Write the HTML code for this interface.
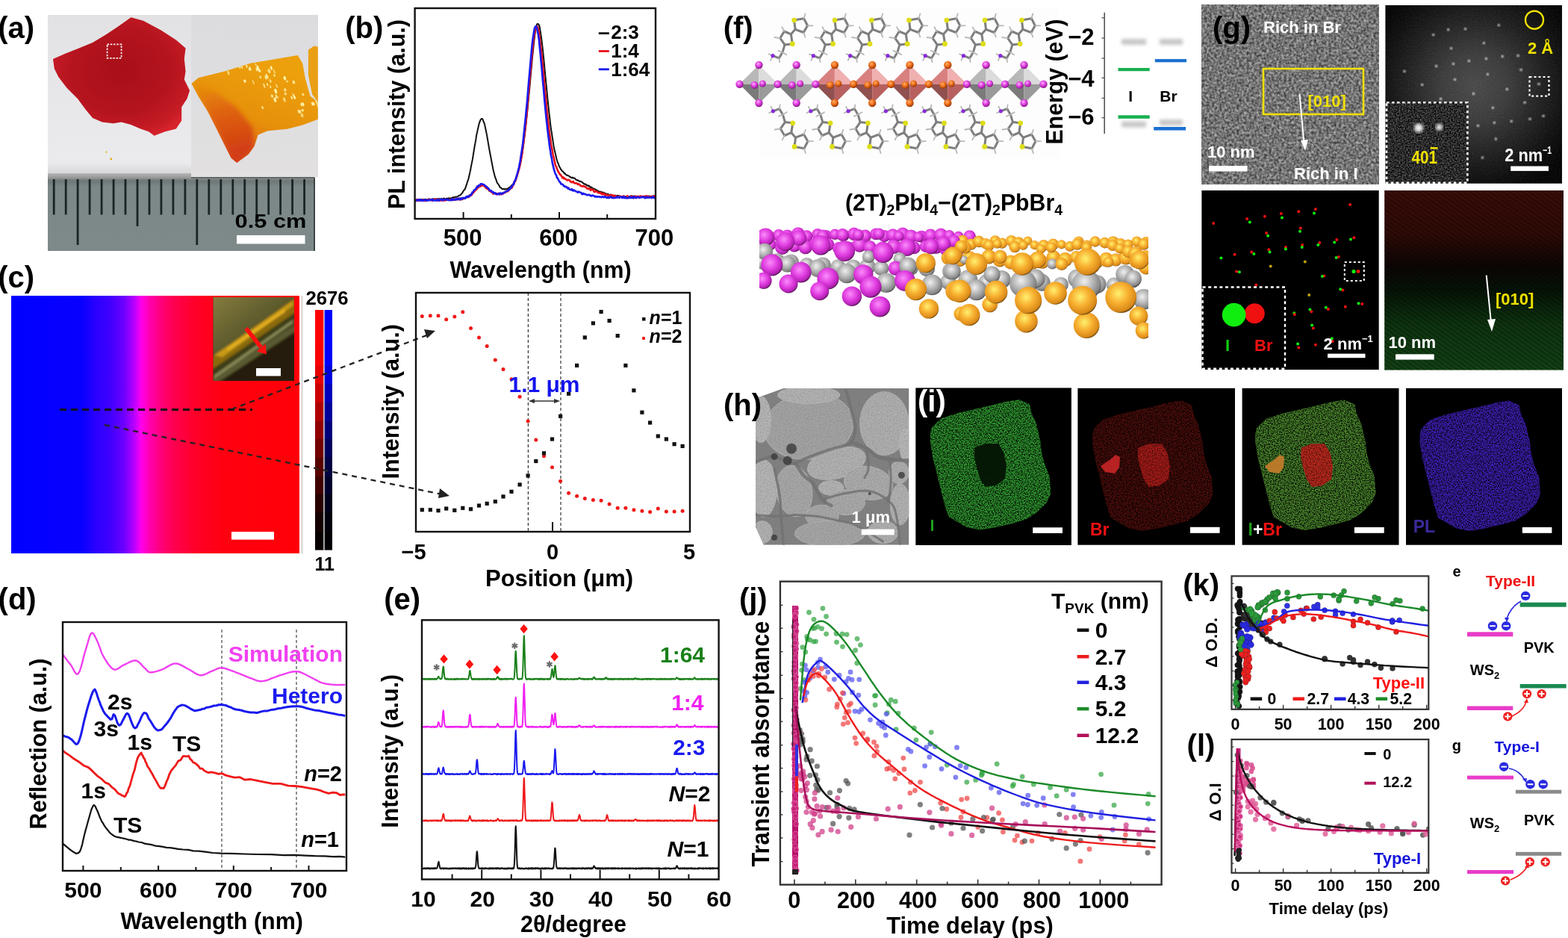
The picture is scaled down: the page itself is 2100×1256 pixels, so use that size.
<!DOCTYPE html>
<html><head><meta charset="utf-8"><title>Figure</title>
<style>html,body{margin:0;padding:0;background:#fff;}body{width:2100px;height:1256px;overflow:hidden;}
svg{display:block;} text{font-family:"Liberation Sans", Arial, sans-serif;font-weight:bold;}</style></head>
<body><svg width="2100" height="1256" viewBox="0 0 2100 1256">
<rect width="2100" height="1256" fill="#fff"/>
<text x="-2.8" y="51.4" font-size="40">(a)</text>
<defs><linearGradient id="paperL" x1="0" y1="0" x2="0" y2="1"><stop offset="0" stop-color="#e2e2e4"/><stop offset="0.6" stop-color="#e8e8ea"/><stop offset="0.93" stop-color="#ebebed"/><stop offset="1" stop-color="#d8d8da"/></linearGradient><linearGradient id="paperR" x1="0" y1="0" x2="0" y2="1"><stop offset="0" stop-color="#dcdcde"/><stop offset="0.5" stop-color="#dedee0"/><stop offset="1" stop-color="#e2e0e0"/></linearGradient><linearGradient id="orng" x1="0.6" y1="0.1" x2="0.25" y2="0.95"><stop offset="0" stop-color="#eca00c"/><stop offset="0.55" stop-color="#e6900a"/><stop offset="0.8" stop-color="#e07014"/><stop offset="1" stop-color="#d8401a"/></linearGradient><linearGradient id="orred" x1="0" y1="0" x2="0.3" y2="1"><stop offset="0" stop-color="#e06010" stop-opacity="0"/><stop offset="0.45" stop-color="#dc5212" stop-opacity="0.7"/><stop offset="1" stop-color="#d03c14" stop-opacity="0.95"/></linearGradient><radialGradient id="redg" cx="0.5" cy="0.45" r="0.6"><stop offset="0" stop-color="#a80f18"/><stop offset="0.6" stop-color="#b4141e"/><stop offset="0.9" stop-color="#c81c26"/><stop offset="1" stop-color="#d8242c"/></radialGradient><linearGradient id="rul" x1="0" y1="0" x2="0" y2="1"><stop offset="0" stop-color="#c8c6c6"/><stop offset="0.08" stop-color="#9a9a9a"/><stop offset="0.12" stop-color="#6e7676"/><stop offset="0.2" stop-color="#7c8888"/><stop offset="1" stop-color="#7e8a8a"/></linearGradient></defs>
<rect x="64.0" y="229.0" width="358.0" height="107.0" fill="url(#rul)"/>
<rect x="64.0" y="20.0" width="192.0" height="212.0" fill="url(#paperL)"/>
<rect x="256.0" y="20.0" width="170.0" height="217.5" fill="url(#paperR)"/>
<line x1="256.0" y1="237.8" x2="421.0" y2="237.8" stroke="#3a4444" stroke-width="1.2"/>
<polygon points="71.0,79.1 87.5,71.8 105.8,64.5 124.1,57.1 142.4,46.1 158.9,35.1 175.4,23.2 191.9,27.8 215.7,40.6 235.8,53.5 248.6,64.5 246.8,79.1 248.6,95.6 246.8,106.6 254.1,121.2 250.5,132.2 243.2,143.2 243.2,161.5 235.8,172.5 221.2,176.2 206.5,181.7 199.2,176.2 188.2,172.5 175.4,167.0 162.6,163.4 151.6,165.2 136.9,163.4 124.1,157.9 114.9,146.9 104.0,132.2 89.3,117.6 78.3,102.9 72.8,91.9" fill="url(#redg)"/>
<circle cx="142.4" cy="203.6" r="1.2" fill="#e0c020"/>
<circle cx="148.8" cy="212.8" r="1.5" fill="#e0b010"/>
<polygon points="256.5,112.0 265.5,104.2 301.7,95.2 335.3,84.8 366.4,79.6 398.7,74.0 405.2,84.8 409.0,105.5 415.5,128.8 425.8,136.5 425.8,159.8 405.2,167.6 384.5,172.7 358.6,175.3 345.7,180.5 340.5,196.0 332.8,206.4 317.2,218.0 309.5,211.5 301.7,196.0 291.4,175.3 278.4,149.5 265.5,128.8" fill="url(#orng)"/>
<polygon points="412.9,66.7 420.7,61.5 425.8,62.8 425.8,136.5 418.1,126.2 412.9,100.3" fill="#eaa014"/>
<clipPath id="corf"><polygon points="256.5,112.0 265.5,104.2 301.7,95.2 335.3,84.8 366.4,79.6 398.7,74.0 405.2,84.8 409.0,105.5 415.5,128.8 425.8,136.5 425.8,159.8 405.2,167.6 384.5,172.7 358.6,175.3 345.7,180.5 340.5,196.0 332.8,206.4 317.2,218.0 309.5,211.5 301.7,196.0 291.4,175.3 278.4,149.5 265.5,128.8"/></clipPath>
<filter id="bl3"><feGaussianBlur stdDeviation="3"/></filter>
<g clip-path="url(#corf)">
<polygon points="256.5,112.0 265.5,128.8 278.4,149.5 291.4,175.3 301.7,196.0 309.5,211.5 317.2,218.0 332.8,206.4 340.5,196.0 337.9,170.2 317.2,144.3 288.8,123.6 265.5,110.7" fill="url(#orred)" filter="url(#bl3)"/>
<ellipse cx="381.4" cy="104.7" rx="1.7" ry="2.9" fill="#fff6b0" opacity="0.92" transform="rotate(-20 381.4 104.7)"/>
<ellipse cx="305.9" cy="97.6" rx="1.4" ry="3.2" fill="#fff6b0" opacity="0.64" transform="rotate(-20 305.9 97.6)"/>
<ellipse cx="369.1" cy="131.3" rx="1.4" ry="1.6" fill="#fff6b0" opacity="0.68" transform="rotate(-20 369.1 131.3)"/>
<ellipse cx="367.4" cy="95.9" rx="1.0" ry="3.0" fill="#fff6b0" opacity="0.65" transform="rotate(-20 367.4 95.9)"/>
<ellipse cx="382.3" cy="125.6" rx="1.7" ry="2.0" fill="#fff6b0" opacity="0.68" transform="rotate(-20 382.3 125.6)"/>
<ellipse cx="419.9" cy="139.0" rx="1.8" ry="2.6" fill="#fff6b0" opacity="0.84" transform="rotate(-20 419.9 139.0)"/>
<ellipse cx="360.4" cy="95.2" rx="1.8" ry="3.2" fill="#fff6b0" opacity="0.70" transform="rotate(-20 360.4 95.2)"/>
<ellipse cx="362.3" cy="116.2" rx="0.9" ry="2.1" fill="#fff6b0" opacity="0.81" transform="rotate(-20 362.3 116.2)"/>
<ellipse cx="323.8" cy="80.7" rx="1.1" ry="3.1" fill="#fff6b0" opacity="0.77" transform="rotate(-20 323.8 80.7)"/>
<ellipse cx="339.3" cy="110.1" rx="0.9" ry="3.4" fill="#fff6b0" opacity="0.61" transform="rotate(-20 339.3 110.1)"/>
<ellipse cx="394.6" cy="130.8" rx="1.6" ry="2.3" fill="#fff6b0" opacity="0.80" transform="rotate(-20 394.6 130.8)"/>
<ellipse cx="334.6" cy="92.6" rx="1.8" ry="2.0" fill="#fff6b0" opacity="0.86" transform="rotate(-20 334.6 92.6)"/>
<ellipse cx="418.2" cy="139.1" rx="1.2" ry="2.5" fill="#fff6b0" opacity="0.87" transform="rotate(-20 418.2 139.1)"/>
<ellipse cx="336.9" cy="75.4" rx="1.7" ry="1.7" fill="#fff6b0" opacity="0.93" transform="rotate(-20 336.9 75.4)"/>
<ellipse cx="327.9" cy="108.6" rx="1.7" ry="2.2" fill="#fff6b0" opacity="0.92" transform="rotate(-20 327.9 108.6)"/>
<ellipse cx="372.1" cy="130.4" rx="1.0" ry="1.7" fill="#fff6b0" opacity="0.65" transform="rotate(-20 372.1 130.4)"/>
<ellipse cx="394.3" cy="129.1" rx="0.8" ry="3.4" fill="#fff6b0" opacity="0.79" transform="rotate(-20 394.3 129.1)"/>
<ellipse cx="364.4" cy="128.7" rx="1.6" ry="2.4" fill="#fff6b0" opacity="0.75" transform="rotate(-20 364.4 128.7)"/>
<ellipse cx="334.8" cy="91.7" rx="1.3" ry="3.1" fill="#fff6b0" opacity="0.65" transform="rotate(-20 334.8 91.7)"/>
<ellipse cx="405.8" cy="126.5" rx="1.6" ry="1.8" fill="#fff6b0" opacity="0.75" transform="rotate(-20 405.8 126.5)"/>
<ellipse cx="345.5" cy="90.4" rx="1.3" ry="3.4" fill="#fff6b0" opacity="0.90" transform="rotate(-20 345.5 90.4)"/>
<ellipse cx="401.9" cy="149.4" rx="1.5" ry="2.5" fill="#fff6b0" opacity="0.70" transform="rotate(-20 401.9 149.4)"/>
<ellipse cx="369.2" cy="122.0" rx="1.8" ry="3.3" fill="#fff6b0" opacity="0.82" transform="rotate(-20 369.2 122.0)"/>
<ellipse cx="369.1" cy="122.7" rx="1.1" ry="3.0" fill="#fff6b0" opacity="0.90" transform="rotate(-20 369.1 122.7)"/>
<ellipse cx="363.4" cy="91.0" rx="1.5" ry="2.8" fill="#fff6b0" opacity="0.87" transform="rotate(-20 363.4 91.0)"/>
<ellipse cx="357.2" cy="101.6" rx="1.3" ry="3.0" fill="#fff6b0" opacity="0.84" transform="rotate(-20 357.2 101.6)"/>
<ellipse cx="367.5" cy="101.1" rx="1.4" ry="1.6" fill="#fff6b0" opacity="0.79" transform="rotate(-20 367.5 101.1)"/>
<ellipse cx="344.2" cy="92.8" rx="1.6" ry="2.8" fill="#fff6b0" opacity="0.88" transform="rotate(-20 344.2 92.8)"/>
<ellipse cx="347.7" cy="94.8" rx="1.6" ry="2.2" fill="#fff6b0" opacity="0.90" transform="rotate(-20 347.7 94.8)"/>
<ellipse cx="393.4" cy="110.0" rx="1.8" ry="2.5" fill="#fff6b0" opacity="0.79" transform="rotate(-20 393.4 110.0)"/>
<ellipse cx="354.8" cy="76.0" rx="1.3" ry="2.8" fill="#fff6b0" opacity="0.85" transform="rotate(-20 354.8 76.0)"/>
<ellipse cx="400.3" cy="149.4" rx="1.4" ry="2.8" fill="#fff6b0" opacity="0.75" transform="rotate(-20 400.3 149.4)"/>
<ellipse cx="384.7" cy="109.1" rx="1.5" ry="1.6" fill="#fff6b0" opacity="0.66" transform="rotate(-20 384.7 109.1)"/>
<ellipse cx="362.1" cy="108.5" rx="1.5" ry="2.7" fill="#fff6b0" opacity="0.61" transform="rotate(-20 362.1 108.5)"/>
<ellipse cx="369.6" cy="120.7" rx="0.9" ry="2.2" fill="#fff6b0" opacity="0.66" transform="rotate(-20 369.6 120.7)"/>
<ellipse cx="355.9" cy="103.9" rx="1.2" ry="2.7" fill="#fff6b0" opacity="0.81" transform="rotate(-20 355.9 103.9)"/>
<ellipse cx="348.8" cy="103.3" rx="1.2" ry="2.1" fill="#fff6b0" opacity="0.74" transform="rotate(-20 348.8 103.3)"/>
<ellipse cx="342.6" cy="86.7" rx="0.8" ry="2.7" fill="#fff6b0" opacity="0.63" transform="rotate(-20 342.6 86.7)"/>
<ellipse cx="368.3" cy="134.0" rx="1.8" ry="3.1" fill="#fff6b0" opacity="0.75" transform="rotate(-20 368.3 134.0)"/>
<ellipse cx="392.8" cy="127.5" rx="0.9" ry="2.7" fill="#fff6b0" opacity="0.80" transform="rotate(-20 392.8 127.5)"/>
<ellipse cx="425.6" cy="141.3" rx="1.2" ry="3.2" fill="#fff6b0" opacity="0.60" transform="rotate(-20 425.6 141.3)"/>
<ellipse cx="324.0" cy="89.7" rx="0.9" ry="2.7" fill="#fff6b0" opacity="0.91" transform="rotate(-20 324.0 89.7)"/>
<ellipse cx="353.9" cy="114.8" rx="1.1" ry="3.4" fill="#fff6b0" opacity="0.73" transform="rotate(-20 353.9 114.8)"/>
<ellipse cx="424.0" cy="136.6" rx="1.1" ry="3.4" fill="#fff6b0" opacity="0.77" transform="rotate(-20 424.0 136.6)"/>
<ellipse cx="351.6" cy="144.1" rx="1.3" ry="2.1" fill="#fff6b0" opacity="0.77" transform="rotate(-20 351.6 144.1)"/>
<ellipse cx="330.2" cy="88.2" rx="1.1" ry="3.0" fill="#fff6b0" opacity="0.89" transform="rotate(-20 330.2 88.2)"/>
<ellipse cx="320.6" cy="88.9" rx="1.7" ry="3.0" fill="#fff6b0" opacity="0.69" transform="rotate(-20 320.6 88.9)"/>
<ellipse cx="368.6" cy="134.0" rx="1.1" ry="2.7" fill="#fff6b0" opacity="0.77" transform="rotate(-20 368.6 134.0)"/>
<ellipse cx="370.7" cy="115.0" rx="0.9" ry="3.0" fill="#fff6b0" opacity="0.71" transform="rotate(-20 370.7 115.0)"/>
<ellipse cx="370.0" cy="128.7" rx="1.3" ry="2.4" fill="#fff6b0" opacity="0.73" transform="rotate(-20 370.0 128.7)"/>
<ellipse cx="390.7" cy="130.7" rx="1.1" ry="2.4" fill="#fff6b0" opacity="0.92" transform="rotate(-20 390.7 130.7)"/>
<ellipse cx="404.0" cy="139.9" rx="1.6" ry="2.4" fill="#fff6b0" opacity="0.80" transform="rotate(-20 404.0 139.9)"/>
<ellipse cx="381.8" cy="120.4" rx="1.7" ry="2.3" fill="#fff6b0" opacity="0.74" transform="rotate(-20 381.8 120.4)"/>
<ellipse cx="405.3" cy="147.7" rx="1.6" ry="1.7" fill="#fff6b0" opacity="0.89" transform="rotate(-20 405.3 147.7)"/>
<ellipse cx="380.9" cy="133.4" rx="1.6" ry="3.2" fill="#fff6b0" opacity="0.65" transform="rotate(-20 380.9 133.4)"/>
<ellipse cx="358.1" cy="113.1" rx="1.1" ry="1.9" fill="#fff6b0" opacity="0.81" transform="rotate(-20 358.1 113.1)"/>
<ellipse cx="405.8" cy="139.7" rx="1.6" ry="3.0" fill="#fff6b0" opacity="0.83" transform="rotate(-20 405.8 139.7)"/>
<ellipse cx="324.9" cy="59.6" rx="1.8" ry="2.9" fill="#fff6b0" opacity="0.62" transform="rotate(-20 324.9 59.6)"/>
<ellipse cx="404.5" cy="154.4" rx="1.8" ry="2.9" fill="#fff6b0" opacity="0.65" transform="rotate(-20 404.5 154.4)"/>
<ellipse cx="358.4" cy="103.4" rx="1.4" ry="2.3" fill="#fff6b0" opacity="0.66" transform="rotate(-20 358.4 103.4)"/>
</g>
<rect x="143.6" y="59.3" width="19" height="18.5" fill="none" stroke="#f4e8e8" stroke-width="1.8" stroke-dasharray="2.6,1.6"/>
<line x1="421.0" y1="238.0" x2="421.0" y2="336.0" stroke="#2a3030" stroke-width="1.5"/>
<line x1="72.2" y1="240.0" x2="72.2" y2="287.5" stroke="#1a2424" stroke-width="2.8"/>
<line x1="88.2" y1="240.0" x2="88.2" y2="287.5" stroke="#1a2424" stroke-width="2.8"/>
<line x1="104.1" y1="240.0" x2="104.1" y2="328.0" stroke="#1a2424" stroke-width="2.8"/>
<line x1="120.1" y1="240.0" x2="120.1" y2="287.5" stroke="#1a2424" stroke-width="2.8"/>
<line x1="136.1" y1="240.0" x2="136.1" y2="287.5" stroke="#1a2424" stroke-width="2.8"/>
<line x1="152.1" y1="240.0" x2="152.1" y2="287.5" stroke="#1a2424" stroke-width="2.8"/>
<line x1="168.0" y1="240.0" x2="168.0" y2="287.5" stroke="#1a2424" stroke-width="2.8"/>
<line x1="184.0" y1="240.0" x2="184.0" y2="303.0" stroke="#1a2424" stroke-width="2.8"/>
<line x1="200.0" y1="240.0" x2="200.0" y2="287.5" stroke="#1a2424" stroke-width="2.8"/>
<line x1="215.9" y1="240.0" x2="215.9" y2="287.5" stroke="#1a2424" stroke-width="2.8"/>
<line x1="231.9" y1="240.0" x2="231.9" y2="287.5" stroke="#1a2424" stroke-width="2.8"/>
<line x1="247.9" y1="240.0" x2="247.9" y2="287.5" stroke="#1a2424" stroke-width="2.8"/>
<line x1="263.8" y1="240.0" x2="263.8" y2="328.0" stroke="#1a2424" stroke-width="2.8"/>
<line x1="279.8" y1="240.0" x2="279.8" y2="287.5" stroke="#1a2424" stroke-width="2.8"/>
<line x1="295.8" y1="240.0" x2="295.8" y2="287.5" stroke="#1a2424" stroke-width="2.8"/>
<line x1="311.8" y1="240.0" x2="311.8" y2="287.5" stroke="#1a2424" stroke-width="2.8"/>
<line x1="327.7" y1="240.0" x2="327.7" y2="287.5" stroke="#1a2424" stroke-width="2.8"/>
<line x1="343.7" y1="240.0" x2="343.7" y2="303.0" stroke="#1a2424" stroke-width="2.8"/>
<line x1="359.7" y1="240.0" x2="359.7" y2="287.5" stroke="#1a2424" stroke-width="2.8"/>
<line x1="375.6" y1="240.0" x2="375.6" y2="287.5" stroke="#1a2424" stroke-width="2.8"/>
<line x1="391.6" y1="240.0" x2="391.6" y2="287.5" stroke="#1a2424" stroke-width="2.8"/>
<line x1="407.6" y1="240.0" x2="407.6" y2="287.5" stroke="#1a2424" stroke-width="2.8"/>
<text x="314.5" y="305.3" font-size="26" textLength="96" lengthAdjust="spacingAndGlyphs">0.5 cm</text>
<rect x="317.0" y="315.0" width="91.5" height="11.5" fill="#fff"/>
<text x="462.2" y="51.4" font-size="40">(b)</text>
<clipPath id="cb"><rect x="555.6" y="11" width="322.4" height="282"/></clipPath>
<g clip-path="url(#cb)">
<polyline points="556.4,267.1 557.3,268.1 558.2,268.0 559.1,267.2 560.0,267.6 560.9,267.5 561.8,267.7 562.7,267.9 563.6,266.9 564.5,266.8 565.4,267.9 566.3,267.3 567.2,267.8 568.1,266.7 569.0,267.3 569.9,267.6 570.8,266.9 571.7,267.9 572.6,267.8 573.5,266.5 574.4,266.5 575.3,267.2 576.2,267.7 577.1,266.9 578.0,266.6 578.9,266.9 579.8,266.3 580.7,266.5 581.6,266.8 582.5,266.8 583.4,266.4 584.3,266.4 585.2,266.3 586.1,266.6 587.0,266.3 587.9,265.9 588.8,267.0 589.7,266.5 590.6,266.6 591.5,265.9 592.4,266.9 593.3,266.7 594.1,265.6 595.0,265.8 595.9,266.3 596.8,266.2 597.7,266.4 598.6,265.6 599.5,266.1 600.4,265.8 601.3,265.2 602.2,265.5 603.1,265.8 604.0,265.6 604.9,265.0 605.8,265.0 606.7,264.0 607.6,264.2 608.5,264.8 609.4,264.0 610.3,263.4 611.2,263.7 612.1,263.6 613.0,263.2 613.9,262.4 614.8,262.0 615.7,261.5 616.6,261.3 617.5,260.2 618.4,259.1 619.3,258.2 620.2,256.4 621.1,255.0 622.0,254.3 622.9,252.9 623.8,250.3 624.7,247.6 625.6,244.7 626.5,242.2 627.4,239.6 628.3,235.8 629.2,231.6 630.1,227.8 631.0,222.4 631.9,218.1 632.8,213.7 633.7,208.0 634.6,202.5 635.5,196.8 636.4,191.9 637.3,187.1 638.2,180.7 639.1,176.9 640.0,172.6 640.9,168.7 641.8,165.1 642.7,162.6 643.6,160.3 644.5,159.3 645.4,159.0 646.3,159.2 647.2,161.9 648.1,163.8 649.0,166.4 649.9,170.5 650.8,174.7 651.7,179.1 652.6,184.0 653.5,189.3 654.4,194.6 655.3,199.8 656.2,204.7 657.1,209.1 658.0,214.2 658.9,218.7 659.8,223.6 660.7,228.0 661.6,231.6 662.5,235.0 663.4,238.1 664.3,240.0 665.2,243.2 666.1,245.1 667.0,246.1 667.9,247.6 668.8,248.9 669.6,251.0 670.5,251.2 671.4,251.7 672.3,253.0 673.2,253.0 674.1,252.9 675.0,253.1 675.9,253.7 676.8,253.1 677.7,253.1 678.6,253.5 679.5,252.8 680.4,252.2 681.3,251.9 682.2,250.7 683.1,250.5 684.0,249.8 684.9,248.6 685.8,247.5 686.7,247.4 687.6,245.6 688.5,243.7 689.4,242.6 690.3,241.0 691.2,237.8 692.1,235.5 693.0,233.1 693.9,230.9 694.8,226.9 695.7,224.1 696.6,220.0 697.5,215.5 698.4,210.2 699.3,206.0 700.2,200.0 701.1,193.4 702.0,186.3 702.9,179.7 703.8,171.8 704.7,163.9 705.6,155.1 706.5,146.6 707.4,136.6 708.3,127.4 709.2,118.6 710.1,108.6 711.0,97.9 711.9,88.9 712.8,78.5 713.7,70.2 714.6,61.4 715.5,53.1 716.4,45.9 717.3,39.8 718.2,36.6 719.1,32.4 720.0,32.0 720.9,32.2 721.8,33.3 722.7,35.9 723.6,41.3 724.5,47.2 725.4,53.6 726.3,61.0 727.2,69.2 728.1,77.9 729.0,86.9 729.9,96.9 730.8,105.9 731.7,114.9 732.6,123.9 733.5,133.6 734.4,141.6 735.3,150.1 736.2,157.7 737.1,165.8 738.0,172.8 738.9,178.0 739.8,184.2 740.7,189.9 741.6,195.9 742.5,200.3 743.4,203.9 744.2,207.5 745.1,211.5 746.0,214.8 746.9,217.7 747.8,219.3 748.7,222.2 749.6,223.9 750.5,225.3 751.4,227.4 752.3,227.7 753.2,229.6 754.1,229.7 755.0,230.7 755.9,232.6 756.8,232.3 757.7,233.7 758.6,234.1 759.5,235.0 760.4,234.8 761.3,235.3 762.2,235.7 763.1,236.9 764.0,236.9 764.9,237.8 765.8,238.2 766.7,237.5 767.6,238.5 768.5,238.3 769.4,238.6 770.3,239.1 771.2,240.6 772.1,240.9 773.0,241.4 773.9,241.2 774.8,242.0 775.7,242.7 776.6,242.6 777.5,243.3 778.4,243.3 779.3,243.6 780.2,244.3 781.1,245.7 782.0,245.7 782.9,246.7 783.8,246.6 784.7,246.8 785.6,248.1 786.5,248.6 787.4,248.0 788.3,249.4 789.2,249.1 790.1,249.6 791.0,251.2 791.9,250.5 792.8,251.3 793.7,252.8 794.6,252.4 795.5,252.5 796.4,253.0 797.3,253.6 798.2,254.7 799.1,254.2 800.0,255.8 800.9,255.4 801.8,256.6 802.7,256.9 803.6,256.4 804.5,256.7 805.4,257.4 806.3,257.2 807.2,258.3 808.1,257.7 809.0,258.0 809.9,259.6 810.8,258.9 811.7,259.6 812.6,259.7 813.5,259.7 814.4,259.6 815.3,261.0 816.2,261.3 817.1,261.5 818.0,260.4 818.8,260.8 819.7,261.5 820.6,262.1 821.5,261.7 822.4,262.0 823.3,262.1 824.2,261.7 825.1,262.2 826.0,261.9 826.9,262.0 827.8,261.8 828.7,262.2 829.6,263.2 830.5,262.6 831.4,262.9 832.3,263.0 833.2,263.4 834.1,262.7 835.0,262.6 835.9,262.7 836.8,262.7 837.7,263.5 838.6,263.6 839.5,262.8 840.4,262.9 841.3,263.2 842.2,263.3 843.1,263.3 844.0,262.8 844.9,262.5 845.8,262.8 846.7,262.6 847.6,263.3 848.5,262.6 849.4,262.6 850.3,263.4 851.2,262.9 852.1,263.6 853.0,263.2 853.9,263.7 854.8,262.8 855.7,263.2 856.6,263.6 857.5,262.6 858.4,263.8 859.3,262.8 860.2,263.6 861.1,263.9 862.0,263.6 862.9,262.9 863.8,262.6 864.7,263.2 865.6,263.7 866.5,262.9 867.4,263.7 868.3,262.6 869.2,263.7 870.1,262.4 871.0,262.8 871.9,263.6 872.8,263.5 873.7,263.6 874.6,263.5 875.5,263.4 876.4,263.3 877.3,262.5" fill="none" stroke="#111" stroke-width="2.0" stroke-linejoin="round"/>
<polyline points="556.4,269.1 557.3,269.1 558.2,267.1 559.1,267.2 560.0,268.8 560.9,268.6 561.8,268.4 562.7,267.6 563.6,268.3 564.5,268.3 565.4,268.2 566.3,267.3 567.2,267.8 568.1,267.8 569.0,268.5 569.9,269.0 570.8,268.9 571.7,268.0 572.6,267.8 573.5,267.4 574.4,266.9 575.3,266.8 576.2,267.8 577.1,267.4 578.0,267.6 578.9,268.7 579.8,267.8 580.7,267.9 581.6,267.2 582.5,266.7 583.4,267.3 584.3,266.9 585.2,267.7 586.1,268.8 587.0,268.0 587.9,266.9 588.8,268.5 589.7,268.2 590.6,268.1 591.5,268.4 592.4,268.1 593.3,268.1 594.1,267.1 595.0,268.5 595.9,268.4 596.8,266.6 597.7,267.9 598.6,267.8 599.5,267.2 600.4,267.3 601.3,267.2 602.2,268.1 603.1,267.1 604.0,267.8 604.9,266.7 605.8,267.9 606.7,267.9 607.6,266.8 608.5,267.0 609.4,267.8 610.3,267.3 611.2,266.7 612.1,266.1 613.0,266.2 613.9,267.0 614.8,265.7 615.7,267.3 616.6,265.8 617.5,267.1 618.4,265.6 619.3,266.9 620.2,266.2 621.1,265.5 622.0,265.4 622.9,265.4 623.8,265.0 624.7,264.0 625.6,263.4 626.5,263.7 627.4,264.1 628.3,262.9 629.2,261.1 630.1,262.1 631.0,261.1 631.9,260.7 632.8,258.3 633.7,258.6 634.6,256.1 635.5,256.5 636.4,254.6 637.3,253.5 638.2,253.9 639.1,251.3 640.0,251.3 640.9,251.2 641.8,249.1 642.7,248.5 643.6,249.5 644.5,248.2 645.4,248.7 646.3,247.3 647.2,248.3 648.1,248.3 649.0,249.9 649.9,249.2 650.8,251.9 651.7,250.6 652.6,253.0 653.5,252.2 654.4,253.6 655.3,255.6 656.2,254.9 657.1,255.7 658.0,257.5 658.9,257.4 659.8,257.1 660.7,259.7 661.6,258.2 662.5,258.3 663.4,259.2 664.3,260.0 665.2,260.4 666.1,259.1 667.0,259.6 667.9,258.9 668.8,259.8 669.6,260.3 670.5,260.1 671.4,260.3 672.3,259.7 673.2,259.7 674.1,259.1 675.0,258.2 675.9,257.3 676.8,257.9 677.7,256.7 678.6,255.7 679.5,255.9 680.4,256.3 681.3,254.0 682.2,254.2 683.1,253.0 684.0,252.4 684.9,250.6 685.8,251.3 686.7,248.5 687.6,247.8 688.5,245.9 689.4,243.2 690.3,242.4 691.2,239.2 692.1,236.5 693.0,233.7 693.9,230.8 694.8,227.2 695.7,224.5 696.6,219.9 697.5,216.1 698.4,210.8 699.3,205.2 700.2,197.3 701.1,191.0 702.0,183.3 702.9,176.3 703.8,168.1 704.7,159.7 705.6,150.4 706.5,139.8 707.4,130.3 708.3,120.4 709.2,109.1 710.1,98.9 711.0,89.6 711.9,79.1 712.8,71.1 713.7,61.3 714.6,53.2 715.5,46.7 716.4,41.4 717.3,37.5 718.2,35.8 719.1,35.1 720.0,35.9 720.9,39.4 721.8,42.8 722.7,50.1 723.6,57.1 724.5,64.5 725.4,72.6 726.3,82.0 727.2,91.7 728.1,100.3 729.0,111.0 729.9,120.9 730.8,129.7 731.7,138.8 732.6,149.3 733.5,156.8 734.4,165.2 735.3,173.6 736.2,180.0 737.1,185.8 738.0,193.4 738.9,197.6 739.8,201.9 740.7,207.9 741.6,210.8 742.5,214.9 743.4,219.4 744.2,222.0 745.1,223.1 746.0,226.4 746.9,228.3 747.8,230.3 748.7,231.2 749.6,233.4 750.5,233.5 751.4,235.0 752.3,236.1 753.2,238.2 754.1,237.0 755.0,239.1 755.9,238.4 756.8,239.8 757.7,239.9 758.6,240.4 759.5,241.5 760.4,241.1 761.3,240.8 762.2,241.2 763.1,241.4 764.0,243.4 764.9,243.3 765.8,244.3 766.7,244.1 767.6,242.9 768.5,244.6 769.4,245.2 770.3,245.4 771.2,245.3 772.1,245.3 773.0,245.9 773.9,247.0 774.8,246.2 775.7,247.1 776.6,247.4 777.5,248.8 778.4,248.9 779.3,249.5 780.2,249.7 781.1,248.9 782.0,249.2 782.9,250.1 783.8,250.0 784.7,250.8 785.6,251.7 786.5,252.7 787.4,252.3 788.3,253.2 789.2,252.0 790.1,253.0 791.0,254.8 791.9,253.3 792.8,254.3 793.7,253.9 794.6,254.3 795.5,256.5 796.4,257.0 797.3,256.6 798.2,255.8 799.1,256.5 800.0,256.7 800.9,258.0 801.8,258.3 802.7,258.1 803.6,258.6 804.5,257.9 805.4,259.1 806.3,260.3 807.2,260.1 808.1,258.9 809.0,260.1 809.9,260.7 810.8,259.9 811.7,261.5 812.6,260.8 813.5,261.5 814.4,261.0 815.3,262.5 816.2,262.2 817.1,261.9 818.0,261.1 818.8,261.8 819.7,261.1 820.6,262.4 821.5,263.2 822.4,261.7 823.3,262.5 824.2,262.6 825.1,262.5 826.0,263.2 826.9,263.8 827.8,263.4 828.7,262.9 829.6,264.1 830.5,262.7 831.4,263.7 832.3,263.5 833.2,263.8 834.1,264.0 835.0,262.7 835.9,263.6 836.8,263.1 837.7,263.7 838.6,264.4 839.5,263.7 840.4,262.4 841.3,263.4 842.2,263.9 843.1,264.3 844.0,263.8 844.9,264.2 845.8,262.4 846.7,264.5 847.6,264.0 848.5,263.7 849.4,264.4 850.3,264.3 851.2,262.6 852.1,264.2 853.0,264.1 853.9,262.8 854.8,264.0 855.7,263.6 856.6,262.8 857.5,264.1 858.4,262.6 859.3,263.7 860.2,263.3 861.1,262.9 862.0,263.5 862.9,263.3 863.8,262.7 864.7,264.4 865.6,262.4 866.5,262.2 867.4,263.3 868.3,264.1 869.2,263.6 870.1,263.8 871.0,263.2 871.9,263.6 872.8,262.9 873.7,262.7 874.6,263.2 875.5,262.2 876.4,262.3 877.3,263.7" fill="none" stroke="#e8101a" stroke-width="2.6" stroke-linejoin="round"/>
<polyline points="556.4,267.6 557.3,268.2 558.2,267.9 559.1,268.3 560.0,268.4 560.9,267.2 561.8,267.1 562.7,268.7 563.6,267.6 564.5,267.5 565.4,269.0 566.3,268.0 567.2,268.7 568.1,267.9 569.0,268.3 569.9,267.3 570.8,268.2 571.7,268.7 572.6,268.0 573.5,268.4 574.4,268.2 575.3,267.0 576.2,268.4 577.1,268.0 578.0,267.4 578.9,266.9 579.8,268.5 580.7,267.7 581.6,268.2 582.5,268.5 583.4,268.1 584.3,268.5 585.2,267.5 586.1,268.3 587.0,267.5 587.9,268.5 588.8,268.4 589.7,266.8 590.6,266.8 591.5,267.0 592.4,268.4 593.3,267.3 594.1,267.7 595.0,267.0 595.9,267.4 596.8,267.1 597.7,267.0 598.6,267.5 599.5,267.4 600.4,268.0 601.3,267.6 602.2,268.0 603.1,267.8 604.0,268.1 604.9,267.4 605.8,266.3 606.7,267.7 607.6,267.8 608.5,267.7 609.4,266.9 610.3,267.2 611.2,266.1 612.1,267.3 613.0,266.7 613.9,266.1 614.8,265.5 615.7,267.0 616.6,267.2 617.5,265.3 618.4,266.6 619.3,265.6 620.2,264.9 621.1,265.0 622.0,265.7 622.9,265.6 623.8,263.7 624.7,264.5 625.6,262.9 626.5,263.8 627.4,262.5 628.3,263.0 629.2,262.5 630.1,260.8 631.0,261.0 631.9,258.7 632.8,257.3 633.7,257.3 634.6,255.1 635.5,254.4 636.4,253.7 637.3,253.0 638.2,250.9 639.1,249.6 640.0,250.3 640.9,248.3 641.8,248.7 642.7,248.0 643.6,246.4 644.5,246.3 645.4,246.3 646.3,246.7 647.2,246.9 648.1,247.2 649.0,248.0 649.9,249.3 650.8,249.3 651.7,250.0 652.6,251.5 653.5,251.5 654.4,252.5 655.3,254.8 656.2,254.7 657.1,255.6 658.0,255.3 658.9,256.8 659.8,257.7 660.7,257.1 661.6,258.7 662.5,259.1 663.4,258.3 664.3,259.7 665.2,259.5 666.1,260.0 667.0,259.4 667.9,260.1 668.8,260.1 669.6,258.6 670.5,258.5 671.4,259.5 672.3,259.9 673.2,258.2 674.1,258.3 675.0,258.2 675.9,257.3 676.8,257.0 677.7,256.4 678.6,256.0 679.5,255.9 680.4,254.7 681.3,254.1 682.2,254.1 683.1,251.8 684.0,251.9 684.9,251.2 685.8,249.1 686.7,247.6 687.6,247.2 688.5,244.3 689.4,242.3 690.3,240.6 691.2,238.6 692.1,234.6 693.0,231.9 693.9,228.4 694.8,225.5 695.7,220.4 696.6,216.4 697.5,209.7 698.4,204.2 699.3,198.5 700.2,192.1 701.1,183.8 702.0,175.3 702.9,166.6 703.8,158.5 704.7,148.4 705.6,139.8 706.5,129.7 707.4,118.0 708.3,107.6 709.2,98.2 710.1,87.5 711.0,77.9 711.9,67.5 712.8,58.5 713.7,51.2 714.6,45.8 715.5,39.8 716.4,36.7 717.3,35.3 718.2,35.6 719.1,37.6 720.0,42.5 720.9,46.3 721.8,52.7 722.7,62.5 723.6,71.2 724.5,80.8 725.4,89.7 726.3,100.9 727.2,111.2 728.1,120.0 729.0,131.2 729.9,141.1 730.8,150.3 731.7,159.0 732.6,167.1 733.5,175.3 734.4,182.6 735.3,189.2 736.2,196.7 737.1,202.1 738.0,208.5 738.9,211.9 739.8,218.1 740.7,221.6 741.6,225.7 742.5,228.8 743.4,231.7 744.2,233.5 745.1,234.6 746.0,238.1 746.9,238.7 747.8,240.5 748.7,242.6 749.6,243.5 750.5,244.4 751.4,246.4 752.3,246.6 753.2,246.8 754.1,247.4 755.0,249.2 755.9,249.1 756.8,250.3 757.7,249.9 758.6,250.1 759.5,251.3 760.4,252.3 761.3,251.5 762.2,253.1 763.1,253.8 764.0,254.0 764.9,254.4 765.8,253.1 766.7,254.8 767.6,255.6 768.5,254.3 769.4,255.1 770.3,255.5 771.2,256.3 772.1,256.5 773.0,256.9 773.9,257.8 774.8,256.6 775.7,257.0 776.6,257.4 777.5,257.7 778.4,257.9 779.3,260.0 780.2,260.0 781.1,258.8 782.0,259.9 782.9,259.7 783.8,260.0 784.7,260.3 785.6,261.1 786.5,261.2 787.4,260.9 788.3,260.8 789.2,261.2 790.1,261.0 791.0,262.1 791.9,262.5 792.8,262.0 793.7,261.6 794.6,261.9 795.5,262.4 796.4,263.0 797.3,263.5 798.2,262.8 799.1,263.7 800.0,263.5 800.9,263.2 801.8,263.2 802.7,263.5 803.6,264.0 804.5,263.5 805.4,264.1 806.3,263.7 807.2,263.3 808.1,264.0 809.0,264.3 809.9,263.1 810.8,263.9 811.7,263.9 812.6,264.9 813.5,265.0 814.4,263.9 815.3,265.0 816.2,264.8 817.1,263.8 818.0,264.2 818.8,263.6 819.7,265.0 820.6,264.7 821.5,265.1 822.4,265.0 823.3,264.7 824.2,264.9 825.1,264.5 826.0,263.6 826.9,264.6 827.8,263.5 828.7,263.7 829.6,265.0 830.5,263.6 831.4,263.7 832.3,263.7 833.2,265.2 834.1,263.8 835.0,263.5 835.9,265.2 836.8,263.7 837.7,265.2 838.6,264.8 839.5,265.2 840.4,265.4 841.3,264.6 842.2,265.1 843.1,263.6 844.0,265.0 844.9,264.5 845.8,264.9 846.7,263.7 847.6,265.0 848.5,265.3 849.4,263.6 850.3,264.1 851.2,264.6 852.1,265.1 853.0,263.9 853.9,263.8 854.8,263.9 855.7,264.7 856.6,264.9 857.5,264.2 858.4,264.1 859.3,264.2 860.2,264.1 861.1,264.2 862.0,263.5 862.9,264.4 863.8,265.3 864.7,264.2 865.6,264.8 866.5,263.7 867.4,264.7 868.3,264.8 869.2,264.6 870.1,264.3 871.0,264.2 871.9,264.6 872.8,265.1 873.7,263.6 874.6,263.4 875.5,264.7 876.4,265.1 877.3,264.2" fill="none" stroke="#1a1aee" stroke-width="2.6" stroke-linejoin="round"/>
</g>
<rect x="555.6" y="11" width="322.4" height="282" fill="none" stroke="#111" stroke-width="2.4"/>
<line x1="620.6" y1="293.0" x2="620.6" y2="284.0" stroke="#111" stroke-width="2"/>
<line x1="684.8" y1="293.0" x2="684.8" y2="287.0" stroke="#111" stroke-width="2"/>
<line x1="749.0" y1="293.0" x2="749.0" y2="284.0" stroke="#111" stroke-width="2"/>
<line x1="813.2" y1="293.0" x2="813.2" y2="287.0" stroke="#111" stroke-width="2"/>
<text x="619.6" y="329.0" font-size="31" text-anchor="middle">500</text>
<text x="748.0" y="329.0" font-size="31" text-anchor="middle">600</text>
<text x="876.4" y="329.0" font-size="31" text-anchor="middle">700</text>
<text x="724.0" y="371.7" font-size="31" text-anchor="middle" textLength="243" lengthAdjust="spacingAndGlyphs">Wavelength (nm)</text>
<text x="541.5" y="153.0" font-size="31.5" text-anchor="middle" textLength="254" lengthAdjust="spacingAndGlyphs" transform="rotate(-90 541.5 153.0)">PL intensity (a.u.)</text>
<line x1="801.8" y1="44.6" x2="815.8" y2="44.6" stroke="#111" stroke-width="2.8"/>
<text x="818.2" y="52.0" font-size="26">2:3</text>
<line x1="801.8" y1="68.5" x2="815.8" y2="68.5" stroke="#e8101a" stroke-width="2.8"/>
<text x="818.2" y="76.6" font-size="26">1:4</text>
<line x1="801.8" y1="92.8" x2="815.8" y2="92.8" stroke="#1a1aee" stroke-width="2.8"/>
<text x="818.2" y="102.4" font-size="26">1:64</text>
<text x="-2.8" y="384.6" font-size="40">(c)</text>
<defs><linearGradient id="cmap" x1="0" y1="0" x2="1" y2="0"><stop offset="0.0000" stop-color="#0000ff"/><stop offset="0.2461" stop-color="#0800ff"/><stop offset="0.2927" stop-color="#2a00ff"/><stop offset="0.3446" stop-color="#4000ff"/><stop offset="0.3938" stop-color="#7000ff"/><stop offset="0.4301" stop-color="#c000ff"/><stop offset="0.4508" stop-color="#ff00ee"/><stop offset="0.4793" stop-color="#ff00b0"/><stop offset="0.5285" stop-color="#ff0070"/><stop offset="0.5648" stop-color="#ff0050"/><stop offset="0.6399" stop-color="#ff0028"/><stop offset="0.7383" stop-color="#ff0010"/><stop offset="1.0000" stop-color="#ff0008"/></linearGradient><linearGradient id="cbR" x1="0" y1="0" x2="0" y2="1"><stop offset="0" stop-color="#ff0000"/><stop offset="0.2" stop-color="#f00000"/><stop offset="0.45" stop-color="#a00000"/><stop offset="0.7" stop-color="#500000"/><stop offset="0.88" stop-color="#200000"/><stop offset="1" stop-color="#000"/></linearGradient><linearGradient id="cbB" x1="0" y1="0" x2="0" y2="1"><stop offset="0" stop-color="#0000ff"/><stop offset="0.25" stop-color="#0000e0"/><stop offset="0.5" stop-color="#0000a0"/><stop offset="0.72" stop-color="#000050"/><stop offset="0.9" stop-color="#000018"/><stop offset="1" stop-color="#000"/></linearGradient><linearGradient id="insetg" x1="0" y1="0" x2="1" y2="1"><stop offset="0" stop-color="#7a6a30"/><stop offset="0.45" stop-color="#8a7020"/><stop offset="0.6" stop-color="#3a3010"/><stop offset="1" stop-color="#2a2008"/></linearGradient></defs>
<rect x="15.0" y="396.0" width="386.0" height="345.0" fill="url(#cmap)"/>
<line x1="404.5" y1="396.0" x2="404.5" y2="741.0" stroke="#c8c8c8" stroke-width="1.5"/>
<defs><linearGradient id="insTL" x1="0" y1="0" x2="1" y2="1"><stop offset="0" stop-color="#8a8040"/><stop offset="0.5" stop-color="#5c5a2c"/><stop offset="1" stop-color="#4a4420"/></linearGradient><filter id="bl15"><feGaussianBlur stdDeviation="1.5"/></filter></defs>
<rect x="285.6" y="398.0" width="108.4" height="112.0" fill="#2a2008"/>
<clipPath id="cins"><rect x="285.6" y="398" width="108.4" height="112"/></clipPath><g clip-path="url(#cins)"><g filter="url(#bl15)">
<polygon points="281.1,391.1 398.2,391.1 398.2,396.7 281.1,480.3" fill="url(#insTL)"/>
<polygon points="281.1,480.3 398.2,396.7 398.2,416.8 281.1,497.1" fill="#8a6a10"/>
<polygon points="286.7,475.9 392.6,402.3 392.6,409.0 297.9,478.1" fill="#c89a18"/>
<polygon points="303.4,467.0 381.5,413.4 381.5,417.9 305.7,469.2" fill="#e8b020"/>
<polygon points="281.1,497.1 398.2,416.8 398.2,432.4 281.1,508.2" fill="#3c3c18"/>
<polygon points="281.1,508.2 398.2,432.4 398.2,442.4 281.1,519.4" fill="#5a5a30"/>
<polygon points="286.7,502.6 392.6,427.9 392.6,432.4 286.7,507.1" fill="#8a8a58"/>
<polygon points="281.1,519.4 398.2,442.4 398.2,524.9 281.1,524.9" fill="#261e08"/>
</g></g>
<line x1="329.5" y1="439.5" x2="349.5" y2="465.0" stroke="#ff1010" stroke-width="5.5"/>
<polygon points="357.0,474.5 344.0,470.5 355.5,460.5" fill="#ff1010"/>
<rect x="343.0" y="493.0" width="33.0" height="10.5" fill="#fff"/>
<rect x="310.0" y="712.0" width="57.0" height="10.6" fill="#fff"/>
<rect x="422.0" y="415.0" width="11.5" height="25.3" fill="rgb(255,0,0)"/>
<rect x="434.5" y="415.0" width="10.5" height="25.3" fill="rgb(0,0,255)"/>
<rect x="422.0" y="439.7" width="11.5" height="25.3" fill="rgb(255,0,0)"/>
<rect x="434.5" y="439.7" width="10.5" height="25.3" fill="rgb(0,0,255)"/>
<rect x="422.0" y="464.4" width="11.5" height="25.3" fill="rgb(250,0,0)"/>
<rect x="434.5" y="464.4" width="10.5" height="25.3" fill="rgb(0,0,248)"/>
<rect x="422.0" y="489.1" width="11.5" height="25.3" fill="rgb(232,0,0)"/>
<rect x="434.5" y="489.1" width="10.5" height="25.3" fill="rgb(0,0,222)"/>
<rect x="422.0" y="513.8" width="11.5" height="25.3" fill="rgb(205,0,0)"/>
<rect x="434.5" y="513.8" width="10.5" height="25.3" fill="rgb(0,0,190)"/>
<rect x="422.0" y="538.5" width="11.5" height="25.3" fill="rgb(175,0,0)"/>
<rect x="434.5" y="538.5" width="10.5" height="25.3" fill="rgb(0,0,155)"/>
<rect x="422.0" y="563.2" width="11.5" height="25.3" fill="rgb(145,0,0)"/>
<rect x="434.5" y="563.2" width="10.5" height="25.3" fill="rgb(0,0,122)"/>
<rect x="422.0" y="587.8" width="11.5" height="25.3" fill="rgb(115,0,0)"/>
<rect x="434.5" y="587.8" width="10.5" height="25.3" fill="rgb(0,0,92)"/>
<rect x="422.0" y="612.5" width="11.5" height="25.3" fill="rgb(88,0,0)"/>
<rect x="434.5" y="612.5" width="10.5" height="25.3" fill="rgb(0,0,66)"/>
<rect x="422.0" y="637.2" width="11.5" height="25.3" fill="rgb(62,0,0)"/>
<rect x="434.5" y="637.2" width="10.5" height="25.3" fill="rgb(0,0,44)"/>
<rect x="422.0" y="661.9" width="11.5" height="25.3" fill="rgb(40,0,0)"/>
<rect x="434.5" y="661.9" width="10.5" height="25.3" fill="rgb(0,0,26)"/>
<rect x="422.0" y="686.6" width="11.5" height="25.3" fill="rgb(20,0,0)"/>
<rect x="434.5" y="686.6" width="10.5" height="25.3" fill="rgb(0,0,12)"/>
<rect x="422.0" y="711.3" width="11.5" height="25.3" fill="rgb(8,0,0)"/>
<rect x="434.5" y="711.3" width="10.5" height="25.3" fill="rgb(0,0,4)"/>
<line x1="433.9" y1="415.0" x2="433.9" y2="736.0" stroke="#c8c8c8" stroke-width="1"/>
<text x="409.5" y="407.5" font-size="25.7">2676</text>
<text x="421.5" y="764.0" font-size="25">11</text>
<line x1="80.0" y1="548.5" x2="338.0" y2="548.5" stroke="#111" stroke-width="3.2" stroke-dasharray="9,6"/>
<line x1="310.0" y1="548.0" x2="574.0" y2="448.0" stroke="#222" stroke-width="2.3" stroke-dasharray="7,6"/>
<line x1="140.0" y1="569.0" x2="592.0" y2="662.0" stroke="#222" stroke-width="2.3" stroke-dasharray="7,6"/>
<polygon points="583.0,443.0 568.0,441.0 572.0,453.0" fill="#222"/>
<polygon points="602.0,664.0 589.0,654.0 587.0,667.0" fill="#222"/>
<line x1="707.4" y1="392.0" x2="707.4" y2="712.0" stroke="#333" stroke-width="1.2" stroke-dasharray="4,3"/>
<line x1="751.0" y1="392.0" x2="751.0" y2="712.0" stroke="#333" stroke-width="1.2" stroke-dasharray="4,3"/>
<line x1="740.0" y1="712.0" x2="740.0" y2="699.0" stroke="#111" stroke-width="2"/>
<circle cx="565.3" cy="423.5" r="2.5" fill="#f01818"/>
<circle cx="576.3" cy="422.8" r="2.5" fill="#f01818"/>
<circle cx="587.0" cy="422.8" r="2.5" fill="#f01818"/>
<circle cx="597.7" cy="427.8" r="2.5" fill="#f01818"/>
<circle cx="608.8" cy="424.1" r="2.5" fill="#f01818"/>
<circle cx="619.8" cy="417.8" r="2.5" fill="#f01818"/>
<circle cx="630.5" cy="439.5" r="2.5" fill="#f01818"/>
<circle cx="641.5" cy="451.9" r="2.5" fill="#f01818"/>
<circle cx="652.2" cy="463.6" r="2.5" fill="#f01818"/>
<circle cx="663.3" cy="482.0" r="2.5" fill="#f01818"/>
<circle cx="674.0" cy="494.4" r="2.5" fill="#f01818"/>
<circle cx="685.0" cy="507.8" r="2.5" fill="#f01818"/>
<circle cx="696.1" cy="531.2" r="2.5" fill="#f01818"/>
<circle cx="707.1" cy="563.9" r="2.5" fill="#f01818"/>
<circle cx="717.8" cy="589.0" r="2.5" fill="#f01818"/>
<circle cx="728.5" cy="610.8" r="2.5" fill="#f01818"/>
<circle cx="739.5" cy="625.8" r="2.5" fill="#f01818"/>
<circle cx="750.6" cy="644.2" r="2.5" fill="#f01818"/>
<circle cx="761.6" cy="660.3" r="2.5" fill="#f01818"/>
<circle cx="772.6" cy="664.3" r="2.5" fill="#f01818"/>
<circle cx="783.3" cy="667.6" r="2.5" fill="#f01818"/>
<circle cx="794.4" cy="669.6" r="2.5" fill="#f01818"/>
<circle cx="805.1" cy="670.3" r="2.5" fill="#f01818"/>
<circle cx="816.1" cy="675.0" r="2.5" fill="#f01818"/>
<circle cx="827.2" cy="680.3" r="2.5" fill="#f01818"/>
<circle cx="837.9" cy="680.3" r="2.5" fill="#f01818"/>
<circle cx="848.9" cy="682.7" r="2.5" fill="#f01818"/>
<circle cx="859.9" cy="684.3" r="2.5" fill="#f01818"/>
<circle cx="870.6" cy="685.4" r="2.5" fill="#f01818"/>
<circle cx="881.3" cy="681.0" r="2.5" fill="#f01818"/>
<circle cx="892.4" cy="685.0" r="2.5" fill="#f01818"/>
<circle cx="903.1" cy="685.0" r="2.5" fill="#f01818"/>
<circle cx="914.1" cy="684.3" r="2.5" fill="#f01818"/>
<rect x="562.7" y="680.1" width="5.2" height="5.2" fill="#111"/>
<rect x="573.7" y="680.1" width="5.2" height="5.2" fill="#111"/>
<rect x="584.4" y="681.1" width="5.2" height="5.2" fill="#111"/>
<rect x="595.1" y="678.4" width="5.2" height="5.2" fill="#111"/>
<rect x="606.2" y="680.7" width="5.2" height="5.2" fill="#111"/>
<rect x="617.2" y="677.7" width="5.2" height="5.2" fill="#111"/>
<rect x="627.9" y="679.1" width="5.2" height="5.2" fill="#111"/>
<rect x="638.9" y="674.4" width="5.2" height="5.2" fill="#111"/>
<rect x="649.6" y="671.7" width="5.2" height="5.2" fill="#111"/>
<rect x="660.7" y="669.0" width="5.2" height="5.2" fill="#111"/>
<rect x="671.4" y="662.3" width="5.2" height="5.2" fill="#111"/>
<rect x="682.4" y="655.7" width="5.2" height="5.2" fill="#111"/>
<rect x="693.5" y="646.3" width="5.2" height="5.2" fill="#111"/>
<rect x="704.5" y="634.3" width="5.2" height="5.2" fill="#111"/>
<rect x="715.2" y="614.9" width="5.2" height="5.2" fill="#111"/>
<rect x="725.9" y="604.2" width="5.2" height="5.2" fill="#111"/>
<rect x="736.9" y="585.4" width="5.2" height="5.2" fill="#111"/>
<rect x="748.0" y="554.7" width="5.2" height="5.2" fill="#111"/>
<rect x="759.0" y="524.6" width="5.2" height="5.2" fill="#111"/>
<rect x="770.0" y="486.8" width="5.2" height="5.2" fill="#111"/>
<rect x="780.7" y="449.3" width="5.2" height="5.2" fill="#111"/>
<rect x="791.8" y="430.2" width="5.2" height="5.2" fill="#111"/>
<rect x="802.5" y="414.9" width="5.2" height="5.2" fill="#111"/>
<rect x="813.5" y="426.9" width="5.2" height="5.2" fill="#111"/>
<rect x="824.6" y="447.0" width="5.2" height="5.2" fill="#111"/>
<rect x="835.3" y="486.8" width="5.2" height="5.2" fill="#111"/>
<rect x="846.3" y="520.2" width="5.2" height="5.2" fill="#111"/>
<rect x="857.3" y="549.6" width="5.2" height="5.2" fill="#111"/>
<rect x="868.0" y="563.4" width="5.2" height="5.2" fill="#111"/>
<rect x="878.7" y="581.4" width="5.2" height="5.2" fill="#111"/>
<rect x="889.8" y="585.4" width="5.2" height="5.2" fill="#111"/>
<rect x="900.5" y="592.1" width="5.2" height="5.2" fill="#111"/>
<rect x="911.5" y="594.8" width="5.2" height="5.2" fill="#111"/>
<line x1="710.0" y1="537.0" x2="748.0" y2="537.0" stroke="#333" stroke-width="1.3"/>
<polygon points="708.0,537.0 716.0,534.0 716.0,540.0" fill="#333"/>
<polygon points="750.0,537.0 742.0,534.0 742.0,540.0" fill="#333"/>
<text x="729.0" y="524.5" font-size="30" text-anchor="middle" fill="#1414ee">1.1 μm</text>
<rect x="557" y="392" width="367" height="320" fill="none" stroke="#111" stroke-width="2.4"/>
<text x="554.0" y="749.3" font-size="29" text-anchor="middle">−5</text>
<text x="740.0" y="749.3" font-size="29" text-anchor="middle">0</text>
<text x="923.0" y="749.3" font-size="29" text-anchor="middle">5</text>
<text x="749.0" y="785.4" font-size="31" text-anchor="middle">Position (μm)</text>
<text x="534.4" y="537.8" font-size="31" text-anchor="middle" textLength="207.5" lengthAdjust="spacingAndGlyphs" transform="rotate(-90 534.4 537.8)">Intensity (a.u.)</text>
<rect x="860.0" y="425.0" width="4.5" height="4.5" fill="#111"/>
<text x="869.6" y="433.5" font-size="25"><tspan font-style="italic">n</tspan>=1</text>
<circle cx="862.0" cy="453.0" r="2.2" fill="#f01818"/>
<text x="869.6" y="458.6" font-size="25"><tspan font-style="italic">n</tspan>=2</text>
<text x="-2.4" y="815.8" font-size="40">(d)</text>
<line x1="297.0" y1="843.0" x2="297.0" y2="1166.0" stroke="#444" stroke-width="1.2" stroke-dasharray="4,3"/>
<line x1="397.0" y1="843.0" x2="397.0" y2="1166.0" stroke="#444" stroke-width="1.2" stroke-dasharray="4,3"/>
<clipPath id="cd"><rect x="84" y="833" width="380" height="333"/></clipPath><g clip-path="url(#cd)">
<polyline points="84.2,876.6 85.3,878.1 87.0,880.2 88.9,882.7 90.9,885.4 93.0,888.0 94.8,890.4 96.5,893.0 98.2,896.1 99.8,899.1 101.4,901.6 103.1,902.8 104.7,902.2 106.4,899.4 108.1,894.6 109.8,888.6 111.4,882.1 113.0,875.9 114.6,870.6 116.0,865.9 117.4,861.1 118.7,856.5 119.9,852.5 121.2,849.5 122.5,847.7 123.8,847.5 125.1,848.6 126.4,850.6 127.7,853.2 129.1,856.0 130.4,858.8 131.6,861.6 132.8,864.8 134.0,868.2 135.2,871.8 136.6,875.3 138.3,878.5 140.2,881.9 142.5,885.5 144.8,889.0 147.3,892.2 149.7,894.7 152.1,896.3 154.4,896.7 156.7,896.1 158.9,894.8 161.2,893.2 163.5,891.6 165.9,890.4 168.5,889.2 171.2,887.8 174.0,886.4 176.7,885.3 179.3,884.5 181.7,884.5 184.0,885.2 186.1,886.7 188.2,888.7 190.1,890.7 191.9,892.7 193.6,894.3 195.1,895.7 196.2,897.0 197.3,898.2 198.4,899.2 199.8,899.9 201.5,900.3 203.7,900.2 206.1,899.8 208.8,899.1 211.6,898.3 214.5,897.3 217.3,896.3 220.2,895.0 223.1,893.4 226.1,891.6 229.1,890.0 232.1,888.9 235.1,888.4 238.1,888.8 241.1,889.9 244.1,891.4 247.1,893.1 250.0,894.8 252.9,896.3 255.6,897.8 258.3,899.5 260.9,901.1 263.5,902.6 266.1,903.7 268.7,904.2 271.3,904.0 274.1,903.2 276.8,902.0 279.4,900.6 282.0,899.3 284.5,898.3 286.7,897.4 288.7,896.5 290.6,895.6 292.6,894.8 294.7,894.4 297.1,894.3 299.9,894.7 302.9,895.5 306.2,896.6 309.5,897.8 312.8,899.0 316.1,900.3 319.4,901.5 322.8,902.9 326.2,904.3 329.5,905.7 332.8,907.1 335.8,908.2 338.6,909.2 341.1,910.2 343.5,911.1 345.9,911.8 348.6,912.2 351.6,912.1 355.2,911.5 359.0,910.3 363.1,908.7 367.3,907.1 371.4,905.5 375.3,904.2 379.1,903.1 382.9,901.8 386.6,900.7 390.2,899.8 393.7,899.2 397.1,899.1 400.3,899.5 403.4,900.5 406.3,901.8 409.2,903.3 412.1,904.8 414.9,906.2 417.6,907.5 420.3,909.0 422.9,910.4 425.5,911.8 428.0,913.1 430.7,914.1 433.3,914.9 435.9,915.5 438.6,916.0 441.2,916.3 443.8,916.6 446.5,916.9 449.3,917.0 452.3,917.1 455.4,917.0 458.2,917.0 460.5,916.9 462.3,916.9" fill="none" stroke="#f040f0" stroke-width="2.4" stroke-linejoin="round"/>
<polyline points="84.2,985.0 85.3,985.2 87.0,986.1 88.9,986.5 90.9,987.1 93.0,988.2 94.8,989.6 96.5,990.8 98.2,992.8 99.8,994.5 101.4,996.3 103.1,996.4 104.7,994.8 106.3,990.9 108.0,985.4 109.6,979.2 111.2,971.7 112.9,964.4 114.6,957.8 116.4,950.9 118.3,944.1 120.3,937.7 122.2,931.7 124.0,927.1 125.6,924.3 127.0,923.1 128.2,925.2 129.3,928.1 130.3,931.4 131.3,934.6 132.4,937.8 133.4,939.8 134.4,943.0 135.4,945.4 136.3,947.5 137.3,949.5 138.3,952.0 139.3,953.4 140.3,955.2 141.3,956.5 142.3,957.4 143.3,958.4 144.2,959.6 145.1,960.5 146.0,961.2 146.9,962.2 147.8,963.4 148.6,963.0 149.3,963.0 150.0,962.8 150.5,961.0 151.0,959.5 151.5,957.8 152.1,956.6 152.9,957.2 153.8,958.0 154.9,961.1 156.0,964.4 157.3,968.1 158.6,970.2 160.0,971.2 161.6,970.3 163.3,966.9 165.2,963.2 167.0,959.7 168.9,956.1 170.7,955.2 172.4,957.0 174.1,961.3 175.7,965.9 177.4,970.2 179.2,973.8 181.0,975.0 182.9,973.8 184.9,969.7 187.0,965.6 189.0,960.9 191.0,956.9 192.8,954.6 194.4,954.8 195.9,955.2 197.3,957.6 198.6,960.9 200.0,963.4 201.5,965.4 203.1,968.1 204.6,970.5 206.2,973.3 207.9,975.2 209.6,976.9 211.4,978.0 213.2,977.7 215.0,977.3 216.8,976.5 218.8,974.1 220.9,971.6 223.2,969.0 225.8,965.5 228.6,961.4 231.6,955.8 234.7,950.8 237.9,946.6 241.0,945.0 244.2,943.9 247.6,944.6 251.0,946.3 254.4,948.5 257.7,950.4 260.8,951.8 263.6,951.3 266.2,950.7 268.7,950.3 271.2,949.2 273.8,948.9 276.6,947.3 279.6,946.9 282.9,946.2 286.2,945.0 289.6,944.8 293.0,943.8 296.3,943.5 299.6,944.1 302.8,944.6 306.0,946.1 309.2,947.2 312.6,949.0 316.1,950.0 319.8,950.6 323.5,951.2 327.4,952.5 331.4,953.3 335.6,953.9 339.8,954.1 344.2,954.5 348.7,953.1 353.4,952.1 358.1,951.9 362.8,950.6 367.4,950.1 372.0,948.7 376.5,948.3 381.0,947.2 385.6,946.5 390.3,946.0 395.1,945.7 400.1,945.7 405.2,946.6 410.4,948.3 415.7,949.6 421.2,950.9 426.7,951.5 432.8,952.9 439.6,954.3 446.5,955.5 452.9,956.9 458.4,957.6 462.3,958.5" fill="none" stroke="#1a1aee" stroke-width="3.0" stroke-linejoin="round"/>
<polyline points="84.2,1005.3 87.9,1008.1 93.2,1011.7 99.4,1016.3 106.0,1020.3 112.6,1025.3 118.5,1027.6 124.2,1032.9 129.9,1038.6 135.5,1042.6 140.9,1047.7 145.9,1049.9 150.1,1054.3 153.7,1056.8 156.6,1060.4 159.1,1062.9 161.2,1063.5 163.2,1065.2 165.2,1065.7 166.9,1066.7 168.4,1065.2 169.6,1061.9 170.9,1060.7 172.2,1055.8 173.8,1052.7 175.8,1045.5 178.0,1037.4 180.3,1030.8 182.5,1020.9 184.7,1014.0 186.5,1011.2 188.0,1009.2 189.2,1007.9 190.3,1010.9 191.4,1012.2 192.4,1015.0 193.6,1016.1 194.8,1019.9 195.9,1021.6 197.0,1024.8 198.3,1027.4 199.7,1028.9 201.5,1032.3 203.7,1035.9 206.3,1040.9 209.2,1045.9 212.0,1051.2 214.8,1055.3 217.3,1055.1 219.4,1055.5 221.3,1051.4 223.0,1046.8 224.8,1042.8 226.8,1036.9 229.2,1032.2 232.0,1028.6 235.2,1024.9 238.6,1019.1 242.0,1017.6 245.2,1012.5 248.1,1012.7 250.6,1012.9 252.7,1012.2 254.6,1016.2 256.6,1017.8 258.5,1020.8 260.8,1021.6 263.2,1023.4 265.6,1025.6 268.2,1029.2 270.8,1029.1 273.6,1031.9 276.6,1033.6 279.5,1034.6 282.4,1033.9 285.4,1034.4 288.7,1035.2 292.6,1036.4 297.1,1035.6 302.3,1038.2 307.9,1039.6 314.1,1041.1 320.7,1040.6 328.0,1044.2 335.8,1043.5 344.8,1045.4 354.8,1047.4 365.4,1049.4 376.0,1049.4 386.1,1052.1 395.1,1052.5 403.0,1053.3 410.2,1054.7 416.8,1055.8 423.1,1056.9 428.9,1058.4 434.6,1060.7 440.2,1062.4 445.7,1061.2 450.9,1061.7 455.5,1064.5 459.4,1063.9 462.3,1064.0" fill="none" stroke="#ee1a1a" stroke-width="2.8" stroke-linejoin="round"/>
<polyline points="84.2,1129.7 86.5,1131.6 89.9,1134.4 93.8,1137.7 97.9,1140.5 101.7,1142.8 104.7,1142.4 107.0,1140.1 108.8,1135.4 110.3,1130.1 111.7,1123.5 113.1,1117.6 114.6,1111.8 116.3,1105.8 118.0,1099.5 119.8,1093.2 121.5,1087.0 123.0,1082.4 124.5,1079.5 125.7,1077.8 126.7,1078.6 127.7,1079.9 128.6,1082.0 129.4,1083.8 130.4,1085.6 131.3,1088.0 132.1,1090.1 132.9,1092.1 133.7,1094.3 134.9,1096.9 136.3,1099.9 138.1,1102.5 140.1,1106.2 142.4,1109.2 144.8,1112.1 147.4,1115.4 150.1,1117.5 153.1,1119.6 156.4,1120.8 159.9,1121.4 163.4,1122.2 166.8,1122.9 169.9,1123.7 172.6,1124.6 175.0,1124.5 177.3,1125.4 179.7,1126.1 182.4,1126.5 185.7,1127.5 189.6,1128.0 193.9,1129.6 198.5,1130.4 203.4,1131.2 208.4,1132.6 213.4,1133.2 218.2,1133.9 222.9,1134.8 227.7,1135.1 232.8,1135.8 238.5,1136.9 245.0,1137.5 251.8,1137.8 258.9,1139.3 266.4,1139.6 275.0,1140.7 284.8,1142.0 296.3,1142.6 310.4,1142.9 326.9,1143.5 344.7,1144.0 362.8,1144.2 379.9,1145.2 395.1,1144.9 408.9,1145.6 422.3,1146.2 434.9,1146.3 446.0,1147.1 455.3,1146.8 462.3,1147.6" fill="none" stroke="#111" stroke-width="2.2" stroke-linejoin="round"/>
</g>
<rect x="84" y="833" width="380" height="333" fill="none" stroke="#111" stroke-width="2.4"/>
<line x1="111.4" y1="1166.0" x2="111.4" y2="1159.0" stroke="#111" stroke-width="2"/>
<line x1="212.1" y1="1166.0" x2="212.1" y2="1159.0" stroke="#111" stroke-width="2"/>
<line x1="312.8" y1="1166.0" x2="312.8" y2="1159.0" stroke="#111" stroke-width="2"/>
<line x1="413.5" y1="1166.0" x2="413.5" y2="1159.0" stroke="#111" stroke-width="2"/>
<line x1="161.8" y1="1166.0" x2="161.8" y2="1161.0" stroke="#111" stroke-width="2"/>
<line x1="262.4" y1="1166.0" x2="262.4" y2="1161.0" stroke="#111" stroke-width="2"/>
<line x1="363.1" y1="1166.0" x2="363.1" y2="1161.0" stroke="#111" stroke-width="2"/>
<text x="111.4" y="1201.5" font-size="30" text-anchor="middle">500</text>
<text x="212.1" y="1201.5" font-size="30" text-anchor="middle">600</text>
<text x="312.8" y="1201.5" font-size="30" text-anchor="middle">700</text>
<text x="413.5" y="1201.5" font-size="30" text-anchor="middle">700</text>
<text x="283.7" y="1244.0" font-size="30.5" text-anchor="middle">Wavelength (nm)</text>
<text x="62.0" y="996.0" font-size="30.5" text-anchor="middle" transform="rotate(-90 62.0 996.0)">Reflection (a.u.)</text>
<text x="459.0" y="886.4" font-size="30" text-anchor="end" fill="#f040f0">Simulation</text>
<text x="459.0" y="941.7" font-size="30" text-anchor="end" fill="#1a1aee">Hetero</text>
<text x="144.0" y="950.0" font-size="30">2s</text>
<text x="125.5" y="986.0" font-size="30">3s</text>
<text x="170.5" y="1003.8" font-size="30">1s</text>
<text x="231.0" y="1005.7" font-size="30">TS</text>
<text x="458.0" y="1046.0" font-size="29" text-anchor="end"><tspan font-style="italic">n</tspan>=2</text>
<text x="108.5" y="1069.0" font-size="30">1s</text>
<text x="152.0" y="1114.8" font-size="30">TS</text>
<text x="454.0" y="1134.0" font-size="29" text-anchor="end"><tspan font-style="italic">n</tspan>=1</text>
<text x="514.2" y="815.8" font-size="40">(e)</text>
<clipPath id="ce"><rect x="565" y="830.3" width="397.6" height="347.20000000000005"/></clipPath><g clip-path="url(#ce)">
<polyline points="566.0,909.4 566.3,909.2 566.6,909.4 567.0,908.9 567.3,909.7 567.6,909.7 567.9,909.5 568.2,908.9 568.5,909.3 568.9,909.1 569.2,909.0 569.5,909.8 569.8,909.9 570.1,908.7 570.4,909.7 570.8,909.4 571.1,909.1 571.4,909.0 571.7,909.5 572.0,909.2 572.3,909.5 572.7,909.5 573.0,908.8 573.3,909.6 573.6,909.9 573.9,909.9 574.2,909.4 574.6,908.7 574.9,908.7 575.2,908.8 575.5,909.8 575.8,909.1 576.1,909.1 576.5,909.8 576.8,909.1 577.1,909.3 577.4,909.2 577.7,908.8 578.0,909.4 578.4,909.7 578.7,908.9 579.0,909.0 579.3,909.2 579.6,908.7 579.9,909.3 580.3,909.7 580.6,909.5 580.9,909.3 581.2,909.7 581.5,908.9 581.8,909.4 582.2,909.1 582.5,909.4 582.8,908.8 583.1,909.6 583.4,908.8 583.7,908.9 584.1,909.7 584.4,909.8 584.7,909.2 585.0,909.1 585.3,908.8 585.6,908.6 586.0,908.6 586.3,907.5 586.6,906.7 586.9,906.5 587.2,905.8 587.5,906.4 587.9,907.0 588.2,907.5 588.5,907.9 588.8,908.3 589.1,908.8 589.4,908.5 589.8,909.5 590.1,909.1 590.4,909.1 590.7,908.7 591.0,909.1 591.3,909.0 591.7,908.1 592.0,907.4 592.3,905.0 592.6,901.4 592.9,898.1 593.2,895.1 593.6,892.6 593.9,892.7 594.2,894.1 594.5,898.0 594.8,901.7 595.1,904.7 595.5,906.9 595.8,908.4 596.1,908.9 596.4,909.1 596.7,908.8 597.0,909.2 597.4,909.8 597.7,909.2 598.0,908.7 598.3,908.7 598.6,909.3 598.9,908.7 599.3,908.8 599.6,908.8 599.9,909.2 600.2,909.9 600.5,909.3 600.8,909.2 601.2,909.2 601.5,909.3 601.8,909.2 602.1,909.6 602.4,909.8 602.7,909.5 603.1,909.2 603.4,909.5 603.7,909.8 604.0,908.9 604.3,909.0 604.6,909.4 605.0,909.5 605.3,909.5 605.6,909.4 605.9,909.7 606.2,909.3 606.6,909.7 606.9,909.8 607.2,909.2 607.5,909.7 607.8,909.6 608.1,909.8 608.5,908.7 608.8,909.8 609.1,909.6 609.4,909.8 609.7,909.9 610.0,909.0 610.4,909.5 610.7,908.9 611.0,909.4 611.3,909.8 611.6,908.9 611.9,909.1 612.3,908.8 612.6,908.9 612.9,908.9 613.2,908.8 613.5,909.9 613.8,909.8 614.2,909.2 614.5,909.6 614.8,909.5 615.1,909.3 615.4,909.2 615.7,909.5 616.1,909.4 616.4,909.0 616.7,909.1 617.0,909.4 617.3,909.4 617.6,908.9 618.0,909.4 618.3,909.7 618.6,909.7 618.9,909.5 619.2,908.8 619.5,909.2 619.9,908.8 620.2,908.8 620.5,909.0 620.8,909.2 621.1,909.6 621.4,909.4 621.8,909.0 622.1,909.5 622.4,909.3 622.7,909.3 623.0,909.0 623.3,909.2 623.7,909.1 624.0,909.6 624.3,909.3 624.6,909.2 624.9,909.3 625.2,909.3 625.6,909.5 625.9,909.5 626.2,909.6 626.5,909.1 626.8,909.5 627.1,909.4 627.5,908.9 627.8,907.4 628.1,904.9 628.4,903.6 628.7,901.2 629.0,898.4 629.4,898.0 629.7,898.7 630.0,901.1 630.3,903.3 630.6,905.2 630.9,906.8 631.3,907.9 631.6,908.4 631.9,909.5 632.2,909.8 632.5,908.9 632.8,909.6 633.2,909.8 633.5,908.9 633.8,909.4 634.1,909.2 634.4,909.9 634.7,909.7 635.1,908.7 635.4,908.9 635.7,909.7 636.0,909.4 636.3,909.3 636.6,909.7 637.0,909.6 637.3,909.8 637.6,909.1 637.9,908.7 638.2,909.5 638.5,908.7 638.9,909.4 639.2,909.7 639.5,909.2 639.8,909.4 640.1,908.9 640.4,908.9 640.8,909.4 641.1,909.7 641.4,909.9 641.7,908.7 642.0,909.8 642.3,909.3 642.7,909.1 643.0,909.2 643.3,909.4 643.6,909.1 643.9,908.9 644.2,909.7 644.6,909.5 644.9,909.4 645.2,909.6 645.5,909.9 645.8,908.9 646.2,909.7 646.5,909.7 646.8,909.1 647.1,909.4 647.4,909.2 647.7,908.9 648.1,909.2 648.4,908.9 648.7,909.8 649.0,908.9 649.3,909.4 649.6,909.4 650.0,909.9 650.3,909.6 650.6,909.1 650.9,909.1 651.2,908.7 651.5,908.8 651.9,909.1 652.2,909.8 652.5,908.7 652.8,908.9 653.1,909.5 653.4,909.1 653.8,908.9 654.1,909.8 654.4,908.7 654.7,909.4 655.0,909.2 655.3,909.1 655.7,908.9 656.0,908.9 656.3,909.2 656.6,909.6 656.9,909.3 657.2,909.6 657.6,909.7 657.9,908.9 658.2,909.7 658.5,909.4 658.8,909.2 659.1,909.3 659.5,909.8 659.8,909.2 660.1,908.8 660.4,909.8 660.7,908.8 661.0,908.8 661.4,909.6 661.7,909.1 662.0,909.0 662.3,909.5 662.6,909.8 662.9,909.1 663.3,909.8 663.6,909.4 663.9,909.4 664.2,909.3 664.5,908.5 664.8,908.5 665.2,908.7 665.5,908.1 665.8,906.7 666.1,906.7 666.4,906.2 666.7,906.3 667.1,906.4 667.4,906.9 667.7,907.7 668.0,909.0 668.3,908.5 668.6,909.5 669.0,909.2 669.3,908.8 669.6,909.7 669.9,908.7 670.2,909.7 670.5,909.1 670.9,909.8 671.2,909.6 671.5,909.1 671.8,909.4 672.1,909.9 672.4,908.9 672.8,908.9 673.1,909.0 673.4,909.7 673.7,909.0 674.0,909.0 674.3,909.4 674.7,909.4 675.0,909.2 675.3,909.4 675.6,908.7 675.9,908.7 676.2,908.7 676.6,908.8 676.9,909.6 677.2,909.9 677.5,908.8 677.8,909.2 678.1,908.7 678.5,909.2 678.8,909.5 679.1,909.4 679.4,909.8 679.7,909.4 680.0,908.8 680.4,909.1 680.7,909.2 681.0,909.1 681.3,908.7 681.6,909.4 681.9,909.3 682.3,909.5 682.6,909.1 682.9,908.8 683.2,909.0 683.5,908.9 683.8,909.2 684.2,908.9 684.5,908.8 684.8,909.3 685.1,908.9 685.4,908.8 685.8,908.8 686.1,909.5 686.4,909.7 686.7,909.7 687.0,909.4 687.3,909.4 687.7,909.5 688.0,909.0 688.3,908.6 688.6,907.7 688.9,905.2 689.2,900.9 689.6,894.5 689.9,886.3 690.2,878.0 690.5,872.5 690.8,871.8 691.1,875.0 691.5,882.6 691.8,890.3 692.1,898.0 692.4,902.7 692.7,906.2 693.0,908.5 693.4,908.5 693.7,909.3 694.0,908.7 694.3,909.4 694.6,909.2 694.9,909.8 695.3,909.7 695.6,909.6 695.9,909.1 696.2,909.5 696.5,908.9 696.8,909.3 697.2,909.2 697.5,909.3 697.8,909.0 698.1,908.9 698.4,909.3 698.7,909.4 699.1,909.0 699.4,908.7 699.7,906.5 700.0,902.3 700.3,896.3 700.6,886.0 701.0,874.4 701.3,861.1 701.6,852.9 701.9,851.3 702.2,857.1 702.5,867.5 702.9,880.1 703.2,891.9 703.5,900.2 703.8,905.4 704.1,907.7 704.4,908.2 704.8,909.7 705.1,909.7 705.4,909.2 705.7,909.5 706.0,909.7 706.3,909.8 706.7,909.6 707.0,908.8 707.3,908.8 707.6,909.1 707.9,909.2 708.2,909.1 708.6,909.6 708.9,909.6 709.2,909.2 709.5,909.5 709.8,908.9 710.1,909.8 710.5,909.0 710.8,908.9 711.1,909.1 711.4,909.7 711.7,909.4 712.0,909.5 712.4,909.7 712.7,909.2 713.0,909.8 713.3,909.9 713.6,909.3 713.9,909.6 714.3,909.7 714.6,909.4 714.9,908.8 715.2,909.5 715.5,909.2 715.8,909.7 716.2,908.9 716.5,908.7 716.8,908.9 717.1,908.9 717.4,909.2 717.7,908.9 718.1,909.1 718.4,909.4 718.7,908.9 719.0,909.3 719.3,909.1 719.6,908.7 720.0,909.5 720.3,909.3 720.6,909.6 720.9,909.7 721.2,908.7 721.5,909.5 721.9,909.2 722.2,909.7 722.5,908.8 722.8,909.7 723.1,909.2 723.4,908.8 723.8,909.2 724.1,909.7 724.4,908.8 724.7,909.1 725.0,908.8 725.4,908.7 725.7,909.7 726.0,909.3 726.3,909.4 726.6,909.8 726.9,908.8 727.3,909.8 727.6,909.6 727.9,909.7 728.2,909.7 728.5,909.2 728.8,908.7 729.2,909.9 729.5,909.4 729.8,909.5 730.1,909.5 730.4,909.0 730.7,909.5 731.1,909.2 731.4,909.0 731.7,909.3 732.0,909.3 732.3,909.1 732.6,909.6 733.0,909.8 733.3,909.4 733.6,908.7 733.9,909.3 734.2,909.4 734.5,909.7 734.9,909.1 735.2,909.0 735.5,909.1 735.8,908.9 736.1,909.6 736.4,908.7 736.8,909.3 737.1,909.4 737.4,907.9 737.7,907.1 738.0,906.5 738.3,903.3 738.7,901.0 739.0,897.5 739.3,896.4 739.6,895.9 739.9,897.7 740.2,900.1 740.6,903.6 740.9,905.6 741.2,906.6 741.5,906.7 741.8,905.7 742.1,902.6 742.5,898.8 742.8,894.8 743.1,892.5 743.4,891.3 743.7,892.0 744.0,895.4 744.4,899.8 744.7,902.9 745.0,906.1 745.3,907.4 745.6,908.6 745.9,909.4 746.3,909.4 746.6,909.4 746.9,909.0 747.2,908.8 747.5,909.3 747.8,909.6 748.2,909.1 748.5,909.6 748.8,909.3 749.1,908.8 749.4,909.4 749.7,909.3 750.1,909.1 750.4,908.9 750.7,909.9 751.0,909.4 751.3,909.6 751.6,908.7 752.0,909.6 752.3,908.9 752.6,909.3 752.9,909.2 753.2,909.2 753.5,909.6 753.9,908.9 754.2,909.8 754.5,909.7 754.8,909.3 755.1,909.7 755.4,909.3 755.8,909.8 756.1,909.3 756.4,909.9 756.7,909.6 757.0,909.5 757.3,909.9 757.7,909.5 758.0,909.0 758.3,909.5 758.6,908.9 758.9,909.2 759.2,909.5 759.6,908.9 759.9,909.2 760.2,909.0 760.5,909.2 760.8,909.0 761.1,909.5 761.5,909.7 761.8,909.3 762.1,909.5 762.4,909.6 762.7,909.7 763.0,909.7 763.4,909.5 763.7,909.6 764.0,909.6 764.3,909.3 764.6,909.6 765.0,908.9 765.3,909.6 765.6,909.5 765.9,909.3 766.2,909.4 766.5,909.8 766.9,909.6 767.2,909.5 767.5,909.8 767.8,909.7 768.1,909.1 768.4,909.7 768.8,909.8 769.1,909.4 769.4,909.8 769.7,908.9 770.0,909.7 770.3,909.0 770.7,909.2 771.0,909.3 771.3,909.2 771.6,909.3 771.9,908.8 772.2,908.8 772.6,909.6 772.9,909.0 773.2,909.0 773.5,909.5 773.8,909.5 774.1,909.1 774.5,909.2 774.8,908.2 775.1,908.5 775.4,907.8 775.7,907.8 776.0,907.7 776.4,907.8 776.7,908.5 777.0,908.7 777.3,908.7 777.6,908.6 777.9,909.1 778.3,909.4 778.6,908.7 778.9,909.4 779.2,909.2 779.5,909.3 779.8,908.8 780.2,908.8 780.5,909.5 780.8,909.0 781.1,908.9 781.4,909.7 781.7,908.8 782.1,909.5 782.4,909.7 782.7,909.8 783.0,909.5 783.3,908.8 783.6,909.2 784.0,909.7 784.3,909.2 784.6,909.3 784.9,909.6 785.2,909.4 785.5,909.1 785.9,909.4 786.2,909.2 786.5,909.1 786.8,908.8 787.1,909.0 787.4,909.9 787.8,909.0 788.1,909.1 788.4,909.9 788.7,908.8 789.0,909.0 789.3,909.1 789.7,909.2 790.0,909.2 790.3,909.0 790.6,908.9 790.9,909.4 791.2,908.9 791.6,908.7 791.9,909.6 792.2,909.6 792.5,909.1 792.8,909.7 793.1,908.8 793.5,909.7 793.8,909.3 794.1,909.0 794.4,907.9 794.7,908.3 795.0,907.1 795.4,907.1 795.7,907.0 796.0,906.5 796.3,907.2 796.6,908.5 796.9,908.8 797.3,908.6 797.6,909.6 797.9,908.7 798.2,909.4 798.5,909.6 798.8,909.7 799.2,909.5 799.5,909.6 799.8,909.0 800.1,909.6 800.4,909.5 800.7,909.4 801.1,909.0 801.4,909.5 801.7,908.7 802.0,909.3 802.3,909.5 802.6,909.1 803.0,909.4 803.3,908.8 803.6,909.1 803.9,909.3 804.2,909.7 804.6,909.3 804.9,909.8 805.2,909.1 805.5,909.8 805.8,909.4 806.1,909.3 806.5,908.9 806.8,909.7 807.1,909.6 807.4,909.2 807.7,909.1 808.0,909.0 808.4,909.1 808.7,908.8 809.0,909.7 809.3,909.1 809.6,908.7 809.9,909.1 810.3,908.2 810.6,908.7 810.9,907.2 811.2,907.5 811.5,907.5 811.8,907.3 812.2,907.4 812.5,908.7 812.8,908.7 813.1,909.1 813.4,908.7 813.7,908.6 814.1,909.7 814.4,908.9 814.7,908.8 815.0,909.6 815.3,909.4 815.6,908.7 816.0,909.4 816.3,909.3 816.6,909.8 816.9,909.4 817.2,908.9 817.5,909.4 817.9,909.6 818.2,909.9 818.5,909.1 818.8,909.4 819.1,908.7 819.4,909.8 819.8,908.9 820.1,909.5 820.4,909.7 820.7,909.3 821.0,909.9 821.3,909.2 821.7,909.4 822.0,909.7 822.3,908.7 822.6,909.7 822.9,909.7 823.2,908.9 823.6,909.5 823.9,909.0 824.2,908.9 824.5,909.3 824.8,909.5 825.1,909.1 825.5,909.1 825.8,909.0 826.1,909.4 826.4,909.4 826.7,909.7 827.0,909.7 827.4,908.7 827.7,908.9 828.0,908.8 828.3,909.0 828.6,909.6 828.9,909.3 829.3,909.6 829.6,909.7 829.9,909.1 830.2,908.7 830.5,908.9 830.8,909.4 831.2,909.4 831.5,908.9 831.8,909.6 832.1,908.7 832.4,908.9 832.7,909.3 833.1,909.4 833.4,909.8 833.7,909.1 834.0,909.7 834.3,909.3 834.6,909.1 835.0,909.8 835.3,909.3 835.6,909.5 835.9,909.0 836.2,909.8 836.5,909.3 836.9,908.7 837.2,908.8 837.5,909.1 837.8,909.2 838.1,908.8 838.4,909.7 838.8,909.4 839.1,909.8 839.4,909.5 839.7,909.6 840.0,908.9 840.3,908.7 840.7,909.0 841.0,909.2 841.3,908.7 841.6,909.8 841.9,909.0 842.2,909.6 842.6,908.7 842.9,909.7 843.2,909.1 843.5,909.3 843.8,909.4 844.2,909.4 844.5,909.0 844.8,909.0 845.1,909.2 845.4,909.4 845.7,908.7 846.1,909.0 846.4,908.8 846.7,909.7 847.0,909.5 847.3,909.7 847.6,909.5 848.0,908.7 848.3,909.1 848.6,909.7 848.9,909.2 849.2,909.0 849.5,908.7 849.9,909.4 850.2,908.1 850.5,908.2 850.8,908.0 851.1,908.3 851.4,908.7 851.8,908.7 852.1,909.2 852.4,908.6 852.7,909.4 853.0,909.4 853.3,908.7 853.7,909.4 854.0,909.7 854.3,908.7 854.6,909.0 854.9,909.3 855.2,909.4 855.6,909.3 855.9,909.7 856.2,909.1 856.5,909.5 856.8,909.3 857.1,909.7 857.5,909.2 857.8,909.8 858.1,909.7 858.4,909.6 858.7,909.8 859.0,909.5 859.4,909.0 859.7,909.8 860.0,909.1 860.3,909.1 860.6,909.4 860.9,909.3 861.3,909.9 861.6,909.2 861.9,909.8 862.2,909.2 862.5,909.0 862.8,909.3 863.2,909.5 863.5,909.0 863.8,909.4 864.1,909.2 864.4,908.7 864.7,908.8 865.1,909.1 865.4,909.5 865.7,908.9 866.0,909.8 866.3,909.1 866.6,908.8 867.0,908.9 867.3,909.8 867.6,909.7 867.9,909.5 868.2,908.8 868.5,909.5 868.9,908.7 869.2,909.0 869.5,908.8 869.8,909.5 870.1,909.7 870.4,909.0 870.8,909.9 871.1,909.3 871.4,909.7 871.7,908.9 872.0,909.6 872.3,909.4 872.7,908.8 873.0,909.6 873.3,909.6 873.6,909.1 873.9,909.0 874.2,908.8 874.6,909.4 874.9,909.0 875.2,909.0 875.5,909.2 875.8,908.8 876.1,909.5 876.5,909.1 876.8,909.0 877.1,909.2 877.4,909.2 877.7,909.2 878.0,909.0 878.4,909.6 878.7,909.8 879.0,909.4 879.3,909.6 879.6,909.7 879.9,909.0 880.3,909.7 880.6,909.4 880.9,909.5 881.2,909.4 881.5,909.8 881.8,909.3 882.2,909.5 882.5,909.0 882.8,908.9 883.1,909.3 883.4,909.7 883.8,908.9 884.1,909.6 884.4,909.0 884.7,908.8 885.0,909.7 885.3,908.8 885.7,909.2 886.0,909.5 886.3,909.5 886.6,909.6 886.9,908.8 887.2,908.8 887.6,909.1 887.9,909.7 888.2,909.8 888.5,909.2 888.8,909.0 889.1,909.4 889.5,909.2 889.8,908.7 890.1,909.4 890.4,909.8 890.7,909.5 891.0,909.6 891.4,908.8 891.7,909.4 892.0,909.8 892.3,909.0 892.6,909.1 892.9,909.0 893.3,909.4 893.6,909.1 893.9,909.7 894.2,909.5 894.5,909.3 894.8,909.6 895.2,908.9 895.5,909.0 895.8,909.2 896.1,909.2 896.4,909.2 896.7,909.9 897.1,909.1 897.4,909.7 897.7,909.7 898.0,909.1 898.3,909.2 898.6,908.7 899.0,909.5 899.3,909.3 899.6,908.9 899.9,909.8 900.2,909.2 900.5,909.0 900.9,909.3 901.2,908.9 901.5,909.0 901.8,909.5 902.1,909.5 902.4,908.8 902.8,909.6 903.1,909.6 903.4,909.3 903.7,909.4 904.0,909.4 904.3,909.5 904.7,909.4 905.0,909.3 905.3,908.6 905.6,908.2 905.9,907.3 906.2,907.6 906.6,907.5 906.9,907.8 907.2,907.9 907.5,908.2 907.8,908.1 908.1,909.1 908.5,909.3 908.8,908.8 909.1,908.9 909.4,909.2 909.7,908.8 910.0,909.9 910.4,908.8 910.7,909.5 911.0,909.7 911.3,908.8 911.6,909.3 911.9,909.2 912.3,909.9 912.6,909.8 912.9,909.4 913.2,909.6 913.5,909.7 913.8,908.8 914.2,908.8 914.5,909.5 914.8,909.8 915.1,909.5 915.4,909.8 915.7,908.9 916.1,909.0 916.4,908.9 916.7,909.3 917.0,909.8 917.3,908.9 917.6,909.2 918.0,909.2 918.3,909.3 918.6,909.0 918.9,909.2 919.2,908.7 919.5,908.7 919.9,909.3 920.2,908.8 920.5,909.4 920.8,909.2 921.1,909.2 921.4,909.0 921.8,909.7 922.1,909.1 922.4,909.7 922.7,908.8 923.0,909.4 923.4,908.9 923.7,909.8 924.0,908.7 924.3,909.7 924.6,909.6 924.9,909.2 925.3,908.8 925.6,909.5 925.9,909.6 926.2,909.6 926.5,909.5 926.8,909.7 927.2,909.2 927.5,909.5 927.8,909.8 928.1,909.0 928.4,908.8 928.7,908.8 929.1,908.2 929.4,908.8 929.7,907.7 930.0,907.2 930.3,907.4 930.6,907.8 931.0,908.6 931.3,908.2 931.6,909.2 931.9,909.5 932.2,909.7 932.5,909.3 932.9,909.5 933.2,909.3 933.5,909.6 933.8,909.5 934.1,908.8 934.4,909.2 934.8,909.7 935.1,909.2 935.4,909.6 935.7,909.7 936.0,909.6 936.3,909.6 936.7,909.1 937.0,909.3 937.3,909.7 937.6,909.2 937.9,909.4 938.2,908.7 938.6,909.2 938.9,909.3 939.2,908.9 939.5,909.2 939.8,908.8 940.1,909.9 940.5,908.9 940.8,909.6 941.1,909.0 941.4,909.9 941.7,909.7 942.0,909.3 942.4,909.0 942.7,908.8 943.0,909.2 943.3,909.1 943.6,908.9 943.9,909.8 944.3,909.4 944.6,908.8 944.9,909.2 945.2,909.1 945.5,909.6 945.8,909.4 946.2,908.7 946.5,909.3 946.8,909.3 947.1,909.0 947.4,909.2 947.7,909.0 948.1,908.8 948.4,909.0 948.7,909.9 949.0,908.8 949.3,909.4 949.6,909.7 950.0,909.7 950.3,909.2 950.6,909.5 950.9,909.3 951.2,909.4 951.5,908.9 951.9,909.7 952.2,909.7 952.5,909.0 952.8,909.4 953.1,908.9 953.4,909.6 953.8,908.8 954.1,908.9 954.4,909.3 954.7,909.1 955.0,909.2 955.3,908.8 955.7,909.5 956.0,908.9 956.3,908.8 956.6,909.3 956.9,909.7 957.2,909.5 957.6,909.6 957.9,909.0 958.2,909.1 958.5,909.4 958.8,909.1 959.1,909.1 959.5,909.6 959.8,908.8 960.1,909.5 960.4,909.0 960.7,909.0 961.0,909.7 961.4,909.7 961.7,908.8 962.0,908.8" fill="none" stroke="#1a801a" stroke-width="2.0" stroke-linejoin="round"/>
<polyline points="566.0,973.2 566.3,973.3 566.6,973.8 567.0,973.2 567.3,973.3 567.6,973.4 567.9,972.9 568.2,973.3 568.5,973.4 568.9,973.6 569.2,972.8 569.5,973.0 569.8,972.8 570.1,973.6 570.4,973.5 570.8,972.7 571.1,973.8 571.4,973.8 571.7,973.5 572.0,973.4 572.3,972.9 572.7,972.7 573.0,973.3 573.3,972.7 573.6,972.9 573.9,973.0 574.2,972.7 574.6,973.2 574.9,973.2 575.2,973.7 575.5,973.3 575.8,973.4 576.1,973.3 576.5,973.5 576.8,973.2 577.1,973.0 577.4,973.9 577.7,973.9 578.0,973.7 578.4,973.5 578.7,973.0 579.0,972.9 579.3,973.0 579.6,972.8 579.9,973.6 580.3,973.2 580.6,973.7 580.9,973.1 581.2,973.8 581.5,973.7 581.8,972.7 582.2,972.9 582.5,973.8 582.8,973.2 583.1,973.8 583.4,973.1 583.7,972.8 584.1,973.4 584.4,973.6 584.7,972.9 585.0,972.6 585.3,972.7 585.6,973.0 586.0,972.0 586.3,970.2 586.6,969.0 586.9,967.7 587.2,966.9 587.5,967.8 587.9,967.8 588.2,969.4 588.5,970.6 588.8,971.3 589.1,972.7 589.4,972.5 589.8,973.3 590.1,972.8 590.4,973.1 590.7,972.9 591.0,972.8 591.3,973.3 591.7,972.3 592.0,970.1 592.3,968.0 592.6,963.3 592.9,958.8 593.2,955.0 593.6,952.1 593.9,951.4 594.2,955.1 594.5,958.6 594.8,963.3 595.1,967.9 595.5,970.1 595.8,971.7 596.1,972.2 596.4,972.6 596.7,973.3 597.0,972.9 597.4,973.4 597.7,973.1 598.0,973.2 598.3,973.8 598.6,973.3 598.9,973.4 599.3,973.7 599.6,972.9 599.9,972.9 600.2,973.8 600.5,973.7 600.8,973.0 601.2,972.9 601.5,973.6 601.8,973.8 602.1,972.9 602.4,973.8 602.7,973.7 603.1,973.4 603.4,973.2 603.7,972.8 604.0,972.7 604.3,973.8 604.6,973.0 605.0,973.5 605.3,973.0 605.6,973.7 605.9,973.4 606.2,973.0 606.6,972.9 606.9,973.5 607.2,972.8 607.5,972.9 607.8,973.3 608.1,973.7 608.5,973.4 608.8,973.0 609.1,973.8 609.4,972.9 609.7,972.7 610.0,973.0 610.4,973.2 610.7,972.7 611.0,972.9 611.3,973.1 611.6,973.4 611.9,972.8 612.3,973.1 612.6,973.7 612.9,973.8 613.2,973.5 613.5,973.5 613.8,973.4 614.2,972.8 614.5,972.7 614.8,972.7 615.1,973.8 615.4,973.5 615.7,973.8 616.1,972.7 616.4,973.4 616.7,973.2 617.0,973.5 617.3,973.1 617.6,973.9 618.0,972.8 618.3,973.3 618.6,973.6 618.9,973.8 619.2,973.6 619.5,973.5 619.9,973.6 620.2,973.8 620.5,973.1 620.8,973.5 621.1,973.8 621.4,973.7 621.8,973.2 622.1,973.6 622.4,973.7 622.7,973.4 623.0,973.4 623.3,973.1 623.7,973.4 624.0,973.4 624.3,972.8 624.6,973.4 624.9,973.9 625.2,973.7 625.6,973.5 625.9,973.1 626.2,973.5 626.5,973.3 626.8,973.0 627.1,973.0 627.5,971.2 627.8,970.4 628.1,966.9 628.4,964.2 628.7,960.5 629.0,957.4 629.4,956.9 629.7,957.7 630.0,960.7 630.3,964.6 630.6,967.2 630.9,969.5 631.3,971.5 631.6,972.8 631.9,972.7 632.2,972.8 632.5,973.7 632.8,973.5 633.2,973.2 633.5,973.7 633.8,973.1 634.1,973.5 634.4,972.9 634.7,973.2 635.1,973.6 635.4,973.8 635.7,973.7 636.0,973.1 636.3,973.4 636.6,973.0 637.0,972.8 637.3,973.3 637.6,973.7 637.9,973.7 638.2,973.5 638.5,973.8 638.9,973.0 639.2,972.9 639.5,973.2 639.8,973.0 640.1,972.9 640.4,973.2 640.8,973.4 641.1,973.3 641.4,973.0 641.7,973.7 642.0,973.8 642.3,973.2 642.7,972.8 643.0,972.7 643.3,973.7 643.6,972.7 643.9,973.5 644.2,973.4 644.6,973.0 644.9,973.6 645.2,972.7 645.5,972.8 645.8,973.2 646.2,972.7 646.5,973.7 646.8,973.0 647.1,972.8 647.4,972.7 647.7,973.4 648.1,973.2 648.4,973.4 648.7,973.5 649.0,973.6 649.3,973.8 649.6,973.5 650.0,972.9 650.3,973.2 650.6,972.9 650.9,972.7 651.2,973.2 651.5,973.5 651.9,972.9 652.2,973.0 652.5,973.1 652.8,973.5 653.1,973.3 653.4,973.4 653.8,973.6 654.1,973.1 654.4,973.6 654.7,973.8 655.0,972.8 655.3,973.8 655.7,973.5 656.0,972.8 656.3,973.2 656.6,973.4 656.9,973.8 657.2,973.1 657.6,973.4 657.9,973.7 658.2,973.6 658.5,973.8 658.8,973.2 659.1,973.5 659.5,972.9 659.8,973.5 660.1,973.7 660.4,973.4 660.7,973.5 661.0,972.9 661.4,973.8 661.7,973.8 662.0,973.8 662.3,973.3 662.6,973.6 662.9,973.1 663.3,973.8 663.6,973.7 663.9,973.1 664.2,972.7 664.5,973.0 664.8,972.8 665.2,972.6 665.5,971.5 665.8,970.1 666.1,970.2 666.4,968.9 666.7,969.7 667.1,969.5 667.4,970.5 667.7,971.9 668.0,971.8 668.3,972.3 668.6,973.0 669.0,973.4 669.3,973.6 669.6,973.5 669.9,973.8 670.2,973.3 670.5,973.8 670.9,972.8 671.2,972.9 671.5,973.3 671.8,973.0 672.1,973.5 672.4,973.4 672.8,973.3 673.1,973.7 673.4,973.3 673.7,973.0 674.0,973.1 674.3,973.7 674.7,973.8 675.0,972.9 675.3,973.7 675.6,973.8 675.9,973.3 676.2,973.4 676.6,972.9 676.9,973.3 677.2,973.3 677.5,973.4 677.8,972.7 678.1,973.8 678.5,973.3 678.8,973.2 679.1,973.6 679.4,973.3 679.7,973.3 680.0,973.5 680.4,972.7 680.7,973.3 681.0,973.2 681.3,973.8 681.6,973.8 681.9,973.0 682.3,973.2 682.6,972.8 682.9,973.2 683.2,973.6 683.5,973.8 683.8,973.2 684.2,973.1 684.5,972.9 684.8,973.4 685.1,973.8 685.4,972.8 685.8,973.6 686.1,972.7 686.4,972.9 686.7,972.9 687.0,973.5 687.3,973.0 687.7,973.0 688.0,973.2 688.3,972.1 688.6,971.6 688.9,968.4 689.2,964.4 689.6,957.4 689.9,949.0 690.2,941.1 690.5,935.1 690.8,933.8 691.1,937.5 691.5,945.0 691.8,953.2 692.1,961.0 692.4,967.0 692.7,970.5 693.0,972.1 693.4,973.3 693.7,973.3 694.0,973.7 694.3,972.9 694.6,973.6 694.9,973.6 695.3,973.8 695.6,973.0 695.9,973.0 696.2,973.8 696.5,972.9 696.8,973.9 697.2,973.7 697.5,972.8 697.8,973.0 698.1,973.5 698.4,973.0 698.7,972.7 699.1,973.3 699.4,972.1 699.7,970.7 700.0,966.3 700.3,960.0 700.6,950.4 701.0,937.2 701.3,925.2 701.6,917.2 701.9,915.6 702.2,921.1 702.5,931.0 702.9,944.2 703.2,955.9 703.5,963.8 703.8,969.1 704.1,971.1 704.4,972.1 704.8,972.6 705.1,972.7 705.4,973.3 705.7,973.3 706.0,973.4 706.3,972.8 706.7,972.9 707.0,972.9 707.3,973.7 707.6,973.9 707.9,973.8 708.2,972.8 708.6,972.7 708.9,973.8 709.2,973.2 709.5,973.6 709.8,973.1 710.1,973.2 710.5,973.3 710.8,973.2 711.1,973.4 711.4,972.7 711.7,973.5 712.0,973.7 712.4,972.9 712.7,973.2 713.0,973.6 713.3,973.2 713.6,972.9 713.9,972.9 714.3,973.3 714.6,972.7 714.9,973.7 715.2,973.6 715.5,973.5 715.8,973.7 716.2,973.4 716.5,973.2 716.8,973.4 717.1,973.3 717.4,973.8 717.7,973.6 718.1,973.0 718.4,973.8 718.7,973.6 719.0,973.6 719.3,973.6 719.6,973.2 720.0,973.7 720.3,973.7 720.6,973.5 720.9,973.6 721.2,973.6 721.5,973.2 721.9,973.5 722.2,972.8 722.5,973.1 722.8,973.2 723.1,972.7 723.4,973.1 723.8,973.4 724.1,973.4 724.4,972.9 724.7,973.8 725.0,973.5 725.4,973.1 725.7,973.5 726.0,973.4 726.3,973.3 726.6,973.1 726.9,973.9 727.3,973.4 727.6,973.5 727.9,973.6 728.2,973.8 728.5,972.7 728.8,973.4 729.2,973.6 729.5,973.0 729.8,973.2 730.1,972.7 730.4,972.9 730.7,973.1 731.1,972.8 731.4,973.0 731.7,973.8 732.0,973.3 732.3,973.3 732.6,973.8 733.0,973.4 733.3,973.9 733.6,973.4 733.9,973.6 734.2,972.8 734.5,973.4 734.9,973.6 735.2,972.7 735.5,973.8 735.8,972.9 736.1,973.2 736.4,972.8 736.8,973.1 737.1,973.0 737.4,971.7 737.7,971.6 738.0,968.8 738.3,965.9 738.7,962.4 739.0,958.8 739.3,956.7 739.6,957.1 739.9,959.0 740.2,962.0 740.6,966.1 740.9,968.4 741.2,969.7 741.5,970.2 741.8,968.8 742.1,966.3 742.5,963.3 742.8,958.9 743.1,956.4 743.4,955.0 743.7,955.4 744.0,959.6 744.4,963.6 744.7,966.3 745.0,970.2 745.3,971.5 745.6,972.5 745.9,973.6 746.3,972.9 746.6,973.3 746.9,973.8 747.2,973.5 747.5,973.2 747.8,973.8 748.2,973.7 748.5,973.4 748.8,972.8 749.1,973.4 749.4,973.2 749.7,972.9 750.1,972.7 750.4,973.3 750.7,972.8 751.0,973.2 751.3,973.5 751.6,973.2 752.0,973.0 752.3,973.4 752.6,973.2 752.9,973.6 753.2,973.3 753.5,973.9 753.9,973.8 754.2,973.6 754.5,973.0 754.8,972.8 755.1,973.7 755.4,973.6 755.8,973.4 756.1,973.1 756.4,973.0 756.7,973.5 757.0,973.3 757.3,973.4 757.7,973.4 758.0,973.6 758.3,972.9 758.6,973.0 758.9,973.8 759.2,973.8 759.6,973.7 759.9,972.7 760.2,972.7 760.5,973.0 760.8,973.2 761.1,973.4 761.5,972.8 761.8,973.3 762.1,972.8 762.4,972.8 762.7,973.5 763.0,973.3 763.4,973.4 763.7,973.1 764.0,973.2 764.3,972.9 764.6,973.1 765.0,973.6 765.3,973.7 765.6,972.8 765.9,972.8 766.2,973.6 766.5,973.4 766.9,973.6 767.2,972.9 767.5,973.2 767.8,973.0 768.1,973.6 768.4,973.1 768.8,973.5 769.1,973.9 769.4,973.1 769.7,973.3 770.0,973.6 770.3,973.8 770.7,973.2 771.0,973.1 771.3,972.8 771.6,973.7 771.9,972.8 772.2,972.8 772.6,973.3 772.9,973.2 773.2,973.5 773.5,973.0 773.8,973.5 774.1,972.5 774.5,972.4 774.8,972.6 775.1,971.5 775.4,971.3 775.7,971.6 776.0,971.6 776.4,971.3 776.7,971.5 777.0,972.2 777.3,973.0 777.6,972.8 777.9,972.7 778.3,973.5 778.6,973.3 778.9,973.8 779.2,973.8 779.5,973.8 779.8,973.2 780.2,973.6 780.5,973.0 780.8,973.1 781.1,973.1 781.4,973.8 781.7,973.7 782.1,973.0 782.4,973.1 782.7,973.1 783.0,973.1 783.3,973.1 783.6,973.1 784.0,972.9 784.3,973.3 784.6,973.6 784.9,973.3 785.2,973.7 785.5,973.3 785.9,972.9 786.2,973.6 786.5,973.7 786.8,973.0 787.1,972.7 787.4,973.3 787.8,973.3 788.1,973.4 788.4,973.8 788.7,973.5 789.0,973.6 789.3,972.7 789.7,973.3 790.0,973.6 790.3,972.8 790.6,972.8 790.9,973.6 791.2,973.7 791.6,972.8 791.9,973.4 792.2,972.8 792.5,973.6 792.8,973.4 793.1,972.9 793.5,972.9 793.8,973.4 794.1,972.9 794.4,972.9 794.7,972.1 795.0,971.6 795.4,972.0 795.7,971.5 796.0,971.4 796.3,971.8 796.6,972.4 796.9,972.8 797.3,973.4 797.6,973.0 797.9,973.6 798.2,973.4 798.5,973.7 798.8,973.6 799.2,973.7 799.5,973.7 799.8,973.8 800.1,973.4 800.4,973.3 800.7,973.5 801.1,973.6 801.4,973.2 801.7,973.2 802.0,972.8 802.3,973.6 802.6,973.9 803.0,973.1 803.3,972.9 803.6,972.9 803.9,973.2 804.2,973.0 804.6,973.8 804.9,972.7 805.2,973.0 805.5,972.8 805.8,973.4 806.1,973.6 806.5,972.9 806.8,972.7 807.1,973.2 807.4,973.4 807.7,973.8 808.0,972.7 808.4,972.8 808.7,972.9 809.0,972.9 809.3,973.0 809.6,973.5 809.9,973.4 810.3,972.9 810.6,972.9 810.9,973.0 811.2,972.9 811.5,973.6 811.8,973.0 812.2,973.3 812.5,973.7 812.8,973.2 813.1,973.0 813.4,973.7 813.7,973.8 814.1,973.1 814.4,973.3 814.7,973.8 815.0,973.2 815.3,972.9 815.6,972.7 816.0,973.8 816.3,973.6 816.6,973.1 816.9,973.3 817.2,973.3 817.5,973.0 817.9,973.9 818.2,973.5 818.5,973.0 818.8,972.7 819.1,973.2 819.4,973.1 819.8,973.6 820.1,973.5 820.4,973.4 820.7,972.9 821.0,972.9 821.3,973.1 821.7,973.0 822.0,973.7 822.3,973.3 822.6,973.4 822.9,973.9 823.2,973.0 823.6,973.3 823.9,972.9 824.2,973.6 824.5,972.7 824.8,973.7 825.1,973.7 825.5,973.7 825.8,972.8 826.1,973.0 826.4,973.5 826.7,972.8 827.0,973.2 827.4,973.2 827.7,973.8 828.0,973.4 828.3,973.7 828.6,973.0 828.9,973.6 829.3,973.2 829.6,973.8 829.9,972.8 830.2,973.7 830.5,972.9 830.8,973.3 831.2,973.3 831.5,972.9 831.8,973.7 832.1,973.0 832.4,973.0 832.7,972.8 833.1,973.0 833.4,973.2 833.7,973.5 834.0,973.1 834.3,973.5 834.6,972.8 835.0,973.1 835.3,973.2 835.6,973.8 835.9,973.7 836.2,973.5 836.5,972.7 836.9,973.1 837.2,973.5 837.5,973.0 837.8,973.3 838.1,973.2 838.4,972.7 838.8,973.9 839.1,973.6 839.4,972.9 839.7,973.4 840.0,973.0 840.3,973.1 840.7,973.3 841.0,973.0 841.3,973.1 841.6,973.1 841.9,973.5 842.2,973.0 842.6,972.9 842.9,973.5 843.2,973.1 843.5,973.8 843.8,973.3 844.2,973.5 844.5,973.1 844.8,973.7 845.1,972.8 845.4,972.8 845.7,972.8 846.1,973.5 846.4,973.5 846.7,972.9 847.0,973.2 847.3,973.7 847.6,973.4 848.0,972.8 848.3,972.9 848.6,972.9 848.9,972.8 849.2,973.2 849.5,972.8 849.9,973.8 850.2,973.2 850.5,973.3 850.8,973.4 851.1,973.6 851.4,973.7 851.8,973.1 852.1,973.1 852.4,973.2 852.7,972.7 853.0,973.2 853.3,973.5 853.7,973.8 854.0,973.6 854.3,973.5 854.6,973.4 854.9,972.7 855.2,973.1 855.6,973.1 855.9,973.5 856.2,972.8 856.5,973.1 856.8,973.3 857.1,973.6 857.5,973.7 857.8,973.4 858.1,972.9 858.4,973.6 858.7,973.8 859.0,973.3 859.4,973.1 859.7,973.3 860.0,972.8 860.3,973.5 860.6,973.9 860.9,973.3 861.3,973.5 861.6,973.7 861.9,972.9 862.2,973.8 862.5,973.4 862.8,972.9 863.2,972.8 863.5,973.0 863.8,973.4 864.1,973.5 864.4,973.1 864.7,973.8 865.1,973.1 865.4,973.2 865.7,972.8 866.0,973.8 866.3,972.8 866.6,973.8 867.0,973.3 867.3,973.3 867.6,973.3 867.9,973.0 868.2,973.8 868.5,973.9 868.9,973.7 869.2,973.4 869.5,972.8 869.8,973.7 870.1,973.0 870.4,973.7 870.8,973.0 871.1,973.4 871.4,973.7 871.7,972.9 872.0,973.3 872.3,972.8 872.7,972.7 873.0,972.9 873.3,973.9 873.6,973.8 873.9,973.5 874.2,973.0 874.6,973.5 874.9,973.6 875.2,973.1 875.5,973.4 875.8,973.6 876.1,972.7 876.5,972.9 876.8,973.2 877.1,972.8 877.4,973.1 877.7,973.4 878.0,972.9 878.4,973.3 878.7,973.0 879.0,973.4 879.3,973.1 879.6,973.4 879.9,972.7 880.3,973.5 880.6,972.8 880.9,973.8 881.2,973.4 881.5,973.2 881.8,973.2 882.2,973.4 882.5,973.5 882.8,973.6 883.1,973.6 883.4,973.3 883.8,973.9 884.1,973.7 884.4,973.7 884.7,973.2 885.0,973.2 885.3,973.3 885.7,973.8 886.0,973.3 886.3,973.3 886.6,973.2 886.9,973.8 887.2,973.1 887.6,972.7 887.9,973.5 888.2,973.8 888.5,973.5 888.8,973.4 889.1,973.6 889.5,973.0 889.8,973.4 890.1,972.8 890.4,972.8 890.7,973.2 891.0,973.3 891.4,973.1 891.7,972.7 892.0,973.5 892.3,973.3 892.6,973.0 892.9,973.0 893.3,973.1 893.6,973.0 893.9,972.8 894.2,973.8 894.5,973.8 894.8,973.5 895.2,973.7 895.5,973.2 895.8,973.6 896.1,972.9 896.4,973.6 896.7,973.4 897.1,973.8 897.4,972.8 897.7,973.6 898.0,972.8 898.3,973.3 898.6,973.8 899.0,972.7 899.3,973.0 899.6,973.0 899.9,973.1 900.2,972.7 900.5,973.7 900.9,973.6 901.2,973.1 901.5,973.1 901.8,973.4 902.1,972.7 902.4,972.7 902.8,973.7 903.1,973.0 903.4,973.3 903.7,973.8 904.0,973.8 904.3,973.1 904.7,972.7 905.0,972.5 905.3,972.8 905.6,972.2 905.9,970.8 906.2,971.1 906.6,970.3 906.9,970.6 907.2,970.8 907.5,972.2 907.8,972.9 908.1,972.4 908.5,973.2 908.8,972.8 909.1,973.7 909.4,972.7 909.7,972.8 910.0,973.5 910.4,973.0 910.7,973.8 911.0,973.7 911.3,973.5 911.6,972.8 911.9,973.5 912.3,973.8 912.6,973.2 912.9,972.8 913.2,972.9 913.5,973.0 913.8,973.5 914.2,972.9 914.5,972.9 914.8,973.0 915.1,973.5 915.4,973.6 915.7,973.1 916.1,973.5 916.4,973.7 916.7,973.4 917.0,972.9 917.3,973.0 917.6,973.8 918.0,973.5 918.3,973.0 918.6,973.4 918.9,972.8 919.2,973.8 919.5,973.2 919.9,973.3 920.2,973.3 920.5,972.7 920.8,973.4 921.1,973.0 921.4,973.0 921.8,973.6 922.1,972.8 922.4,973.0 922.7,973.6 923.0,973.0 923.4,973.0 923.7,973.3 924.0,972.9 924.3,973.7 924.6,973.9 924.9,972.7 925.3,973.2 925.6,973.6 925.9,973.1 926.2,973.8 926.5,973.3 926.8,972.9 927.2,973.3 927.5,973.4 927.8,973.1 928.1,973.4 928.4,973.4 928.7,972.9 929.1,972.6 929.4,972.6 929.7,972.0 930.0,971.4 930.3,971.8 930.6,971.0 931.0,972.1 931.3,971.8 931.6,972.7 931.9,972.6 932.2,973.0 932.5,973.5 932.9,973.6 933.2,973.6 933.5,973.0 933.8,973.3 934.1,972.9 934.4,973.4 934.8,973.3 935.1,972.7 935.4,973.4 935.7,973.5 936.0,973.4 936.3,973.7 936.7,972.9 937.0,972.9 937.3,972.7 937.6,973.3 937.9,973.2 938.2,973.2 938.6,973.0 938.9,973.6 939.2,972.8 939.5,973.8 939.8,973.4 940.1,973.3 940.5,973.6 940.8,973.0 941.1,972.8 941.4,973.0 941.7,972.7 942.0,973.0 942.4,973.4 942.7,973.3 943.0,973.0 943.3,973.4 943.6,972.8 943.9,973.7 944.3,972.9 944.6,973.0 944.9,972.9 945.2,973.5 945.5,973.7 945.8,973.6 946.2,972.7 946.5,973.2 946.8,973.1 947.1,972.9 947.4,973.8 947.7,972.7 948.1,973.3 948.4,973.6 948.7,973.9 949.0,972.8 949.3,973.2 949.6,973.6 950.0,972.7 950.3,973.0 950.6,973.7 950.9,972.8 951.2,973.1 951.5,973.0 951.9,973.2 952.2,972.8 952.5,972.7 952.8,973.9 953.1,973.6 953.4,973.6 953.8,972.9 954.1,973.0 954.4,973.3 954.7,973.0 955.0,973.2 955.3,973.8 955.7,973.1 956.0,973.1 956.3,973.8 956.6,973.4 956.9,972.7 957.2,973.2 957.6,973.4 957.9,972.7 958.2,973.1 958.5,973.5 958.8,973.7 959.1,973.4 959.5,973.7 959.8,973.2 960.1,973.1 960.4,973.7 960.7,973.1 961.0,973.6 961.4,972.9 961.7,973.1 962.0,972.9" fill="none" stroke="#f020f0" stroke-width="2.0" stroke-linejoin="round"/>
<polyline points="566.0,1036.4 566.3,1036.7 566.6,1036.7 567.0,1036.0 567.3,1035.9 567.6,1036.3 567.9,1036.2 568.2,1036.8 568.5,1036.7 568.9,1036.6 569.2,1036.5 569.5,1036.7 569.8,1036.0 570.1,1036.4 570.4,1036.1 570.8,1036.9 571.1,1035.9 571.4,1036.8 571.7,1036.0 572.0,1036.7 572.3,1036.3 572.7,1036.3 573.0,1036.9 573.3,1035.9 573.6,1035.9 573.9,1037.0 574.2,1036.5 574.6,1036.0 574.9,1037.0 575.2,1037.0 575.5,1036.0 575.8,1036.4 576.1,1036.0 576.5,1036.2 576.8,1036.6 577.1,1036.1 577.4,1036.7 577.7,1035.9 578.0,1036.1 578.4,1036.8 578.7,1036.3 579.0,1036.4 579.3,1036.6 579.6,1036.4 579.9,1036.3 580.3,1035.9 580.6,1036.7 580.9,1037.0 581.2,1037.0 581.5,1036.7 581.8,1036.3 582.2,1036.3 582.5,1036.7 582.8,1036.7 583.1,1036.0 583.4,1036.1 583.7,1036.3 584.1,1036.5 584.4,1036.8 584.7,1036.4 585.0,1035.7 585.3,1036.4 585.6,1035.3 586.0,1034.4 586.3,1032.6 586.6,1031.1 586.9,1029.5 587.2,1029.0 587.5,1028.2 587.9,1029.7 588.2,1030.8 588.5,1033.2 588.8,1033.8 589.1,1035.1 589.4,1035.8 589.8,1036.4 590.1,1035.9 590.4,1036.4 590.7,1036.1 591.0,1036.1 591.3,1036.2 591.7,1036.5 592.0,1035.3 592.3,1034.7 592.6,1032.2 592.9,1031.2 593.2,1028.8 593.6,1027.5 593.9,1028.2 594.2,1029.5 594.5,1030.1 594.8,1032.3 595.1,1034.5 595.5,1035.1 595.8,1035.6 596.1,1035.7 596.4,1035.8 596.7,1036.6 597.0,1037.0 597.4,1037.1 597.7,1036.5 598.0,1035.9 598.3,1036.2 598.6,1036.8 598.9,1036.9 599.3,1036.6 599.6,1036.1 599.9,1036.5 600.2,1036.4 600.5,1036.6 600.8,1036.2 601.2,1037.0 601.5,1036.9 601.8,1036.1 602.1,1036.2 602.4,1036.9 602.7,1036.2 603.1,1037.0 603.4,1036.5 603.7,1036.7 604.0,1036.7 604.3,1036.1 604.6,1036.2 605.0,1036.2 605.3,1036.7 605.6,1036.7 605.9,1036.0 606.2,1036.9 606.6,1036.4 606.9,1036.2 607.2,1036.4 607.5,1037.0 607.8,1036.5 608.1,1036.6 608.5,1037.0 608.8,1037.0 609.1,1036.8 609.4,1036.4 609.7,1036.6 610.0,1036.9 610.4,1036.8 610.7,1036.6 611.0,1036.3 611.3,1036.3 611.6,1036.7 611.9,1036.5 612.3,1035.9 612.6,1036.7 612.9,1036.9 613.2,1036.8 613.5,1036.9 613.8,1037.0 614.2,1036.5 614.5,1036.8 614.8,1036.3 615.1,1036.0 615.4,1036.3 615.7,1036.2 616.1,1037.0 616.4,1036.7 616.7,1036.5 617.0,1036.6 617.3,1036.0 617.6,1036.5 618.0,1036.7 618.3,1036.3 618.6,1036.2 618.9,1036.3 619.2,1036.2 619.5,1036.7 619.9,1036.0 620.2,1036.0 620.5,1036.2 620.8,1036.7 621.1,1036.8 621.4,1036.7 621.8,1037.0 622.1,1036.3 622.4,1035.9 622.7,1036.4 623.0,1036.4 623.3,1036.1 623.7,1036.7 624.0,1036.3 624.3,1036.1 624.6,1036.3 624.9,1037.0 625.2,1035.9 625.6,1036.3 625.9,1036.2 626.2,1036.1 626.5,1036.4 626.8,1036.1 627.1,1036.8 627.5,1036.1 627.8,1035.9 628.1,1034.7 628.4,1034.2 628.7,1033.6 629.0,1033.2 629.4,1032.2 629.7,1032.7 630.0,1033.9 630.3,1034.7 630.6,1034.8 630.9,1035.8 631.3,1036.4 631.6,1036.2 631.9,1036.6 632.2,1036.6 632.5,1037.0 632.8,1036.5 633.2,1036.7 633.5,1036.3 633.8,1036.7 634.1,1036.2 634.4,1036.5 634.7,1036.3 635.1,1036.2 635.4,1036.0 635.7,1036.1 636.0,1036.4 636.3,1035.9 636.6,1035.1 637.0,1035.0 637.3,1032.4 637.6,1030.1 637.9,1025.7 638.2,1021.2 638.5,1018.4 638.9,1017.2 639.2,1017.8 639.5,1020.9 639.8,1025.7 640.1,1030.0 640.4,1032.8 640.8,1035.0 641.1,1035.6 641.4,1036.3 641.7,1036.1 642.0,1036.3 642.3,1036.3 642.7,1036.3 643.0,1036.3 643.3,1036.8 643.6,1036.1 643.9,1036.1 644.2,1036.2 644.6,1037.0 644.9,1036.5 645.2,1035.9 645.5,1036.9 645.8,1036.9 646.2,1036.8 646.5,1036.3 646.8,1036.7 647.1,1036.2 647.4,1036.0 647.7,1036.9 648.1,1036.9 648.4,1036.1 648.7,1036.9 649.0,1035.9 649.3,1036.2 649.6,1035.9 650.0,1036.1 650.3,1036.1 650.6,1036.7 650.9,1036.2 651.2,1036.1 651.5,1036.1 651.9,1036.2 652.2,1036.9 652.5,1036.6 652.8,1036.0 653.1,1036.7 653.4,1036.5 653.8,1036.4 654.1,1036.5 654.4,1036.6 654.7,1036.8 655.0,1036.5 655.3,1036.6 655.7,1036.4 656.0,1036.6 656.3,1036.3 656.6,1036.4 656.9,1036.5 657.2,1036.7 657.6,1036.2 657.9,1037.0 658.2,1036.5 658.5,1036.9 658.8,1036.7 659.1,1037.0 659.5,1036.7 659.8,1036.4 660.1,1036.3 660.4,1036.6 660.7,1036.8 661.0,1036.9 661.4,1036.0 661.7,1035.9 662.0,1036.0 662.3,1036.0 662.6,1035.9 662.9,1035.9 663.3,1036.2 663.6,1036.0 663.9,1036.7 664.2,1036.6 664.5,1037.0 664.8,1037.0 665.2,1036.8 665.5,1037.0 665.8,1035.9 666.1,1036.1 666.4,1037.0 666.7,1036.4 667.1,1036.1 667.4,1036.8 667.7,1036.4 668.0,1036.5 668.3,1036.2 668.6,1036.2 669.0,1036.0 669.3,1036.6 669.6,1037.0 669.9,1037.0 670.2,1036.8 670.5,1037.0 670.9,1036.3 671.2,1036.2 671.5,1037.0 671.8,1036.6 672.1,1036.7 672.4,1035.9 672.8,1036.1 673.1,1036.4 673.4,1036.7 673.7,1036.9 674.0,1036.8 674.3,1036.3 674.7,1036.3 675.0,1036.9 675.3,1037.0 675.6,1036.4 675.9,1036.1 676.2,1036.6 676.6,1036.5 676.9,1036.3 677.2,1036.1 677.5,1036.3 677.8,1036.6 678.1,1036.0 678.5,1036.5 678.8,1037.0 679.1,1036.8 679.4,1036.2 679.7,1036.4 680.0,1036.0 680.4,1036.7 680.7,1036.6 681.0,1036.1 681.3,1036.5 681.6,1036.6 681.9,1036.6 682.3,1036.3 682.6,1036.2 682.9,1036.3 683.2,1037.1 683.5,1036.3 683.8,1036.5 684.2,1036.4 684.5,1036.1 684.8,1036.3 685.1,1036.1 685.4,1036.2 685.8,1036.3 686.1,1036.3 686.4,1037.0 686.7,1036.2 687.0,1036.3 687.3,1036.6 687.7,1036.2 688.0,1036.1 688.3,1035.5 688.6,1033.1 688.9,1030.1 689.2,1022.8 689.6,1013.1 689.9,1001.4 690.2,989.3 690.5,980.4 690.8,977.9 691.1,983.7 691.5,994.4 691.8,1007.8 692.1,1018.4 692.4,1026.6 692.7,1032.2 693.0,1034.8 693.4,1035.9 693.7,1036.2 694.0,1037.0 694.3,1036.4 694.6,1037.0 694.9,1036.3 695.3,1036.4 695.6,1036.3 695.9,1036.7 696.2,1036.8 696.5,1036.1 696.8,1036.5 697.2,1036.7 697.5,1036.5 697.8,1036.7 698.1,1036.6 698.4,1036.7 698.7,1036.3 699.1,1036.1 699.4,1035.6 699.7,1036.1 700.0,1034.8 700.3,1032.3 700.6,1030.0 701.0,1026.2 701.3,1021.5 701.6,1019.7 701.9,1018.7 702.2,1020.2 702.5,1023.5 702.9,1027.5 703.2,1030.5 703.5,1033.0 703.8,1034.7 704.1,1035.7 704.4,1035.9 704.8,1035.9 705.1,1036.8 705.4,1036.3 705.7,1036.4 706.0,1036.6 706.3,1037.0 706.7,1036.0 707.0,1036.1 707.3,1036.9 707.6,1037.0 707.9,1037.0 708.2,1036.5 708.6,1036.3 708.9,1036.1 709.2,1037.0 709.5,1036.8 709.8,1036.5 710.1,1036.8 710.5,1036.2 710.8,1036.5 711.1,1036.9 711.4,1036.0 711.7,1036.6 712.0,1036.1 712.4,1036.9 712.7,1036.9 713.0,1036.6 713.3,1036.4 713.6,1035.9 713.9,1036.5 714.3,1036.3 714.6,1036.3 714.9,1036.0 715.2,1037.0 715.5,1036.5 715.8,1036.5 716.2,1036.9 716.5,1036.9 716.8,1036.5 717.1,1036.5 717.4,1036.9 717.7,1036.3 718.1,1036.9 718.4,1035.9 718.7,1036.8 719.0,1036.5 719.3,1036.6 719.6,1037.0 720.0,1036.1 720.3,1036.4 720.6,1036.8 720.9,1036.8 721.2,1036.5 721.5,1036.8 721.9,1036.7 722.2,1036.9 722.5,1036.6 722.8,1036.3 723.1,1036.2 723.4,1036.0 723.8,1036.0 724.1,1035.9 724.4,1037.0 724.7,1036.0 725.0,1036.6 725.4,1036.0 725.7,1037.0 726.0,1036.5 726.3,1036.1 726.6,1036.9 726.9,1036.9 727.3,1037.0 727.6,1036.1 727.9,1036.3 728.2,1036.7 728.5,1036.2 728.8,1036.5 729.2,1036.7 729.5,1036.8 729.8,1036.9 730.1,1036.8 730.4,1036.2 730.7,1036.8 731.1,1036.4 731.4,1036.1 731.7,1035.9 732.0,1036.6 732.3,1036.3 732.6,1036.0 733.0,1036.4 733.3,1036.4 733.6,1036.3 733.9,1036.5 734.2,1036.5 734.5,1036.5 734.9,1037.0 735.2,1036.9 735.5,1036.2 735.8,1036.9 736.1,1036.2 736.4,1037.0 736.8,1035.9 737.1,1036.1 737.4,1036.7 737.7,1036.1 738.0,1035.7 738.3,1034.3 738.7,1033.4 739.0,1033.6 739.3,1032.1 739.6,1032.2 739.9,1033.0 740.2,1034.2 740.6,1034.8 740.9,1035.5 741.2,1034.9 741.5,1033.0 741.8,1030.4 742.1,1024.6 742.5,1017.4 742.8,1011.2 743.1,1005.5 743.4,1003.1 743.7,1005.0 744.0,1010.3 744.4,1017.6 744.7,1024.3 745.0,1029.5 745.3,1033.3 745.6,1035.6 745.9,1036.5 746.3,1036.3 746.6,1036.6 746.9,1036.4 747.2,1036.8 747.5,1036.7 747.8,1037.0 748.2,1036.9 748.5,1036.7 748.8,1036.6 749.1,1036.1 749.4,1036.4 749.7,1036.4 750.1,1036.0 750.4,1036.1 750.7,1036.4 751.0,1036.1 751.3,1036.6 751.6,1036.3 752.0,1037.0 752.3,1036.7 752.6,1036.5 752.9,1036.4 753.2,1036.3 753.5,1036.1 753.9,1037.0 754.2,1037.0 754.5,1036.6 754.8,1036.6 755.1,1036.0 755.4,1036.5 755.8,1036.1 756.1,1036.3 756.4,1036.6 756.7,1036.1 757.0,1036.1 757.3,1036.7 757.7,1036.4 758.0,1036.9 758.3,1036.1 758.6,1036.0 758.9,1037.0 759.2,1036.6 759.6,1036.7 759.9,1036.5 760.2,1036.0 760.5,1037.0 760.8,1036.5 761.1,1037.0 761.5,1036.0 761.8,1036.2 762.1,1036.5 762.4,1036.2 762.7,1036.9 763.0,1036.2 763.4,1036.0 763.7,1036.1 764.0,1036.2 764.3,1037.0 764.6,1036.9 765.0,1036.7 765.3,1036.4 765.6,1035.9 765.9,1036.9 766.2,1036.0 766.5,1036.1 766.9,1036.4 767.2,1036.9 767.5,1036.1 767.8,1035.9 768.1,1037.0 768.4,1035.9 768.8,1036.7 769.1,1036.0 769.4,1036.2 769.7,1036.1 770.0,1036.4 770.3,1037.0 770.7,1036.9 771.0,1036.5 771.3,1036.0 771.6,1036.1 771.9,1036.2 772.2,1036.8 772.6,1037.0 772.9,1035.9 773.2,1036.3 773.5,1037.0 773.8,1036.0 774.1,1036.0 774.5,1036.2 774.8,1036.9 775.1,1036.2 775.4,1036.7 775.7,1036.0 776.0,1036.7 776.4,1036.1 776.7,1036.6 777.0,1036.8 777.3,1036.9 777.6,1036.4 777.9,1037.0 778.3,1036.3 778.6,1037.0 778.9,1037.0 779.2,1037.1 779.5,1036.0 779.8,1036.2 780.2,1036.7 780.5,1036.9 780.8,1036.2 781.1,1036.8 781.4,1036.4 781.7,1035.9 782.1,1036.0 782.4,1035.9 782.7,1036.1 783.0,1037.0 783.3,1036.7 783.6,1036.9 784.0,1037.0 784.3,1036.3 784.6,1036.7 784.9,1036.6 785.2,1036.7 785.5,1036.0 785.9,1036.9 786.2,1036.0 786.5,1036.4 786.8,1036.7 787.1,1036.8 787.4,1036.9 787.8,1036.2 788.1,1036.2 788.4,1036.7 788.7,1035.9 789.0,1036.9 789.3,1036.2 789.7,1036.3 790.0,1036.2 790.3,1036.7 790.6,1036.1 790.9,1036.0 791.2,1035.9 791.6,1036.0 791.9,1036.6 792.2,1037.0 792.5,1035.9 792.8,1036.4 793.1,1036.2 793.5,1036.1 793.8,1035.9 794.1,1035.2 794.4,1035.0 794.7,1034.0 795.0,1032.9 795.4,1032.3 795.7,1033.0 796.0,1033.0 796.3,1034.0 796.6,1034.7 796.9,1035.4 797.3,1035.4 797.6,1035.6 797.9,1036.9 798.2,1036.6 798.5,1036.7 798.8,1036.0 799.2,1036.8 799.5,1036.5 799.8,1036.0 800.1,1036.1 800.4,1037.0 800.7,1036.6 801.1,1036.0 801.4,1036.0 801.7,1036.8 802.0,1036.3 802.3,1036.4 802.6,1036.0 803.0,1036.1 803.3,1036.5 803.6,1036.4 803.9,1036.1 804.2,1036.0 804.6,1036.4 804.9,1036.0 805.2,1035.9 805.5,1036.4 805.8,1035.9 806.1,1036.7 806.5,1036.8 806.8,1036.7 807.1,1037.0 807.4,1036.1 807.7,1036.4 808.0,1036.4 808.4,1035.9 808.7,1036.9 809.0,1035.9 809.3,1037.0 809.6,1036.7 809.9,1037.0 810.3,1035.9 810.6,1036.9 810.9,1037.0 811.2,1036.8 811.5,1036.6 811.8,1036.6 812.2,1036.4 812.5,1036.9 812.8,1036.6 813.1,1036.5 813.4,1036.3 813.7,1036.6 814.1,1036.6 814.4,1037.0 814.7,1036.8 815.0,1036.3 815.3,1036.7 815.6,1036.1 816.0,1036.4 816.3,1036.5 816.6,1036.7 816.9,1035.9 817.2,1036.0 817.5,1036.1 817.9,1036.6 818.2,1036.1 818.5,1036.5 818.8,1036.9 819.1,1036.4 819.4,1036.1 819.8,1036.6 820.1,1036.4 820.4,1036.4 820.7,1036.1 821.0,1036.7 821.3,1036.3 821.7,1037.0 822.0,1036.5 822.3,1036.7 822.6,1037.0 822.9,1037.0 823.2,1035.9 823.6,1037.0 823.9,1036.0 824.2,1037.0 824.5,1036.8 824.8,1036.2 825.1,1036.7 825.5,1036.5 825.8,1036.4 826.1,1036.6 826.4,1036.4 826.7,1036.7 827.0,1036.7 827.4,1035.9 827.7,1036.6 828.0,1036.7 828.3,1036.9 828.6,1036.5 828.9,1036.5 829.3,1036.0 829.6,1036.1 829.9,1036.9 830.2,1035.9 830.5,1036.9 830.8,1036.0 831.2,1036.3 831.5,1036.6 831.8,1035.9 832.1,1036.4 832.4,1036.8 832.7,1036.3 833.1,1036.1 833.4,1035.9 833.7,1037.0 834.0,1036.0 834.3,1036.7 834.6,1036.6 835.0,1036.2 835.3,1036.5 835.6,1036.7 835.9,1036.1 836.2,1036.2 836.5,1037.0 836.9,1036.1 837.2,1036.4 837.5,1036.4 837.8,1036.8 838.1,1036.9 838.4,1036.8 838.8,1036.6 839.1,1036.5 839.4,1036.0 839.7,1036.6 840.0,1036.4 840.3,1036.8 840.7,1036.3 841.0,1036.0 841.3,1036.3 841.6,1036.9 841.9,1036.5 842.2,1036.7 842.6,1035.9 842.9,1036.1 843.2,1036.2 843.5,1036.4 843.8,1036.0 844.2,1037.0 844.5,1036.3 844.8,1035.9 845.1,1036.1 845.4,1036.5 845.7,1036.6 846.1,1036.8 846.4,1036.0 846.7,1037.0 847.0,1036.9 847.3,1036.5 847.6,1036.6 848.0,1036.2 848.3,1036.0 848.6,1035.9 848.9,1037.0 849.2,1036.9 849.5,1036.4 849.9,1036.6 850.2,1036.4 850.5,1036.7 850.8,1036.0 851.1,1036.8 851.4,1036.1 851.8,1036.6 852.1,1036.6 852.4,1036.9 852.7,1036.6 853.0,1036.1 853.3,1036.8 853.7,1036.3 854.0,1036.5 854.3,1036.8 854.6,1037.0 854.9,1036.0 855.2,1036.4 855.6,1036.2 855.9,1036.9 856.2,1036.3 856.5,1037.0 856.8,1036.8 857.1,1036.4 857.5,1036.8 857.8,1036.7 858.1,1036.0 858.4,1036.2 858.7,1036.0 859.0,1036.9 859.4,1036.3 859.7,1036.2 860.0,1036.7 860.3,1037.0 860.6,1036.0 860.9,1036.7 861.3,1036.1 861.6,1036.8 861.9,1036.8 862.2,1036.8 862.5,1036.6 862.8,1036.0 863.2,1036.9 863.5,1036.0 863.8,1036.6 864.1,1037.0 864.4,1036.2 864.7,1036.4 865.1,1036.7 865.4,1036.6 865.7,1036.2 866.0,1036.4 866.3,1036.9 866.6,1036.7 867.0,1036.1 867.3,1036.7 867.6,1036.9 867.9,1036.6 868.2,1036.9 868.5,1036.2 868.9,1036.2 869.2,1036.9 869.5,1036.2 869.8,1036.0 870.1,1036.0 870.4,1036.9 870.8,1036.8 871.1,1036.1 871.4,1036.8 871.7,1036.1 872.0,1036.6 872.3,1035.9 872.7,1036.6 873.0,1036.8 873.3,1036.5 873.6,1036.6 873.9,1036.0 874.2,1036.4 874.6,1036.8 874.9,1036.3 875.2,1036.8 875.5,1036.6 875.8,1036.8 876.1,1036.7 876.5,1036.2 876.8,1036.8 877.1,1036.8 877.4,1036.4 877.7,1036.7 878.0,1036.4 878.4,1036.6 878.7,1036.3 879.0,1036.4 879.3,1036.2 879.6,1036.9 879.9,1036.6 880.3,1036.6 880.6,1036.5 880.9,1036.4 881.2,1036.1 881.5,1036.6 881.8,1036.4 882.2,1036.3 882.5,1036.5 882.8,1036.0 883.1,1036.6 883.4,1036.8 883.8,1036.3 884.1,1036.1 884.4,1037.0 884.7,1036.6 885.0,1036.2 885.3,1036.0 885.7,1036.5 886.0,1036.1 886.3,1036.9 886.6,1036.7 886.9,1036.2 887.2,1036.3 887.6,1036.0 887.9,1036.1 888.2,1036.5 888.5,1036.9 888.8,1036.4 889.1,1037.0 889.5,1036.2 889.8,1036.0 890.1,1036.9 890.4,1036.3 890.7,1036.2 891.0,1036.4 891.4,1036.6 891.7,1036.1 892.0,1036.0 892.3,1036.6 892.6,1036.7 892.9,1036.5 893.3,1036.1 893.6,1036.9 893.9,1036.4 894.2,1036.5 894.5,1036.9 894.8,1036.0 895.2,1036.5 895.5,1036.4 895.8,1036.6 896.1,1036.1 896.4,1036.2 896.7,1036.1 897.1,1036.5 897.4,1036.2 897.7,1037.0 898.0,1036.9 898.3,1036.7 898.6,1036.3 899.0,1036.9 899.3,1036.6 899.6,1036.8 899.9,1037.0 900.2,1036.0 900.5,1036.8 900.9,1036.9 901.2,1036.3 901.5,1036.3 901.8,1035.9 902.1,1036.9 902.4,1036.1 902.8,1035.9 903.1,1036.0 903.4,1036.5 903.7,1036.6 904.0,1036.8 904.3,1036.3 904.7,1035.3 905.0,1035.5 905.3,1034.2 905.6,1032.5 905.9,1030.9 906.2,1029.5 906.6,1028.8 906.9,1029.4 907.2,1029.8 907.5,1032.7 907.8,1033.1 908.1,1034.9 908.5,1035.8 908.8,1036.2 909.1,1036.2 909.4,1036.4 909.7,1036.2 910.0,1036.7 910.4,1035.9 910.7,1036.3 911.0,1036.6 911.3,1036.4 911.6,1035.9 911.9,1036.4 912.3,1037.0 912.6,1036.5 912.9,1036.7 913.2,1036.3 913.5,1037.0 913.8,1036.5 914.2,1036.8 914.5,1036.6 914.8,1036.8 915.1,1036.3 915.4,1037.0 915.7,1037.0 916.1,1036.9 916.4,1037.0 916.7,1036.3 917.0,1036.3 917.3,1036.9 917.6,1036.9 918.0,1036.6 918.3,1036.5 918.6,1035.9 918.9,1036.5 919.2,1035.9 919.5,1036.5 919.9,1036.1 920.2,1036.6 920.5,1036.1 920.8,1036.3 921.1,1036.8 921.4,1036.6 921.8,1036.0 922.1,1037.0 922.4,1035.9 922.7,1036.4 923.0,1036.7 923.4,1036.6 923.7,1036.6 924.0,1036.9 924.3,1036.0 924.6,1036.5 924.9,1036.2 925.3,1036.6 925.6,1036.4 925.9,1036.6 926.2,1036.8 926.5,1036.5 926.8,1036.4 927.2,1036.5 927.5,1036.1 927.8,1036.9 928.1,1036.3 928.4,1036.3 928.7,1036.5 929.1,1036.2 929.4,1036.0 929.7,1035.2 930.0,1034.7 930.3,1034.4 930.6,1034.9 931.0,1035.1 931.3,1034.8 931.6,1035.9 931.9,1036.3 932.2,1036.1 932.5,1036.8 932.9,1036.7 933.2,1036.9 933.5,1036.2 933.8,1036.7 934.1,1036.5 934.4,1036.3 934.8,1036.2 935.1,1036.0 935.4,1036.9 935.7,1036.2 936.0,1036.3 936.3,1036.2 936.7,1036.5 937.0,1036.5 937.3,1036.9 937.6,1036.0 937.9,1036.3 938.2,1036.9 938.6,1036.8 938.9,1035.9 939.2,1036.4 939.5,1037.1 939.8,1037.0 940.1,1036.2 940.5,1036.8 940.8,1036.3 941.1,1035.9 941.4,1036.9 941.7,1036.0 942.0,1037.1 942.4,1036.4 942.7,1036.9 943.0,1036.4 943.3,1036.9 943.6,1036.8 943.9,1036.1 944.3,1035.9 944.6,1036.1 944.9,1036.6 945.2,1036.0 945.5,1035.9 945.8,1036.3 946.2,1035.9 946.5,1036.2 946.8,1036.6 947.1,1036.1 947.4,1036.8 947.7,1036.2 948.1,1036.3 948.4,1036.3 948.7,1036.9 949.0,1035.9 949.3,1036.8 949.6,1036.0 950.0,1037.0 950.3,1036.5 950.6,1036.8 950.9,1036.5 951.2,1036.7 951.5,1036.7 951.9,1036.0 952.2,1036.1 952.5,1037.0 952.8,1036.1 953.1,1036.2 953.4,1035.9 953.8,1036.7 954.1,1036.8 954.4,1035.9 954.7,1036.9 955.0,1036.0 955.3,1036.5 955.7,1036.5 956.0,1036.2 956.3,1036.2 956.6,1036.5 956.9,1036.8 957.2,1036.2 957.6,1036.1 957.9,1037.0 958.2,1036.2 958.5,1036.0 958.8,1037.0 959.1,1037.0 959.5,1036.1 959.8,1036.5 960.1,1036.9 960.4,1036.2 960.7,1036.3 961.0,1035.9 961.4,1036.0 961.7,1036.6 962.0,1036.5" fill="none" stroke="#1a1aee" stroke-width="2.0" stroke-linejoin="round"/>
<polyline points="566.0,1098.6 566.3,1099.1 566.6,1099.1 567.0,1099.3 567.3,1098.5 567.6,1098.5 567.9,1098.4 568.2,1098.5 568.5,1099.1 568.9,1098.4 569.2,1098.9 569.5,1098.5 569.8,1098.6 570.1,1098.8 570.4,1099.3 570.8,1099.0 571.1,1098.3 571.4,1098.6 571.7,1098.4 572.0,1099.3 572.3,1099.2 572.7,1099.2 573.0,1099.3 573.3,1099.2 573.6,1099.4 573.9,1099.2 574.2,1098.6 574.6,1099.3 574.9,1098.8 575.2,1099.2 575.5,1098.9 575.8,1098.8 576.1,1098.7 576.5,1098.8 576.8,1098.6 577.1,1098.4 577.4,1099.2 577.7,1099.2 578.0,1099.4 578.4,1099.1 578.7,1098.9 579.0,1099.2 579.3,1098.4 579.6,1099.1 579.9,1098.8 580.3,1098.5 580.6,1098.5 580.9,1098.9 581.2,1098.6 581.5,1098.8 581.8,1099.0 582.2,1098.7 582.5,1098.4 582.8,1098.9 583.1,1098.5 583.4,1098.5 583.7,1098.5 584.1,1098.7 584.4,1098.4 584.7,1099.0 585.0,1099.4 585.3,1098.7 585.6,1099.1 586.0,1099.4 586.3,1098.3 586.6,1098.4 586.9,1099.2 587.2,1099.3 587.5,1099.0 587.9,1098.5 588.2,1098.8 588.5,1099.3 588.8,1099.3 589.1,1099.2 589.4,1098.5 589.8,1099.3 590.1,1098.7 590.4,1099.1 590.7,1098.4 591.0,1099.4 591.3,1098.8 591.7,1098.6 592.0,1097.3 592.3,1096.6 592.6,1094.9 592.9,1093.0 593.2,1090.9 593.6,1090.2 593.9,1089.7 594.2,1090.8 594.5,1092.5 594.8,1095.0 595.1,1096.0 595.5,1097.3 595.8,1097.8 596.1,1098.8 596.4,1098.9 596.7,1098.9 597.0,1098.3 597.4,1098.8 597.7,1098.7 598.0,1098.4 598.3,1098.3 598.6,1099.5 598.9,1098.4 599.3,1098.6 599.6,1098.6 599.9,1099.0 600.2,1098.4 600.5,1098.8 600.8,1098.7 601.2,1099.3 601.5,1098.3 601.8,1098.7 602.1,1098.9 602.4,1099.4 602.7,1098.9 603.1,1098.8 603.4,1099.1 603.7,1098.6 604.0,1098.3 604.3,1098.9 604.6,1099.4 605.0,1099.1 605.3,1098.6 605.6,1099.1 605.9,1099.3 606.2,1098.6 606.6,1099.0 606.9,1098.7 607.2,1098.6 607.5,1098.6 607.8,1098.5 608.1,1098.7 608.5,1098.3 608.8,1098.7 609.1,1098.4 609.4,1099.2 609.7,1099.0 610.0,1098.3 610.4,1099.2 610.7,1098.5 611.0,1098.8 611.3,1098.9 611.6,1098.7 611.9,1098.6 612.3,1098.8 612.6,1098.4 612.9,1099.3 613.2,1098.4 613.5,1099.3 613.8,1098.5 614.2,1098.6 614.5,1098.7 614.8,1098.3 615.1,1098.4 615.4,1098.7 615.7,1098.8 616.1,1099.3 616.4,1099.5 616.7,1098.3 617.0,1098.9 617.3,1098.4 617.6,1099.2 618.0,1098.6 618.3,1099.3 618.6,1098.9 618.9,1098.4 619.2,1098.3 619.5,1098.6 619.9,1099.3 620.2,1098.4 620.5,1098.8 620.8,1098.7 621.1,1098.7 621.4,1099.2 621.8,1098.5 622.1,1099.1 622.4,1099.1 622.7,1099.4 623.0,1098.9 623.3,1099.4 623.7,1098.8 624.0,1099.0 624.3,1099.0 624.6,1099.3 624.9,1099.3 625.2,1098.4 625.6,1098.4 625.9,1098.9 626.2,1099.2 626.5,1098.9 626.8,1098.5 627.1,1099.2 627.5,1098.0 627.8,1097.2 628.1,1096.1 628.4,1094.8 628.7,1094.3 629.0,1092.5 629.4,1092.8 629.7,1093.4 630.0,1094.6 630.3,1095.7 630.6,1096.6 630.9,1097.8 631.3,1098.7 631.6,1098.9 631.9,1098.5 632.2,1099.1 632.5,1098.4 632.8,1098.6 633.2,1099.5 633.5,1098.8 633.8,1098.6 634.1,1099.2 634.4,1098.8 634.7,1098.3 635.1,1098.3 635.4,1098.6 635.7,1098.7 636.0,1099.4 636.3,1098.6 636.6,1099.3 637.0,1099.3 637.3,1098.8 637.6,1099.5 637.9,1099.2 638.2,1098.8 638.5,1098.6 638.9,1098.8 639.2,1099.3 639.5,1098.9 639.8,1098.5 640.1,1098.7 640.4,1098.8 640.8,1098.5 641.1,1099.0 641.4,1098.3 641.7,1099.2 642.0,1098.5 642.3,1098.4 642.7,1099.0 643.0,1098.6 643.3,1099.3 643.6,1098.9 643.9,1098.9 644.2,1099.3 644.6,1098.5 644.9,1099.2 645.2,1099.0 645.5,1098.8 645.8,1099.4 646.2,1098.3 646.5,1099.3 646.8,1098.4 647.1,1099.3 647.4,1098.4 647.7,1098.3 648.1,1098.9 648.4,1099.4 648.7,1098.6 649.0,1098.8 649.3,1099.0 649.6,1098.6 650.0,1098.9 650.3,1098.3 650.6,1098.8 650.9,1099.2 651.2,1098.7 651.5,1098.5 651.9,1098.3 652.2,1099.1 652.5,1098.8 652.8,1099.4 653.1,1099.2 653.4,1098.4 653.8,1099.4 654.1,1099.4 654.4,1099.2 654.7,1099.3 655.0,1099.1 655.3,1099.1 655.7,1099.1 656.0,1099.0 656.3,1098.6 656.6,1098.4 656.9,1099.1 657.2,1099.0 657.6,1098.3 657.9,1099.0 658.2,1099.0 658.5,1098.9 658.8,1099.2 659.1,1099.3 659.5,1098.7 659.8,1099.2 660.1,1098.9 660.4,1098.9 660.7,1098.8 661.0,1099.4 661.4,1098.8 661.7,1099.4 662.0,1098.7 662.3,1099.1 662.6,1099.4 662.9,1099.1 663.3,1098.7 663.6,1098.3 663.9,1098.8 664.2,1098.7 664.5,1099.1 664.8,1098.9 665.2,1098.8 665.5,1097.7 665.8,1097.2 666.1,1096.9 666.4,1096.8 666.7,1096.0 667.1,1096.5 667.4,1096.9 667.7,1097.6 668.0,1098.0 668.3,1099.1 668.6,1098.4 669.0,1099.3 669.3,1098.6 669.6,1098.5 669.9,1099.4 670.2,1098.4 670.5,1098.4 670.9,1098.4 671.2,1098.3 671.5,1098.7 671.8,1098.5 672.1,1098.5 672.4,1098.3 672.8,1099.1 673.1,1098.3 673.4,1098.5 673.7,1098.9 674.0,1099.3 674.3,1099.1 674.7,1099.1 675.0,1099.1 675.3,1099.2 675.6,1099.3 675.9,1098.4 676.2,1098.3 676.6,1099.0 676.9,1098.9 677.2,1098.9 677.5,1099.2 677.8,1098.5 678.1,1099.1 678.5,1098.8 678.8,1098.8 679.1,1098.6 679.4,1098.6 679.7,1099.0 680.0,1098.9 680.4,1099.4 680.7,1098.6 681.0,1099.1 681.3,1098.4 681.6,1099.0 681.9,1098.5 682.3,1099.3 682.6,1099.4 682.9,1098.6 683.2,1099.2 683.5,1098.5 683.8,1098.6 684.2,1098.4 684.5,1098.8 684.8,1098.4 685.1,1099.1 685.4,1099.0 685.8,1098.8 686.1,1099.1 686.4,1098.5 686.7,1098.7 687.0,1098.7 687.3,1098.3 687.7,1099.3 688.0,1098.4 688.3,1098.4 688.6,1099.2 688.9,1099.2 689.2,1098.8 689.6,1098.8 689.9,1098.4 690.2,1098.3 690.5,1098.9 690.8,1098.6 691.1,1098.4 691.5,1099.3 691.8,1098.3 692.1,1098.7 692.4,1099.2 692.7,1099.2 693.0,1098.4 693.4,1099.2 693.7,1098.9 694.0,1099.0 694.3,1099.4 694.6,1099.2 694.9,1099.0 695.3,1099.2 695.6,1098.9 695.9,1098.9 696.2,1099.2 696.5,1099.0 696.8,1098.7 697.2,1098.3 697.5,1099.2 697.8,1098.7 698.1,1098.8 698.4,1098.6 698.7,1098.8 699.1,1098.4 699.4,1098.2 699.7,1096.1 700.0,1092.5 700.3,1086.2 700.6,1076.0 701.0,1063.9 701.3,1052.1 701.6,1043.6 701.9,1041.7 702.2,1047.3 702.5,1057.7 702.9,1070.2 703.2,1081.0 703.5,1089.2 703.8,1094.4 704.1,1097.1 704.4,1098.7 704.8,1098.1 705.1,1098.6 705.4,1099.1 705.7,1098.8 706.0,1099.3 706.3,1098.5 706.7,1099.2 707.0,1098.8 707.3,1098.9 707.6,1098.3 707.9,1098.7 708.2,1099.2 708.6,1099.1 708.9,1098.9 709.2,1098.8 709.5,1098.3 709.8,1099.1 710.1,1098.8 710.5,1099.1 710.8,1099.0 711.1,1098.7 711.4,1099.3 711.7,1098.4 712.0,1099.4 712.4,1098.4 712.7,1099.4 713.0,1099.0 713.3,1098.8 713.6,1099.4 713.9,1098.9 714.3,1098.9 714.6,1098.3 714.9,1099.2 715.2,1099.0 715.5,1098.6 715.8,1098.4 716.2,1098.8 716.5,1099.4 716.8,1099.3 717.1,1098.8 717.4,1098.3 717.7,1099.3 718.1,1098.5 718.4,1099.1 718.7,1098.9 719.0,1099.4 719.3,1098.4 719.6,1099.2 720.0,1099.1 720.3,1098.3 720.6,1098.9 720.9,1098.6 721.2,1099.1 721.5,1099.4 721.9,1099.1 722.2,1098.9 722.5,1099.0 722.8,1098.6 723.1,1098.8 723.4,1098.4 723.8,1099.1 724.1,1098.3 724.4,1098.9 724.7,1098.5 725.0,1098.9 725.4,1098.3 725.7,1098.3 726.0,1099.0 726.3,1099.1 726.6,1099.3 726.9,1099.1 727.3,1099.5 727.6,1098.4 727.9,1099.0 728.2,1099.0 728.5,1098.5 728.8,1098.4 729.2,1098.6 729.5,1098.9 729.8,1099.2 730.1,1099.1 730.4,1098.9 730.7,1098.4 731.1,1099.1 731.4,1098.9 731.7,1098.5 732.0,1099.0 732.3,1098.6 732.6,1098.6 733.0,1098.8 733.3,1099.2 733.6,1098.4 733.9,1098.8 734.2,1098.5 734.5,1099.1 734.9,1099.2 735.2,1098.6 735.5,1099.1 735.8,1098.8 736.1,1098.5 736.4,1098.5 736.8,1098.7 737.1,1098.6 737.4,1097.5 737.7,1094.9 738.0,1092.7 738.3,1087.9 738.7,1082.3 739.0,1077.1 739.3,1074.3 739.6,1074.6 739.9,1077.1 740.2,1082.0 740.6,1088.2 740.9,1092.3 741.2,1095.0 741.5,1097.8 741.8,1097.8 742.1,1098.5 742.5,1098.9 742.8,1099.0 743.1,1099.3 743.4,1098.5 743.7,1098.9 744.0,1099.3 744.4,1098.8 744.7,1099.1 745.0,1098.8 745.3,1099.1 745.6,1099.4 745.9,1098.7 746.3,1099.1 746.6,1098.7 746.9,1099.3 747.2,1099.2 747.5,1099.3 747.8,1099.3 748.2,1099.0 748.5,1099.4 748.8,1098.4 749.1,1099.0 749.4,1098.4 749.7,1099.0 750.1,1099.1 750.4,1098.6 750.7,1099.2 751.0,1098.8 751.3,1098.5 751.6,1098.5 752.0,1099.0 752.3,1098.7 752.6,1098.3 752.9,1098.6 753.2,1099.4 753.5,1098.8 753.9,1099.1 754.2,1098.8 754.5,1098.3 754.8,1099.0 755.1,1098.5 755.4,1098.4 755.8,1099.0 756.1,1099.1 756.4,1098.3 756.7,1099.4 757.0,1098.3 757.3,1098.5 757.7,1098.7 758.0,1099.2 758.3,1099.2 758.6,1099.2 758.9,1098.8 759.2,1099.4 759.6,1098.4 759.9,1099.4 760.2,1098.3 760.5,1098.4 760.8,1099.2 761.1,1099.2 761.5,1099.1 761.8,1098.6 762.1,1099.3 762.4,1098.9 762.7,1098.5 763.0,1098.4 763.4,1099.4 763.7,1098.3 764.0,1098.5 764.3,1098.7 764.6,1099.3 765.0,1099.3 765.3,1099.3 765.6,1099.0 765.9,1098.3 766.2,1099.1 766.5,1098.5 766.9,1099.4 767.2,1099.4 767.5,1098.3 767.8,1099.1 768.1,1098.6 768.4,1098.4 768.8,1099.3 769.1,1098.8 769.4,1098.6 769.7,1098.9 770.0,1098.3 770.3,1098.8 770.7,1099.0 771.0,1099.3 771.3,1098.4 771.6,1099.3 771.9,1098.4 772.2,1098.5 772.6,1098.7 772.9,1098.4 773.2,1098.3 773.5,1098.9 773.8,1098.3 774.1,1097.4 774.5,1096.8 774.8,1094.9 775.1,1093.9 775.4,1092.6 775.7,1091.1 776.0,1091.0 776.4,1091.9 776.7,1093.5 777.0,1095.2 777.3,1096.4 777.6,1097.5 777.9,1098.6 778.3,1098.6 778.6,1098.3 778.9,1098.4 779.2,1099.3 779.5,1098.7 779.8,1099.3 780.2,1099.0 780.5,1099.0 780.8,1098.7 781.1,1099.0 781.4,1098.8 781.7,1098.9 782.1,1099.4 782.4,1098.4 782.7,1098.5 783.0,1099.3 783.3,1099.4 783.6,1099.2 784.0,1099.3 784.3,1098.4 784.6,1099.1 784.9,1098.4 785.2,1099.3 785.5,1098.7 785.9,1098.8 786.2,1098.9 786.5,1098.5 786.8,1098.9 787.1,1099.3 787.4,1098.8 787.8,1098.8 788.1,1098.7 788.4,1098.5 788.7,1098.6 789.0,1099.3 789.3,1099.4 789.7,1098.7 790.0,1098.6 790.3,1098.7 790.6,1099.3 790.9,1098.6 791.2,1098.5 791.6,1098.6 791.9,1098.4 792.2,1098.4 792.5,1098.5 792.8,1099.0 793.1,1099.4 793.5,1098.6 793.8,1098.6 794.1,1099.0 794.4,1098.3 794.7,1098.4 795.0,1099.0 795.4,1098.8 795.7,1098.7 796.0,1098.8 796.3,1098.3 796.6,1098.6 796.9,1098.5 797.3,1098.5 797.6,1098.3 797.9,1099.2 798.2,1098.3 798.5,1098.8 798.8,1098.5 799.2,1098.5 799.5,1099.2 799.8,1099.4 800.1,1099.4 800.4,1098.7 800.7,1098.9 801.1,1098.8 801.4,1098.4 801.7,1098.8 802.0,1099.0 802.3,1098.7 802.6,1099.2 803.0,1098.8 803.3,1098.6 803.6,1099.3 803.9,1098.9 804.2,1098.6 804.6,1099.3 804.9,1098.8 805.2,1099.0 805.5,1098.8 805.8,1099.3 806.1,1099.1 806.5,1098.8 806.8,1098.7 807.1,1099.2 807.4,1099.3 807.7,1099.0 808.0,1099.3 808.4,1098.9 808.7,1098.8 809.0,1098.6 809.3,1098.6 809.6,1098.4 809.9,1099.4 810.3,1098.9 810.6,1098.2 810.9,1098.2 811.2,1098.0 811.5,1097.7 811.8,1096.5 812.2,1094.8 812.5,1092.6 812.8,1091.4 813.1,1091.5 813.4,1091.3 813.7,1093.0 814.1,1094.0 814.4,1096.1 814.7,1097.4 815.0,1098.6 815.3,1099.1 815.6,1099.1 816.0,1098.6 816.3,1099.3 816.6,1099.4 816.9,1098.4 817.2,1098.8 817.5,1098.9 817.9,1098.6 818.2,1098.6 818.5,1099.2 818.8,1098.5 819.1,1098.9 819.4,1098.3 819.8,1098.8 820.1,1099.4 820.4,1098.3 820.7,1098.4 821.0,1099.3 821.3,1099.4 821.7,1098.9 822.0,1098.6 822.3,1098.6 822.6,1099.1 822.9,1099.0 823.2,1098.8 823.6,1099.1 823.9,1098.4 824.2,1098.7 824.5,1099.3 824.8,1099.4 825.1,1098.8 825.5,1099.2 825.8,1099.3 826.1,1098.9 826.4,1098.4 826.7,1098.4 827.0,1099.1 827.4,1098.7 827.7,1098.9 828.0,1098.3 828.3,1099.4 828.6,1098.6 828.9,1099.0 829.3,1099.0 829.6,1098.7 829.9,1098.5 830.2,1098.9 830.5,1098.7 830.8,1098.4 831.2,1098.5 831.5,1098.3 831.8,1099.3 832.1,1098.5 832.4,1099.4 832.7,1099.0 833.1,1099.4 833.4,1098.8 833.7,1098.6 834.0,1098.4 834.3,1099.0 834.6,1099.1 835.0,1099.1 835.3,1099.4 835.6,1098.4 835.9,1099.0 836.2,1099.1 836.5,1099.4 836.9,1098.6 837.2,1099.4 837.5,1098.3 837.8,1099.0 838.1,1098.7 838.4,1098.9 838.8,1098.5 839.1,1098.7 839.4,1098.7 839.7,1098.8 840.0,1098.7 840.3,1098.5 840.7,1098.5 841.0,1098.8 841.3,1099.5 841.6,1099.3 841.9,1098.4 842.2,1099.0 842.6,1098.4 842.9,1098.7 843.2,1099.5 843.5,1098.7 843.8,1098.4 844.2,1098.9 844.5,1099.0 844.8,1098.9 845.1,1099.4 845.4,1098.9 845.7,1098.7 846.1,1098.5 846.4,1099.0 846.7,1099.2 847.0,1098.9 847.3,1098.7 847.6,1098.6 848.0,1099.3 848.3,1099.4 848.6,1098.9 848.9,1099.0 849.2,1098.5 849.5,1098.1 849.9,1097.6 850.2,1097.9 850.5,1097.8 850.8,1097.2 851.1,1097.1 851.4,1097.4 851.8,1097.2 852.1,1097.7 852.4,1097.9 852.7,1098.9 853.0,1098.9 853.3,1098.8 853.7,1099.2 854.0,1099.3 854.3,1098.3 854.6,1098.5 854.9,1098.8 855.2,1099.1 855.6,1098.6 855.9,1098.8 856.2,1099.1 856.5,1098.6 856.8,1099.1 857.1,1098.3 857.5,1098.8 857.8,1099.0 858.1,1099.3 858.4,1098.9 858.7,1099.1 859.0,1099.1 859.4,1099.0 859.7,1098.8 860.0,1098.6 860.3,1098.4 860.6,1099.3 860.9,1099.2 861.3,1099.0 861.6,1099.2 861.9,1098.6 862.2,1098.5 862.5,1098.9 862.8,1098.8 863.2,1099.0 863.5,1099.3 863.8,1098.7 864.1,1098.7 864.4,1099.1 864.7,1099.3 865.1,1098.9 865.4,1099.0 865.7,1099.3 866.0,1099.4 866.3,1098.3 866.6,1099.4 867.0,1098.4 867.3,1098.9 867.6,1098.9 867.9,1099.4 868.2,1098.5 868.5,1098.3 868.9,1099.4 869.2,1098.8 869.5,1098.8 869.8,1098.8 870.1,1098.6 870.4,1098.3 870.8,1098.9 871.1,1098.5 871.4,1098.9 871.7,1099.5 872.0,1099.4 872.3,1098.6 872.7,1098.7 873.0,1098.4 873.3,1099.0 873.6,1098.5 873.9,1098.4 874.2,1099.4 874.6,1098.9 874.9,1099.3 875.2,1098.5 875.5,1098.5 875.8,1099.0 876.1,1099.1 876.5,1098.5 876.8,1098.9 877.1,1098.9 877.4,1098.9 877.7,1098.6 878.0,1098.8 878.4,1098.4 878.7,1098.4 879.0,1098.3 879.3,1099.3 879.6,1098.6 879.9,1099.1 880.3,1098.4 880.6,1099.3 880.9,1098.3 881.2,1099.2 881.5,1098.9 881.8,1099.4 882.2,1099.3 882.5,1098.3 882.8,1098.3 883.1,1098.6 883.4,1098.3 883.8,1099.3 884.1,1098.4 884.4,1099.1 884.7,1099.4 885.0,1099.1 885.3,1099.5 885.7,1099.0 886.0,1098.7 886.3,1099.4 886.6,1098.5 886.9,1098.9 887.2,1098.8 887.6,1098.9 887.9,1098.6 888.2,1099.4 888.5,1099.5 888.8,1099.1 889.1,1098.9 889.5,1099.4 889.8,1099.4 890.1,1098.3 890.4,1099.3 890.7,1098.4 891.0,1098.4 891.4,1098.6 891.7,1098.7 892.0,1098.8 892.3,1099.4 892.6,1098.4 892.9,1099.0 893.3,1098.9 893.6,1098.4 893.9,1099.5 894.2,1099.4 894.5,1098.7 894.8,1099.3 895.2,1098.8 895.5,1099.1 895.8,1099.4 896.1,1099.0 896.4,1098.7 896.7,1098.3 897.1,1098.8 897.4,1099.0 897.7,1098.6 898.0,1099.0 898.3,1098.3 898.6,1098.6 899.0,1098.8 899.3,1098.8 899.6,1099.1 899.9,1098.5 900.2,1098.6 900.5,1099.1 900.9,1098.6 901.2,1098.4 901.5,1099.0 901.8,1098.7 902.1,1099.0 902.4,1099.4 902.8,1099.4 903.1,1099.2 903.4,1099.4 903.7,1099.2 904.0,1098.7 904.3,1099.4 904.7,1098.4 905.0,1098.5 905.3,1098.9 905.6,1098.4 905.9,1099.0 906.2,1098.9 906.6,1098.5 906.9,1099.2 907.2,1098.4 907.5,1098.8 907.8,1098.6 908.1,1099.4 908.5,1098.4 908.8,1098.7 909.1,1099.1 909.4,1098.6 909.7,1099.3 910.0,1098.4 910.4,1098.4 910.7,1098.3 911.0,1098.9 911.3,1098.8 911.6,1098.9 911.9,1098.8 912.3,1099.3 912.6,1098.5 912.9,1098.4 913.2,1098.6 913.5,1099.3 913.8,1099.2 914.2,1098.4 914.5,1098.3 914.8,1099.4 915.1,1099.4 915.4,1098.6 915.7,1098.9 916.1,1098.3 916.4,1098.9 916.7,1098.5 917.0,1099.1 917.3,1098.4 917.6,1098.9 918.0,1098.7 918.3,1098.8 918.6,1099.4 918.9,1098.9 919.2,1099.4 919.5,1099.1 919.9,1098.5 920.2,1098.6 920.5,1099.2 920.8,1099.2 921.1,1098.4 921.4,1099.2 921.8,1098.6 922.1,1098.9 922.4,1099.3 922.7,1099.4 923.0,1098.5 923.4,1098.4 923.7,1098.6 924.0,1099.0 924.3,1099.4 924.6,1099.0 924.9,1099.2 925.3,1099.2 925.6,1098.8 925.9,1098.7 926.2,1099.2 926.5,1099.0 926.8,1099.3 927.2,1099.4 927.5,1098.7 927.8,1098.4 928.1,1097.6 928.4,1097.0 928.7,1094.6 929.1,1091.4 929.4,1087.3 929.7,1083.1 930.0,1079.5 930.3,1077.9 930.6,1079.5 931.0,1082.9 931.3,1087.8 931.6,1091.8 931.9,1095.3 932.2,1096.6 932.5,1098.5 932.9,1098.0 933.2,1099.1 933.5,1098.3 933.8,1099.0 934.1,1098.6 934.4,1098.5 934.8,1099.2 935.1,1098.4 935.4,1099.1 935.7,1098.4 936.0,1098.5 936.3,1098.7 936.7,1098.9 937.0,1099.1 937.3,1098.7 937.6,1099.3 937.9,1098.3 938.2,1098.5 938.6,1098.7 938.9,1099.0 939.2,1099.0 939.5,1099.3 939.8,1098.7 940.1,1099.0 940.5,1099.1 940.8,1098.5 941.1,1098.7 941.4,1098.8 941.7,1099.0 942.0,1098.9 942.4,1098.4 942.7,1098.5 943.0,1098.7 943.3,1098.4 943.6,1099.2 943.9,1099.3 944.3,1099.1 944.6,1098.5 944.9,1099.0 945.2,1098.3 945.5,1098.5 945.8,1098.6 946.2,1099.0 946.5,1099.0 946.8,1098.9 947.1,1098.5 947.4,1098.9 947.7,1099.2 948.1,1099.3 948.4,1098.7 948.7,1098.8 949.0,1099.3 949.3,1098.3 949.6,1099.0 950.0,1098.4 950.3,1099.2 950.6,1099.1 950.9,1098.3 951.2,1098.3 951.5,1099.4 951.9,1098.6 952.2,1099.0 952.5,1099.0 952.8,1098.7 953.1,1098.4 953.4,1099.1 953.8,1098.7 954.1,1098.8 954.4,1099.2 954.7,1099.4 955.0,1098.6 955.3,1098.7 955.7,1099.2 956.0,1098.8 956.3,1099.3 956.6,1098.7 956.9,1098.3 957.2,1098.6 957.6,1099.3 957.9,1099.0 958.2,1099.4 958.5,1099.2 958.8,1099.1 959.1,1098.5 959.5,1098.8 959.8,1098.3 960.1,1098.7 960.4,1098.5 960.7,1099.4 961.0,1098.4 961.4,1098.7 961.7,1098.3 962.0,1098.4" fill="none" stroke="#ee1a1a" stroke-width="2.0" stroke-linejoin="round"/>
<polyline points="566.0,1162.4 566.3,1163.1 566.6,1163.0 567.0,1163.4 567.3,1162.6 567.6,1162.6 567.9,1163.1 568.2,1163.0 568.5,1162.6 568.9,1163.1 569.2,1162.7 569.5,1163.2 569.8,1162.4 570.1,1162.5 570.4,1163.3 570.8,1162.7 571.1,1162.6 571.4,1163.2 571.7,1163.0 572.0,1162.4 572.3,1162.9 572.7,1163.0 573.0,1162.4 573.3,1163.0 573.6,1162.4 573.9,1162.6 574.2,1162.3 574.6,1162.5 574.9,1163.4 575.2,1162.7 575.5,1163.4 575.8,1162.8 576.1,1163.0 576.5,1163.3 576.8,1163.1 577.1,1162.4 577.4,1163.0 577.7,1163.0 578.0,1162.5 578.4,1162.4 578.7,1163.3 579.0,1162.9 579.3,1162.5 579.6,1162.8 579.9,1162.5 580.3,1163.2 580.6,1162.8 580.9,1162.4 581.2,1163.2 581.5,1162.4 581.8,1162.6 582.2,1162.3 582.5,1163.1 582.8,1162.4 583.1,1162.9 583.4,1162.4 583.7,1162.8 584.1,1163.1 584.4,1162.9 584.7,1162.7 585.0,1162.6 585.3,1162.2 585.6,1161.8 586.0,1160.1 586.3,1158.9 586.6,1156.8 586.9,1155.8 587.2,1154.8 587.5,1153.8 587.9,1154.9 588.2,1157.3 588.5,1159.1 588.8,1160.0 589.1,1161.9 589.4,1162.8 589.8,1162.5 590.1,1162.6 590.4,1162.9 590.7,1163.4 591.0,1162.6 591.3,1162.6 591.7,1162.5 592.0,1163.0 592.3,1162.8 592.6,1162.6 592.9,1162.7 593.2,1162.3 593.6,1162.6 593.9,1163.4 594.2,1162.9 594.5,1162.6 594.8,1163.4 595.1,1162.7 595.5,1162.5 595.8,1162.3 596.1,1162.4 596.4,1162.5 596.7,1162.5 597.0,1163.3 597.4,1162.6 597.7,1162.5 598.0,1163.0 598.3,1163.3 598.6,1162.6 598.9,1163.2 599.3,1162.7 599.6,1162.9 599.9,1163.0 600.2,1163.4 600.5,1163.2 600.8,1162.9 601.2,1163.3 601.5,1162.7 601.8,1162.7 602.1,1163.4 602.4,1162.9 602.7,1163.2 603.1,1162.6 603.4,1163.3 603.7,1163.0 604.0,1162.5 604.3,1163.4 604.6,1162.8 605.0,1162.7 605.3,1162.6 605.6,1162.4 605.9,1162.5 606.2,1163.1 606.6,1162.4 606.9,1162.6 607.2,1162.8 607.5,1162.9 607.8,1162.7 608.1,1163.2 608.5,1162.6 608.8,1162.7 609.1,1162.8 609.4,1162.4 609.7,1162.5 610.0,1162.4 610.4,1163.1 610.7,1162.4 611.0,1163.0 611.3,1162.5 611.6,1163.0 611.9,1163.0 612.3,1162.7 612.6,1163.4 612.9,1163.0 613.2,1162.9 613.5,1162.3 613.8,1162.7 614.2,1162.6 614.5,1162.8 614.8,1163.4 615.1,1163.3 615.4,1162.3 615.7,1163.1 616.1,1163.4 616.4,1162.9 616.7,1162.4 617.0,1163.3 617.3,1162.8 617.6,1163.4 618.0,1163.3 618.3,1163.2 618.6,1163.4 618.9,1162.3 619.2,1163.2 619.5,1162.6 619.9,1162.4 620.2,1162.7 620.5,1163.0 620.8,1162.2 621.1,1162.8 621.4,1163.2 621.8,1162.8 622.1,1162.9 622.4,1162.6 622.7,1163.4 623.0,1162.5 623.3,1163.1 623.7,1163.0 624.0,1162.2 624.3,1163.4 624.6,1162.5 624.9,1163.4 625.2,1163.4 625.6,1163.3 625.9,1163.3 626.2,1162.7 626.5,1162.8 626.8,1162.7 627.1,1163.4 627.5,1162.3 627.8,1162.4 628.1,1163.4 628.4,1163.2 628.7,1163.1 629.0,1163.4 629.4,1162.9 629.7,1163.2 630.0,1162.8 630.3,1163.3 630.6,1162.3 630.9,1162.8 631.3,1162.9 631.6,1163.2 631.9,1162.8 632.2,1163.1 632.5,1163.4 632.8,1162.7 633.2,1162.5 633.5,1162.3 633.8,1163.3 634.1,1162.8 634.4,1162.7 634.7,1162.9 635.1,1162.4 635.4,1162.5 635.7,1162.5 636.0,1162.4 636.3,1162.9 636.6,1161.6 637.0,1160.2 637.3,1158.9 637.6,1155.0 637.9,1149.6 638.2,1145.5 638.5,1141.6 638.9,1140.1 639.2,1141.7 639.5,1145.2 639.8,1149.9 640.1,1155.2 640.4,1158.6 640.8,1161.0 641.1,1161.6 641.4,1162.4 641.7,1163.0 642.0,1162.7 642.3,1163.0 642.7,1162.8 643.0,1163.1 643.3,1162.7 643.6,1162.8 643.9,1163.2 644.2,1162.6 644.6,1162.5 644.9,1163.0 645.2,1162.4 645.5,1163.3 645.8,1162.6 646.2,1163.3 646.5,1162.9 646.8,1162.4 647.1,1162.9 647.4,1163.1 647.7,1162.8 648.1,1163.0 648.4,1162.7 648.7,1163.4 649.0,1162.5 649.3,1163.2 649.6,1162.3 650.0,1162.9 650.3,1162.3 650.6,1162.4 650.9,1162.9 651.2,1163.3 651.5,1162.6 651.9,1162.7 652.2,1162.8 652.5,1163.0 652.8,1162.7 653.1,1162.7 653.4,1163.3 653.8,1162.9 654.1,1162.7 654.4,1163.2 654.7,1163.4 655.0,1162.8 655.3,1162.3 655.7,1162.6 656.0,1163.3 656.3,1162.4 656.6,1162.5 656.9,1163.2 657.2,1162.4 657.6,1163.3 657.9,1162.5 658.2,1162.7 658.5,1163.0 658.8,1162.4 659.1,1163.2 659.5,1162.8 659.8,1163.2 660.1,1163.2 660.4,1162.3 660.7,1163.2 661.0,1163.2 661.4,1162.5 661.7,1163.0 662.0,1162.5 662.3,1162.9 662.6,1163.1 662.9,1162.7 663.3,1162.9 663.6,1162.4 663.9,1163.3 664.2,1163.0 664.5,1163.2 664.8,1162.3 665.2,1163.1 665.5,1162.4 665.8,1162.9 666.1,1162.5 666.4,1163.3 666.7,1162.4 667.1,1162.8 667.4,1162.8 667.7,1162.7 668.0,1162.3 668.3,1163.0 668.6,1163.4 669.0,1162.7 669.3,1163.3 669.6,1162.7 669.9,1162.6 670.2,1162.8 670.5,1163.4 670.9,1163.2 671.2,1163.0 671.5,1162.3 671.8,1162.8 672.1,1162.3 672.4,1162.3 672.8,1162.7 673.1,1162.5 673.4,1162.4 673.7,1162.9 674.0,1163.2 674.3,1163.4 674.7,1163.3 675.0,1162.8 675.3,1162.5 675.6,1163.4 675.9,1162.8 676.2,1162.7 676.6,1163.2 676.9,1162.9 677.2,1163.4 677.5,1163.1 677.8,1163.4 678.1,1162.4 678.5,1163.4 678.8,1162.9 679.1,1163.1 679.4,1162.6 679.7,1162.5 680.0,1162.6 680.4,1162.4 680.7,1163.4 681.0,1162.4 681.3,1162.5 681.6,1163.0 681.9,1162.5 682.3,1162.5 682.6,1162.5 682.9,1162.5 683.2,1162.3 683.5,1163.1 683.8,1163.0 684.2,1162.6 684.5,1163.3 684.8,1162.9 685.1,1162.5 685.4,1163.4 685.8,1162.5 686.1,1163.2 686.4,1163.2 686.7,1162.2 687.0,1163.3 687.3,1162.7 687.7,1162.7 688.0,1163.0 688.3,1161.7 688.6,1159.7 688.9,1155.9 689.2,1150.4 689.6,1140.2 689.9,1128.4 690.2,1116.2 690.5,1108.2 690.8,1106.3 691.1,1111.7 691.5,1121.9 691.8,1134.9 692.1,1145.3 692.4,1153.1 692.7,1158.7 693.0,1160.5 693.4,1162.8 693.7,1162.4 694.0,1162.7 694.3,1162.6 694.6,1162.6 694.9,1162.9 695.3,1163.2 695.6,1162.3 695.9,1162.7 696.2,1162.5 696.5,1163.4 696.8,1162.8 697.2,1162.8 697.5,1163.4 697.8,1162.7 698.1,1162.7 698.4,1162.7 698.7,1162.5 699.1,1163.1 699.4,1162.6 699.7,1162.9 700.0,1162.9 700.3,1163.2 700.6,1163.1 701.0,1162.8 701.3,1163.4 701.6,1163.4 701.9,1163.4 702.2,1163.1 702.5,1162.8 702.9,1162.7 703.2,1163.3 703.5,1162.8 703.8,1163.1 704.1,1162.7 704.4,1162.7 704.8,1162.3 705.1,1163.1 705.4,1162.6 705.7,1162.8 706.0,1163.1 706.3,1163.2 706.7,1163.4 707.0,1163.0 707.3,1162.5 707.6,1163.4 707.9,1162.3 708.2,1162.7 708.6,1163.4 708.9,1163.3 709.2,1163.0 709.5,1163.3 709.8,1162.5 710.1,1162.3 710.5,1162.6 710.8,1163.4 711.1,1162.3 711.4,1162.6 711.7,1162.9 712.0,1162.5 712.4,1163.3 712.7,1162.4 713.0,1162.3 713.3,1163.4 713.6,1162.3 713.9,1162.5 714.3,1162.7 714.6,1163.3 714.9,1162.6 715.2,1162.9 715.5,1163.2 715.8,1163.0 716.2,1163.2 716.5,1162.3 716.8,1162.9 717.1,1162.3 717.4,1163.3 717.7,1162.3 718.1,1162.4 718.4,1162.8 718.7,1163.0 719.0,1162.3 719.3,1163.0 719.6,1162.4 720.0,1162.6 720.3,1162.3 720.6,1163.1 720.9,1163.2 721.2,1163.2 721.5,1162.6 721.9,1162.5 722.2,1163.4 722.5,1163.2 722.8,1163.4 723.1,1162.7 723.4,1163.3 723.8,1163.1 724.1,1163.2 724.4,1162.9 724.7,1163.2 725.0,1162.8 725.4,1162.6 725.7,1162.8 726.0,1162.3 726.3,1163.1 726.6,1162.6 726.9,1162.5 727.3,1163.2 727.6,1162.9 727.9,1162.6 728.2,1163.4 728.5,1163.4 728.8,1162.8 729.2,1162.9 729.5,1162.2 729.8,1162.7 730.1,1163.4 730.4,1162.9 730.7,1163.4 731.1,1162.3 731.4,1162.3 731.7,1162.3 732.0,1162.3 732.3,1163.1 732.6,1163.4 733.0,1163.2 733.3,1163.0 733.6,1162.7 733.9,1162.7 734.2,1162.4 734.5,1162.7 734.9,1162.4 735.2,1163.2 735.5,1162.9 735.8,1162.7 736.1,1163.3 736.4,1162.6 736.8,1163.3 737.1,1163.1 737.4,1163.0 737.7,1163.0 738.0,1163.0 738.3,1163.3 738.7,1163.4 739.0,1162.9 739.3,1163.4 739.6,1162.5 739.9,1163.3 740.2,1163.3 740.6,1162.9 740.9,1162.0 741.2,1162.2 741.5,1160.1 741.8,1157.3 742.1,1153.8 742.5,1147.1 742.8,1141.8 743.1,1136.6 743.4,1135.6 743.7,1136.6 744.0,1141.1 744.4,1147.6 744.7,1153.2 745.0,1157.9 745.3,1160.0 745.6,1161.5 745.9,1162.2 746.3,1162.8 746.6,1162.4 746.9,1162.9 747.2,1163.2 747.5,1163.1 747.8,1162.6 748.2,1162.8 748.5,1162.4 748.8,1162.8 749.1,1163.2 749.4,1162.2 749.7,1163.0 750.1,1163.3 750.4,1162.6 750.7,1162.6 751.0,1163.1 751.3,1162.4 751.6,1162.6 752.0,1163.0 752.3,1162.9 752.6,1162.4 752.9,1162.5 753.2,1162.8 753.5,1163.3 753.9,1162.5 754.2,1163.1 754.5,1162.9 754.8,1162.6 755.1,1162.7 755.4,1163.2 755.8,1162.4 756.1,1162.9 756.4,1162.8 756.7,1162.4 757.0,1162.7 757.3,1162.4 757.7,1162.7 758.0,1162.3 758.3,1162.9 758.6,1163.2 758.9,1163.3 759.2,1163.4 759.6,1162.5 759.9,1163.2 760.2,1162.7 760.5,1163.1 760.8,1162.8 761.1,1163.1 761.5,1162.7 761.8,1163.4 762.1,1162.8 762.4,1163.2 762.7,1162.5 763.0,1163.1 763.4,1162.5 763.7,1162.7 764.0,1162.7 764.3,1163.0 764.6,1162.9 765.0,1162.6 765.3,1163.4 765.6,1162.3 765.9,1162.8 766.2,1162.4 766.5,1162.4 766.9,1162.5 767.2,1163.4 767.5,1162.3 767.8,1163.1 768.1,1162.9 768.4,1163.2 768.8,1163.3 769.1,1162.4 769.4,1163.4 769.7,1162.4 770.0,1162.4 770.3,1162.5 770.7,1163.1 771.0,1162.9 771.3,1163.1 771.6,1162.5 771.9,1162.8 772.2,1162.6 772.6,1163.4 772.9,1162.9 773.2,1163.1 773.5,1162.8 773.8,1162.4 774.1,1162.4 774.5,1162.5 774.8,1163.1 775.1,1162.5 775.4,1162.8 775.7,1162.7 776.0,1162.4 776.4,1162.7 776.7,1162.8 777.0,1163.3 777.3,1163.2 777.6,1162.8 777.9,1162.6 778.3,1162.5 778.6,1162.7 778.9,1162.9 779.2,1163.4 779.5,1162.3 779.8,1162.5 780.2,1162.7 780.5,1162.9 780.8,1162.3 781.1,1162.3 781.4,1162.9 781.7,1162.3 782.1,1163.2 782.4,1163.0 782.7,1162.8 783.0,1163.4 783.3,1162.8 783.6,1163.4 784.0,1162.5 784.3,1162.3 784.6,1162.7 784.9,1162.9 785.2,1163.0 785.5,1162.4 785.9,1163.1 786.2,1162.6 786.5,1163.4 786.8,1163.2 787.1,1163.2 787.4,1162.3 787.8,1162.3 788.1,1162.3 788.4,1162.8 788.7,1162.3 789.0,1162.4 789.3,1162.3 789.7,1163.4 790.0,1162.8 790.3,1162.6 790.6,1162.4 790.9,1162.6 791.2,1162.4 791.6,1163.2 791.9,1163.4 792.2,1163.2 792.5,1162.3 792.8,1163.0 793.1,1163.2 793.5,1162.6 793.8,1162.9 794.1,1161.7 794.4,1161.8 794.7,1161.4 795.0,1160.3 795.4,1159.4 795.7,1160.2 796.0,1160.3 796.3,1160.2 796.6,1161.4 796.9,1161.3 797.3,1162.4 797.6,1162.8 797.9,1162.8 798.2,1162.7 798.5,1163.2 798.8,1162.7 799.2,1162.3 799.5,1162.4 799.8,1162.4 800.1,1163.2 800.4,1162.3 800.7,1163.4 801.1,1162.9 801.4,1162.3 801.7,1163.4 802.0,1163.4 802.3,1162.5 802.6,1162.9 803.0,1162.5 803.3,1162.4 803.6,1162.3 803.9,1163.3 804.2,1162.5 804.6,1162.5 804.9,1162.5 805.2,1162.6 805.5,1163.4 805.8,1162.5 806.1,1162.5 806.5,1162.3 806.8,1163.1 807.1,1162.4 807.4,1163.2 807.7,1163.4 808.0,1162.6 808.4,1162.8 808.7,1163.2 809.0,1162.8 809.3,1162.6 809.6,1163.3 809.9,1163.4 810.3,1162.5 810.6,1163.3 810.9,1162.3 811.2,1163.2 811.5,1162.7 811.8,1163.4 812.2,1162.3 812.5,1162.5 812.8,1162.7 813.1,1162.8 813.4,1163.2 813.7,1162.4 814.1,1162.3 814.4,1162.5 814.7,1162.4 815.0,1163.4 815.3,1162.9 815.6,1162.5 816.0,1162.6 816.3,1162.6 816.6,1162.8 816.9,1162.6 817.2,1163.0 817.5,1162.5 817.9,1163.1 818.2,1163.3 818.5,1163.1 818.8,1162.3 819.1,1162.8 819.4,1163.2 819.8,1162.3 820.1,1163.4 820.4,1162.4 820.7,1162.4 821.0,1162.3 821.3,1163.3 821.7,1162.3 822.0,1162.8 822.3,1163.0 822.6,1162.8 822.9,1163.4 823.2,1163.0 823.6,1162.2 823.9,1162.7 824.2,1162.4 824.5,1163.3 824.8,1162.5 825.1,1163.0 825.5,1162.8 825.8,1162.8 826.1,1162.9 826.4,1162.5 826.7,1163.0 827.0,1163.0 827.4,1163.2 827.7,1163.2 828.0,1162.4 828.3,1163.2 828.6,1162.6 828.9,1163.4 829.3,1162.9 829.6,1162.5 829.9,1162.9 830.2,1162.9 830.5,1162.9 830.8,1162.7 831.2,1162.9 831.5,1162.9 831.8,1163.2 832.1,1162.7 832.4,1162.8 832.7,1162.3 833.1,1163.1 833.4,1162.3 833.7,1163.3 834.0,1162.9 834.3,1162.9 834.6,1162.7 835.0,1162.9 835.3,1162.4 835.6,1162.4 835.9,1162.9 836.2,1162.6 836.5,1162.8 836.9,1162.8 837.2,1163.4 837.5,1163.0 837.8,1162.3 838.1,1163.0 838.4,1162.6 838.8,1162.5 839.1,1162.7 839.4,1163.3 839.7,1163.2 840.0,1162.8 840.3,1163.3 840.7,1162.9 841.0,1162.4 841.3,1163.1 841.6,1163.3 841.9,1163.1 842.2,1162.6 842.6,1162.8 842.9,1162.4 843.2,1162.5 843.5,1162.3 843.8,1163.4 844.2,1163.1 844.5,1162.8 844.8,1163.1 845.1,1163.1 845.4,1162.8 845.7,1162.5 846.1,1162.8 846.4,1162.9 846.7,1162.7 847.0,1162.5 847.3,1162.9 847.6,1163.0 848.0,1162.5 848.3,1162.4 848.6,1163.1 848.9,1163.4 849.2,1163.1 849.5,1163.2 849.9,1163.1 850.2,1162.7 850.5,1162.9 850.8,1162.8 851.1,1163.4 851.4,1162.4 851.8,1163.4 852.1,1162.4 852.4,1162.6 852.7,1162.9 853.0,1163.4 853.3,1163.3 853.7,1163.2 854.0,1163.0 854.3,1163.1 854.6,1162.6 854.9,1162.3 855.2,1163.0 855.6,1162.5 855.9,1162.8 856.2,1163.2 856.5,1163.4 856.8,1162.4 857.1,1163.4 857.5,1162.5 857.8,1162.9 858.1,1163.2 858.4,1163.1 858.7,1162.7 859.0,1163.3 859.4,1162.4 859.7,1163.2 860.0,1163.4 860.3,1163.3 860.6,1162.4 860.9,1162.7 861.3,1162.4 861.6,1162.7 861.9,1162.7 862.2,1162.4 862.5,1162.8 862.8,1163.2 863.2,1163.0 863.5,1162.6 863.8,1162.4 864.1,1162.4 864.4,1163.2 864.7,1162.6 865.1,1162.9 865.4,1162.5 865.7,1163.1 866.0,1162.3 866.3,1162.8 866.6,1162.8 867.0,1162.9 867.3,1162.5 867.6,1163.1 867.9,1163.4 868.2,1162.5 868.5,1162.3 868.9,1162.6 869.2,1162.7 869.5,1163.3 869.8,1162.3 870.1,1162.3 870.4,1162.9 870.8,1162.8 871.1,1162.5 871.4,1163.1 871.7,1162.7 872.0,1163.4 872.3,1162.5 872.7,1162.9 873.0,1162.4 873.3,1162.4 873.6,1163.4 873.9,1163.3 874.2,1163.1 874.6,1162.8 874.9,1163.0 875.2,1162.5 875.5,1162.5 875.8,1162.5 876.1,1162.6 876.5,1162.7 876.8,1162.8 877.1,1162.6 877.4,1162.7 877.7,1163.2 878.0,1163.2 878.4,1162.5 878.7,1162.9 879.0,1162.4 879.3,1163.0 879.6,1163.0 879.9,1162.5 880.3,1163.3 880.6,1163.0 880.9,1163.4 881.2,1162.6 881.5,1162.4 881.8,1163.2 882.2,1163.1 882.5,1162.5 882.8,1162.8 883.1,1162.5 883.4,1162.8 883.8,1163.4 884.1,1162.6 884.4,1162.7 884.7,1163.3 885.0,1163.4 885.3,1162.9 885.7,1162.9 886.0,1162.9 886.3,1163.1 886.6,1163.3 886.9,1163.3 887.2,1162.9 887.6,1162.8 887.9,1163.3 888.2,1163.1 888.5,1163.4 888.8,1162.4 889.1,1163.1 889.5,1163.2 889.8,1162.7 890.1,1162.3 890.4,1162.6 890.7,1163.4 891.0,1163.2 891.4,1162.6 891.7,1163.3 892.0,1162.3 892.3,1163.1 892.6,1162.9 892.9,1163.4 893.3,1162.6 893.6,1162.7 893.9,1162.7 894.2,1162.8 894.5,1162.8 894.8,1162.5 895.2,1162.8 895.5,1162.3 895.8,1163.0 896.1,1163.2 896.4,1162.6 896.7,1162.8 897.1,1163.4 897.4,1163.2 897.7,1163.1 898.0,1162.9 898.3,1163.4 898.6,1162.8 899.0,1163.0 899.3,1163.3 899.6,1162.7 899.9,1162.8 900.2,1163.0 900.5,1163.1 900.9,1163.1 901.2,1162.7 901.5,1162.6 901.8,1163.2 902.1,1163.1 902.4,1162.9 902.8,1162.6 903.1,1162.3 903.4,1162.9 903.7,1163.3 904.0,1163.2 904.3,1163.0 904.7,1162.5 905.0,1162.7 905.3,1162.2 905.6,1160.9 905.9,1160.5 906.2,1159.7 906.6,1159.3 906.9,1159.9 907.2,1160.1 907.5,1161.6 907.8,1162.3 908.1,1161.9 908.5,1162.2 908.8,1162.4 909.1,1163.3 909.4,1162.6 909.7,1163.2 910.0,1163.4 910.4,1162.7 910.7,1163.3 911.0,1162.4 911.3,1162.3 911.6,1163.1 911.9,1162.6 912.3,1162.5 912.6,1162.9 912.9,1163.2 913.2,1162.8 913.5,1162.9 913.8,1163.2 914.2,1162.4 914.5,1162.9 914.8,1162.3 915.1,1162.5 915.4,1162.4 915.7,1162.5 916.1,1163.3 916.4,1162.3 916.7,1162.8 917.0,1162.3 917.3,1162.3 917.6,1163.4 918.0,1162.8 918.3,1163.3 918.6,1163.0 918.9,1162.9 919.2,1163.2 919.5,1162.2 919.9,1162.5 920.2,1163.1 920.5,1163.4 920.8,1162.5 921.1,1162.7 921.4,1163.1 921.8,1162.9 922.1,1163.1 922.4,1162.3 922.7,1162.5 923.0,1163.1 923.4,1163.1 923.7,1163.0 924.0,1163.2 924.3,1163.2 924.6,1162.2 924.9,1162.6 925.3,1162.3 925.6,1162.4 925.9,1163.1 926.2,1162.7 926.5,1163.3 926.8,1162.3 927.2,1162.8 927.5,1163.4 927.8,1162.7 928.1,1163.1 928.4,1163.3 928.7,1163.2 929.1,1162.6 929.4,1162.8 929.7,1163.2 930.0,1162.9 930.3,1162.8 930.6,1163.4 931.0,1162.6 931.3,1163.1 931.6,1162.7 931.9,1163.0 932.2,1163.2 932.5,1163.3 932.9,1163.2 933.2,1162.8 933.5,1162.9 933.8,1163.1 934.1,1163.1 934.4,1163.4 934.8,1162.3 935.1,1162.3 935.4,1163.4 935.7,1163.0 936.0,1162.4 936.3,1162.6 936.7,1162.4 937.0,1162.6 937.3,1162.4 937.6,1163.1 937.9,1162.4 938.2,1162.8 938.6,1162.3 938.9,1162.7 939.2,1162.6 939.5,1162.9 939.8,1162.6 940.1,1162.5 940.5,1162.7 940.8,1163.4 941.1,1163.4 941.4,1162.4 941.7,1163.1 942.0,1162.3 942.4,1162.6 942.7,1163.2 943.0,1163.1 943.3,1163.1 943.6,1162.8 943.9,1162.8 944.3,1162.3 944.6,1163.0 944.9,1163.0 945.2,1162.7 945.5,1162.4 945.8,1162.6 946.2,1163.2 946.5,1162.4 946.8,1163.0 947.1,1163.2 947.4,1163.1 947.7,1162.7 948.1,1163.1 948.4,1162.5 948.7,1162.6 949.0,1163.0 949.3,1162.4 949.6,1162.9 950.0,1163.1 950.3,1162.3 950.6,1162.3 950.9,1163.2 951.2,1163.2 951.5,1163.4 951.9,1162.4 952.2,1163.3 952.5,1162.9 952.8,1162.9 953.1,1162.5 953.4,1162.7 953.8,1162.5 954.1,1162.3 954.4,1163.1 954.7,1162.4 955.0,1162.3 955.3,1163.2 955.7,1163.2 956.0,1162.4 956.3,1162.8 956.6,1162.4 956.9,1162.7 957.2,1162.8 957.6,1162.6 957.9,1162.7 958.2,1162.8 958.5,1163.1 958.8,1162.5 959.1,1162.4 959.5,1162.8 959.8,1162.6 960.1,1162.5 960.4,1162.4 960.7,1163.2 961.0,1163.2 961.4,1162.4 961.7,1163.0 962.0,1162.8" fill="none" stroke="#111" stroke-width="2.0" stroke-linejoin="round"/>
</g>
<rect x="565" y="830.3" width="397.6" height="347.20000000000005" fill="none" stroke="#111" stroke-width="2.4"/>
<line x1="645.2" y1="1177.5" x2="645.2" y2="1164.5" stroke="#111" stroke-width="2"/>
<line x1="724.4" y1="1177.5" x2="724.4" y2="1164.5" stroke="#111" stroke-width="2"/>
<line x1="803.6" y1="1177.5" x2="803.6" y2="1164.5" stroke="#111" stroke-width="2"/>
<line x1="882.8" y1="1177.5" x2="882.8" y2="1164.5" stroke="#111" stroke-width="2"/>
<line x1="605.6" y1="1177.5" x2="605.6" y2="1170.5" stroke="#111" stroke-width="2"/>
<line x1="684.8" y1="1177.5" x2="684.8" y2="1170.5" stroke="#111" stroke-width="2"/>
<line x1="764.0" y1="1177.5" x2="764.0" y2="1170.5" stroke="#111" stroke-width="2"/>
<line x1="843.2" y1="1177.5" x2="843.2" y2="1170.5" stroke="#111" stroke-width="2"/>
<line x1="922.4" y1="1177.5" x2="922.4" y2="1170.5" stroke="#111" stroke-width="2"/>
<text x="567.0" y="1214.0" font-size="30" text-anchor="middle">10</text>
<text x="646.2" y="1214.0" font-size="30" text-anchor="middle">20</text>
<text x="725.4" y="1214.0" font-size="30" text-anchor="middle">30</text>
<text x="804.6" y="1214.0" font-size="30" text-anchor="middle">40</text>
<text x="883.8" y="1214.0" font-size="30" text-anchor="middle">50</text>
<text x="963.0" y="1214.0" font-size="30" text-anchor="middle">60</text>
<text x="768.0" y="1248.0" font-size="30.5" text-anchor="middle">2θ/degree</text>
<text x="533.5" y="1005.8" font-size="30.5" text-anchor="middle" textLength="206" lengthAdjust="spacingAndGlyphs" transform="rotate(-90 533.5 1005.8)">Intensity (a.u.)</text>
<polygon points="594.5,876.2 599.8,882.4 594.5,888.6 589.3,882.4" fill="#ff1010"/>
<polygon points="628.9,883.3 634.2,889.5 628.9,895.7 623.6,889.5" fill="#ff1010"/>
<polygon points="665.6,890.8 670.9,897.0 665.6,903.2 660.4,897.0" fill="#ff1010"/>
<polygon points="701.6,835.9 706.8,842.1 701.6,848.3 696.3,842.1" fill="#ff1010"/>
<polygon points="742.6,873.1 747.9,879.3 742.6,885.5 737.4,879.3" fill="#ff1010"/>
<line x1="584.7" y1="889.3" x2="584.7" y2="897.7" stroke="#6a6a6a" stroke-width="2.2"/>
<line x1="588.3" y1="891.4" x2="581.0" y2="895.6" stroke="#6a6a6a" stroke-width="2.2"/>
<line x1="588.3" y1="895.6" x2="581.0" y2="891.4" stroke="#6a6a6a" stroke-width="2.2"/>
<line x1="689.3" y1="860.5" x2="689.3" y2="868.9" stroke="#6a6a6a" stroke-width="2.2"/>
<line x1="693.0" y1="862.6" x2="685.7" y2="866.8" stroke="#6a6a6a" stroke-width="2.2"/>
<line x1="693.0" y1="866.8" x2="685.7" y2="862.6" stroke="#6a6a6a" stroke-width="2.2"/>
<line x1="735.9" y1="885.3" x2="735.9" y2="893.7" stroke="#6a6a6a" stroke-width="2.2"/>
<line x1="739.6" y1="887.4" x2="732.3" y2="891.6" stroke="#6a6a6a" stroke-width="2.2"/>
<line x1="739.6" y1="891.6" x2="732.3" y2="887.4" stroke="#6a6a6a" stroke-width="2.2"/>
<text x="944.0" y="887.0" font-size="30" text-anchor="end" fill="#1a801a">1:64</text>
<text x="942.5" y="950.8" font-size="30" text-anchor="end" fill="#f020f0">1:4</text>
<text x="944.5" y="1010.8" font-size="30" text-anchor="end" fill="#1a1aee">2:3</text>
<text x="951.5" y="1073.0" font-size="30" text-anchor="end"><tspan font-style="italic">N</tspan>=2</text>
<text x="949.5" y="1147.0" font-size="30" text-anchor="end"><tspan font-style="italic">N</tspan>=1</text>
<text x="968.7" y="50.8" font-size="40">(f)</text>
<defs><radialGradient id="atm" cx="0.4" cy="0.35" r="0.65"><stop offset="0" stop-color="#ffb0ff"/><stop offset="0.5" stop-color="#e040e0"/><stop offset="1" stop-color="#8a1a8a"/></radialGradient><radialGradient id="ato" cx="0.4" cy="0.35" r="0.65"><stop offset="0" stop-color="#ffb070"/><stop offset="0.5" stop-color="#f07018"/><stop offset="1" stop-color="#983808"/></radialGradient><radialGradient id="atk" cx="0.4" cy="0.35" r="0.65"><stop offset="0" stop-color="#909090"/><stop offset="1" stop-color="#202020"/></radialGradient><radialGradient id="sM" cx="0.42" cy="0.38" r="0.62"><stop offset="0" stop-color="#fa8cfa"/><stop offset="0.55" stop-color="#e03ce0"/><stop offset="0.9" stop-color="#b020b0"/><stop offset="1" stop-color="#5a1a5a"/></radialGradient><radialGradient id="sO" cx="0.42" cy="0.38" r="0.62"><stop offset="0" stop-color="#fff070"/><stop offset="0.5" stop-color="#f8b030"/><stop offset="0.92" stop-color="#d88818"/><stop offset="1" stop-color="#7a5010"/></radialGradient><radialGradient id="sG" cx="0.42" cy="0.38" r="0.62"><stop offset="0" stop-color="#f0f0f0"/><stop offset="0.55" stop-color="#b0b0b0"/><stop offset="0.92" stop-color="#808080"/><stop offset="1" stop-color="#505050"/></radialGradient><filter id="blur2"><feGaussianBlur stdDeviation="2"/></filter><filter id="blur1"><feGaussianBlur stdDeviation="0.8"/></filter></defs>
<rect x="1018.0" y="10.0" width="400.0" height="202.0" fill="#fdfdfd"/>
<line x1="1063.6" y1="27.1" x2="1076.6" y2="24.8" stroke="#7e7e7e" stroke-width="3.0" stroke-linecap="round"/>
<line x1="1076.6" y1="24.8" x2="1081.5" y2="34.3" stroke="#7e7e7e" stroke-width="3.0" stroke-linecap="round"/>
<line x1="1081.5" y1="34.3" x2="1076.2" y2="43.5" stroke="#7e7e7e" stroke-width="3.0" stroke-linecap="round"/>
<line x1="1076.2" y1="43.5" x2="1065.1" y2="39.3" stroke="#7e7e7e" stroke-width="3.0" stroke-linecap="round"/>
<line x1="1065.1" y1="39.3" x2="1063.6" y2="27.1" stroke="#7e7e7e" stroke-width="3.0" stroke-linecap="round"/>
<line x1="1065.1" y1="39.3" x2="1059.4" y2="45.8" stroke="#7e7e7e" stroke-width="3.0" stroke-linecap="round"/>
<line x1="1059.4" y1="45.8" x2="1061.3" y2="58.7" stroke="#7e7e7e" stroke-width="3.0" stroke-linecap="round"/>
<line x1="1061.3" y1="58.7" x2="1051.0" y2="59.9" stroke="#7e7e7e" stroke-width="3.0" stroke-linecap="round"/>
<line x1="1051.0" y1="59.9" x2="1044.9" y2="51.1" stroke="#7e7e7e" stroke-width="3.0" stroke-linecap="round"/>
<line x1="1044.9" y1="51.1" x2="1050.3" y2="42.0" stroke="#7e7e7e" stroke-width="3.0" stroke-linecap="round"/>
<line x1="1050.3" y1="42.0" x2="1059.4" y2="45.8" stroke="#7e7e7e" stroke-width="3.0" stroke-linecap="round"/>
<line x1="1051.0" y1="59.9" x2="1048.0" y2="70.1" stroke="#7e7e7e" stroke-width="3.0" stroke-linecap="round"/>
<line x1="1048.0" y1="70.1" x2="1043.4" y2="77.8" stroke="#7e7e7e" stroke-width="3.0" stroke-linecap="round"/>
<line x1="1043.4" y1="77.8" x2="1035.0" y2="74.7" stroke="#7e7e7e" stroke-width="3.0" stroke-linecap="round"/>
<line x1="1076.6" y1="24.8" x2="1078.5" y2="18.3" stroke="#b8b8b8" stroke-width="1.8" stroke-linecap="round"/>
<line x1="1081.5" y1="34.3" x2="1088.4" y2="34.3" stroke="#b8b8b8" stroke-width="1.8" stroke-linecap="round"/>
<line x1="1076.2" y1="43.5" x2="1078.5" y2="49.6" stroke="#b8b8b8" stroke-width="1.8" stroke-linecap="round"/>
<line x1="1050.3" y1="42.0" x2="1047.2" y2="36.2" stroke="#b8b8b8" stroke-width="1.8" stroke-linecap="round"/>
<line x1="1044.9" y1="51.1" x2="1037.3" y2="50.0" stroke="#b8b8b8" stroke-width="1.8" stroke-linecap="round"/>
<line x1="1048.0" y1="70.1" x2="1053.3" y2="73.2" stroke="#b8b8b8" stroke-width="1.8" stroke-linecap="round"/>
<line x1="1043.4" y1="77.8" x2="1044.2" y2="83.1" stroke="#b8b8b8" stroke-width="1.8" stroke-linecap="round"/>
<line x1="1035.0" y1="74.7" x2="1029.7" y2="72.4" stroke="#b8b8b8" stroke-width="1.8" stroke-linecap="round"/>
<line x1="1035.0" y1="74.7" x2="1032.0" y2="80.8" stroke="#b8b8b8" stroke-width="1.8" stroke-linecap="round"/>
<line x1="1048.0" y1="70.1" x2="1042.6" y2="67.9" stroke="#b8b8b8" stroke-width="1.8" stroke-linecap="round"/>
<circle cx="1063.6" cy="27.1" r="3.4" fill="#dede18"/>
<circle cx="1061.3" cy="58.7" r="3.4" fill="#dede18"/>
<circle cx="1035.0" cy="74.7" r="2.6" fill="#8a2ad8"/>
<line x1="1117.9" y1="27.1" x2="1130.9" y2="24.8" stroke="#7e7e7e" stroke-width="3.0" stroke-linecap="round"/>
<line x1="1130.9" y1="24.8" x2="1135.8" y2="34.3" stroke="#7e7e7e" stroke-width="3.0" stroke-linecap="round"/>
<line x1="1135.8" y1="34.3" x2="1130.5" y2="43.5" stroke="#7e7e7e" stroke-width="3.0" stroke-linecap="round"/>
<line x1="1130.5" y1="43.5" x2="1119.4" y2="39.3" stroke="#7e7e7e" stroke-width="3.0" stroke-linecap="round"/>
<line x1="1119.4" y1="39.3" x2="1117.9" y2="27.1" stroke="#7e7e7e" stroke-width="3.0" stroke-linecap="round"/>
<line x1="1119.4" y1="39.3" x2="1113.7" y2="45.8" stroke="#7e7e7e" stroke-width="3.0" stroke-linecap="round"/>
<line x1="1113.7" y1="45.8" x2="1115.6" y2="58.7" stroke="#7e7e7e" stroke-width="3.0" stroke-linecap="round"/>
<line x1="1115.6" y1="58.7" x2="1105.3" y2="59.9" stroke="#7e7e7e" stroke-width="3.0" stroke-linecap="round"/>
<line x1="1105.3" y1="59.9" x2="1099.2" y2="51.1" stroke="#7e7e7e" stroke-width="3.0" stroke-linecap="round"/>
<line x1="1099.2" y1="51.1" x2="1104.6" y2="42.0" stroke="#7e7e7e" stroke-width="3.0" stroke-linecap="round"/>
<line x1="1104.6" y1="42.0" x2="1113.7" y2="45.8" stroke="#7e7e7e" stroke-width="3.0" stroke-linecap="round"/>
<line x1="1105.3" y1="59.9" x2="1102.3" y2="70.1" stroke="#7e7e7e" stroke-width="3.0" stroke-linecap="round"/>
<line x1="1102.3" y1="70.1" x2="1097.7" y2="77.8" stroke="#7e7e7e" stroke-width="3.0" stroke-linecap="round"/>
<line x1="1097.7" y1="77.8" x2="1089.3" y2="74.7" stroke="#7e7e7e" stroke-width="3.0" stroke-linecap="round"/>
<line x1="1130.9" y1="24.8" x2="1132.8" y2="18.3" stroke="#b8b8b8" stroke-width="1.8" stroke-linecap="round"/>
<line x1="1135.8" y1="34.3" x2="1142.7" y2="34.3" stroke="#b8b8b8" stroke-width="1.8" stroke-linecap="round"/>
<line x1="1130.5" y1="43.5" x2="1132.8" y2="49.6" stroke="#b8b8b8" stroke-width="1.8" stroke-linecap="round"/>
<line x1="1104.6" y1="42.0" x2="1101.5" y2="36.2" stroke="#b8b8b8" stroke-width="1.8" stroke-linecap="round"/>
<line x1="1099.2" y1="51.1" x2="1091.6" y2="50.0" stroke="#b8b8b8" stroke-width="1.8" stroke-linecap="round"/>
<line x1="1102.3" y1="70.1" x2="1107.6" y2="73.2" stroke="#b8b8b8" stroke-width="1.8" stroke-linecap="round"/>
<line x1="1097.7" y1="77.8" x2="1098.5" y2="83.1" stroke="#b8b8b8" stroke-width="1.8" stroke-linecap="round"/>
<line x1="1089.3" y1="74.7" x2="1084.0" y2="72.4" stroke="#b8b8b8" stroke-width="1.8" stroke-linecap="round"/>
<line x1="1089.3" y1="74.7" x2="1086.3" y2="80.8" stroke="#b8b8b8" stroke-width="1.8" stroke-linecap="round"/>
<line x1="1102.3" y1="70.1" x2="1096.9" y2="67.9" stroke="#b8b8b8" stroke-width="1.8" stroke-linecap="round"/>
<circle cx="1117.9" cy="27.1" r="3.4" fill="#dede18"/>
<circle cx="1115.6" cy="58.7" r="3.4" fill="#dede18"/>
<circle cx="1089.3" cy="74.7" r="2.6" fill="#8a2ad8"/>
<line x1="1167.3" y1="27.1" x2="1180.3" y2="24.8" stroke="#7e7e7e" stroke-width="3.0" stroke-linecap="round"/>
<line x1="1180.3" y1="24.8" x2="1185.2" y2="34.3" stroke="#7e7e7e" stroke-width="3.0" stroke-linecap="round"/>
<line x1="1185.2" y1="34.3" x2="1179.9" y2="43.5" stroke="#7e7e7e" stroke-width="3.0" stroke-linecap="round"/>
<line x1="1179.9" y1="43.5" x2="1168.8" y2="39.3" stroke="#7e7e7e" stroke-width="3.0" stroke-linecap="round"/>
<line x1="1168.8" y1="39.3" x2="1167.3" y2="27.1" stroke="#7e7e7e" stroke-width="3.0" stroke-linecap="round"/>
<line x1="1168.8" y1="39.3" x2="1163.1" y2="45.8" stroke="#7e7e7e" stroke-width="3.0" stroke-linecap="round"/>
<line x1="1163.1" y1="45.8" x2="1165.0" y2="58.7" stroke="#7e7e7e" stroke-width="3.0" stroke-linecap="round"/>
<line x1="1165.0" y1="58.7" x2="1154.7" y2="59.9" stroke="#7e7e7e" stroke-width="3.0" stroke-linecap="round"/>
<line x1="1154.7" y1="59.9" x2="1148.6" y2="51.1" stroke="#7e7e7e" stroke-width="3.0" stroke-linecap="round"/>
<line x1="1148.6" y1="51.1" x2="1154.0" y2="42.0" stroke="#7e7e7e" stroke-width="3.0" stroke-linecap="round"/>
<line x1="1154.0" y1="42.0" x2="1163.1" y2="45.8" stroke="#7e7e7e" stroke-width="3.0" stroke-linecap="round"/>
<line x1="1154.7" y1="59.9" x2="1151.7" y2="70.1" stroke="#7e7e7e" stroke-width="3.0" stroke-linecap="round"/>
<line x1="1151.7" y1="70.1" x2="1147.1" y2="77.8" stroke="#7e7e7e" stroke-width="3.0" stroke-linecap="round"/>
<line x1="1147.1" y1="77.8" x2="1138.7" y2="74.7" stroke="#7e7e7e" stroke-width="3.0" stroke-linecap="round"/>
<line x1="1180.3" y1="24.8" x2="1182.2" y2="18.3" stroke="#b8b8b8" stroke-width="1.8" stroke-linecap="round"/>
<line x1="1185.2" y1="34.3" x2="1192.1" y2="34.3" stroke="#b8b8b8" stroke-width="1.8" stroke-linecap="round"/>
<line x1="1179.9" y1="43.5" x2="1182.2" y2="49.6" stroke="#b8b8b8" stroke-width="1.8" stroke-linecap="round"/>
<line x1="1154.0" y1="42.0" x2="1150.9" y2="36.2" stroke="#b8b8b8" stroke-width="1.8" stroke-linecap="round"/>
<line x1="1148.6" y1="51.1" x2="1141.0" y2="50.0" stroke="#b8b8b8" stroke-width="1.8" stroke-linecap="round"/>
<line x1="1151.7" y1="70.1" x2="1157.0" y2="73.2" stroke="#b8b8b8" stroke-width="1.8" stroke-linecap="round"/>
<line x1="1147.1" y1="77.8" x2="1147.9" y2="83.1" stroke="#b8b8b8" stroke-width="1.8" stroke-linecap="round"/>
<line x1="1138.7" y1="74.7" x2="1133.4" y2="72.4" stroke="#b8b8b8" stroke-width="1.8" stroke-linecap="round"/>
<line x1="1138.7" y1="74.7" x2="1135.7" y2="80.8" stroke="#b8b8b8" stroke-width="1.8" stroke-linecap="round"/>
<line x1="1151.7" y1="70.1" x2="1146.3" y2="67.9" stroke="#b8b8b8" stroke-width="1.8" stroke-linecap="round"/>
<circle cx="1167.3" cy="27.1" r="3.4" fill="#dede18"/>
<circle cx="1165.0" cy="58.7" r="3.4" fill="#dede18"/>
<circle cx="1138.7" cy="74.7" r="2.6" fill="#8a2ad8"/>
<line x1="1217.5" y1="27.1" x2="1230.5" y2="24.8" stroke="#7e7e7e" stroke-width="3.0" stroke-linecap="round"/>
<line x1="1230.5" y1="24.8" x2="1235.4" y2="34.3" stroke="#7e7e7e" stroke-width="3.0" stroke-linecap="round"/>
<line x1="1235.4" y1="34.3" x2="1230.1" y2="43.5" stroke="#7e7e7e" stroke-width="3.0" stroke-linecap="round"/>
<line x1="1230.1" y1="43.5" x2="1219.0" y2="39.3" stroke="#7e7e7e" stroke-width="3.0" stroke-linecap="round"/>
<line x1="1219.0" y1="39.3" x2="1217.5" y2="27.1" stroke="#7e7e7e" stroke-width="3.0" stroke-linecap="round"/>
<line x1="1219.0" y1="39.3" x2="1213.3" y2="45.8" stroke="#7e7e7e" stroke-width="3.0" stroke-linecap="round"/>
<line x1="1213.3" y1="45.8" x2="1215.2" y2="58.7" stroke="#7e7e7e" stroke-width="3.0" stroke-linecap="round"/>
<line x1="1215.2" y1="58.7" x2="1204.9" y2="59.9" stroke="#7e7e7e" stroke-width="3.0" stroke-linecap="round"/>
<line x1="1204.9" y1="59.9" x2="1198.8" y2="51.1" stroke="#7e7e7e" stroke-width="3.0" stroke-linecap="round"/>
<line x1="1198.8" y1="51.1" x2="1204.2" y2="42.0" stroke="#7e7e7e" stroke-width="3.0" stroke-linecap="round"/>
<line x1="1204.2" y1="42.0" x2="1213.3" y2="45.8" stroke="#7e7e7e" stroke-width="3.0" stroke-linecap="round"/>
<line x1="1204.9" y1="59.9" x2="1201.9" y2="70.1" stroke="#7e7e7e" stroke-width="3.0" stroke-linecap="round"/>
<line x1="1201.9" y1="70.1" x2="1197.3" y2="77.8" stroke="#7e7e7e" stroke-width="3.0" stroke-linecap="round"/>
<line x1="1197.3" y1="77.8" x2="1188.9" y2="74.7" stroke="#7e7e7e" stroke-width="3.0" stroke-linecap="round"/>
<line x1="1230.5" y1="24.8" x2="1232.4" y2="18.3" stroke="#b8b8b8" stroke-width="1.8" stroke-linecap="round"/>
<line x1="1235.4" y1="34.3" x2="1242.3" y2="34.3" stroke="#b8b8b8" stroke-width="1.8" stroke-linecap="round"/>
<line x1="1230.1" y1="43.5" x2="1232.4" y2="49.6" stroke="#b8b8b8" stroke-width="1.8" stroke-linecap="round"/>
<line x1="1204.2" y1="42.0" x2="1201.1" y2="36.2" stroke="#b8b8b8" stroke-width="1.8" stroke-linecap="round"/>
<line x1="1198.8" y1="51.1" x2="1191.2" y2="50.0" stroke="#b8b8b8" stroke-width="1.8" stroke-linecap="round"/>
<line x1="1201.9" y1="70.1" x2="1207.2" y2="73.2" stroke="#b8b8b8" stroke-width="1.8" stroke-linecap="round"/>
<line x1="1197.3" y1="77.8" x2="1198.1" y2="83.1" stroke="#b8b8b8" stroke-width="1.8" stroke-linecap="round"/>
<line x1="1188.9" y1="74.7" x2="1183.6" y2="72.4" stroke="#b8b8b8" stroke-width="1.8" stroke-linecap="round"/>
<line x1="1188.9" y1="74.7" x2="1185.9" y2="80.8" stroke="#b8b8b8" stroke-width="1.8" stroke-linecap="round"/>
<line x1="1201.9" y1="70.1" x2="1196.5" y2="67.9" stroke="#b8b8b8" stroke-width="1.8" stroke-linecap="round"/>
<circle cx="1217.5" cy="27.1" r="3.4" fill="#dede18"/>
<circle cx="1215.2" cy="58.7" r="3.4" fill="#dede18"/>
<circle cx="1188.9" cy="74.7" r="2.6" fill="#8a2ad8"/>
<line x1="1267.8" y1="27.1" x2="1280.8" y2="24.8" stroke="#7e7e7e" stroke-width="3.0" stroke-linecap="round"/>
<line x1="1280.8" y1="24.8" x2="1285.7" y2="34.3" stroke="#7e7e7e" stroke-width="3.0" stroke-linecap="round"/>
<line x1="1285.7" y1="34.3" x2="1280.4" y2="43.5" stroke="#7e7e7e" stroke-width="3.0" stroke-linecap="round"/>
<line x1="1280.4" y1="43.5" x2="1269.3" y2="39.3" stroke="#7e7e7e" stroke-width="3.0" stroke-linecap="round"/>
<line x1="1269.3" y1="39.3" x2="1267.8" y2="27.1" stroke="#7e7e7e" stroke-width="3.0" stroke-linecap="round"/>
<line x1="1269.3" y1="39.3" x2="1263.6" y2="45.8" stroke="#7e7e7e" stroke-width="3.0" stroke-linecap="round"/>
<line x1="1263.6" y1="45.8" x2="1265.5" y2="58.7" stroke="#7e7e7e" stroke-width="3.0" stroke-linecap="round"/>
<line x1="1265.5" y1="58.7" x2="1255.2" y2="59.9" stroke="#7e7e7e" stroke-width="3.0" stroke-linecap="round"/>
<line x1="1255.2" y1="59.9" x2="1249.1" y2="51.1" stroke="#7e7e7e" stroke-width="3.0" stroke-linecap="round"/>
<line x1="1249.1" y1="51.1" x2="1254.5" y2="42.0" stroke="#7e7e7e" stroke-width="3.0" stroke-linecap="round"/>
<line x1="1254.5" y1="42.0" x2="1263.6" y2="45.8" stroke="#7e7e7e" stroke-width="3.0" stroke-linecap="round"/>
<line x1="1255.2" y1="59.9" x2="1252.2" y2="70.1" stroke="#7e7e7e" stroke-width="3.0" stroke-linecap="round"/>
<line x1="1252.2" y1="70.1" x2="1247.6" y2="77.8" stroke="#7e7e7e" stroke-width="3.0" stroke-linecap="round"/>
<line x1="1247.6" y1="77.8" x2="1239.2" y2="74.7" stroke="#7e7e7e" stroke-width="3.0" stroke-linecap="round"/>
<line x1="1280.8" y1="24.8" x2="1282.7" y2="18.3" stroke="#b8b8b8" stroke-width="1.8" stroke-linecap="round"/>
<line x1="1285.7" y1="34.3" x2="1292.6" y2="34.3" stroke="#b8b8b8" stroke-width="1.8" stroke-linecap="round"/>
<line x1="1280.4" y1="43.5" x2="1282.7" y2="49.6" stroke="#b8b8b8" stroke-width="1.8" stroke-linecap="round"/>
<line x1="1254.5" y1="42.0" x2="1251.4" y2="36.2" stroke="#b8b8b8" stroke-width="1.8" stroke-linecap="round"/>
<line x1="1249.1" y1="51.1" x2="1241.5" y2="50.0" stroke="#b8b8b8" stroke-width="1.8" stroke-linecap="round"/>
<line x1="1252.2" y1="70.1" x2="1257.5" y2="73.2" stroke="#b8b8b8" stroke-width="1.8" stroke-linecap="round"/>
<line x1="1247.6" y1="77.8" x2="1248.4" y2="83.1" stroke="#b8b8b8" stroke-width="1.8" stroke-linecap="round"/>
<line x1="1239.2" y1="74.7" x2="1233.9" y2="72.4" stroke="#b8b8b8" stroke-width="1.8" stroke-linecap="round"/>
<line x1="1239.2" y1="74.7" x2="1236.2" y2="80.8" stroke="#b8b8b8" stroke-width="1.8" stroke-linecap="round"/>
<line x1="1252.2" y1="70.1" x2="1246.8" y2="67.9" stroke="#b8b8b8" stroke-width="1.8" stroke-linecap="round"/>
<circle cx="1267.8" cy="27.1" r="3.4" fill="#dede18"/>
<circle cx="1265.5" cy="58.7" r="3.4" fill="#dede18"/>
<circle cx="1239.2" cy="74.7" r="2.6" fill="#8a2ad8"/>
<line x1="1319.0" y1="27.1" x2="1332.0" y2="24.8" stroke="#7e7e7e" stroke-width="3.0" stroke-linecap="round"/>
<line x1="1332.0" y1="24.8" x2="1336.9" y2="34.3" stroke="#7e7e7e" stroke-width="3.0" stroke-linecap="round"/>
<line x1="1336.9" y1="34.3" x2="1331.6" y2="43.5" stroke="#7e7e7e" stroke-width="3.0" stroke-linecap="round"/>
<line x1="1331.6" y1="43.5" x2="1320.5" y2="39.3" stroke="#7e7e7e" stroke-width="3.0" stroke-linecap="round"/>
<line x1="1320.5" y1="39.3" x2="1319.0" y2="27.1" stroke="#7e7e7e" stroke-width="3.0" stroke-linecap="round"/>
<line x1="1320.5" y1="39.3" x2="1314.8" y2="45.8" stroke="#7e7e7e" stroke-width="3.0" stroke-linecap="round"/>
<line x1="1314.8" y1="45.8" x2="1316.7" y2="58.7" stroke="#7e7e7e" stroke-width="3.0" stroke-linecap="round"/>
<line x1="1316.7" y1="58.7" x2="1306.4" y2="59.9" stroke="#7e7e7e" stroke-width="3.0" stroke-linecap="round"/>
<line x1="1306.4" y1="59.9" x2="1300.3" y2="51.1" stroke="#7e7e7e" stroke-width="3.0" stroke-linecap="round"/>
<line x1="1300.3" y1="51.1" x2="1305.7" y2="42.0" stroke="#7e7e7e" stroke-width="3.0" stroke-linecap="round"/>
<line x1="1305.7" y1="42.0" x2="1314.8" y2="45.8" stroke="#7e7e7e" stroke-width="3.0" stroke-linecap="round"/>
<line x1="1306.4" y1="59.9" x2="1303.4" y2="70.1" stroke="#7e7e7e" stroke-width="3.0" stroke-linecap="round"/>
<line x1="1303.4" y1="70.1" x2="1298.8" y2="77.8" stroke="#7e7e7e" stroke-width="3.0" stroke-linecap="round"/>
<line x1="1298.8" y1="77.8" x2="1290.4" y2="74.7" stroke="#7e7e7e" stroke-width="3.0" stroke-linecap="round"/>
<line x1="1332.0" y1="24.8" x2="1333.9" y2="18.3" stroke="#b8b8b8" stroke-width="1.8" stroke-linecap="round"/>
<line x1="1336.9" y1="34.3" x2="1343.8" y2="34.3" stroke="#b8b8b8" stroke-width="1.8" stroke-linecap="round"/>
<line x1="1331.6" y1="43.5" x2="1333.9" y2="49.6" stroke="#b8b8b8" stroke-width="1.8" stroke-linecap="round"/>
<line x1="1305.7" y1="42.0" x2="1302.6" y2="36.2" stroke="#b8b8b8" stroke-width="1.8" stroke-linecap="round"/>
<line x1="1300.3" y1="51.1" x2="1292.7" y2="50.0" stroke="#b8b8b8" stroke-width="1.8" stroke-linecap="round"/>
<line x1="1303.4" y1="70.1" x2="1308.7" y2="73.2" stroke="#b8b8b8" stroke-width="1.8" stroke-linecap="round"/>
<line x1="1298.8" y1="77.8" x2="1299.6" y2="83.1" stroke="#b8b8b8" stroke-width="1.8" stroke-linecap="round"/>
<line x1="1290.4" y1="74.7" x2="1285.1" y2="72.4" stroke="#b8b8b8" stroke-width="1.8" stroke-linecap="round"/>
<line x1="1290.4" y1="74.7" x2="1287.4" y2="80.8" stroke="#b8b8b8" stroke-width="1.8" stroke-linecap="round"/>
<line x1="1303.4" y1="70.1" x2="1298.0" y2="67.9" stroke="#b8b8b8" stroke-width="1.8" stroke-linecap="round"/>
<circle cx="1319.0" cy="27.1" r="3.4" fill="#dede18"/>
<circle cx="1316.7" cy="58.7" r="3.4" fill="#dede18"/>
<circle cx="1290.4" cy="74.7" r="2.6" fill="#8a2ad8"/>
<line x1="1368.4" y1="27.1" x2="1381.4" y2="24.8" stroke="#7e7e7e" stroke-width="3.0" stroke-linecap="round"/>
<line x1="1381.4" y1="24.8" x2="1386.3" y2="34.3" stroke="#7e7e7e" stroke-width="3.0" stroke-linecap="round"/>
<line x1="1386.3" y1="34.3" x2="1381.0" y2="43.5" stroke="#7e7e7e" stroke-width="3.0" stroke-linecap="round"/>
<line x1="1381.0" y1="43.5" x2="1369.9" y2="39.3" stroke="#7e7e7e" stroke-width="3.0" stroke-linecap="round"/>
<line x1="1369.9" y1="39.3" x2="1368.4" y2="27.1" stroke="#7e7e7e" stroke-width="3.0" stroke-linecap="round"/>
<line x1="1369.9" y1="39.3" x2="1364.2" y2="45.8" stroke="#7e7e7e" stroke-width="3.0" stroke-linecap="round"/>
<line x1="1364.2" y1="45.8" x2="1366.1" y2="58.7" stroke="#7e7e7e" stroke-width="3.0" stroke-linecap="round"/>
<line x1="1366.1" y1="58.7" x2="1355.8" y2="59.9" stroke="#7e7e7e" stroke-width="3.0" stroke-linecap="round"/>
<line x1="1355.8" y1="59.9" x2="1349.7" y2="51.1" stroke="#7e7e7e" stroke-width="3.0" stroke-linecap="round"/>
<line x1="1349.7" y1="51.1" x2="1355.1" y2="42.0" stroke="#7e7e7e" stroke-width="3.0" stroke-linecap="round"/>
<line x1="1355.1" y1="42.0" x2="1364.2" y2="45.8" stroke="#7e7e7e" stroke-width="3.0" stroke-linecap="round"/>
<line x1="1355.8" y1="59.9" x2="1352.8" y2="70.1" stroke="#7e7e7e" stroke-width="3.0" stroke-linecap="round"/>
<line x1="1352.8" y1="70.1" x2="1348.2" y2="77.8" stroke="#7e7e7e" stroke-width="3.0" stroke-linecap="round"/>
<line x1="1348.2" y1="77.8" x2="1339.8" y2="74.7" stroke="#7e7e7e" stroke-width="3.0" stroke-linecap="round"/>
<line x1="1381.4" y1="24.8" x2="1383.3" y2="18.3" stroke="#b8b8b8" stroke-width="1.8" stroke-linecap="round"/>
<line x1="1386.3" y1="34.3" x2="1393.2" y2="34.3" stroke="#b8b8b8" stroke-width="1.8" stroke-linecap="round"/>
<line x1="1381.0" y1="43.5" x2="1383.3" y2="49.6" stroke="#b8b8b8" stroke-width="1.8" stroke-linecap="round"/>
<line x1="1355.1" y1="42.0" x2="1352.0" y2="36.2" stroke="#b8b8b8" stroke-width="1.8" stroke-linecap="round"/>
<line x1="1349.7" y1="51.1" x2="1342.1" y2="50.0" stroke="#b8b8b8" stroke-width="1.8" stroke-linecap="round"/>
<line x1="1352.8" y1="70.1" x2="1358.1" y2="73.2" stroke="#b8b8b8" stroke-width="1.8" stroke-linecap="round"/>
<line x1="1348.2" y1="77.8" x2="1349.0" y2="83.1" stroke="#b8b8b8" stroke-width="1.8" stroke-linecap="round"/>
<line x1="1339.8" y1="74.7" x2="1334.5" y2="72.4" stroke="#b8b8b8" stroke-width="1.8" stroke-linecap="round"/>
<line x1="1339.8" y1="74.7" x2="1336.8" y2="80.8" stroke="#b8b8b8" stroke-width="1.8" stroke-linecap="round"/>
<line x1="1352.8" y1="70.1" x2="1347.4" y2="67.9" stroke="#b8b8b8" stroke-width="1.8" stroke-linecap="round"/>
<circle cx="1368.4" cy="27.1" r="3.4" fill="#dede18"/>
<circle cx="1366.1" cy="58.7" r="3.4" fill="#dede18"/>
<circle cx="1339.8" cy="74.7" r="2.6" fill="#8a2ad8"/>
<line x1="1064.0" y1="196.4" x2="1077.0" y2="198.7" stroke="#7e7e7e" stroke-width="3.0" stroke-linecap="round"/>
<line x1="1077.0" y1="198.7" x2="1081.9" y2="189.2" stroke="#7e7e7e" stroke-width="3.0" stroke-linecap="round"/>
<line x1="1081.9" y1="189.2" x2="1076.6" y2="180.0" stroke="#7e7e7e" stroke-width="3.0" stroke-linecap="round"/>
<line x1="1076.6" y1="180.0" x2="1065.5" y2="184.2" stroke="#7e7e7e" stroke-width="3.0" stroke-linecap="round"/>
<line x1="1065.5" y1="184.2" x2="1064.0" y2="196.4" stroke="#7e7e7e" stroke-width="3.0" stroke-linecap="round"/>
<line x1="1065.5" y1="184.2" x2="1059.8" y2="177.7" stroke="#7e7e7e" stroke-width="3.0" stroke-linecap="round"/>
<line x1="1059.8" y1="177.7" x2="1061.7" y2="164.8" stroke="#7e7e7e" stroke-width="3.0" stroke-linecap="round"/>
<line x1="1061.7" y1="164.8" x2="1051.4" y2="163.6" stroke="#7e7e7e" stroke-width="3.0" stroke-linecap="round"/>
<line x1="1051.4" y1="163.6" x2="1045.3" y2="172.4" stroke="#7e7e7e" stroke-width="3.0" stroke-linecap="round"/>
<line x1="1045.3" y1="172.4" x2="1050.7" y2="181.5" stroke="#7e7e7e" stroke-width="3.0" stroke-linecap="round"/>
<line x1="1050.7" y1="181.5" x2="1059.8" y2="177.7" stroke="#7e7e7e" stroke-width="3.0" stroke-linecap="round"/>
<line x1="1051.4" y1="163.6" x2="1048.4" y2="153.4" stroke="#7e7e7e" stroke-width="3.0" stroke-linecap="round"/>
<line x1="1048.4" y1="153.4" x2="1043.8" y2="145.7" stroke="#7e7e7e" stroke-width="3.0" stroke-linecap="round"/>
<line x1="1043.8" y1="145.7" x2="1035.4" y2="148.8" stroke="#7e7e7e" stroke-width="3.0" stroke-linecap="round"/>
<line x1="1077.0" y1="198.7" x2="1078.9" y2="205.2" stroke="#b8b8b8" stroke-width="1.8" stroke-linecap="round"/>
<line x1="1081.9" y1="189.2" x2="1088.8" y2="189.2" stroke="#b8b8b8" stroke-width="1.8" stroke-linecap="round"/>
<line x1="1076.6" y1="180.0" x2="1078.9" y2="173.9" stroke="#b8b8b8" stroke-width="1.8" stroke-linecap="round"/>
<line x1="1050.7" y1="181.5" x2="1047.6" y2="187.3" stroke="#b8b8b8" stroke-width="1.8" stroke-linecap="round"/>
<line x1="1045.3" y1="172.4" x2="1037.7" y2="173.5" stroke="#b8b8b8" stroke-width="1.8" stroke-linecap="round"/>
<line x1="1048.4" y1="153.4" x2="1053.7" y2="150.3" stroke="#b8b8b8" stroke-width="1.8" stroke-linecap="round"/>
<line x1="1043.8" y1="145.7" x2="1044.6" y2="140.4" stroke="#b8b8b8" stroke-width="1.8" stroke-linecap="round"/>
<line x1="1035.4" y1="148.8" x2="1030.1" y2="151.1" stroke="#b8b8b8" stroke-width="1.8" stroke-linecap="round"/>
<line x1="1035.4" y1="148.8" x2="1032.4" y2="142.7" stroke="#b8b8b8" stroke-width="1.8" stroke-linecap="round"/>
<line x1="1048.4" y1="153.4" x2="1043.0" y2="155.6" stroke="#b8b8b8" stroke-width="1.8" stroke-linecap="round"/>
<circle cx="1064.0" cy="196.4" r="3.4" fill="#dede18"/>
<circle cx="1061.7" cy="164.8" r="3.4" fill="#dede18"/>
<circle cx="1035.4" cy="148.8" r="2.6" fill="#8a2ad8"/>
<line x1="1114.4" y1="196.4" x2="1127.4" y2="198.7" stroke="#7e7e7e" stroke-width="3.0" stroke-linecap="round"/>
<line x1="1127.4" y1="198.7" x2="1132.3" y2="189.2" stroke="#7e7e7e" stroke-width="3.0" stroke-linecap="round"/>
<line x1="1132.3" y1="189.2" x2="1127.0" y2="180.0" stroke="#7e7e7e" stroke-width="3.0" stroke-linecap="round"/>
<line x1="1127.0" y1="180.0" x2="1115.9" y2="184.2" stroke="#7e7e7e" stroke-width="3.0" stroke-linecap="round"/>
<line x1="1115.9" y1="184.2" x2="1114.4" y2="196.4" stroke="#7e7e7e" stroke-width="3.0" stroke-linecap="round"/>
<line x1="1115.9" y1="184.2" x2="1110.2" y2="177.7" stroke="#7e7e7e" stroke-width="3.0" stroke-linecap="round"/>
<line x1="1110.2" y1="177.7" x2="1112.1" y2="164.8" stroke="#7e7e7e" stroke-width="3.0" stroke-linecap="round"/>
<line x1="1112.1" y1="164.8" x2="1101.8" y2="163.6" stroke="#7e7e7e" stroke-width="3.0" stroke-linecap="round"/>
<line x1="1101.8" y1="163.6" x2="1095.7" y2="172.4" stroke="#7e7e7e" stroke-width="3.0" stroke-linecap="round"/>
<line x1="1095.7" y1="172.4" x2="1101.1" y2="181.5" stroke="#7e7e7e" stroke-width="3.0" stroke-linecap="round"/>
<line x1="1101.1" y1="181.5" x2="1110.2" y2="177.7" stroke="#7e7e7e" stroke-width="3.0" stroke-linecap="round"/>
<line x1="1101.8" y1="163.6" x2="1098.8" y2="153.4" stroke="#7e7e7e" stroke-width="3.0" stroke-linecap="round"/>
<line x1="1098.8" y1="153.4" x2="1094.2" y2="145.7" stroke="#7e7e7e" stroke-width="3.0" stroke-linecap="round"/>
<line x1="1094.2" y1="145.7" x2="1085.8" y2="148.8" stroke="#7e7e7e" stroke-width="3.0" stroke-linecap="round"/>
<line x1="1127.4" y1="198.7" x2="1129.3" y2="205.2" stroke="#b8b8b8" stroke-width="1.8" stroke-linecap="round"/>
<line x1="1132.3" y1="189.2" x2="1139.2" y2="189.2" stroke="#b8b8b8" stroke-width="1.8" stroke-linecap="round"/>
<line x1="1127.0" y1="180.0" x2="1129.3" y2="173.9" stroke="#b8b8b8" stroke-width="1.8" stroke-linecap="round"/>
<line x1="1101.1" y1="181.5" x2="1098.0" y2="187.3" stroke="#b8b8b8" stroke-width="1.8" stroke-linecap="round"/>
<line x1="1095.7" y1="172.4" x2="1088.1" y2="173.5" stroke="#b8b8b8" stroke-width="1.8" stroke-linecap="round"/>
<line x1="1098.8" y1="153.4" x2="1104.1" y2="150.3" stroke="#b8b8b8" stroke-width="1.8" stroke-linecap="round"/>
<line x1="1094.2" y1="145.7" x2="1095.0" y2="140.4" stroke="#b8b8b8" stroke-width="1.8" stroke-linecap="round"/>
<line x1="1085.8" y1="148.8" x2="1080.5" y2="151.1" stroke="#b8b8b8" stroke-width="1.8" stroke-linecap="round"/>
<line x1="1085.8" y1="148.8" x2="1082.8" y2="142.7" stroke="#b8b8b8" stroke-width="1.8" stroke-linecap="round"/>
<line x1="1098.8" y1="153.4" x2="1093.4" y2="155.6" stroke="#b8b8b8" stroke-width="1.8" stroke-linecap="round"/>
<circle cx="1114.4" cy="196.4" r="3.4" fill="#dede18"/>
<circle cx="1112.1" cy="164.8" r="3.4" fill="#dede18"/>
<circle cx="1085.8" cy="148.8" r="2.6" fill="#8a2ad8"/>
<line x1="1164.7" y1="196.4" x2="1177.7" y2="198.7" stroke="#7e7e7e" stroke-width="3.0" stroke-linecap="round"/>
<line x1="1177.7" y1="198.7" x2="1182.6" y2="189.2" stroke="#7e7e7e" stroke-width="3.0" stroke-linecap="round"/>
<line x1="1182.6" y1="189.2" x2="1177.3" y2="180.0" stroke="#7e7e7e" stroke-width="3.0" stroke-linecap="round"/>
<line x1="1177.3" y1="180.0" x2="1166.2" y2="184.2" stroke="#7e7e7e" stroke-width="3.0" stroke-linecap="round"/>
<line x1="1166.2" y1="184.2" x2="1164.7" y2="196.4" stroke="#7e7e7e" stroke-width="3.0" stroke-linecap="round"/>
<line x1="1166.2" y1="184.2" x2="1160.5" y2="177.7" stroke="#7e7e7e" stroke-width="3.0" stroke-linecap="round"/>
<line x1="1160.5" y1="177.7" x2="1162.4" y2="164.8" stroke="#7e7e7e" stroke-width="3.0" stroke-linecap="round"/>
<line x1="1162.4" y1="164.8" x2="1152.1" y2="163.6" stroke="#7e7e7e" stroke-width="3.0" stroke-linecap="round"/>
<line x1="1152.1" y1="163.6" x2="1146.0" y2="172.4" stroke="#7e7e7e" stroke-width="3.0" stroke-linecap="round"/>
<line x1="1146.0" y1="172.4" x2="1151.4" y2="181.5" stroke="#7e7e7e" stroke-width="3.0" stroke-linecap="round"/>
<line x1="1151.4" y1="181.5" x2="1160.5" y2="177.7" stroke="#7e7e7e" stroke-width="3.0" stroke-linecap="round"/>
<line x1="1152.1" y1="163.6" x2="1149.1" y2="153.4" stroke="#7e7e7e" stroke-width="3.0" stroke-linecap="round"/>
<line x1="1149.1" y1="153.4" x2="1144.5" y2="145.7" stroke="#7e7e7e" stroke-width="3.0" stroke-linecap="round"/>
<line x1="1144.5" y1="145.7" x2="1136.1" y2="148.8" stroke="#7e7e7e" stroke-width="3.0" stroke-linecap="round"/>
<line x1="1177.7" y1="198.7" x2="1179.6" y2="205.2" stroke="#b8b8b8" stroke-width="1.8" stroke-linecap="round"/>
<line x1="1182.6" y1="189.2" x2="1189.5" y2="189.2" stroke="#b8b8b8" stroke-width="1.8" stroke-linecap="round"/>
<line x1="1177.3" y1="180.0" x2="1179.6" y2="173.9" stroke="#b8b8b8" stroke-width="1.8" stroke-linecap="round"/>
<line x1="1151.4" y1="181.5" x2="1148.3" y2="187.3" stroke="#b8b8b8" stroke-width="1.8" stroke-linecap="round"/>
<line x1="1146.0" y1="172.4" x2="1138.4" y2="173.5" stroke="#b8b8b8" stroke-width="1.8" stroke-linecap="round"/>
<line x1="1149.1" y1="153.4" x2="1154.4" y2="150.3" stroke="#b8b8b8" stroke-width="1.8" stroke-linecap="round"/>
<line x1="1144.5" y1="145.7" x2="1145.3" y2="140.4" stroke="#b8b8b8" stroke-width="1.8" stroke-linecap="round"/>
<line x1="1136.1" y1="148.8" x2="1130.8" y2="151.1" stroke="#b8b8b8" stroke-width="1.8" stroke-linecap="round"/>
<line x1="1136.1" y1="148.8" x2="1133.1" y2="142.7" stroke="#b8b8b8" stroke-width="1.8" stroke-linecap="round"/>
<line x1="1149.1" y1="153.4" x2="1143.7" y2="155.6" stroke="#b8b8b8" stroke-width="1.8" stroke-linecap="round"/>
<circle cx="1164.7" cy="196.4" r="3.4" fill="#dede18"/>
<circle cx="1162.4" cy="164.8" r="3.4" fill="#dede18"/>
<circle cx="1136.1" cy="148.8" r="2.6" fill="#8a2ad8"/>
<line x1="1215.0" y1="196.4" x2="1228.0" y2="198.7" stroke="#7e7e7e" stroke-width="3.0" stroke-linecap="round"/>
<line x1="1228.0" y1="198.7" x2="1232.9" y2="189.2" stroke="#7e7e7e" stroke-width="3.0" stroke-linecap="round"/>
<line x1="1232.9" y1="189.2" x2="1227.6" y2="180.0" stroke="#7e7e7e" stroke-width="3.0" stroke-linecap="round"/>
<line x1="1227.6" y1="180.0" x2="1216.5" y2="184.2" stroke="#7e7e7e" stroke-width="3.0" stroke-linecap="round"/>
<line x1="1216.5" y1="184.2" x2="1215.0" y2="196.4" stroke="#7e7e7e" stroke-width="3.0" stroke-linecap="round"/>
<line x1="1216.5" y1="184.2" x2="1210.8" y2="177.7" stroke="#7e7e7e" stroke-width="3.0" stroke-linecap="round"/>
<line x1="1210.8" y1="177.7" x2="1212.7" y2="164.8" stroke="#7e7e7e" stroke-width="3.0" stroke-linecap="round"/>
<line x1="1212.7" y1="164.8" x2="1202.4" y2="163.6" stroke="#7e7e7e" stroke-width="3.0" stroke-linecap="round"/>
<line x1="1202.4" y1="163.6" x2="1196.3" y2="172.4" stroke="#7e7e7e" stroke-width="3.0" stroke-linecap="round"/>
<line x1="1196.3" y1="172.4" x2="1201.7" y2="181.5" stroke="#7e7e7e" stroke-width="3.0" stroke-linecap="round"/>
<line x1="1201.7" y1="181.5" x2="1210.8" y2="177.7" stroke="#7e7e7e" stroke-width="3.0" stroke-linecap="round"/>
<line x1="1202.4" y1="163.6" x2="1199.4" y2="153.4" stroke="#7e7e7e" stroke-width="3.0" stroke-linecap="round"/>
<line x1="1199.4" y1="153.4" x2="1194.8" y2="145.7" stroke="#7e7e7e" stroke-width="3.0" stroke-linecap="round"/>
<line x1="1194.8" y1="145.7" x2="1186.4" y2="148.8" stroke="#7e7e7e" stroke-width="3.0" stroke-linecap="round"/>
<line x1="1228.0" y1="198.7" x2="1229.9" y2="205.2" stroke="#b8b8b8" stroke-width="1.8" stroke-linecap="round"/>
<line x1="1232.9" y1="189.2" x2="1239.8" y2="189.2" stroke="#b8b8b8" stroke-width="1.8" stroke-linecap="round"/>
<line x1="1227.6" y1="180.0" x2="1229.9" y2="173.9" stroke="#b8b8b8" stroke-width="1.8" stroke-linecap="round"/>
<line x1="1201.7" y1="181.5" x2="1198.6" y2="187.3" stroke="#b8b8b8" stroke-width="1.8" stroke-linecap="round"/>
<line x1="1196.3" y1="172.4" x2="1188.7" y2="173.5" stroke="#b8b8b8" stroke-width="1.8" stroke-linecap="round"/>
<line x1="1199.4" y1="153.4" x2="1204.7" y2="150.3" stroke="#b8b8b8" stroke-width="1.8" stroke-linecap="round"/>
<line x1="1194.8" y1="145.7" x2="1195.6" y2="140.4" stroke="#b8b8b8" stroke-width="1.8" stroke-linecap="round"/>
<line x1="1186.4" y1="148.8" x2="1181.1" y2="151.1" stroke="#b8b8b8" stroke-width="1.8" stroke-linecap="round"/>
<line x1="1186.4" y1="148.8" x2="1183.4" y2="142.7" stroke="#b8b8b8" stroke-width="1.8" stroke-linecap="round"/>
<line x1="1199.4" y1="153.4" x2="1194.0" y2="155.6" stroke="#b8b8b8" stroke-width="1.8" stroke-linecap="round"/>
<circle cx="1215.0" cy="196.4" r="3.4" fill="#dede18"/>
<circle cx="1212.7" cy="164.8" r="3.4" fill="#dede18"/>
<circle cx="1186.4" cy="148.8" r="2.6" fill="#8a2ad8"/>
<line x1="1266.8" y1="196.4" x2="1279.8" y2="198.7" stroke="#7e7e7e" stroke-width="3.0" stroke-linecap="round"/>
<line x1="1279.8" y1="198.7" x2="1284.7" y2="189.2" stroke="#7e7e7e" stroke-width="3.0" stroke-linecap="round"/>
<line x1="1284.7" y1="189.2" x2="1279.4" y2="180.0" stroke="#7e7e7e" stroke-width="3.0" stroke-linecap="round"/>
<line x1="1279.4" y1="180.0" x2="1268.3" y2="184.2" stroke="#7e7e7e" stroke-width="3.0" stroke-linecap="round"/>
<line x1="1268.3" y1="184.2" x2="1266.8" y2="196.4" stroke="#7e7e7e" stroke-width="3.0" stroke-linecap="round"/>
<line x1="1268.3" y1="184.2" x2="1262.6" y2="177.7" stroke="#7e7e7e" stroke-width="3.0" stroke-linecap="round"/>
<line x1="1262.6" y1="177.7" x2="1264.5" y2="164.8" stroke="#7e7e7e" stroke-width="3.0" stroke-linecap="round"/>
<line x1="1264.5" y1="164.8" x2="1254.2" y2="163.6" stroke="#7e7e7e" stroke-width="3.0" stroke-linecap="round"/>
<line x1="1254.2" y1="163.6" x2="1248.1" y2="172.4" stroke="#7e7e7e" stroke-width="3.0" stroke-linecap="round"/>
<line x1="1248.1" y1="172.4" x2="1253.5" y2="181.5" stroke="#7e7e7e" stroke-width="3.0" stroke-linecap="round"/>
<line x1="1253.5" y1="181.5" x2="1262.6" y2="177.7" stroke="#7e7e7e" stroke-width="3.0" stroke-linecap="round"/>
<line x1="1254.2" y1="163.6" x2="1251.2" y2="153.4" stroke="#7e7e7e" stroke-width="3.0" stroke-linecap="round"/>
<line x1="1251.2" y1="153.4" x2="1246.6" y2="145.7" stroke="#7e7e7e" stroke-width="3.0" stroke-linecap="round"/>
<line x1="1246.6" y1="145.7" x2="1238.2" y2="148.8" stroke="#7e7e7e" stroke-width="3.0" stroke-linecap="round"/>
<line x1="1279.8" y1="198.7" x2="1281.7" y2="205.2" stroke="#b8b8b8" stroke-width="1.8" stroke-linecap="round"/>
<line x1="1284.7" y1="189.2" x2="1291.6" y2="189.2" stroke="#b8b8b8" stroke-width="1.8" stroke-linecap="round"/>
<line x1="1279.4" y1="180.0" x2="1281.7" y2="173.9" stroke="#b8b8b8" stroke-width="1.8" stroke-linecap="round"/>
<line x1="1253.5" y1="181.5" x2="1250.4" y2="187.3" stroke="#b8b8b8" stroke-width="1.8" stroke-linecap="round"/>
<line x1="1248.1" y1="172.4" x2="1240.5" y2="173.5" stroke="#b8b8b8" stroke-width="1.8" stroke-linecap="round"/>
<line x1="1251.2" y1="153.4" x2="1256.5" y2="150.3" stroke="#b8b8b8" stroke-width="1.8" stroke-linecap="round"/>
<line x1="1246.6" y1="145.7" x2="1247.4" y2="140.4" stroke="#b8b8b8" stroke-width="1.8" stroke-linecap="round"/>
<line x1="1238.2" y1="148.8" x2="1232.9" y2="151.1" stroke="#b8b8b8" stroke-width="1.8" stroke-linecap="round"/>
<line x1="1238.2" y1="148.8" x2="1235.2" y2="142.7" stroke="#b8b8b8" stroke-width="1.8" stroke-linecap="round"/>
<line x1="1251.2" y1="153.4" x2="1245.8" y2="155.6" stroke="#b8b8b8" stroke-width="1.8" stroke-linecap="round"/>
<circle cx="1266.8" cy="196.4" r="3.4" fill="#dede18"/>
<circle cx="1264.5" cy="164.8" r="3.4" fill="#dede18"/>
<circle cx="1238.2" cy="148.8" r="2.6" fill="#8a2ad8"/>
<line x1="1318.6" y1="196.4" x2="1331.6" y2="198.7" stroke="#7e7e7e" stroke-width="3.0" stroke-linecap="round"/>
<line x1="1331.6" y1="198.7" x2="1336.5" y2="189.2" stroke="#7e7e7e" stroke-width="3.0" stroke-linecap="round"/>
<line x1="1336.5" y1="189.2" x2="1331.2" y2="180.0" stroke="#7e7e7e" stroke-width="3.0" stroke-linecap="round"/>
<line x1="1331.2" y1="180.0" x2="1320.1" y2="184.2" stroke="#7e7e7e" stroke-width="3.0" stroke-linecap="round"/>
<line x1="1320.1" y1="184.2" x2="1318.6" y2="196.4" stroke="#7e7e7e" stroke-width="3.0" stroke-linecap="round"/>
<line x1="1320.1" y1="184.2" x2="1314.4" y2="177.7" stroke="#7e7e7e" stroke-width="3.0" stroke-linecap="round"/>
<line x1="1314.4" y1="177.7" x2="1316.3" y2="164.8" stroke="#7e7e7e" stroke-width="3.0" stroke-linecap="round"/>
<line x1="1316.3" y1="164.8" x2="1306.0" y2="163.6" stroke="#7e7e7e" stroke-width="3.0" stroke-linecap="round"/>
<line x1="1306.0" y1="163.6" x2="1299.9" y2="172.4" stroke="#7e7e7e" stroke-width="3.0" stroke-linecap="round"/>
<line x1="1299.9" y1="172.4" x2="1305.3" y2="181.5" stroke="#7e7e7e" stroke-width="3.0" stroke-linecap="round"/>
<line x1="1305.3" y1="181.5" x2="1314.4" y2="177.7" stroke="#7e7e7e" stroke-width="3.0" stroke-linecap="round"/>
<line x1="1306.0" y1="163.6" x2="1303.0" y2="153.4" stroke="#7e7e7e" stroke-width="3.0" stroke-linecap="round"/>
<line x1="1303.0" y1="153.4" x2="1298.4" y2="145.7" stroke="#7e7e7e" stroke-width="3.0" stroke-linecap="round"/>
<line x1="1298.4" y1="145.7" x2="1290.0" y2="148.8" stroke="#7e7e7e" stroke-width="3.0" stroke-linecap="round"/>
<line x1="1331.6" y1="198.7" x2="1333.5" y2="205.2" stroke="#b8b8b8" stroke-width="1.8" stroke-linecap="round"/>
<line x1="1336.5" y1="189.2" x2="1343.4" y2="189.2" stroke="#b8b8b8" stroke-width="1.8" stroke-linecap="round"/>
<line x1="1331.2" y1="180.0" x2="1333.5" y2="173.9" stroke="#b8b8b8" stroke-width="1.8" stroke-linecap="round"/>
<line x1="1305.3" y1="181.5" x2="1302.2" y2="187.3" stroke="#b8b8b8" stroke-width="1.8" stroke-linecap="round"/>
<line x1="1299.9" y1="172.4" x2="1292.3" y2="173.5" stroke="#b8b8b8" stroke-width="1.8" stroke-linecap="round"/>
<line x1="1303.0" y1="153.4" x2="1308.3" y2="150.3" stroke="#b8b8b8" stroke-width="1.8" stroke-linecap="round"/>
<line x1="1298.4" y1="145.7" x2="1299.2" y2="140.4" stroke="#b8b8b8" stroke-width="1.8" stroke-linecap="round"/>
<line x1="1290.0" y1="148.8" x2="1284.7" y2="151.1" stroke="#b8b8b8" stroke-width="1.8" stroke-linecap="round"/>
<line x1="1290.0" y1="148.8" x2="1287.0" y2="142.7" stroke="#b8b8b8" stroke-width="1.8" stroke-linecap="round"/>
<line x1="1303.0" y1="153.4" x2="1297.6" y2="155.6" stroke="#b8b8b8" stroke-width="1.8" stroke-linecap="round"/>
<circle cx="1318.6" cy="196.4" r="3.4" fill="#dede18"/>
<circle cx="1316.3" cy="164.8" r="3.4" fill="#dede18"/>
<circle cx="1290.0" cy="148.8" r="2.6" fill="#8a2ad8"/>
<line x1="1369.0" y1="196.4" x2="1382.0" y2="198.7" stroke="#7e7e7e" stroke-width="3.0" stroke-linecap="round"/>
<line x1="1382.0" y1="198.7" x2="1386.9" y2="189.2" stroke="#7e7e7e" stroke-width="3.0" stroke-linecap="round"/>
<line x1="1386.9" y1="189.2" x2="1381.6" y2="180.0" stroke="#7e7e7e" stroke-width="3.0" stroke-linecap="round"/>
<line x1="1381.6" y1="180.0" x2="1370.5" y2="184.2" stroke="#7e7e7e" stroke-width="3.0" stroke-linecap="round"/>
<line x1="1370.5" y1="184.2" x2="1369.0" y2="196.4" stroke="#7e7e7e" stroke-width="3.0" stroke-linecap="round"/>
<line x1="1370.5" y1="184.2" x2="1364.8" y2="177.7" stroke="#7e7e7e" stroke-width="3.0" stroke-linecap="round"/>
<line x1="1364.8" y1="177.7" x2="1366.7" y2="164.8" stroke="#7e7e7e" stroke-width="3.0" stroke-linecap="round"/>
<line x1="1366.7" y1="164.8" x2="1356.4" y2="163.6" stroke="#7e7e7e" stroke-width="3.0" stroke-linecap="round"/>
<line x1="1356.4" y1="163.6" x2="1350.3" y2="172.4" stroke="#7e7e7e" stroke-width="3.0" stroke-linecap="round"/>
<line x1="1350.3" y1="172.4" x2="1355.7" y2="181.5" stroke="#7e7e7e" stroke-width="3.0" stroke-linecap="round"/>
<line x1="1355.7" y1="181.5" x2="1364.8" y2="177.7" stroke="#7e7e7e" stroke-width="3.0" stroke-linecap="round"/>
<line x1="1356.4" y1="163.6" x2="1353.4" y2="153.4" stroke="#7e7e7e" stroke-width="3.0" stroke-linecap="round"/>
<line x1="1353.4" y1="153.4" x2="1348.8" y2="145.7" stroke="#7e7e7e" stroke-width="3.0" stroke-linecap="round"/>
<line x1="1348.8" y1="145.7" x2="1340.4" y2="148.8" stroke="#7e7e7e" stroke-width="3.0" stroke-linecap="round"/>
<line x1="1382.0" y1="198.7" x2="1383.9" y2="205.2" stroke="#b8b8b8" stroke-width="1.8" stroke-linecap="round"/>
<line x1="1386.9" y1="189.2" x2="1393.8" y2="189.2" stroke="#b8b8b8" stroke-width="1.8" stroke-linecap="round"/>
<line x1="1381.6" y1="180.0" x2="1383.9" y2="173.9" stroke="#b8b8b8" stroke-width="1.8" stroke-linecap="round"/>
<line x1="1355.7" y1="181.5" x2="1352.6" y2="187.3" stroke="#b8b8b8" stroke-width="1.8" stroke-linecap="round"/>
<line x1="1350.3" y1="172.4" x2="1342.7" y2="173.5" stroke="#b8b8b8" stroke-width="1.8" stroke-linecap="round"/>
<line x1="1353.4" y1="153.4" x2="1358.7" y2="150.3" stroke="#b8b8b8" stroke-width="1.8" stroke-linecap="round"/>
<line x1="1348.8" y1="145.7" x2="1349.6" y2="140.4" stroke="#b8b8b8" stroke-width="1.8" stroke-linecap="round"/>
<line x1="1340.4" y1="148.8" x2="1335.1" y2="151.1" stroke="#b8b8b8" stroke-width="1.8" stroke-linecap="round"/>
<line x1="1340.4" y1="148.8" x2="1337.4" y2="142.7" stroke="#b8b8b8" stroke-width="1.8" stroke-linecap="round"/>
<line x1="1353.4" y1="153.4" x2="1348.0" y2="155.6" stroke="#b8b8b8" stroke-width="1.8" stroke-linecap="round"/>
<circle cx="1369.0" cy="196.4" r="3.4" fill="#dede18"/>
<circle cx="1366.7" cy="164.8" r="3.4" fill="#dede18"/>
<circle cx="1340.4" cy="148.8" r="2.6" fill="#8a2ad8"/>
<polygon points="990.4,112.8 1016.4,86.8 1016.4,112.8" fill="#b8b8b8"/>
<polygon points="1016.4,86.8 1042.4,112.8 1016.4,112.8" fill="#dcdcdc"/>
<polygon points="990.4,112.8 1016.4,138.8 1016.4,112.8" fill="#7a7a7a"/>
<polygon points="1016.4,138.8 1042.4,112.8 1016.4,112.8" fill="#9a9a9a"/>
<polygon points="1040.7,112.8 1066.7,86.8 1066.7,112.8" fill="#b8b8b8"/>
<polygon points="1066.7,86.8 1092.7,112.8 1066.7,112.8" fill="#dcdcdc"/>
<polygon points="1040.7,112.8 1066.7,138.8 1066.7,112.8" fill="#7a7a7a"/>
<polygon points="1066.7,138.8 1092.7,112.8 1066.7,112.8" fill="#9a9a9a"/>
<polygon points="1091.9,112.8 1117.9,86.8 1117.9,112.8" fill="#d88080"/>
<polygon points="1117.9,86.8 1143.9,112.8 1117.9,112.8" fill="#f0b0b0"/>
<polygon points="1091.9,112.8 1117.9,138.8 1117.9,112.8" fill="#905050"/>
<polygon points="1117.9,138.8 1143.9,112.8 1117.9,112.8" fill="#b86060"/>
<polygon points="1142.2,112.8 1168.2,86.8 1168.2,112.8" fill="#d88080"/>
<polygon points="1168.2,86.8 1194.2,112.8 1168.2,112.8" fill="#f0b0b0"/>
<polygon points="1142.2,112.8 1168.2,138.8 1168.2,112.8" fill="#905050"/>
<polygon points="1168.2,138.8 1194.2,112.8 1168.2,112.8" fill="#b86060"/>
<polygon points="1192.5,112.8 1218.5,86.8 1218.5,112.8" fill="#d88080"/>
<polygon points="1218.5,86.8 1244.5,112.8 1218.5,112.8" fill="#f0b0b0"/>
<polygon points="1192.5,112.8 1218.5,138.8 1218.5,112.8" fill="#905050"/>
<polygon points="1218.5,138.8 1244.5,112.8 1218.5,112.8" fill="#b86060"/>
<polygon points="1243.3,112.8 1269.3,86.8 1269.3,112.8" fill="#d88080"/>
<polygon points="1269.3,86.8 1295.3,112.8 1269.3,112.8" fill="#f0b0b0"/>
<polygon points="1243.3,112.8 1269.3,138.8 1269.3,112.8" fill="#905050"/>
<polygon points="1269.3,138.8 1295.3,112.8 1269.3,112.8" fill="#b86060"/>
<polygon points="1294.6,112.8 1320.6,86.8 1320.6,112.8" fill="#b8b8b8"/>
<polygon points="1320.6,86.8 1346.6,112.8 1320.6,112.8" fill="#dcdcdc"/>
<polygon points="1294.6,112.8 1320.6,138.8 1320.6,112.8" fill="#7a7a7a"/>
<polygon points="1320.6,138.8 1346.6,112.8 1320.6,112.8" fill="#9a9a9a"/>
<polygon points="1345.5,112.8 1371.5,86.8 1371.5,112.8" fill="#b8b8b8"/>
<polygon points="1371.5,86.8 1397.5,112.8 1371.5,112.8" fill="#dcdcdc"/>
<polygon points="1345.5,112.8 1371.5,138.8 1371.5,112.8" fill="#7a7a7a"/>
<polygon points="1371.5,138.8 1397.5,112.8 1371.5,112.8" fill="#9a9a9a"/>
<circle cx="1016.4" cy="87.0" r="5.2" fill="url(#atm)"/>
<circle cx="1016.4" cy="138.0" r="5.2" fill="url(#atm)"/>
<circle cx="1010.4" cy="114.0" r="5" fill="url(#atm)"/>
<circle cx="1021.4" cy="112.0" r="4.5" fill="url(#atm)"/>
<circle cx="1066.7" cy="87.0" r="5.2" fill="url(#atm)"/>
<circle cx="1066.7" cy="138.0" r="5.2" fill="url(#atm)"/>
<circle cx="1060.7" cy="114.0" r="5" fill="url(#atm)"/>
<circle cx="1071.7" cy="112.0" r="4.5" fill="url(#atm)"/>
<circle cx="1117.9" cy="87.0" r="5.2" fill="url(#ato)"/>
<circle cx="1117.9" cy="138.0" r="5.2" fill="url(#ato)"/>
<circle cx="1111.9" cy="114.0" r="5" fill="url(#ato)"/>
<circle cx="1122.9" cy="112.0" r="4.5" fill="url(#ato)"/>
<circle cx="1168.2" cy="87.0" r="5.2" fill="url(#ato)"/>
<circle cx="1168.2" cy="138.0" r="5.2" fill="url(#ato)"/>
<circle cx="1162.2" cy="114.0" r="5" fill="url(#ato)"/>
<circle cx="1173.2" cy="112.0" r="4.5" fill="url(#ato)"/>
<circle cx="1218.5" cy="87.0" r="5.2" fill="url(#ato)"/>
<circle cx="1218.5" cy="138.0" r="5.2" fill="url(#ato)"/>
<circle cx="1212.5" cy="114.0" r="5" fill="url(#ato)"/>
<circle cx="1223.5" cy="112.0" r="4.5" fill="url(#ato)"/>
<circle cx="1269.3" cy="87.0" r="5.2" fill="url(#ato)"/>
<circle cx="1269.3" cy="138.0" r="5.2" fill="url(#ato)"/>
<circle cx="1263.3" cy="114.0" r="5" fill="url(#ato)"/>
<circle cx="1274.3" cy="112.0" r="4.5" fill="url(#ato)"/>
<circle cx="1320.6" cy="87.0" r="5.2" fill="url(#atm)"/>
<circle cx="1320.6" cy="138.0" r="5.2" fill="url(#atm)"/>
<circle cx="1314.6" cy="114.0" r="5" fill="url(#atm)"/>
<circle cx="1325.6" cy="112.0" r="4.5" fill="url(#atm)"/>
<circle cx="1371.5" cy="87.0" r="5.2" fill="url(#atm)"/>
<circle cx="1371.5" cy="138.0" r="5.2" fill="url(#atm)"/>
<circle cx="1365.5" cy="114.0" r="5" fill="url(#atm)"/>
<circle cx="1376.5" cy="112.0" r="4.5" fill="url(#atm)"/>
<circle cx="990.5" cy="112.8" r="5.2" fill="url(#atm)"/>
<circle cx="1041.5" cy="112.8" r="5.2" fill="url(#atm)"/>
<circle cx="1092.3" cy="112.8" r="5.2" fill="url(#atm)"/>
<circle cx="1143.1" cy="112.8" r="5.2" fill="url(#ato)"/>
<circle cx="1193.3" cy="112.8" r="5.2" fill="url(#ato)"/>
<circle cx="1243.9" cy="112.8" r="5.2" fill="url(#ato)"/>
<circle cx="1294.9" cy="112.8" r="5.2" fill="url(#atm)"/>
<circle cx="1346.0" cy="112.8" r="5.2" fill="url(#atm)"/>
<circle cx="1397.5" cy="112.8" r="5.2" fill="url(#atm)"/>
<line x1="1479.2" y1="16.7" x2="1479.2" y2="179.0" stroke="#555" stroke-width="1.6"/>
<line x1="1475.5" y1="23.9" x2="1479.2" y2="23.9" stroke="#555" stroke-width="1.3"/>
<line x1="1475.5" y1="51.0" x2="1479.2" y2="51.0" stroke="#555" stroke-width="1.3"/>
<line x1="1475.5" y1="78.0" x2="1479.2" y2="78.0" stroke="#555" stroke-width="1.3"/>
<line x1="1475.5" y1="104.3" x2="1479.2" y2="104.3" stroke="#555" stroke-width="1.3"/>
<line x1="1475.5" y1="131.4" x2="1479.2" y2="131.4" stroke="#555" stroke-width="1.3"/>
<line x1="1475.5" y1="157.6" x2="1479.2" y2="157.6" stroke="#555" stroke-width="1.3"/>
<text x="1465.6" y="59.7" font-size="31" text-anchor="end">−2</text>
<text x="1465.6" y="116.2" font-size="31" text-anchor="end">−4</text>
<text x="1465.6" y="167.2" font-size="31" text-anchor="end">−6</text>
<text x="1423.0" y="109.5" font-size="31" text-anchor="middle" textLength="168" lengthAdjust="spacingAndGlyphs" transform="rotate(-90 1423.0 109.5)">Energy (eV)</text>
<g filter="url(#blur2)">
<rect x="1502.0" y="52.0" width="33.0" height="8.0" fill="#c8c8c8"/>
<rect x="1553.0" y="52.0" width="31.0" height="8.0" fill="#c8c8c8"/>
<rect x="1502.0" y="162.5" width="33.0" height="8.0" fill="#c8c8c8"/>
<rect x="1553.0" y="160.0" width="31.0" height="8.0" fill="#c8c8c8"/>
</g>
<rect x="1497.5" y="91.0" width="42.2" height="4.2" fill="#18b050"/>
<rect x="1497.5" y="154.3" width="42.2" height="4.5" fill="#18b050"/>
<rect x="1546.8" y="79.1" width="42.2" height="4.2" fill="#1a70d0"/>
<rect x="1545.2" y="170.0" width="42.9" height="4.5" fill="#1a70d0"/>
<text x="1511.3" y="136.1" font-size="21">I</text>
<text x="1553.3" y="136.1" font-size="21">Br</text>
<text x="1132.0" y="282.0" font-size="31" textLength="291" lengthAdjust="spacingAndGlyphs">(2T)<tspan font-size="20" dy="6">2</tspan><tspan dy="-6">PbI</tspan><tspan font-size="20" dy="6">4</tspan><tspan dy="-6">−(2T)</tspan><tspan font-size="20" dy="6">2</tspan><tspan dy="-6">PbBr</tspan><tspan font-size="20" dy="6">4</tspan></text>
<clipPath id="csp"><rect x="1017" y="303.5" width="521" height="160"/></clipPath><g clip-path="url(#csp)">
<circle cx="1018.0" cy="316.2" r="7.7" fill="url(#sM)"/>
<circle cx="1030.0" cy="316.3" r="7.2" fill="url(#sM)"/>
<circle cx="1042.9" cy="315.2" r="8.2" fill="url(#sM)"/>
<circle cx="1054.4" cy="315.5" r="8.0" fill="url(#sM)"/>
<circle cx="1068.9" cy="313.1" r="8.9" fill="url(#sM)"/>
<circle cx="1080.5" cy="316.3" r="8.0" fill="url(#sM)"/>
<circle cx="1094.9" cy="313.7" r="7.6" fill="url(#sM)"/>
<circle cx="1106.2" cy="316.1" r="8.1" fill="url(#sM)"/>
<circle cx="1118.1" cy="313.8" r="7.2" fill="url(#sM)"/>
<circle cx="1129.9" cy="315.2" r="7.9" fill="url(#sM)"/>
<circle cx="1143.7" cy="313.3" r="8.7" fill="url(#sM)"/>
<circle cx="1158.6" cy="316.0" r="8.5" fill="url(#sM)"/>
<circle cx="1173.0" cy="313.4" r="7.9" fill="url(#sM)"/>
<circle cx="1184.3" cy="316.1" r="8.1" fill="url(#sM)"/>
<circle cx="1195.7" cy="314.8" r="8.6" fill="url(#sM)"/>
<circle cx="1209.0" cy="313.5" r="8.9" fill="url(#sM)"/>
<circle cx="1220.2" cy="316.4" r="8.9" fill="url(#sM)"/>
<circle cx="1234.2" cy="316.8" r="8.1" fill="url(#sM)"/>
<circle cx="1246.1" cy="314.9" r="8.5" fill="url(#sM)"/>
<circle cx="1260.1" cy="314.5" r="8.9" fill="url(#sM)"/>
<circle cx="1271.3" cy="315.0" r="7.1" fill="url(#sM)"/>
<circle cx="1283.7" cy="317.0" r="7.2" fill="url(#sM)"/>
<circle cx="1298.6" cy="316.6" r="8.4" fill="url(#sM)"/>
<circle cx="1018.0" cy="327.8" r="9.4" fill="url(#sM)"/>
<circle cx="1031.4" cy="327.1" r="8.2" fill="url(#sM)"/>
<circle cx="1047.8" cy="331.1" r="9.8" fill="url(#sM)"/>
<circle cx="1063.8" cy="329.4" r="8.1" fill="url(#sM)"/>
<circle cx="1078.7" cy="330.8" r="9.5" fill="url(#sM)"/>
<circle cx="1091.8" cy="326.5" r="8.2" fill="url(#sM)"/>
<circle cx="1108.5" cy="327.5" r="8.8" fill="url(#sM)"/>
<circle cx="1123.4" cy="332.4" r="8.3" fill="url(#sM)"/>
<circle cx="1137.4" cy="332.0" r="8.2" fill="url(#sM)"/>
<circle cx="1151.1" cy="327.8" r="9.9" fill="url(#sM)"/>
<circle cx="1165.0" cy="330.9" r="8.8" fill="url(#sM)"/>
<circle cx="1182.0" cy="332.6" r="9.2" fill="url(#sM)"/>
<circle cx="1196.9" cy="330.2" r="9.7" fill="url(#sM)"/>
<circle cx="1210.3" cy="332.6" r="8.6" fill="url(#sM)"/>
<circle cx="1224.4" cy="331.9" r="8.4" fill="url(#sM)"/>
<circle cx="1239.8" cy="329.9" r="8.0" fill="url(#sM)"/>
<circle cx="1253.4" cy="330.2" r="9.8" fill="url(#sM)"/>
<circle cx="1268.4" cy="334.1" r="9.6" fill="url(#sM)"/>
<circle cx="1282.1" cy="336.0" r="8.8" fill="url(#sM)"/>
<circle cx="1020.0" cy="350.1" r="10.4" fill="url(#sG)"/>
<circle cx="1040.6" cy="349.9" r="10.7" fill="url(#sG)"/>
<circle cx="1059.2" cy="351.1" r="10.7" fill="url(#sG)"/>
<circle cx="1080.4" cy="354.6" r="9.6" fill="url(#sG)"/>
<circle cx="1101.9" cy="355.3" r="10.9" fill="url(#sG)"/>
<circle cx="1122.4" cy="357.2" r="10.0" fill="url(#sG)"/>
<circle cx="1142.9" cy="357.4" r="10.0" fill="url(#sG)"/>
<circle cx="1161.9" cy="356.8" r="10.7" fill="url(#sG)"/>
<circle cx="1180.2" cy="359.1" r="10.1" fill="url(#sG)"/>
<circle cx="1200.5" cy="358.4" r="9.2" fill="url(#sG)"/>
<circle cx="1220.5" cy="358.7" r="9.7" fill="url(#sG)"/>
<circle cx="1241.2" cy="359.4" r="10.8" fill="url(#sG)"/>
<circle cx="1280.0" cy="326.5" r="7.4" fill="url(#sO)"/>
<circle cx="1289.2" cy="322.2" r="7.4" fill="url(#sO)"/>
<circle cx="1300.6" cy="327.1" r="7.6" fill="url(#sO)"/>
<circle cx="1310.7" cy="323.3" r="7.9" fill="url(#sO)"/>
<circle cx="1319.9" cy="326.1" r="7.2" fill="url(#sO)"/>
<circle cx="1332.7" cy="322.7" r="7.4" fill="url(#sO)"/>
<circle cx="1342.0" cy="325.6" r="7.2" fill="url(#sO)"/>
<circle cx="1354.4" cy="322.4" r="7.5" fill="url(#sO)"/>
<circle cx="1364.0" cy="325.2" r="8.0" fill="url(#sO)"/>
<circle cx="1376.4" cy="322.6" r="6.0" fill="url(#sO)"/>
<circle cx="1385.6" cy="328.2" r="6.1" fill="url(#sO)"/>
<circle cx="1397.7" cy="328.5" r="7.6" fill="url(#sO)"/>
<circle cx="1410.4" cy="327.1" r="7.6" fill="url(#sO)"/>
<circle cx="1421.6" cy="327.3" r="6.1" fill="url(#sO)"/>
<circle cx="1432.8" cy="329.9" r="6.8" fill="url(#sO)"/>
<circle cx="1444.7" cy="323.4" r="7.0" fill="url(#sO)"/>
<circle cx="1455.8" cy="328.2" r="6.6" fill="url(#sO)"/>
<circle cx="1466.7" cy="323.5" r="7.2" fill="url(#sO)"/>
<circle cx="1479.5" cy="325.1" r="7.3" fill="url(#sO)"/>
<circle cx="1490.7" cy="323.6" r="7.4" fill="url(#sO)"/>
<circle cx="1500.5" cy="326.9" r="8.0" fill="url(#sO)"/>
<circle cx="1510.8" cy="327.3" r="6.7" fill="url(#sO)"/>
<circle cx="1522.4" cy="323.5" r="7.0" fill="url(#sO)"/>
<circle cx="1534.5" cy="323.7" r="6.7" fill="url(#sO)"/>
<circle cx="1270.0" cy="345.3" r="9.3" fill="url(#sO)"/>
<circle cx="1285.3" cy="348.2" r="8.9" fill="url(#sO)"/>
<circle cx="1298.5" cy="345.9" r="9.9" fill="url(#sO)"/>
<circle cx="1312.5" cy="349.5" r="8.6" fill="url(#sO)"/>
<circle cx="1325.1" cy="344.1" r="8.6" fill="url(#sO)"/>
<circle cx="1338.8" cy="348.2" r="9.2" fill="url(#sO)"/>
<circle cx="1353.6" cy="351.0" r="9.6" fill="url(#sO)"/>
<circle cx="1368.3" cy="350.4" r="9.1" fill="url(#sO)"/>
<circle cx="1382.2" cy="351.3" r="9.8" fill="url(#sO)"/>
<circle cx="1395.8" cy="350.9" r="8.9" fill="url(#sO)"/>
<circle cx="1410.8" cy="344.2" r="9.2" fill="url(#sO)"/>
<circle cx="1426.6" cy="347.5" r="9.7" fill="url(#sO)"/>
<circle cx="1441.3" cy="344.2" r="8.2" fill="url(#sO)"/>
<circle cx="1454.6" cy="351.8" r="9.3" fill="url(#sO)"/>
<circle cx="1469.0" cy="350.9" r="8.7" fill="url(#sO)"/>
<circle cx="1481.6" cy="347.6" r="9.8" fill="url(#sO)"/>
<circle cx="1494.2" cy="347.9" r="8.6" fill="url(#sO)"/>
<circle cx="1507.7" cy="344.7" r="9.8" fill="url(#sO)"/>
<circle cx="1520.7" cy="350.3" r="8.3" fill="url(#sO)"/>
<circle cx="1534.4" cy="344.2" r="9.2" fill="url(#sO)"/>
<circle cx="1270.0" cy="377.5" r="10.6" fill="url(#sG)"/>
<circle cx="1296.4" cy="374.3" r="12.8" fill="url(#sG)"/>
<circle cx="1321.2" cy="378.9" r="11.3" fill="url(#sG)"/>
<circle cx="1341.4" cy="374.2" r="12.2" fill="url(#sG)"/>
<circle cx="1366.3" cy="376.2" r="11.6" fill="url(#sG)"/>
<circle cx="1395.0" cy="378.1" r="11.6" fill="url(#sG)"/>
<circle cx="1420.8" cy="381.0" r="10.1" fill="url(#sG)"/>
<circle cx="1447.5" cy="378.6" r="12.1" fill="url(#sG)"/>
<circle cx="1469.1" cy="380.6" r="12.4" fill="url(#sG)"/>
<circle cx="1491.9" cy="381.6" r="10.2" fill="url(#sG)"/>
<circle cx="1517.4" cy="374.7" r="10.6" fill="url(#sG)"/>
<circle cx="1292.3" cy="331.2" r="8.4" fill="url(#sO)"/>
<circle cx="1324.3" cy="328.4" r="7.7" fill="url(#sO)"/>
<circle cx="1335.5" cy="326.3" r="6.3" fill="url(#sO)"/>
<circle cx="1359.1" cy="330.5" r="7.7" fill="url(#sO)"/>
<circle cx="1370.3" cy="328.4" r="6.3" fill="url(#sO)"/>
<circle cx="1394.0" cy="333.3" r="6.3" fill="url(#sO)"/>
<circle cx="1407.9" cy="331.2" r="7.0" fill="url(#sO)"/>
<circle cx="1442.7" cy="327.0" r="7.7" fill="url(#sO)"/>
<circle cx="1455.2" cy="331.2" r="7.0" fill="url(#sO)"/>
<circle cx="1490.1" cy="328.4" r="7.7" fill="url(#sO)"/>
<circle cx="1499.8" cy="332.6" r="7.0" fill="url(#sO)"/>
<circle cx="1510.9" cy="336.8" r="8.4" fill="url(#sO)"/>
<circle cx="1520.7" cy="339.6" r="9.7" fill="url(#sO)"/>
<circle cx="1531.8" cy="327.0" r="7.7" fill="url(#sO)"/>
<circle cx="1101.9" cy="315.9" r="8.4" fill="url(#sM)"/>
<circle cx="1128.4" cy="314.5" r="8.4" fill="url(#sM)"/>
<circle cx="1149.3" cy="314.5" r="7.7" fill="url(#sM)"/>
<circle cx="1177.1" cy="313.1" r="7.7" fill="url(#sM)"/>
<circle cx="1203.6" cy="315.9" r="7.0" fill="url(#sM)"/>
<circle cx="1230.1" cy="317.3" r="7.0" fill="url(#sM)"/>
<circle cx="1025.3" cy="317.3" r="11.8" fill="url(#sM)"/>
<circle cx="1069.9" cy="318.7" r="10.4" fill="url(#sM)"/>
<circle cx="1051.8" cy="323.6" r="12.5" fill="url(#sM)"/>
<circle cx="1277.4" cy="322.9" r="8.4" fill="url(#sM)"/>
<circle cx="1263.5" cy="326.3" r="9.7" fill="url(#sM)"/>
<circle cx="1246.8" cy="329.8" r="10.4" fill="url(#sM)"/>
<circle cx="1214.7" cy="331.2" r="11.8" fill="url(#sM)"/>
<circle cx="1023.9" cy="336.8" r="11.1" fill="url(#sG)"/>
<circle cx="1163.2" cy="343.7" r="8.4" fill="url(#sG)"/>
<circle cx="1205.0" cy="346.5" r="8.4" fill="url(#sG)"/>
<circle cx="1099.1" cy="328.4" r="13.2" fill="url(#sM)"/>
<circle cx="1131.2" cy="336.1" r="13.9" fill="url(#sM)"/>
<circle cx="1182.7" cy="338.2" r="13.9" fill="url(#sM)"/>
<circle cx="1199.4" cy="359.1" r="9.7" fill="url(#sM)"/>
<circle cx="1054.6" cy="353.5" r="11.1" fill="url(#sG)"/>
<circle cx="1095.0" cy="359.1" r="11.8" fill="url(#sG)"/>
<circle cx="1134.0" cy="366.0" r="13.2" fill="url(#sG)"/>
<circle cx="1216.1" cy="356.3" r="11.8" fill="url(#sG)"/>
<circle cx="1186.9" cy="378.6" r="13.2" fill="url(#sG)"/>
<circle cx="1273.2" cy="363.2" r="11.1" fill="url(#sG)"/>
<circle cx="1033.7" cy="354.9" r="14.6" fill="url(#sM)"/>
<circle cx="1072.7" cy="364.6" r="13.9" fill="url(#sM)"/>
<circle cx="1156.2" cy="367.4" r="13.2" fill="url(#sM)"/>
<circle cx="1108.9" cy="373.0" r="14.6" fill="url(#sM)"/>
<circle cx="1211.9" cy="375.8" r="13.9" fill="url(#sM)"/>
<circle cx="1166.0" cy="384.1" r="14.6" fill="url(#sM)"/>
<circle cx="1022.5" cy="375.8" r="11.1" fill="url(#sM)"/>
<circle cx="1056.0" cy="380.0" r="12.5" fill="url(#sM)"/>
<circle cx="1097.7" cy="389.7" r="12.5" fill="url(#sM)"/>
<circle cx="1140.9" cy="396.7" r="13.2" fill="url(#sM)"/>
<circle cx="1178.5" cy="410.6" r="13.9" fill="url(#sM)"/>
<circle cx="1275.6" cy="363.2" r="11.1" fill="url(#sG)"/>
<circle cx="1290.9" cy="347.9" r="5.6" fill="url(#sG)"/>
<circle cx="1328.5" cy="367.4" r="11.1" fill="url(#sG)"/>
<circle cx="1409.3" cy="353.5" r="7.0" fill="url(#sG)"/>
<circle cx="1387.0" cy="373.0" r="12.5" fill="url(#sG)"/>
<circle cx="1442.7" cy="373.0" r="12.5" fill="url(#sG)"/>
<circle cx="1506.8" cy="367.4" r="12.5" fill="url(#sG)"/>
<circle cx="1517.9" cy="373.0" r="11.1" fill="url(#sG)"/>
<circle cx="1307.6" cy="388.3" r="13.9" fill="url(#sG)"/>
<circle cx="1370.3" cy="380.0" r="18.1" fill="url(#sG)"/>
<circle cx="1455.2" cy="381.4" r="19.5" fill="url(#sG)"/>
<circle cx="1531.8" cy="400.8" r="13.9" fill="url(#sG)"/>
<circle cx="1278.4" cy="341.0" r="10.4" fill="url(#sO)"/>
<circle cx="1324.3" cy="343.7" r="9.7" fill="url(#sO)"/>
<circle cx="1339.6" cy="343.7" r="9.1" fill="url(#sO)"/>
<circle cx="1389.8" cy="347.9" r="11.1" fill="url(#sO)"/>
<circle cx="1421.8" cy="353.5" r="8.4" fill="url(#sO)"/>
<circle cx="1484.5" cy="350.7" r="7.0" fill="url(#sO)"/>
<circle cx="1534.6" cy="357.7" r="9.7" fill="url(#sO)"/>
<circle cx="1526.3" cy="347.9" r="12.5" fill="url(#sO)"/>
<circle cx="1307.6" cy="353.5" r="14.6" fill="url(#sO)"/>
<circle cx="1368.9" cy="353.5" r="15.3" fill="url(#sO)"/>
<circle cx="1456.6" cy="350.7" r="18.1" fill="url(#sO)"/>
<circle cx="1287.2" cy="329.8" r="8.4" fill="url(#sO)"/>
<circle cx="1276.0" cy="342.4" r="11.8" fill="url(#sO)"/>
<circle cx="1239.8" cy="352.1" r="13.2" fill="url(#sO)"/>
<circle cx="1248.2" cy="381.4" r="13.9" fill="url(#sG)"/>
<circle cx="1226.6" cy="387.6" r="14.6" fill="url(#sO)"/>
<circle cx="1280.2" cy="389.7" r="13.9" fill="url(#sO)"/>
<circle cx="1244.0" cy="413.4" r="13.2" fill="url(#sO)"/>
<circle cx="1287.2" cy="420.3" r="9.7" fill="url(#sO)"/>
<circle cx="1325.7" cy="407.8" r="10.4" fill="url(#sO)"/>
<circle cx="1524.9" cy="423.1" r="12.5" fill="url(#sO)"/>
<circle cx="1531.8" cy="442.6" r="11.1" fill="url(#sO)"/>
<circle cx="1297.9" cy="421.7" r="14.6" fill="url(#sO)"/>
<circle cx="1374.5" cy="430.1" r="15.3" fill="url(#sO)"/>
<circle cx="1455.2" cy="435.7" r="17.4" fill="url(#sO)"/>
<circle cx="1285.3" cy="389.7" r="15.3" fill="url(#sO)"/>
<circle cx="1334.1" cy="391.1" r="15.3" fill="url(#sO)"/>
<circle cx="1413.5" cy="392.5" r="15.3" fill="url(#sO)"/>
<circle cx="1377.2" cy="402.2" r="18.1" fill="url(#sO)"/>
<circle cx="1449.7" cy="402.2" r="19.5" fill="url(#sO)"/>
<circle cx="1501.2" cy="398.1" r="20.9" fill="url(#sO)"/>
</g>
<defs><filter id="noiseG" x="0" y="0" width="1" height="1" color-interpolation-filters="sRGB"><feTurbulence type="fractalNoise" baseFrequency="0.3" numOctaves="2" seed="3"/><feColorMatrix type="matrix" values="0.75 0 0 0 0.08  0.75 0 0 0 0.08  0.75 0 0 0 0.08  0 0 0 0 1"/></filter><filter id="noiseF" x="0" y="0" width="1" height="1" color-interpolation-filters="sRGB"><feTurbulence type="fractalNoise" baseFrequency="0.5" numOctaves="2" seed="8"/><feColorMatrix type="matrix" values="0.7 0 0 0 -0.18  0.7 0 0 0 -0.18  0.7 0 0 0 -0.18  0 0 0 0 1"/></filter><filter id="noiseA" x="0" y="0" width="1" height="1" color-interpolation-filters="sRGB"><feTurbulence type="fractalNoise" baseFrequency="0.5" numOctaves="2" seed="11"/><feColorMatrix type="matrix" values="0 0 0 0 1  0 0 0 0 1  0 0 0 0 1  1.2 0 0 0 -0.45"/></filter><radialGradient id="fftg" gradientUnits="userSpaceOnUse" cx="1975" cy="115" r="150"><stop offset="0" stop-color="#4a4a4a"/><stop offset="0.3" stop-color="#3c3c3c"/><stop offset="0.6" stop-color="#222"/><stop offset="0.85" stop-color="#0e0e0e"/><stop offset="1" stop-color="#050505"/></radialGradient><linearGradient id="rg4" x1="0" y1="0" x2="0" y2="1"><stop offset="0" stop-color="#3a0c08"/><stop offset="0.25" stop-color="#2e0a06"/><stop offset="0.42" stop-color="#0c0604"/><stop offset="0.55" stop-color="#061206"/><stop offset="0.75" stop-color="#0e3410"/><stop offset="1" stop-color="#124014"/></linearGradient><pattern id="fringe" width="5" height="5" patternUnits="userSpaceOnUse" patternTransform="rotate(35)"><rect width="5" height="2" fill="#000" opacity="0.25"/></pattern></defs>
<rect x="1609.4" y="6" width="237.3" height="241" filter="url(#noiseG)"/>
<text x="1624.0" y="51.3" font-size="40">(g)</text>
<text x="1692.0" y="43.7" font-size="22" fill="#fff">Rich in Br</text>
<rect x="1692" y="92" width="134" height="61" fill="none" stroke="#f0e000" stroke-width="2.6"/>
<text x="1751.5" y="143.0" font-size="22" fill="#f0e000">[010]</text>
<line x1="1740.5" y1="126.0" x2="1746.5" y2="192.0" stroke="#fff" stroke-width="2"/>
<polygon points="1742.0,188.0 1752.0,187.0 1748.0,202.0" fill="#fff"/>
<text x="1617.0" y="211.0" font-size="22" fill="#fff">10 nm</text>
<rect x="1619.0" y="222.0" width="51.6" height="7.5" fill="#fff"/>
<text x="1733.0" y="240.0" font-size="22" fill="#fff">Rich in I</text>
<rect x="1855.4" y="7.0" width="236.6" height="238.7" fill="url(#fftg)"/>
<rect x="1855.4" y="7" width="236.6" height="238.7" fill="#fff" filter="url(#noiseA)" opacity="0.10"/>
<circle cx="1962.5" cy="38.8" r="1.8" fill="#f0f0f0" opacity="0.8" filter="url(#blur1)"/>
<circle cx="2007.2" cy="33.8" r="1.8" fill="#f0f0f0" opacity="0.8" filter="url(#blur1)"/>
<circle cx="1919.7" cy="46.8" r="1.8" fill="#f0f0f0" opacity="0.8" filter="url(#blur1)"/>
<circle cx="1987.3" cy="57.7" r="1.8" fill="#f0f0f0" opacity="0.8" filter="url(#blur1)"/>
<circle cx="1943.6" cy="64.7" r="1.8" fill="#f0f0f0" opacity="0.8" filter="url(#blur1)"/>
<circle cx="2012.2" cy="75.6" r="1.8" fill="#f0f0f0" opacity="0.8" filter="url(#blur1)"/>
<circle cx="1990.3" cy="78.6" r="1.8" fill="#f0f0f0" opacity="0.8" filter="url(#blur1)"/>
<circle cx="1967.4" cy="81.6" r="1.8" fill="#f0f0f0" opacity="0.8" filter="url(#blur1)"/>
<circle cx="1946.5" cy="85.6" r="1.8" fill="#f0f0f0" opacity="0.8" filter="url(#blur1)"/>
<circle cx="1923.6" cy="88.6" r="1.8" fill="#f0f0f0" opacity="0.8" filter="url(#blur1)"/>
<circle cx="1880.9" cy="95.5" r="1.8" fill="#f0f0f0" opacity="0.8" filter="url(#blur1)"/>
<circle cx="2037.1" cy="93.6" r="1.8" fill="#f0f0f0" opacity="0.8" filter="url(#blur1)"/>
<circle cx="1948.5" cy="106.5" r="1.8" fill="#f0f0f0" opacity="0.8" filter="url(#blur1)"/>
<circle cx="2018.2" cy="119.4" r="1.8" fill="#f0f0f0" opacity="0.8" filter="url(#blur1)"/>
<circle cx="1973.4" cy="125.4" r="1.8" fill="#f0f0f0" opacity="0.8" filter="url(#blur1)"/>
<circle cx="1929.6" cy="132.4" r="1.8" fill="#f0f0f0" opacity="0.8" filter="url(#blur1)"/>
<circle cx="1904.7" cy="113.5" r="1.8" fill="#f0f0f0" opacity="0.8" filter="url(#blur1)"/>
<circle cx="1992.3" cy="99.5" r="1.8" fill="#f0f0f0" opacity="0.8" filter="url(#blur1)"/>
<circle cx="2042.1" cy="137.3" r="1.8" fill="#f0f0f0" opacity="0.8" filter="url(#blur1)"/>
<circle cx="1999.3" cy="144.3" r="1.8" fill="#f0f0f0" opacity="0.8" filter="url(#blur1)"/>
<circle cx="2024.2" cy="162.2" r="1.8" fill="#f0f0f0" opacity="0.8" filter="url(#blur1)"/>
<circle cx="2001.3" cy="164.2" r="1.8" fill="#f0f0f0" opacity="0.8" filter="url(#blur1)"/>
<circle cx="1979.4" cy="168.2" r="1.8" fill="#f0f0f0" opacity="0.8" filter="url(#blur1)"/>
<circle cx="2003.3" cy="186.1" r="1.8" fill="#f0f0f0" opacity="0.8" filter="url(#blur1)"/>
<circle cx="2067.0" cy="155.3" r="1.8" fill="#f0f0f0" opacity="0.8" filter="url(#blur1)"/>
<circle cx="1985.4" cy="211.0" r="1.8" fill="#f0f0f0" opacity="0.8" filter="url(#blur1)"/>
<circle cx="2061.0" cy="112.5" r="1.8" fill="#f0f0f0" opacity="0.8" filter="url(#blur1)"/>
<circle cx="1939.6" cy="39.8" r="1.8" fill="#f0f0f0" opacity="0.8" filter="url(#blur1)"/>
<circle cx="2033.1" cy="74.6" r="1.8" fill="#f0f0f0" opacity="0.8" filter="url(#blur1)"/>
<circle cx="2049.0" cy="159.2" r="1.8" fill="#f0f0f0" opacity="0.8" filter="url(#blur1)"/>
<circle cx="2055" cy="26.7" r="12" fill="none" stroke="#f0e000" stroke-width="2.4"/>
<text x="2046.0" y="71.6" font-size="22" fill="#f0e000">2 Å</text>
<rect x="2048.5" y="103" width="26" height="25.7" fill="none" stroke="#fff" stroke-width="2.2" stroke-dasharray="3,3"/>
<rect x="1857" y="137.3" width="108.4" height="107.5" filter="url(#noiseF)"/>
<rect x="1857" y="137.3" width="108.4" height="107.5" fill="none" stroke="#fff" stroke-width="2.6" stroke-dasharray="3.5,3.5"/>
<circle cx="1900.0" cy="171.2" r="6.0" fill="#f0f0f0" filter="url(#blur2)"/>
<circle cx="1927.6" cy="170.2" r="4.5" fill="#f0f0f0" filter="url(#blur2)"/>
<text x="1890.6" y="218.5" font-size="24" fill="#f0e000" textLength="34.5" lengthAdjust="spacingAndGlyphs">401</text>
<rect x="1915.7" y="197.0" width="9.9" height="2.6" fill="#f0e000"/>
<text x="2015.2" y="216.0" font-size="24" fill="#fff" textLength="51" lengthAdjust="spacingAndGlyphs">2 nm</text>
<text x="2066.0" y="206.0" font-size="14" fill="#fff" textLength="12" lengthAdjust="spacingAndGlyphs">−1</text>
<rect x="2023.2" y="222.5" width="50.8" height="6.4" fill="#fff"/>
<rect x="1609.4" y="255.0" width="237.3" height="240.0" fill="#000"/>
<circle cx="1625.2" cy="299.0" r="2.0" fill="#ee1010"/>
<circle cx="1670.1" cy="292.9" r="2.0" fill="#ee1010"/>
<circle cx="1673.8" cy="297.6" r="2.0" fill="#10ee10"/>
<circle cx="1693.9" cy="289.8" r="2.0" fill="#ee1010"/>
<circle cx="1715.8" cy="286.1" r="2.0" fill="#ee1010"/>
<circle cx="1717.0" cy="291.5" r="2.0" fill="#10ee10"/>
<circle cx="1739.3" cy="283.2" r="2.0" fill="#ee1010"/>
<circle cx="1761.9" cy="280.1" r="2.0" fill="#ee1010"/>
<circle cx="1760.0" cy="285.4" r="2.0" fill="#10ee10"/>
<circle cx="1808.1" cy="274.0" r="2.0" fill="#ee1010"/>
<circle cx="1741.8" cy="305.6" r="2.0" fill="#ee1010"/>
<circle cx="1741.0" cy="309.7" r="2.0" fill="#10ee10"/>
<circle cx="1696.1" cy="312.1" r="2.0" fill="#ee1010"/>
<circle cx="1698.1" cy="315.8" r="2.0" fill="#10ee10"/>
<circle cx="1790.3" cy="320.9" r="2.0" fill="#ee1010"/>
<circle cx="1787.2" cy="324.5" r="2.0" fill="#10ee10"/>
<circle cx="1813.4" cy="318.2" r="2.0" fill="#ee1010"/>
<circle cx="1809.0" cy="320.6" r="2.0" fill="#10ee10"/>
<circle cx="1767.3" cy="325.0" r="2.0" fill="#ee1010"/>
<circle cx="1765.3" cy="327.9" r="2.0" fill="#10ee10"/>
<circle cx="1744.2" cy="327.9" r="2.0" fill="#ee1010"/>
<circle cx="1743.7" cy="331.1" r="2.0" fill="#10ee10"/>
<circle cx="1721.9" cy="331.1" r="2.0" fill="#ee1010"/>
<circle cx="1721.9" cy="333.5" r="2.0" fill="#10ee10"/>
<circle cx="1699.3" cy="334.2" r="2.0" fill="#ee1010"/>
<circle cx="1700.5" cy="337.6" r="2.0" fill="#10ee10"/>
<circle cx="1676.2" cy="337.6" r="2.0" fill="#ee1010"/>
<circle cx="1679.4" cy="340.0" r="2.0" fill="#10ee10"/>
<circle cx="1653.6" cy="340.8" r="2.0" fill="#ee1010"/>
<circle cx="1635.4" cy="345.6" r="2.0" fill="#10ee10"/>
<circle cx="1792.8" cy="343.9" r="2.0" fill="#ee1010"/>
<circle cx="1789.6" cy="345.1" r="2.0" fill="#10ee10"/>
<circle cx="1701.7" cy="356.6" r="2.0" fill="#c0a010"/>
<circle cx="1747.8" cy="350.5" r="2.0" fill="#c0a010"/>
<circle cx="1656.1" cy="363.4" r="2.0" fill="#ee1010"/>
<circle cx="1659.9" cy="364.3" r="2.0" fill="#10ee10"/>
<circle cx="1773.3" cy="369.4" r="2.0" fill="#ee1010"/>
<circle cx="1770.9" cy="369.9" r="2.0" fill="#10ee10"/>
<circle cx="1682.3" cy="381.6" r="2.0" fill="#ee1010"/>
<circle cx="1798.4" cy="388.6" r="2.0" fill="#ee1010"/>
<circle cx="1795.2" cy="387.2" r="2.0" fill="#10ee10"/>
<circle cx="1753.2" cy="394.9" r="2.0" fill="#c0a010"/>
<circle cx="1819.5" cy="406.3" r="2.0" fill="#10ee10"/>
<circle cx="1824.3" cy="407.1" r="2.0" fill="#ee1010"/>
<circle cx="1801.8" cy="410.7" r="2.0" fill="#ee1010"/>
<circle cx="1775.8" cy="411.7" r="2.0" fill="#10ee10"/>
<circle cx="1778.9" cy="414.1" r="2.0" fill="#ee1010"/>
<circle cx="1754.4" cy="414.4" r="2.0" fill="#10ee10"/>
<circle cx="1756.3" cy="417.3" r="2.0" fill="#ee1010"/>
<circle cx="1733.3" cy="419.2" r="2.0" fill="#10ee10"/>
<circle cx="1733.8" cy="420.9" r="2.0" fill="#ee1010"/>
<circle cx="1757.1" cy="435.5" r="2.0" fill="#10ee10"/>
<circle cx="1758.8" cy="439.6" r="2.0" fill="#ee1010"/>
<circle cx="1783.8" cy="453.2" r="2.0" fill="#10ee10"/>
<circle cx="1784.8" cy="456.9" r="2.0" fill="#ee1010"/>
<circle cx="1738.1" cy="460.5" r="2.0" fill="#10ee10"/>
<circle cx="1739.3" cy="465.4" r="2.0" fill="#ee1010"/>
<circle cx="1761.9" cy="461.7" r="2.0" fill="#ee1010"/>
<rect x="1800.8" y="351" width="26" height="25" fill="none" stroke="#fff" stroke-width="2" stroke-dasharray="3,3"/>
<circle cx="1813.0" cy="363.5" r="2.6" fill="#10ee10"/>
<circle cx="1819.0" cy="363.5" r="2.4" fill="#ee1010"/>
<rect x="1610.6" y="384.5" width="110.4" height="109.3" fill="#000" stroke="#fff" stroke-width="2.4" stroke-dasharray="4,3.6"/>
<circle cx="1680.3" cy="419.7" r="13.5" fill="#f01010"/>
<circle cx="1652.6" cy="421.6" r="15.8" fill="#10ee10"/>
<text x="1641.0" y="469.5" font-size="22" fill="#10d010">I</text>
<text x="1680.0" y="469.5" font-size="22" fill="#f01010">Br</text>
<text x="1772.6" y="468.0" font-size="22" fill="#fff">2 nm</text>
<text x="1824.0" y="458.0" font-size="13" fill="#fff">−1</text>
<rect x="1778.0" y="473.6" width="50.5" height="5.6" fill="#fff"/>
<rect x="1854.2" y="255.0" width="239.8" height="240.5" fill="url(#rg4)"/>
<rect x="1854.2" y="255.0" width="239.8" height="240.5" fill="url(#fringe)"/>
<line x1="1990.7" y1="368.7" x2="1997.0" y2="432.0" stroke="#fff" stroke-width="2"/>
<polygon points="1992.0,428.0 2003.0,427.0 1998.0,444.0" fill="#fff"/>
<text x="2003.0" y="407.6" font-size="22" fill="#f0e000">[010]</text>
<text x="1859.5" y="466.3" font-size="22" fill="#fff">10 nm</text>
<rect x="1869.0" y="474.3" width="51.7" height="7.3" fill="#fff"/>
<defs><clipPath id="chp"><polygon points="1012.1,533.3 1012.1,705.5 1022.8,729.5 1217.2,729.5 1217.2,520 1049.4,520"/></clipPath><filter id="noiseH" x="0" y="0" width="1" height="1" color-interpolation-filters="sRGB"><feTurbulence type="fractalNoise" baseFrequency="0.7" numOctaves="2" seed="9"/><feColorMatrix type="matrix" values="0 0 0 0 0.4  0 0 0 0 0.4  0 0 0 0 0.4  0.9 0 0 0 -0.35"/></filter></defs>
<g clip-path="url(#chp)">
<rect x="1010.0" y="518.0" width="210.0" height="214.0" fill="#828282"/>
<ellipse cx="1083.1" cy="570.6" rx="60.4" ry="44.4" fill="#a4a4a4" stroke="#bdbdbd" stroke-width="0.8" transform="rotate(-8 1083.1 570.6)"/>
<ellipse cx="1184.3" cy="567.0" rx="32.8" ry="42.6" fill="#b0b0b0" stroke="#bdbdbd" stroke-width="0.8" transform="rotate(0 1184.3 567.0)"/>
<ellipse cx="1120.4" cy="620.3" rx="40.0" ry="20.4" fill="#b2b2b2" stroke="#bdbdbd" stroke-width="0.8" transform="rotate(-15 1120.4 620.3)"/>
<ellipse cx="1063.6" cy="657.6" rx="24.0" ry="34.6" fill="#a8a8a8" stroke="#bdbdbd" stroke-width="0.8" transform="rotate(-10 1063.6 657.6)"/>
<ellipse cx="1163.0" cy="646.9" rx="32.8" ry="22.2" fill="#acacac" stroke="#bdbdbd" stroke-width="0.8" transform="rotate(10 1163.0 646.9)"/>
<ellipse cx="1113.3" cy="653.2" rx="16.9" ry="9.8" fill="#b4b4b4" stroke="#bdbdbd" stroke-width="0.8" transform="rotate(0 1113.3 653.2)"/>
<ellipse cx="1132.8" cy="672.7" rx="25.7" ry="16.9" fill="#aaaaaa" stroke="#bdbdbd" stroke-width="0.8" transform="rotate(0 1132.8 672.7)"/>
<ellipse cx="1100.9" cy="691.3" rx="22.2" ry="15.1" fill="#a8a8a8" stroke="#bdbdbd" stroke-width="0.8" transform="rotate(0 1100.9 691.3)"/>
<ellipse cx="1022.8" cy="654.0" rx="17.8" ry="38.2" fill="#b6b6b6" stroke="#bdbdbd" stroke-width="0.8" transform="rotate(0 1022.8 654.0)"/>
<ellipse cx="1205.6" cy="675.4" rx="13.3" ry="27.5" fill="#b2b2b2" stroke="#bdbdbd" stroke-width="0.8" transform="rotate(0 1205.6 675.4)"/>
<ellipse cx="1203.9" cy="632.7" rx="13.3" ry="15.1" fill="#aeaeae" stroke="#bdbdbd" stroke-width="0.8" transform="rotate(0 1203.9 632.7)"/>
<ellipse cx="1021.0" cy="712.6" rx="13.3" ry="15.1" fill="#b2b2b2" stroke="#bdbdbd" stroke-width="0.8" transform="rotate(0 1021.0 712.6)"/>
<ellipse cx="1111.5" cy="714.4" rx="47.1" ry="16.9" fill="#a6a6a6" stroke="#bdbdbd" stroke-width="0.8" transform="rotate(0 1111.5 714.4)"/>
<ellipse cx="1182.6" cy="712.6" rx="20.4" ry="15.1" fill="#b0b0b0" stroke="#bdbdbd" stroke-width="0.8" transform="rotate(0 1182.6 712.6)"/>
<ellipse cx="1083.1" cy="528.9" rx="41.7" ry="11.5" fill="#b4b4b4" stroke="#bdbdbd" stroke-width="0.8" transform="rotate(0 1083.1 528.9)"/>
<ellipse cx="1019.2" cy="561.7" rx="13.3" ry="31.1" fill="#b6b6b6" stroke="#bdbdbd" stroke-width="0.8" transform="rotate(0 1019.2 561.7)"/>
<ellipse cx="1212.7" cy="595.5" rx="8.0" ry="22.2" fill="#b8b8b8" stroke="#bdbdbd" stroke-width="0.8" transform="rotate(0 1212.7 595.5)"/>
<rect x="1010" y="518" width="210" height="214" filter="url(#noiseH)"/>
<polyline points="1012.1,618.5 1015.3,617.3 1019.8,615.5 1025.1,613.6 1030.4,612.1 1035.2,611.4 1039.5,612.0 1043.7,613.5 1047.7,615.4 1051.4,617.2 1054.7,618.5 1057.6,619.3 1060.1,619.7 1062.3,620.0 1064.1,620.2 1065.4,620.3" fill="none" stroke="#727272" stroke-width="4.0" stroke-linejoin="round" stroke-linecap="round" opacity="0.85"/>
<polyline points="1065.4,620.3 1066.8,622.6 1068.8,625.8 1071.1,629.5 1073.6,633.2 1076.0,636.3 1078.5,638.7 1081.0,640.7 1083.7,642.6 1086.2,644.6 1088.5,646.9 1090.5,649.9 1092.3,653.3 1094.1,656.8 1095.7,660.1 1097.3,662.9 1098.8,665.2 1100.2,667.2 1101.5,668.8 1102.9,670.4 1104.4,671.8 1106.2,673.2 1108.3,674.4 1110.3,675.6 1112.1,676.5 1113.3,677.1" fill="none" stroke="#727272" stroke-width="4.5" stroke-linejoin="round" stroke-linecap="round" opacity="0.85"/>
<polyline points="1132.8,522.7 1133.8,526.0 1135.3,530.7 1136.9,536.2 1138.5,542.0 1139.9,547.5 1141.3,552.9 1142.7,558.5 1144.0,564.0 1144.9,569.4 1145.3,574.1 1145.0,578.5 1144.2,582.5 1143.0,586.1 1141.5,589.3 1139.9,591.9 1138.2,593.8 1136.2,595.0 1134.1,595.8 1131.7,596.5 1129.3,597.2 1126.9,597.9 1124.6,598.4 1122.1,598.9 1119.0,599.6 1115.1,600.8 1109.9,602.5 1103.7,604.6 1097.0,607.0 1090.5,609.3 1084.9,611.4 1080.0,613.5 1075.4,615.5 1071.3,617.5 1067.9,619.1 1065.4,620.3" fill="none" stroke="#727272" stroke-width="4.0" stroke-linejoin="round" stroke-linecap="round" opacity="0.85"/>
<polyline points="1139.9,591.9 1143.0,593.1 1147.3,594.7 1152.2,596.7 1157.1,598.7 1161.2,600.8 1164.5,602.9 1167.4,605.3 1170.0,607.6 1172.6,609.7 1175.5,611.4 1178.4,612.6 1181.2,613.4 1184.3,614.0 1187.6,614.5 1191.4,615.0 1196.4,615.5 1202.3,615.9 1208.3,616.3 1213.5,616.5 1217.2,616.8" fill="none" stroke="#727272" stroke-width="5.0" stroke-linejoin="round" stroke-linecap="round" opacity="0.85"/>
<polyline points="1161.2,604.3 1161.6,607.6 1162.2,612.4 1162.7,617.8 1163.1,623.1 1163.0,627.4 1162.3,630.8 1161.2,633.7 1159.8,636.3 1158.5,638.3 1157.7,639.8" fill="none" stroke="#727272" stroke-width="3.0" stroke-linejoin="round" stroke-linecap="round" opacity="0.85"/>
<polyline points="1037.0,627.4 1038.0,632.4 1039.5,639.5 1041.3,647.7 1042.9,655.8 1044.1,662.9 1044.7,668.6 1045.1,673.6 1045.3,678.4 1045.5,683.5 1045.8,689.6 1046.5,697.3 1047.3,706.5 1048.1,715.8 1048.9,723.9 1049.4,729.5" fill="none" stroke="#727272" stroke-width="3.5" stroke-linejoin="round" stroke-linecap="round" opacity="0.85"/>
<polyline points="1063.6,689.6 1067.8,689.7 1073.7,690.0 1080.5,690.3 1087.5,690.7 1093.8,691.3 1099.3,692.1 1104.7,693.1 1109.9,694.2 1115.1,695.4 1120.4,696.7 1125.6,697.7 1130.6,698.7 1135.8,699.8 1141.2,701.4 1147.0,703.8 1154.1,707.5 1162.3,712.3 1170.5,717.4 1177.6,721.9 1182.6,725.1" fill="none" stroke="#727272" stroke-width="3.0" stroke-linejoin="round" stroke-linecap="round" opacity="0.85"/>
<polyline points="1104.4,668.2 1107.6,667.2 1112.1,665.8 1117.4,664.1 1123.2,662.5 1129.3,661.1 1135.9,659.9 1143.2,658.6 1150.7,657.6 1158.1,657.1 1164.8,657.6 1171.0,659.2 1176.9,661.8 1182.5,665.0 1187.4,668.4 1191.4,671.8 1194.4,674.8 1196.4,677.6 1197.9,680.7 1199.0,684.5 1200.3,689.6 1201.7,696.8 1203.0,705.9 1204.1,715.3 1205.0,723.7 1205.6,729.5" fill="none" stroke="#727272" stroke-width="3.0" stroke-linejoin="round" stroke-linecap="round" opacity="0.85"/>
<polyline points="1012.1,689.6 1016.1,689.9 1021.7,690.3 1028.2,690.8 1034.7,691.2 1040.5,691.3 1045.8,691.2 1051.2,690.8 1056.3,690.3 1060.5,689.9 1063.6,689.6" fill="none" stroke="#727272" stroke-width="3.0" stroke-linejoin="round" stroke-linecap="round" opacity="0.85"/>
<polyline points="1191.4,615.0 1191.8,619.1 1192.3,625.1 1192.8,631.9 1193.2,638.9 1193.2,645.2 1192.8,651.1 1192.0,657.4 1191.1,663.2 1190.2,668.2 1189.7,671.8" fill="none" stroke="#727272" stroke-width="3.0" stroke-linejoin="round" stroke-linecap="round" opacity="0.85"/>
<circle cx="1060.0" cy="600.8" r="7.0" fill="#3a3a3a" opacity="0.8"/>
<circle cx="1054.7" cy="616.8" r="6.0" fill="#3a3a3a" opacity="0.8"/>
<circle cx="1037.0" cy="611.4" r="4.5" fill="#3a3a3a" opacity="0.8"/>
<circle cx="1207.4" cy="636.3" r="4.5" fill="#3a3a3a" opacity="0.8"/>
<circle cx="1037.0" cy="719.7" r="4.0" fill="#3a3a3a" opacity="0.8"/>
<circle cx="1164.8" cy="661.1" r="2.0" fill="#3a3a3a" opacity="0.8"/>
</g>
<text x="968.9" y="555.8" font-size="40">(h)</text>
<text x="1140.6" y="700.0" font-size="22" fill="#fff">1 μm</text>
<rect x="1153.7" y="708.6" width="44.0" height="7.7" fill="#fff"/>
<defs><filter id="speck1" x="0" y="0" width="1" height="1" color-interpolation-filters="sRGB"><feTurbulence type="fractalNoise" baseFrequency="0.6" numOctaves="2" seed="7" result="n"/><feColorMatrix in="n" type="matrix" values="0 0 0 0 0  0 0 0 0 0  0 0 0 0 0  2.4 0 0 0 -0.85" result="a0"/><feGaussianBlur in="a0" stdDeviation="0.55" result="a"/><feComposite in="a" in2="SourceGraphic" operator="in"/></filter><filter id="speck2" x="0" y="0" width="1" height="1" color-interpolation-filters="sRGB"><feTurbulence type="fractalNoise" baseFrequency="0.6" numOctaves="2" seed="14" result="n"/><feColorMatrix in="n" type="matrix" values="0 0 0 0 0  0 0 0 0 0  0 0 0 0 0  2.4 0 0 0 -0.85" result="a0"/><feGaussianBlur in="a0" stdDeviation="0.55" result="a"/><feComposite in="a" in2="SourceGraphic" operator="in"/></filter><filter id="speck3" x="0" y="0" width="1" height="1" color-interpolation-filters="sRGB"><feTurbulence type="fractalNoise" baseFrequency="0.6" numOctaves="2" seed="21" result="n"/><feColorMatrix in="n" type="matrix" values="0 0 0 0 0  0 0 0 0 0  0 0 0 0 0  2.4 0 0 0 -0.85" result="a0"/><feGaussianBlur in="a0" stdDeviation="0.55" result="a"/><feComposite in="a" in2="SourceGraphic" operator="in"/></filter><filter id="speck4" x="0" y="0" width="1" height="1" color-interpolation-filters="sRGB"><feTurbulence type="fractalNoise" baseFrequency="0.6" numOctaves="2" seed="28" result="n"/><feColorMatrix in="n" type="matrix" values="0 0 0 0 0  0 0 0 0 0  0 0 0 0 0  2.4 0 0 0 -0.85" result="a0"/><feGaussianBlur in="a0" stdDeviation="0.55" result="a"/><feComposite in="a" in2="SourceGraphic" operator="in"/></filter><filter id="speck5" x="0" y="0" width="1" height="1" color-interpolation-filters="sRGB"><feTurbulence type="fractalNoise" baseFrequency="0.6" numOctaves="2" seed="35" result="n"/><feColorMatrix in="n" type="matrix" values="0 0 0 0 0  0 0 0 0 0  0 0 0 0 0  2.4 0 0 0 -0.85" result="a0"/><feGaussianBlur in="a0" stdDeviation="0.55" result="a"/><feComposite in="a" in2="SourceGraphic" operator="in"/></filter></defs>
<rect x="1226.3" y="519.4" width="208.6" height="210.6" fill="#000"/>
<rect x="1443.4" y="519.8" width="210.6" height="209.9" fill="#000"/>
<rect x="1663.6" y="519.8" width="209.9" height="209.9" fill="#000"/>
<rect x="1883.0" y="519.8" width="209.0" height="209.9" fill="#000"/>
<polygon points="1247.8,572.8 1260.0,560.6 1281.1,553.5 1303.9,548.3 1326.6,543.0 1347.7,537.8 1365.2,535.2 1379.2,541.3 1380.9,551.8 1388.0,567.6 1393.2,590.3 1395.0,606.1 1398.5,620.1 1405.5,637.7 1407.2,660.4 1402.0,672.7 1388.0,686.7 1373.9,695.5 1356.4,700.7 1333.6,706.0 1312.6,709.5 1295.1,706.0 1282.8,699.0 1270.6,692.0 1265.3,676.2 1260.0,655.2 1254.8,634.2 1249.5,613.1 1246.0,592.1 1246.0,579.8" fill="#309a30"/>
<polygon points="1247.8,572.8 1260.0,560.6 1281.1,553.5 1303.9,548.3 1326.6,543.0 1347.7,537.8 1365.2,535.2 1379.2,541.3 1380.9,551.8 1388.0,567.6 1393.2,590.3 1395.0,606.1 1398.5,620.1 1405.5,637.7 1407.2,660.4 1402.0,672.7 1388.0,686.7 1373.9,695.5 1356.4,700.7 1333.6,706.0 1312.6,709.5 1295.1,706.0 1282.8,699.0 1270.6,692.0 1265.3,676.2 1260.0,655.2 1254.8,634.2 1249.5,613.1 1246.0,592.1 1246.0,579.8" fill="#000" filter="url(#speck1)" opacity="1.0"/>
<polygon points="1305.6,599.1 1319.6,593.9 1337.1,593.9 1344.2,606.1 1347.7,623.6 1345.9,641.2 1333.6,649.9 1319.6,651.7 1312.6,641.2 1307.4,623.6 1304.7,609.6" fill="#071c07"/>
<polygon points="1305.6,599.1 1319.6,593.9 1337.1,593.9 1344.2,606.1 1347.7,623.6 1345.9,641.2 1333.6,649.9 1319.6,651.7 1312.6,641.2 1307.4,623.6 1304.7,609.6" fill="#000" filter="url(#speck2)" opacity="0.4"/>
<text x="1229.0" y="550.6" font-size="40" fill="#fff">(i)</text>
<text x="1245.5" y="711.2" font-size="21.5" fill="#1e9a1e">I</text>
<rect x="1383.2" y="706.3" width="39.8" height="7.6" fill="#fff"/>
<polygon points="1464.9,574.2 1477.1,562.0 1498.2,554.9 1521.0,549.7 1543.7,544.4 1564.8,539.2 1582.3,536.6 1596.3,542.7 1598.0,553.2 1605.1,569.0 1610.3,591.7 1612.1,607.5 1615.6,621.5 1622.6,639.1 1624.3,661.8 1619.1,674.1 1605.1,688.1 1591.0,696.9 1573.5,702.1 1550.7,707.4 1529.7,710.9 1512.2,707.4 1499.9,700.4 1487.7,693.4 1482.4,677.6 1477.1,656.6 1471.9,635.6 1466.6,614.5 1463.1,593.5 1463.1,581.2" fill="#4e0e0c"/>
<polygon points="1464.9,574.2 1477.1,562.0 1498.2,554.9 1521.0,549.7 1543.7,544.4 1564.8,539.2 1582.3,536.6 1596.3,542.7 1598.0,553.2 1605.1,569.0 1610.3,591.7 1612.1,607.5 1615.6,621.5 1622.6,639.1 1624.3,661.8 1619.1,674.1 1605.1,688.1 1591.0,696.9 1573.5,702.1 1550.7,707.4 1529.7,710.9 1512.2,707.4 1499.9,700.4 1487.7,693.4 1482.4,677.6 1477.1,656.6 1471.9,635.6 1466.6,614.5 1463.1,593.5 1463.1,581.2" fill="#000" filter="url(#speck2)" opacity="1.0"/>
<polygon points="1524.7,599.5 1538.7,594.3 1556.2,594.3 1563.3,606.5 1566.8,624.0 1565.0,641.6 1552.7,650.3 1538.7,652.1 1531.7,641.6 1526.5,624.0 1523.8,610.0" fill="#aa1c18"/>
<polygon points="1524.7,599.5 1538.7,594.3 1556.2,594.3 1563.3,606.5 1566.8,624.0 1565.0,641.6 1552.7,650.3 1538.7,652.1 1531.7,641.6 1526.5,624.0 1523.8,610.0" fill="#000" filter="url(#speck3)" opacity="0.6"/>
<polygon points="1474.0,624.0 1486.0,616.0 1494.0,609.0 1500.0,612.0 1499.0,626.0 1493.0,634.0 1480.0,632.0" fill="#b82222"/>
<text x="1460.0" y="717.0" font-size="23" fill="#ee1010">Br</text>
<rect x="1594.0" y="705.8" width="39.6" height="8.0" fill="#fff"/>
<polygon points="1683.1,573.2 1695.3,561.0 1716.4,553.9 1739.2,548.7 1761.9,543.4 1783.0,538.2 1800.5,535.6 1814.5,541.7 1816.2,552.2 1823.3,568.0 1828.5,590.7 1830.3,606.5 1833.8,620.5 1840.8,638.1 1842.5,660.8 1837.3,673.1 1823.3,687.1 1809.2,695.9 1791.7,701.1 1768.9,706.4 1747.9,709.9 1730.4,706.4 1718.1,699.4 1705.9,692.4 1700.6,676.6 1695.3,655.6 1690.1,634.6 1684.8,613.5 1681.3,592.5 1681.3,580.2" fill="#4a862c"/>
<polygon points="1683.1,573.2 1695.3,561.0 1716.4,553.9 1739.2,548.7 1761.9,543.4 1783.0,538.2 1800.5,535.6 1814.5,541.7 1816.2,552.2 1823.3,568.0 1828.5,590.7 1830.3,606.5 1833.8,620.5 1840.8,638.1 1842.5,660.8 1837.3,673.1 1823.3,687.1 1809.2,695.9 1791.7,701.1 1768.9,706.4 1747.9,709.9 1730.4,706.4 1718.1,699.4 1705.9,692.4 1700.6,676.6 1695.3,655.6 1690.1,634.6 1684.8,613.5 1681.3,592.5 1681.3,580.2" fill="#000" filter="url(#speck4)" opacity="1.0"/>
<polygon points="1742.9,599.5 1756.9,594.3 1774.4,594.3 1781.5,606.5 1785.0,624.0 1783.2,641.6 1770.9,650.3 1756.9,652.1 1749.9,641.6 1744.7,624.0 1742.0,610.0" fill="#c02a1e"/>
<polygon points="1742.9,599.5 1756.9,594.3 1774.4,594.3 1781.5,606.5 1785.0,624.0 1783.2,641.6 1770.9,650.3 1756.9,652.1 1749.9,641.6 1744.7,624.0 1742.0,610.0" fill="#000" filter="url(#speck5)" opacity="0.6"/>
<polygon points="1694.0,624.0 1706.0,616.0 1714.0,609.0 1720.0,612.0 1719.0,626.0 1713.0,634.0 1700.0,632.0" fill="#b87a2a"/>
<text x="1671.5" y="717.0" font-size="23"><tspan fill="#1e9a1e">I</tspan><tspan fill="#fff">+</tspan><tspan fill="#ee1010">Br</tspan></text>
<rect x="1813.9" y="706.0" width="39.8" height="7.8" fill="#fff"/>
<polygon points="1903.5,574.2 1915.7,562.0 1936.8,554.9 1959.6,549.7 1982.3,544.4 2003.4,539.2 2020.9,536.6 2034.9,542.7 2036.6,553.2 2043.7,569.0 2048.9,591.7 2050.7,607.5 2054.2,621.5 2061.2,639.1 2062.9,661.8 2057.7,674.1 2043.7,688.1 2029.6,696.9 2012.1,702.1 1989.3,707.4 1968.3,710.9 1950.8,707.4 1938.5,700.4 1926.3,693.4 1921.0,677.6 1915.7,656.6 1910.5,635.6 1905.2,614.5 1901.7,593.5 1901.7,581.2" fill="#4020b8"/>
<polygon points="1903.5,574.2 1915.7,562.0 1936.8,554.9 1959.6,549.7 1982.3,544.4 2003.4,539.2 2020.9,536.6 2034.9,542.7 2036.6,553.2 2043.7,569.0 2048.9,591.7 2050.7,607.5 2054.2,621.5 2061.2,639.1 2062.9,661.8 2057.7,674.1 2043.7,688.1 2029.6,696.9 2012.1,702.1 1989.3,707.4 1968.3,710.9 1950.8,707.4 1938.5,700.4 1926.3,693.4 1921.0,677.6 1915.7,656.6 1910.5,635.6 1905.2,614.5 1901.7,593.5 1901.7,581.2" fill="#000" filter="url(#speck1)" opacity="1.0"/>
<text x="1892.7" y="713.0" font-size="23" fill="#3a2a9a">PL</text>
<rect x="2038.8" y="706.0" width="39.6" height="7.8" fill="#fff"/>
<clipPath id="cj"><rect x="1044.9" y="778.6" width="510.6999999999998" height="405.9999999999999"/></clipPath><g clip-path="url(#cj)">
<circle cx="1090.0" cy="829.3" r="3.4" fill="#3aa84a" opacity="0.75"/>
<circle cx="1101.9" cy="814.6" r="3.4" fill="#3aa84a" opacity="0.75"/>
<circle cx="1335.2" cy="1022.9" r="3.4" fill="#3aa84a" opacity="0.75"/>
<circle cx="1072.5" cy="922.0" r="3.4" fill="#3aa84a" opacity="0.75"/>
<circle cx="1200.1" cy="976.7" r="3.4" fill="#3aa84a" opacity="0.75"/>
<circle cx="1100.5" cy="841.7" r="3.4" fill="#3aa84a" opacity="0.75"/>
<circle cx="1538.2" cy="1063.5" r="3.4" fill="#3aa84a" opacity="0.75"/>
<circle cx="1074.8" cy="866.7" r="3.4" fill="#3aa84a" opacity="0.75"/>
<circle cx="1172.1" cy="944.0" r="3.4" fill="#3aa84a" opacity="0.75"/>
<circle cx="1089.8" cy="859.1" r="3.4" fill="#3aa84a" opacity="0.75"/>
<circle cx="1084.9" cy="857.0" r="3.4" fill="#3aa84a" opacity="0.75"/>
<circle cx="1128.1" cy="849.0" r="3.4" fill="#3aa84a" opacity="0.75"/>
<circle cx="1092.5" cy="858.8" r="3.4" fill="#3aa84a" opacity="0.75"/>
<circle cx="1314.4" cy="1038.0" r="3.4" fill="#3aa84a" opacity="0.75"/>
<circle cx="1492.0" cy="1078.2" r="3.4" fill="#3aa84a" opacity="0.75"/>
<circle cx="1199.2" cy="939.2" r="3.4" fill="#3aa84a" opacity="0.75"/>
<circle cx="1083.5" cy="820.0" r="3.4" fill="#3aa84a" opacity="0.75"/>
<circle cx="1428.2" cy="1057.4" r="3.4" fill="#3aa84a" opacity="0.75"/>
<circle cx="1145.6" cy="870.7" r="3.4" fill="#3aa84a" opacity="0.75"/>
<circle cx="1537.3" cy="1076.1" r="3.4" fill="#3aa84a" opacity="0.75"/>
<circle cx="1077.4" cy="910.4" r="3.4" fill="#3aa84a" opacity="0.75"/>
<circle cx="1172.6" cy="931.5" r="3.4" fill="#3aa84a" opacity="0.75"/>
<circle cx="1190.4" cy="942.9" r="3.4" fill="#3aa84a" opacity="0.75"/>
<circle cx="1193.3" cy="937.2" r="3.4" fill="#3aa84a" opacity="0.75"/>
<circle cx="1095.2" cy="839.3" r="3.4" fill="#3aa84a" opacity="0.75"/>
<circle cx="1128.5" cy="865.8" r="3.4" fill="#3aa84a" opacity="0.75"/>
<circle cx="1120.0" cy="848.5" r="3.4" fill="#3aa84a" opacity="0.75"/>
<circle cx="1315.1" cy="1034.9" r="3.4" fill="#3aa84a" opacity="0.75"/>
<circle cx="1247.2" cy="980.6" r="3.4" fill="#3aa84a" opacity="0.75"/>
<circle cx="1148.0" cy="855.3" r="3.4" fill="#3aa84a" opacity="0.75"/>
<circle cx="1474.6" cy="1036.8" r="3.4" fill="#3aa84a" opacity="0.75"/>
<circle cx="1134.1" cy="849.6" r="3.4" fill="#3aa84a" opacity="0.75"/>
<circle cx="1384.3" cy="1050.2" r="3.4" fill="#3aa84a" opacity="0.75"/>
<circle cx="1315.5" cy="1036.2" r="3.4" fill="#3aa84a" opacity="0.75"/>
<circle cx="1356.2" cy="1052.5" r="3.4" fill="#3aa84a" opacity="0.75"/>
<circle cx="1147.7" cy="888.0" r="3.4" fill="#3aa84a" opacity="0.75"/>
<circle cx="1080.7" cy="852.4" r="3.4" fill="#3aa84a" opacity="0.75"/>
<circle cx="1294.8" cy="1047.3" r="3.4" fill="#3aa84a" opacity="0.75"/>
<circle cx="1106.6" cy="848.8" r="3.4" fill="#3aa84a" opacity="0.75"/>
<circle cx="1074.3" cy="889.1" r="3.4" fill="#3aa84a" opacity="0.75"/>
<circle cx="1357.4" cy="1050.5" r="3.4" fill="#3aa84a" opacity="0.75"/>
<circle cx="1152.4" cy="863.6" r="3.4" fill="#3aa84a" opacity="0.75"/>
<circle cx="1369.1" cy="1039.8" r="3.4" fill="#3aa84a" opacity="0.75"/>
<circle cx="1306.7" cy="1044.4" r="3.4" fill="#3aa84a" opacity="0.75"/>
<circle cx="1245.8" cy="995.8" r="3.4" fill="#3aa84a" opacity="0.75"/>
<circle cx="1224.3" cy="974.9" r="3.4" fill="#3aa84a" opacity="0.75"/>
<circle cx="1203.0" cy="955.1" r="3.4" fill="#3aa84a" opacity="0.75"/>
<circle cx="1415.2" cy="1065.7" r="3.4" fill="#3aa84a" opacity="0.75"/>
<circle cx="1081.3" cy="856.0" r="3.4" fill="#3aa84a" opacity="0.75"/>
<circle cx="1088.6" cy="841.3" r="3.4" fill="#3aa84a" opacity="0.75"/>
<circle cx="1226.9" cy="990.8" r="3.4" fill="#3aa84a" opacity="0.75"/>
<circle cx="1171.5" cy="931.6" r="3.4" fill="#3aa84a" opacity="0.75"/>
<circle cx="1090.9" cy="841.2" r="3.4" fill="#3aa84a" opacity="0.75"/>
<circle cx="1188.2" cy="954.6" r="3.4" fill="#3aa84a" opacity="0.75"/>
<circle cx="1268.3" cy="1024.3" r="3.4" fill="#3aa84a" opacity="0.75"/>
<circle cx="1073.6" cy="897.3" r="3.4" fill="#3aa84a" opacity="0.75"/>
<circle cx="1078.8" cy="873.1" r="3.4" fill="#3aa84a" opacity="0.75"/>
<circle cx="1106.5" cy="825.4" r="3.4" fill="#3aa84a" opacity="0.75"/>
<circle cx="1120.5" cy="859.8" r="3.4" fill="#3aa84a" opacity="0.75"/>
<circle cx="1406.5" cy="1054.4" r="3.4" fill="#3aa84a" opacity="0.75"/>
<circle cx="1493.0" cy="1093.5" r="3.4" fill="#5a5af0" opacity="0.75"/>
<circle cx="1095.2" cy="887.1" r="3.4" fill="#5a5af0" opacity="0.75"/>
<circle cx="1252.4" cy="999.8" r="3.4" fill="#5a5af0" opacity="0.75"/>
<circle cx="1490.2" cy="1111.0" r="3.4" fill="#5a5af0" opacity="0.75"/>
<circle cx="1219.9" cy="1006.2" r="3.4" fill="#5a5af0" opacity="0.75"/>
<circle cx="1286.2" cy="1025.3" r="3.4" fill="#5a5af0" opacity="0.75"/>
<circle cx="1397.2" cy="1068.7" r="3.4" fill="#5a5af0" opacity="0.75"/>
<circle cx="1376.7" cy="1065.2" r="3.4" fill="#5a5af0" opacity="0.75"/>
<circle cx="1460.9" cy="1092.3" r="3.4" fill="#5a5af0" opacity="0.75"/>
<circle cx="1281.5" cy="1000.9" r="3.4" fill="#5a5af0" opacity="0.75"/>
<circle cx="1108.7" cy="900.0" r="3.4" fill="#5a5af0" opacity="0.75"/>
<circle cx="1475.3" cy="1087.4" r="3.4" fill="#5a5af0" opacity="0.75"/>
<circle cx="1088.9" cy="898.2" r="3.4" fill="#5a5af0" opacity="0.75"/>
<circle cx="1079.9" cy="896.8" r="3.4" fill="#5a5af0" opacity="0.75"/>
<circle cx="1077.9" cy="932.8" r="3.4" fill="#5a5af0" opacity="0.75"/>
<circle cx="1149.8" cy="931.0" r="3.4" fill="#5a5af0" opacity="0.75"/>
<circle cx="1437.6" cy="1080.7" r="3.4" fill="#5a5af0" opacity="0.75"/>
<circle cx="1117.3" cy="909.6" r="3.4" fill="#5a5af0" opacity="0.75"/>
<circle cx="1187.1" cy="956.1" r="3.4" fill="#5a5af0" opacity="0.75"/>
<circle cx="1084.9" cy="907.9" r="3.4" fill="#5a5af0" opacity="0.75"/>
<circle cx="1136.4" cy="908.3" r="3.4" fill="#5a5af0" opacity="0.75"/>
<circle cx="1474.7" cy="1094.6" r="3.4" fill="#5a5af0" opacity="0.75"/>
<circle cx="1145.0" cy="952.3" r="3.4" fill="#5a5af0" opacity="0.75"/>
<circle cx="1186.3" cy="984.5" r="3.4" fill="#5a5af0" opacity="0.75"/>
<circle cx="1124.0" cy="904.2" r="3.4" fill="#5a5af0" opacity="0.75"/>
<circle cx="1184.6" cy="974.4" r="3.4" fill="#5a5af0" opacity="0.75"/>
<circle cx="1244.8" cy="1013.7" r="3.4" fill="#5a5af0" opacity="0.75"/>
<circle cx="1150.5" cy="953.0" r="3.4" fill="#5a5af0" opacity="0.75"/>
<circle cx="1437.3" cy="1063.8" r="3.4" fill="#5a5af0" opacity="0.75"/>
<circle cx="1180.9" cy="972.2" r="3.4" fill="#5a5af0" opacity="0.75"/>
<circle cx="1538.7" cy="1096.8" r="3.4" fill="#5a5af0" opacity="0.75"/>
<circle cx="1246.0" cy="996.2" r="3.4" fill="#5a5af0" opacity="0.75"/>
<circle cx="1338.1" cy="1061.1" r="3.4" fill="#5a5af0" opacity="0.75"/>
<circle cx="1076.8" cy="913.4" r="3.4" fill="#5a5af0" opacity="0.75"/>
<circle cx="1240.5" cy="1000.7" r="3.4" fill="#5a5af0" opacity="0.75"/>
<circle cx="1154.1" cy="949.7" r="3.4" fill="#5a5af0" opacity="0.75"/>
<circle cx="1077.3" cy="925.7" r="3.4" fill="#5a5af0" opacity="0.75"/>
<circle cx="1098.5" cy="882.9" r="3.4" fill="#5a5af0" opacity="0.75"/>
<circle cx="1388.7" cy="1078.3" r="3.4" fill="#5a5af0" opacity="0.75"/>
<circle cx="1165.5" cy="963.8" r="3.4" fill="#5a5af0" opacity="0.75"/>
<circle cx="1133.1" cy="912.8" r="3.4" fill="#5a5af0" opacity="0.75"/>
<circle cx="1078.4" cy="890.8" r="3.4" fill="#5a5af0" opacity="0.75"/>
<circle cx="1376.4" cy="1077.5" r="3.4" fill="#5a5af0" opacity="0.75"/>
<circle cx="1141.5" cy="927.0" r="3.4" fill="#5a5af0" opacity="0.75"/>
<circle cx="1293.8" cy="1027.6" r="3.4" fill="#5a5af0" opacity="0.75"/>
<circle cx="1105.8" cy="892.7" r="3.4" fill="#5a5af0" opacity="0.75"/>
<circle cx="1261.0" cy="1029.6" r="3.4" fill="#5a5af0" opacity="0.75"/>
<circle cx="1080.6" cy="927.3" r="3.4" fill="#5a5af0" opacity="0.75"/>
<circle cx="1216.3" cy="1003.3" r="3.4" fill="#5a5af0" opacity="0.75"/>
<circle cx="1327.4" cy="1055.1" r="3.4" fill="#5a5af0" opacity="0.75"/>
<circle cx="1238.6" cy="1025.6" r="3.4" fill="#5a5af0" opacity="0.75"/>
<circle cx="1182.0" cy="966.9" r="3.4" fill="#5a5af0" opacity="0.75"/>
<circle cx="1129.8" cy="928.4" r="3.4" fill="#5a5af0" opacity="0.75"/>
<circle cx="1141.1" cy="910.2" r="3.4" fill="#5a5af0" opacity="0.75"/>
<circle cx="1095.7" cy="893.6" r="3.4" fill="#5a5af0" opacity="0.75"/>
<circle cx="1139.0" cy="899.9" r="3.4" fill="#5a5af0" opacity="0.75"/>
<circle cx="1176.6" cy="968.5" r="3.4" fill="#5a5af0" opacity="0.75"/>
<circle cx="1370.1" cy="1076.1" r="3.4" fill="#5a5af0" opacity="0.75"/>
<circle cx="1279.9" cy="1040.8" r="3.4" fill="#5a5af0" opacity="0.75"/>
<circle cx="1150.7" cy="909.8" r="3.4" fill="#5a5af0" opacity="0.75"/>
<circle cx="1446.9" cy="1153.2" r="3.4" fill="#f04a4a" opacity="0.75"/>
<circle cx="1232.5" cy="1047.3" r="3.4" fill="#f04a4a" opacity="0.75"/>
<circle cx="1191.2" cy="1028.7" r="3.4" fill="#f04a4a" opacity="0.75"/>
<circle cx="1110.6" cy="923.0" r="3.4" fill="#f04a4a" opacity="0.75"/>
<circle cx="1078.9" cy="937.2" r="3.4" fill="#f04a4a" opacity="0.75"/>
<circle cx="1187.8" cy="1029.7" r="3.4" fill="#f04a4a" opacity="0.75"/>
<circle cx="1146.7" cy="995.3" r="3.4" fill="#f04a4a" opacity="0.75"/>
<circle cx="1267.8" cy="1083.4" r="3.4" fill="#f04a4a" opacity="0.75"/>
<circle cx="1507.4" cy="1117.8" r="3.4" fill="#f04a4a" opacity="0.75"/>
<circle cx="1218.8" cy="1061.8" r="3.4" fill="#f04a4a" opacity="0.75"/>
<circle cx="1135.5" cy="967.6" r="3.4" fill="#f04a4a" opacity="0.75"/>
<circle cx="1225.4" cy="1058.5" r="3.4" fill="#f04a4a" opacity="0.75"/>
<circle cx="1259.7" cy="1075.3" r="3.4" fill="#f04a4a" opacity="0.75"/>
<circle cx="1362.4" cy="1119.1" r="3.4" fill="#f04a4a" opacity="0.75"/>
<circle cx="1089.3" cy="905.5" r="3.4" fill="#f04a4a" opacity="0.75"/>
<circle cx="1219.5" cy="1047.3" r="3.4" fill="#f04a4a" opacity="0.75"/>
<circle cx="1136.8" cy="952.7" r="3.4" fill="#f04a4a" opacity="0.75"/>
<circle cx="1343.4" cy="1113.9" r="3.4" fill="#f04a4a" opacity="0.75"/>
<circle cx="1120.8" cy="946.7" r="3.4" fill="#f04a4a" opacity="0.75"/>
<circle cx="1369.0" cy="1127.7" r="3.4" fill="#f04a4a" opacity="0.75"/>
<circle cx="1198.8" cy="1042.8" r="3.4" fill="#f04a4a" opacity="0.75"/>
<circle cx="1100.4" cy="895.5" r="3.4" fill="#f04a4a" opacity="0.75"/>
<circle cx="1082.7" cy="910.7" r="3.4" fill="#f04a4a" opacity="0.75"/>
<circle cx="1289.9" cy="1087.0" r="3.4" fill="#f04a4a" opacity="0.75"/>
<circle cx="1359.0" cy="1125.1" r="3.4" fill="#f04a4a" opacity="0.75"/>
<circle cx="1321.9" cy="1094.7" r="3.4" fill="#f04a4a" opacity="0.75"/>
<circle cx="1506.2" cy="1126.0" r="3.4" fill="#f04a4a" opacity="0.75"/>
<circle cx="1170.8" cy="1011.9" r="3.4" fill="#f04a4a" opacity="0.75"/>
<circle cx="1459.0" cy="1137.0" r="3.4" fill="#f04a4a" opacity="0.75"/>
<circle cx="1190.1" cy="1020.1" r="3.4" fill="#f04a4a" opacity="0.75"/>
<circle cx="1196.7" cy="1031.4" r="3.4" fill="#f04a4a" opacity="0.75"/>
<circle cx="1426.4" cy="1115.4" r="3.4" fill="#f04a4a" opacity="0.75"/>
<circle cx="1145.0" cy="988.1" r="3.4" fill="#f04a4a" opacity="0.75"/>
<circle cx="1287.7" cy="1070.6" r="3.4" fill="#f04a4a" opacity="0.75"/>
<circle cx="1287.0" cy="1094.5" r="3.4" fill="#f04a4a" opacity="0.75"/>
<circle cx="1128.4" cy="927.8" r="3.4" fill="#f04a4a" opacity="0.75"/>
<circle cx="1337.6" cy="1088.7" r="3.4" fill="#f04a4a" opacity="0.75"/>
<circle cx="1090.7" cy="896.7" r="3.4" fill="#f04a4a" opacity="0.75"/>
<circle cx="1139.5" cy="941.8" r="3.4" fill="#f04a4a" opacity="0.75"/>
<circle cx="1473.0" cy="1120.6" r="3.4" fill="#f04a4a" opacity="0.75"/>
<circle cx="1211.0" cy="1029.9" r="3.4" fill="#f04a4a" opacity="0.75"/>
<circle cx="1174.6" cy="1006.3" r="3.4" fill="#f04a4a" opacity="0.75"/>
<circle cx="1309.8" cy="1107.4" r="3.4" fill="#f04a4a" opacity="0.75"/>
<circle cx="1096.7" cy="902.2" r="3.4" fill="#f04a4a" opacity="0.75"/>
<circle cx="1104.8" cy="907.0" r="3.4" fill="#f04a4a" opacity="0.75"/>
<circle cx="1161.7" cy="989.7" r="3.4" fill="#f04a4a" opacity="0.75"/>
<circle cx="1295.1" cy="1069.0" r="3.4" fill="#f04a4a" opacity="0.75"/>
<circle cx="1203.7" cy="1035.6" r="3.4" fill="#f04a4a" opacity="0.75"/>
<circle cx="1133.3" cy="954.0" r="3.4" fill="#f04a4a" opacity="0.75"/>
<circle cx="1390.3" cy="1115.3" r="3.4" fill="#f04a4a" opacity="0.75"/>
<circle cx="1342.4" cy="1097.8" r="3.4" fill="#f04a4a" opacity="0.75"/>
<circle cx="1137.0" cy="944.3" r="3.4" fill="#f04a4a" opacity="0.75"/>
<circle cx="1131.3" cy="961.1" r="3.4" fill="#f04a4a" opacity="0.75"/>
<circle cx="1161.9" cy="990.8" r="3.4" fill="#f04a4a" opacity="0.75"/>
<circle cx="1174.0" cy="999.3" r="3.4" fill="#f04a4a" opacity="0.75"/>
<circle cx="1085.3" cy="902.5" r="3.4" fill="#f04a4a" opacity="0.75"/>
<circle cx="1121.4" cy="942.8" r="3.4" fill="#f04a4a" opacity="0.75"/>
<circle cx="1170.5" cy="993.7" r="3.4" fill="#f04a4a" opacity="0.75"/>
<circle cx="1209.8" cy="1015.1" r="3.4" fill="#f04a4a" opacity="0.75"/>
<circle cx="1382.0" cy="1126.1" r="3.4" fill="#f04a4a" opacity="0.75"/>
<circle cx="1525.3" cy="1130.6" r="3.4" fill="#f04a4a" opacity="0.75"/>
<circle cx="1125.3" cy="935.8" r="3.4" fill="#f04a4a" opacity="0.75"/>
<circle cx="1096.2" cy="904.8" r="3.4" fill="#f04a4a" opacity="0.75"/>
<circle cx="1155.7" cy="981.9" r="3.4" fill="#f04a4a" opacity="0.75"/>
<circle cx="1129.4" cy="969.6" r="3.4" fill="#f04a4a" opacity="0.75"/>
<circle cx="1290.0" cy="1109.0" r="3.6" fill="#555" opacity="0.75"/>
<circle cx="1087.2" cy="1018.9" r="3.6" fill="#555" opacity="0.75"/>
<circle cx="1075.0" cy="989.3" r="3.6" fill="#555" opacity="0.75"/>
<circle cx="1302.9" cy="1096.7" r="3.6" fill="#555" opacity="0.75"/>
<circle cx="1115.6" cy="1102.9" r="3.6" fill="#555" opacity="0.75"/>
<circle cx="1135.6" cy="1049.1" r="3.6" fill="#555" opacity="0.75"/>
<circle cx="1317.4" cy="1094.7" r="3.6" fill="#555" opacity="0.75"/>
<circle cx="1075.2" cy="993.2" r="3.6" fill="#555" opacity="0.75"/>
<circle cx="1408.9" cy="1123.3" r="3.6" fill="#555" opacity="0.75"/>
<circle cx="1136.8" cy="1095.1" r="3.6" fill="#555" opacity="0.75"/>
<circle cx="1440.4" cy="1130.1" r="3.6" fill="#555" opacity="0.75"/>
<circle cx="1071.3" cy="977.6" r="3.6" fill="#555" opacity="0.75"/>
<circle cx="1248.6" cy="1108.0" r="3.6" fill="#555" opacity="0.75"/>
<circle cx="1418.8" cy="1090.5" r="3.6" fill="#555" opacity="0.75"/>
<circle cx="1315.6" cy="1112.6" r="3.6" fill="#555" opacity="0.75"/>
<circle cx="1080.9" cy="1012.9" r="3.6" fill="#555" opacity="0.75"/>
<circle cx="1124.4" cy="1058.6" r="3.6" fill="#555" opacity="0.75"/>
<circle cx="1133.1" cy="1045.5" r="3.6" fill="#555" opacity="0.75"/>
<circle cx="1330.2" cy="1097.2" r="3.6" fill="#555" opacity="0.75"/>
<circle cx="1094.8" cy="1044.2" r="3.6" fill="#555" opacity="0.75"/>
<circle cx="1232.4" cy="1077.3" r="3.6" fill="#555" opacity="0.75"/>
<circle cx="1124.1" cy="1093.3" r="3.6" fill="#555" opacity="0.75"/>
<circle cx="1092.8" cy="1051.3" r="3.6" fill="#555" opacity="0.75"/>
<circle cx="1428.2" cy="1135.7" r="3.6" fill="#555" opacity="0.75"/>
<circle cx="1107.0" cy="1081.3" r="3.6" fill="#555" opacity="0.75"/>
<circle cx="1120.9" cy="1080.7" r="3.6" fill="#555" opacity="0.75"/>
<circle cx="1071.8" cy="996.9" r="3.6" fill="#555" opacity="0.75"/>
<circle cx="1137.6" cy="1082.3" r="3.6" fill="#555" opacity="0.75"/>
<circle cx="1111.5" cy="1061.5" r="3.6" fill="#555" opacity="0.75"/>
<circle cx="1096.0" cy="1058.1" r="3.6" fill="#555" opacity="0.75"/>
<circle cx="1447.1" cy="1125.7" r="3.6" fill="#555" opacity="0.75"/>
<circle cx="1094.4" cy="1026.0" r="3.6" fill="#555" opacity="0.75"/>
<circle cx="1262.0" cy="1082.5" r="3.6" fill="#555" opacity="0.75"/>
<circle cx="1093.8" cy="1056.8" r="3.6" fill="#555" opacity="0.75"/>
<circle cx="1329.2" cy="1098.1" r="3.6" fill="#555" opacity="0.75"/>
<circle cx="1068.2" cy="984.5" r="3.6" fill="#555" opacity="0.75"/>
<circle cx="1073.0" cy="989.8" r="3.6" fill="#555" opacity="0.75"/>
<circle cx="1447.9" cy="1091.0" r="3.6" fill="#555" opacity="0.75"/>
<circle cx="1121.1" cy="1077.0" r="3.6" fill="#555" opacity="0.75"/>
<circle cx="1073.5" cy="982.6" r="3.6" fill="#555" opacity="0.75"/>
<circle cx="1144.1" cy="1083.9" r="3.6" fill="#555" opacity="0.75"/>
<circle cx="1356.7" cy="1106.5" r="3.6" fill="#555" opacity="0.75"/>
<circle cx="1084.8" cy="1038.3" r="3.6" fill="#555" opacity="0.75"/>
<circle cx="1372.3" cy="1126.2" r="3.6" fill="#555" opacity="0.75"/>
<circle cx="1274.0" cy="1101.9" r="3.6" fill="#555" opacity="0.75"/>
<circle cx="1218.0" cy="1118.1" r="3.6" fill="#555" opacity="0.75"/>
<circle cx="1537.1" cy="1141.8" r="3.6" fill="#555" opacity="0.75"/>
<circle cx="1085.1" cy="1003.7" r="3.6" fill="#555" opacity="0.75"/>
<circle cx="1080.0" cy="1016.9" r="3.6" fill="#555" opacity="0.75"/>
<circle cx="1092.3" cy="1037.8" r="3.6" fill="#555" opacity="0.75"/>
<circle cx="1101.1" cy="1113.4" r="3.6" fill="#d0408a" opacity="0.75"/>
<circle cx="1439.3" cy="1094.0" r="3.6" fill="#d0408a" opacity="0.75"/>
<circle cx="1072.2" cy="1035.3" r="3.6" fill="#d0408a" opacity="0.75"/>
<circle cx="1122.3" cy="1083.9" r="3.6" fill="#d0408a" opacity="0.75"/>
<circle cx="1078.7" cy="1052.4" r="3.6" fill="#d0408a" opacity="0.75"/>
<circle cx="1398.9" cy="1077.8" r="3.6" fill="#d0408a" opacity="0.75"/>
<circle cx="1419.6" cy="1113.1" r="3.6" fill="#d0408a" opacity="0.75"/>
<circle cx="1078.7" cy="1067.1" r="3.6" fill="#d0408a" opacity="0.75"/>
<circle cx="1273.9" cy="1116.4" r="3.6" fill="#d0408a" opacity="0.75"/>
<circle cx="1080.0" cy="1087.5" r="3.6" fill="#d0408a" opacity="0.75"/>
<circle cx="1139.7" cy="1107.3" r="3.6" fill="#d0408a" opacity="0.75"/>
<circle cx="1080.1" cy="1072.9" r="3.6" fill="#d0408a" opacity="0.75"/>
<circle cx="1071.9" cy="1037.4" r="3.6" fill="#d0408a" opacity="0.75"/>
<circle cx="1122.2" cy="1113.5" r="3.6" fill="#d0408a" opacity="0.75"/>
<circle cx="1121.8" cy="1068.5" r="3.6" fill="#d0408a" opacity="0.75"/>
<circle cx="1075.8" cy="1037.2" r="3.6" fill="#d0408a" opacity="0.75"/>
<circle cx="1089.3" cy="1098.7" r="3.6" fill="#d0408a" opacity="0.75"/>
<circle cx="1260.2" cy="1103.1" r="3.6" fill="#d0408a" opacity="0.75"/>
<circle cx="1149.4" cy="1093.7" r="3.6" fill="#d0408a" opacity="0.75"/>
<circle cx="1073.0" cy="1058.3" r="3.6" fill="#d0408a" opacity="0.75"/>
<circle cx="1077.8" cy="1040.1" r="3.6" fill="#d0408a" opacity="0.75"/>
<circle cx="1081.4" cy="1048.7" r="3.6" fill="#d0408a" opacity="0.75"/>
<circle cx="1508.2" cy="1104.8" r="3.6" fill="#d0408a" opacity="0.75"/>
<circle cx="1260.6" cy="1105.2" r="3.6" fill="#d0408a" opacity="0.75"/>
<circle cx="1130.1" cy="1081.8" r="3.6" fill="#d0408a" opacity="0.75"/>
<circle cx="1301.6" cy="1118.4" r="3.6" fill="#d0408a" opacity="0.75"/>
<circle cx="1098.6" cy="1093.0" r="3.6" fill="#d0408a" opacity="0.75"/>
<circle cx="1115.7" cy="1086.2" r="3.6" fill="#d0408a" opacity="0.75"/>
<circle cx="1328.6" cy="1082.2" r="3.6" fill="#d0408a" opacity="0.75"/>
<circle cx="1070.4" cy="980.0" r="3.6" fill="#d0408a" opacity="0.75"/>
<circle cx="1085.2" cy="1103.4" r="3.6" fill="#d0408a" opacity="0.75"/>
<circle cx="1071.3" cy="1025.7" r="3.6" fill="#d0408a" opacity="0.75"/>
<circle cx="1082.3" cy="1080.4" r="3.6" fill="#d0408a" opacity="0.75"/>
<circle cx="1244.9" cy="1087.8" r="3.6" fill="#d0408a" opacity="0.75"/>
<circle cx="1113.1" cy="1111.2" r="3.6" fill="#d0408a" opacity="0.75"/>
<circle cx="1101.3" cy="1080.6" r="3.6" fill="#d0408a" opacity="0.75"/>
<circle cx="1075.6" cy="1032.9" r="3.6" fill="#d0408a" opacity="0.75"/>
<circle cx="1205.3" cy="1080.4" r="3.6" fill="#d0408a" opacity="0.75"/>
<circle cx="1450.7" cy="1111.2" r="3.6" fill="#d0408a" opacity="0.75"/>
<circle cx="1090.3" cy="1089.9" r="3.6" fill="#d0408a" opacity="0.75"/>
<circle cx="1399.2" cy="1103.4" r="3.6" fill="#d0408a" opacity="0.75"/>
<circle cx="1087.9" cy="1108.4" r="3.6" fill="#d0408a" opacity="0.75"/>
<circle cx="1087.2" cy="1087.5" r="3.6" fill="#d0408a" opacity="0.75"/>
<circle cx="1428.3" cy="1094.9" r="3.6" fill="#d0408a" opacity="0.75"/>
<circle cx="1121.1" cy="1086.4" r="3.6" fill="#d0408a" opacity="0.75"/>
<circle cx="1360.2" cy="1103.6" r="3.6" fill="#d0408a" opacity="0.75"/>
<circle cx="1094.1" cy="1079.3" r="3.6" fill="#d0408a" opacity="0.75"/>
<circle cx="1097.6" cy="1086.0" r="3.6" fill="#d0408a" opacity="0.75"/>
<circle cx="1090.9" cy="1069.9" r="3.6" fill="#d0408a" opacity="0.75"/>
<circle cx="1095.9" cy="1117.8" r="3.6" fill="#d0408a" opacity="0.75"/>
<circle cx="1074.8" cy="1043.5" r="3.6" fill="#d0408a" opacity="0.75"/>
<circle cx="1173.5" cy="1096.5" r="3.6" fill="#d0408a" opacity="0.75"/>
<circle cx="1450.6" cy="1096.1" r="3.6" fill="#d0408a" opacity="0.75"/>
<circle cx="1091.4" cy="1061.7" r="3.6" fill="#d0408a" opacity="0.75"/>
<circle cx="1525.5" cy="1116.7" r="3.6" fill="#d0408a" opacity="0.75"/>
<circle cx="1536.2" cy="1110.8" r="3.6" fill="#d0408a" opacity="0.75"/>
<circle cx="1439.6" cy="1109.3" r="3.6" fill="#d0408a" opacity="0.75"/>
<circle cx="1373.3" cy="1100.7" r="3.6" fill="#d0408a" opacity="0.75"/>
<circle cx="1072.8" cy="1042.7" r="3.6" fill="#d0408a" opacity="0.75"/>
<circle cx="1507.9" cy="1110.4" r="3.6" fill="#d0408a" opacity="0.75"/>
<circle cx="1080.4" cy="1057.6" r="3.6" fill="#d0408a" opacity="0.75"/>
<circle cx="1475.4" cy="1123.3" r="3.6" fill="#d0408a" opacity="0.75"/>
<circle cx="1109.9" cy="1081.1" r="3.6" fill="#d0408a" opacity="0.75"/>
<circle cx="1091.5" cy="1089.6" r="3.6" fill="#d0408a" opacity="0.75"/>
<circle cx="1189.2" cy="1083.2" r="3.6" fill="#d0408a" opacity="0.75"/>
<rect x="1061.0" y="811.0" width="8.0" height="360.0" fill="#b8106a"/>
<circle cx="1064.2" cy="1003.9" r="3.4" fill="#c8207a" stroke="#e070a8" stroke-width="0.8" opacity="0.9"/>
<circle cx="1065.6" cy="822.7" r="3.4" fill="#c8207a" stroke="#e070a8" stroke-width="0.8" opacity="0.9"/>
<circle cx="1064.0" cy="886.8" r="3.4" fill="#c8207a" stroke="#e070a8" stroke-width="0.8" opacity="0.9"/>
<circle cx="1065.6" cy="953.4" r="3.4" fill="#c8207a" stroke="#e070a8" stroke-width="0.8" opacity="0.9"/>
<circle cx="1064.8" cy="1164.0" r="3.4" fill="#c8207a" stroke="#e070a8" stroke-width="0.8" opacity="0.9"/>
<circle cx="1067.0" cy="1165.7" r="3.4" fill="#c8207a" stroke="#e070a8" stroke-width="0.8" opacity="0.9"/>
<circle cx="1063.3" cy="898.4" r="3.4" fill="#c8207a" stroke="#e070a8" stroke-width="0.8" opacity="0.9"/>
<circle cx="1066.4" cy="868.9" r="3.4" fill="#c8207a" stroke="#e070a8" stroke-width="0.8" opacity="0.9"/>
<circle cx="1066.7" cy="1025.4" r="3.4" fill="#c8207a" stroke="#e070a8" stroke-width="0.8" opacity="0.9"/>
<circle cx="1065.6" cy="1158.1" r="3.4" fill="#c8207a" stroke="#e070a8" stroke-width="0.8" opacity="0.9"/>
<circle cx="1063.3" cy="1002.5" r="3.4" fill="#c8207a" stroke="#e070a8" stroke-width="0.8" opacity="0.9"/>
<circle cx="1066.2" cy="820.4" r="3.4" fill="#c8207a" stroke="#e070a8" stroke-width="0.8" opacity="0.9"/>
<circle cx="1066.1" cy="1051.2" r="3.4" fill="#c8207a" stroke="#e070a8" stroke-width="0.8" opacity="0.9"/>
<circle cx="1065.7" cy="1013.4" r="3.4" fill="#c8207a" stroke="#e070a8" stroke-width="0.8" opacity="0.9"/>
<circle cx="1066.6" cy="1039.4" r="3.4" fill="#c8207a" stroke="#e070a8" stroke-width="0.8" opacity="0.9"/>
<circle cx="1065.0" cy="851.8" r="3.4" fill="#c8207a" stroke="#e070a8" stroke-width="0.8" opacity="0.9"/>
<circle cx="1066.3" cy="922.1" r="3.4" fill="#c8207a" stroke="#e070a8" stroke-width="0.8" opacity="0.9"/>
<circle cx="1064.0" cy="1124.2" r="3.4" fill="#c8207a" stroke="#e070a8" stroke-width="0.8" opacity="0.9"/>
<circle cx="1064.0" cy="840.6" r="3.4" fill="#c8207a" stroke="#e070a8" stroke-width="0.8" opacity="0.9"/>
<circle cx="1066.1" cy="924.0" r="3.4" fill="#c8207a" stroke="#e070a8" stroke-width="0.8" opacity="0.9"/>
<circle cx="1066.0" cy="957.9" r="3.4" fill="#c8207a" stroke="#e070a8" stroke-width="0.8" opacity="0.9"/>
<circle cx="1065.1" cy="919.1" r="3.4" fill="#c8207a" stroke="#e070a8" stroke-width="0.8" opacity="0.9"/>
<circle cx="1065.6" cy="878.3" r="3.4" fill="#c8207a" stroke="#e070a8" stroke-width="0.8" opacity="0.9"/>
<circle cx="1066.5" cy="994.7" r="3.4" fill="#c8207a" stroke="#e070a8" stroke-width="0.8" opacity="0.9"/>
<circle cx="1065.1" cy="1149.7" r="3.4" fill="#c8207a" stroke="#e070a8" stroke-width="0.8" opacity="0.9"/>
<circle cx="1066.7" cy="836.3" r="3.4" fill="#c8207a" stroke="#e070a8" stroke-width="0.8" opacity="0.9"/>
<circle cx="1064.9" cy="1148.4" r="3.4" fill="#c8207a" stroke="#e070a8" stroke-width="0.8" opacity="0.9"/>
<circle cx="1066.7" cy="984.9" r="3.4" fill="#c8207a" stroke="#e070a8" stroke-width="0.8" opacity="0.9"/>
<circle cx="1064.0" cy="902.3" r="3.4" fill="#c8207a" stroke="#e070a8" stroke-width="0.8" opacity="0.9"/>
<circle cx="1065.7" cy="1059.5" r="3.4" fill="#c8207a" stroke="#e070a8" stroke-width="0.8" opacity="0.9"/>
<circle cx="1066.3" cy="1056.2" r="3.4" fill="#c8207a" stroke="#e070a8" stroke-width="0.8" opacity="0.9"/>
<circle cx="1064.7" cy="994.4" r="3.4" fill="#c8207a" stroke="#e070a8" stroke-width="0.8" opacity="0.9"/>
<circle cx="1063.9" cy="892.3" r="3.4" fill="#c8207a" stroke="#e070a8" stroke-width="0.8" opacity="0.9"/>
<circle cx="1064.7" cy="943.7" r="3.4" fill="#c8207a" stroke="#e070a8" stroke-width="0.8" opacity="0.9"/>
<circle cx="1065.5" cy="1075.3" r="3.4" fill="#c8207a" stroke="#e070a8" stroke-width="0.8" opacity="0.9"/>
<circle cx="1064.5" cy="993.8" r="3.4" fill="#c8207a" stroke="#e070a8" stroke-width="0.8" opacity="0.9"/>
<circle cx="1064.5" cy="1034.7" r="3.4" fill="#c8207a" stroke="#e070a8" stroke-width="0.8" opacity="0.9"/>
<circle cx="1065.6" cy="1095.8" r="3.4" fill="#c8207a" stroke="#e070a8" stroke-width="0.8" opacity="0.9"/>
<circle cx="1064.5" cy="1059.3" r="3.4" fill="#c8207a" stroke="#e070a8" stroke-width="0.8" opacity="0.9"/>
<circle cx="1065.9" cy="996.4" r="3.4" fill="#c8207a" stroke="#e070a8" stroke-width="0.8" opacity="0.9"/>
<circle cx="1065.1" cy="1152.6" r="3.4" fill="#c8207a" stroke="#e070a8" stroke-width="0.8" opacity="0.9"/>
<circle cx="1065.8" cy="926.2" r="3.4" fill="#c8207a" stroke="#e070a8" stroke-width="0.8" opacity="0.9"/>
<circle cx="1064.3" cy="854.6" r="3.4" fill="#c8207a" stroke="#e070a8" stroke-width="0.8" opacity="0.9"/>
<circle cx="1065.2" cy="823.6" r="3.4" fill="#c8207a" stroke="#e070a8" stroke-width="0.8" opacity="0.9"/>
<circle cx="1064.6" cy="902.4" r="3.4" fill="#c8207a" stroke="#e070a8" stroke-width="0.8" opacity="0.9"/>
<circle cx="1065.5" cy="1092.4" r="3.4" fill="#c8207a" stroke="#e070a8" stroke-width="0.8" opacity="0.9"/>
<circle cx="1064.8" cy="825.2" r="3.4" fill="#c8207a" stroke="#e070a8" stroke-width="0.8" opacity="0.9"/>
<circle cx="1066.3" cy="814.4" r="3.4" fill="#c8207a" stroke="#e070a8" stroke-width="0.8" opacity="0.9"/>
<circle cx="1066.4" cy="988.7" r="3.4" fill="#c8207a" stroke="#e070a8" stroke-width="0.8" opacity="0.9"/>
<circle cx="1066.3" cy="906.2" r="3.4" fill="#c8207a" stroke="#e070a8" stroke-width="0.8" opacity="0.9"/>
<circle cx="1066.5" cy="861.3" r="3.4" fill="#c8207a" stroke="#e070a8" stroke-width="0.8" opacity="0.9"/>
<circle cx="1063.3" cy="950.7" r="3.4" fill="#c8207a" stroke="#e070a8" stroke-width="0.8" opacity="0.9"/>
<circle cx="1066.3" cy="1137.8" r="3.4" fill="#c8207a" stroke="#e070a8" stroke-width="0.8" opacity="0.9"/>
<circle cx="1065.3" cy="880.9" r="3.4" fill="#c8207a" stroke="#e070a8" stroke-width="0.8" opacity="0.9"/>
<circle cx="1063.6" cy="981.5" r="3.4" fill="#c8207a" stroke="#e070a8" stroke-width="0.8" opacity="0.9"/>
<circle cx="1066.9" cy="963.4" r="3.4" fill="#c8207a" stroke="#e070a8" stroke-width="0.8" opacity="0.9"/>
<circle cx="1066.0" cy="947.5" r="3.4" fill="#c8207a" stroke="#e070a8" stroke-width="0.8" opacity="0.9"/>
<circle cx="1066.1" cy="1082.7" r="3.4" fill="#c8207a" stroke="#e070a8" stroke-width="0.8" opacity="0.9"/>
<circle cx="1066.6" cy="1030.0" r="3.4" fill="#c8207a" stroke="#e070a8" stroke-width="0.8" opacity="0.9"/>
<circle cx="1064.9" cy="933.8" r="3.4" fill="#c8207a" stroke="#e070a8" stroke-width="0.8" opacity="0.9"/>
<circle cx="1063.4" cy="971.3" r="3.4" fill="#c8207a" stroke="#e070a8" stroke-width="0.8" opacity="0.9"/>
<circle cx="1066.0" cy="986.1" r="3.4" fill="#c8207a" stroke="#e070a8" stroke-width="0.8" opacity="0.9"/>
<circle cx="1063.7" cy="1016.4" r="3.4" fill="#c8207a" stroke="#e070a8" stroke-width="0.8" opacity="0.9"/>
<circle cx="1064.9" cy="898.4" r="3.4" fill="#c8207a" stroke="#e070a8" stroke-width="0.8" opacity="0.9"/>
<circle cx="1063.8" cy="849.6" r="3.4" fill="#c8207a" stroke="#e070a8" stroke-width="0.8" opacity="0.9"/>
<circle cx="1063.4" cy="1075.2" r="3.4" fill="#c8207a" stroke="#e070a8" stroke-width="0.8" opacity="0.9"/>
<circle cx="1063.6" cy="852.7" r="3.4" fill="#c8207a" stroke="#e070a8" stroke-width="0.8" opacity="0.9"/>
<circle cx="1063.1" cy="996.3" r="3.4" fill="#c8207a" stroke="#e070a8" stroke-width="0.8" opacity="0.9"/>
<circle cx="1065.3" cy="1056.4" r="3.4" fill="#c8207a" stroke="#e070a8" stroke-width="0.8" opacity="0.9"/>
<circle cx="1066.1" cy="1082.3" r="3.4" fill="#c8207a" stroke="#e070a8" stroke-width="0.8" opacity="0.9"/>
<circle cx="1065.1" cy="1069.6" r="3.4" fill="#c8207a" stroke="#e070a8" stroke-width="0.8" opacity="0.9"/>
<circle cx="1065.4" cy="920.2" r="3.4" fill="#c8207a" stroke="#e070a8" stroke-width="0.8" opacity="0.9"/>
<circle cx="1063.9" cy="865.3" r="3.4" fill="#c8207a" stroke="#e070a8" stroke-width="0.8" opacity="0.9"/>
<circle cx="1065.4" cy="1061.2" r="3.4" fill="#c8207a" stroke="#e070a8" stroke-width="0.8" opacity="0.9"/>
<circle cx="1064.8" cy="861.0" r="3.4" fill="#c8207a" stroke="#e070a8" stroke-width="0.8" opacity="0.9"/>
<circle cx="1063.9" cy="1025.1" r="3.4" fill="#c8207a" stroke="#e070a8" stroke-width="0.8" opacity="0.9"/>
<circle cx="1063.6" cy="1043.1" r="3.4" fill="#c8207a" stroke="#e070a8" stroke-width="0.8" opacity="0.9"/>
<circle cx="1064.7" cy="870.6" r="3.4" fill="#c8207a" stroke="#e070a8" stroke-width="0.8" opacity="0.9"/>
<circle cx="1065.9" cy="914.5" r="3.4" fill="#c8207a" stroke="#e070a8" stroke-width="0.8" opacity="0.9"/>
<circle cx="1064.2" cy="959.5" r="3.4" fill="#c8207a" stroke="#e070a8" stroke-width="0.8" opacity="0.9"/>
<circle cx="1066.3" cy="1103.4" r="3.4" fill="#c8207a" stroke="#e070a8" stroke-width="0.8" opacity="0.9"/>
<circle cx="1063.5" cy="1087.0" r="3.4" fill="#c8207a" stroke="#e070a8" stroke-width="0.8" opacity="0.9"/>
<circle cx="1063.4" cy="908.8" r="3.4" fill="#c8207a" stroke="#e070a8" stroke-width="0.8" opacity="0.9"/>
<circle cx="1064.9" cy="1077.0" r="3.4" fill="#c8207a" stroke="#e070a8" stroke-width="0.8" opacity="0.9"/>
<circle cx="1066.7" cy="845.1" r="3.4" fill="#c8207a" stroke="#e070a8" stroke-width="0.8" opacity="0.9"/>
<circle cx="1063.2" cy="839.0" r="3.4" fill="#c8207a" stroke="#e070a8" stroke-width="0.8" opacity="0.9"/>
<circle cx="1064.8" cy="1132.5" r="3.4" fill="#c8207a" stroke="#e070a8" stroke-width="0.8" opacity="0.9"/>
<circle cx="1065.4" cy="1116.4" r="3.4" fill="#c8207a" stroke="#e070a8" stroke-width="0.8" opacity="0.9"/>
<circle cx="1064.9" cy="860.6" r="3.4" fill="#c8207a" stroke="#e070a8" stroke-width="0.8" opacity="0.9"/>
<circle cx="1063.1" cy="1083.1" r="3.4" fill="#c8207a" stroke="#e070a8" stroke-width="0.8" opacity="0.9"/>
<rect x="1065.0" y="997.0" width="4.0" height="42.0" fill="#3030e0"/>
<rect x="1065.0" y="1040.0" width="4.0" height="20.0" fill="#ee2020"/>
<rect x="1061.0" y="1164.0" width="8.0" height="7.0" fill="#222"/>
<line x1="1061.5" y1="830.0" x2="1061.5" y2="1000.0" stroke="#222" stroke-width="1.2"/>
<polyline points="1071.9,937.6 1072.4,931.6 1073.0,923.2 1073.8,913.3 1074.6,902.9 1075.5,893.1 1076.3,885.0 1077.1,878.4 1077.9,872.4 1078.7,867.0 1079.6,862.1 1080.5,857.7 1081.5,853.6 1082.5,850.0 1083.6,846.8 1084.7,844.1 1085.8,841.8 1087.1,839.7 1088.5,837.8 1090.0,836.1 1091.7,834.7 1093.5,833.5 1095.4,832.6 1097.2,832.0 1099.0,831.7 1100.7,831.7 1102.4,832.0 1104.0,832.6 1105.7,833.5 1107.5,834.6 1109.5,836.0 1111.6,837.7 1113.9,839.8 1116.3,842.2 1118.8,844.7 1121.2,847.3 1123.6,850.0 1125.9,852.6 1128.1,855.3 1130.4,858.0 1132.7,861.0 1135.1,864.1 1137.6,867.6 1140.3,871.5 1143.1,875.7 1146.1,880.2 1149.1,884.7 1152.0,889.3 1155.0,893.8 1157.9,898.2 1160.9,902.7 1163.8,907.2 1166.7,911.6 1169.7,915.9 1172.6,920.1 1175.5,924.2 1178.4,928.1 1181.3,932.0 1184.2,935.8 1187.1,939.4 1190.0,943.0 1192.8,946.4 1195.6,949.6 1198.3,952.6 1201.2,955.7 1204.2,958.8 1207.6,962.1 1211.2,965.4 1214.8,968.8 1218.7,972.2 1222.9,975.7 1227.6,979.4 1232.8,983.5 1238.8,988.1 1245.4,993.1 1252.5,998.4 1259.8,1003.6 1267.1,1008.6 1274.2,1013.0 1281.1,1016.9 1288.0,1020.4 1294.9,1023.7 1301.8,1026.6 1308.7,1029.4 1315.6,1032.0 1322.5,1034.3 1329.4,1036.4 1336.3,1038.3 1343.2,1039.9 1350.1,1041.5 1357.0,1043.0 1363.7,1044.4 1370.0,1045.5 1376.4,1046.6 1383.1,1047.6 1390.3,1048.6 1398.4,1049.8 1407.3,1051.1 1416.7,1052.4 1426.7,1053.8 1437.3,1055.2 1448.6,1056.6 1460.6,1058.0 1474.7,1059.5 1491.0,1061.1 1507.9,1062.7 1524.1,1064.1 1537.8,1065.4 1547.5,1066.3" fill="none" stroke="#1a8a28" stroke-width="2.4" stroke-linejoin="round"/>
<polyline points="1074.5,941.1 1075.1,937.7 1075.9,932.8 1076.8,927.1 1077.8,921.2 1078.9,915.7 1079.8,911.3 1080.6,908.0 1081.3,905.4 1082.1,903.1 1082.9,901.2 1083.8,899.3 1085.0,897.3 1086.5,895.1 1088.2,892.9 1090.1,890.7 1092.1,888.8 1093.9,887.2 1095.5,886.0 1096.7,885.3 1097.7,884.8 1098.6,884.7 1099.5,885.0 1100.8,885.7 1102.5,886.8 1104.8,888.5 1107.6,890.8 1110.6,893.5 1113.8,896.5 1117.0,899.6 1120.0,902.6 1122.9,905.6 1125.9,908.7 1128.8,911.9 1131.7,915.1 1134.7,918.5 1137.6,921.9 1140.5,925.5 1143.4,929.2 1146.3,933.1 1149.2,936.9 1152.1,940.6 1155.0,944.0 1157.9,947.2 1160.8,950.2 1163.7,953.1 1166.6,955.8 1169.6,958.5 1172.6,961.0 1175.4,963.2 1177.9,965.1 1180.5,966.9 1183.4,968.8 1186.9,971.1 1191.4,974.0 1197.0,977.6 1203.5,981.8 1210.7,986.3 1218.2,991.0 1225.6,995.7 1232.8,1000.1 1239.7,1004.4 1246.6,1008.6 1253.5,1012.8 1260.4,1017.0 1267.3,1021.0 1274.2,1024.9 1281.1,1028.6 1288.0,1032.2 1294.9,1035.7 1301.8,1039.1 1308.7,1042.4 1315.6,1045.6 1322.5,1048.7 1329.4,1051.8 1336.3,1054.7 1343.2,1057.6 1350.1,1060.4 1357.0,1063.0 1363.7,1065.5 1370.0,1067.9 1376.4,1070.2 1383.1,1072.4 1390.3,1074.6 1398.4,1076.7 1407.3,1078.7 1416.7,1080.7 1426.7,1082.6 1437.3,1084.5 1448.6,1086.3 1460.6,1088.1 1474.7,1090.0 1491.0,1092.0 1507.9,1094.0 1524.1,1095.8 1537.8,1097.3 1547.5,1098.4" fill="none" stroke="#2020e0" stroke-width="2.4" stroke-linejoin="round"/>
<polyline points="1076.3,932.4 1076.8,930.2 1077.5,927.1 1078.2,923.5 1079.2,919.7 1080.3,916.1 1081.5,913.1 1082.9,910.5 1084.6,908.1 1086.4,905.8 1088.3,903.9 1090.2,902.5 1092.0,901.7 1093.7,901.5 1095.2,901.9 1096.8,902.7 1098.5,904.0 1100.3,905.7 1102.5,907.8 1105.0,910.3 1107.8,913.4 1110.8,916.8 1113.9,920.6 1117.0,924.6 1120.0,928.9 1122.9,933.6 1125.9,938.7 1128.8,944.1 1131.7,949.6 1134.7,955.0 1137.6,960.0 1140.5,964.8 1143.4,969.5 1146.3,974.1 1149.2,978.5 1152.1,982.7 1155.0,986.7 1157.8,990.4 1160.6,993.8 1163.4,997.0 1166.2,1000.0 1169.0,1003.0 1172.0,1006.0 1174.8,1008.8 1177.5,1011.2 1180.2,1013.6 1183.2,1016.2 1186.9,1019.2 1191.4,1022.9 1197.0,1027.6 1203.6,1033.1 1210.7,1039.1 1218.2,1045.1 1225.6,1050.9 1232.8,1056.0 1239.7,1060.4 1246.6,1064.5 1253.5,1068.3 1260.4,1071.9 1267.3,1075.4 1274.2,1078.8 1281.1,1082.2 1288.0,1085.5 1294.9,1088.8 1301.8,1091.8 1308.7,1094.7 1315.6,1097.4 1322.5,1099.8 1329.4,1102.1 1336.3,1104.1 1343.2,1106.0 1350.1,1107.9 1357.0,1109.8 1363.7,1111.7 1370.0,1113.5 1376.4,1115.3 1383.1,1117.0 1390.3,1118.6 1398.4,1120.2 1407.3,1121.7 1416.7,1123.2 1426.7,1124.6 1437.3,1125.9 1448.6,1127.2 1460.6,1128.4 1474.7,1129.6 1491.0,1130.9 1507.9,1132.1 1524.1,1133.1 1537.8,1134.0 1547.5,1134.7" fill="none" stroke="#ee1c1c" stroke-width="2.4" stroke-linejoin="round"/>
<polyline points="1065.0,945.6 1065.6,948.6 1066.4,952.6 1067.3,957.5 1068.4,962.8 1069.5,968.1 1070.6,973.3 1071.7,978.3 1072.9,983.5 1074.2,988.9 1075.5,994.2 1076.9,999.6 1078.5,1004.9 1080.3,1010.3 1082.3,1015.9 1084.4,1021.6 1086.5,1027.0 1088.5,1032.0 1090.3,1036.5 1091.8,1040.3 1093.1,1043.6 1094.2,1046.5 1095.4,1049.1 1096.7,1051.6 1098.2,1054.2 1099.9,1056.8 1101.7,1059.2 1103.6,1061.6 1105.6,1063.8 1107.8,1066.0 1110.0,1068.0 1112.3,1069.9 1114.7,1071.7 1117.2,1073.3 1119.8,1074.9 1122.7,1076.4 1125.9,1078.0 1128.8,1079.5 1131.2,1081.0 1133.8,1082.4 1137.3,1083.9 1142.5,1085.4 1150.0,1087.0 1160.4,1088.7 1173.3,1090.6 1187.7,1092.5 1203.0,1094.4 1218.3,1096.3 1232.8,1098.0 1246.6,1099.6 1260.4,1101.1 1274.2,1102.5 1288.0,1103.9 1301.8,1105.3 1315.6,1106.7 1329.6,1108.1 1344.0,1109.6 1358.3,1111.1 1372.3,1112.5 1385.8,1113.8 1398.4,1115.0 1409.7,1116.0 1419.7,1116.9 1429.2,1117.7 1438.8,1118.5 1449.0,1119.3 1460.6,1120.2 1474.7,1121.2 1491.0,1122.4 1507.9,1123.6 1524.1,1124.8 1537.8,1125.7 1547.5,1126.4" fill="none" stroke="#111" stroke-width="2.6" stroke-linejoin="round"/>
<polyline points="1065.0,945.6 1066.1,956.1 1067.6,971.2 1069.4,988.8 1071.2,1006.9 1073.0,1023.5 1074.5,1036.5 1075.7,1045.9 1076.8,1053.4 1077.7,1059.3 1078.6,1064.1 1079.5,1068.2 1080.5,1072.0 1081.4,1075.2 1082.1,1077.5 1082.8,1079.0 1083.7,1080.1 1084.8,1081.0 1086.4,1082.0 1088.1,1083.0 1089.7,1083.7 1091.7,1084.3 1094.2,1084.8 1097.6,1085.2 1102.2,1085.8 1107.9,1086.4 1114.5,1086.9 1121.9,1087.5 1130.3,1088.0 1139.6,1088.7 1150.0,1089.5 1161.8,1090.5 1175.0,1091.6 1189.2,1092.9 1203.9,1094.1 1218.6,1095.3 1232.8,1096.4 1246.6,1097.4 1260.4,1098.3 1274.2,1099.1 1288.0,1099.9 1301.8,1100.7 1315.6,1101.5 1329.6,1102.3 1344.0,1103.0 1358.3,1103.7 1372.3,1104.4 1385.8,1105.1 1398.4,1105.7 1409.7,1106.3 1419.7,1106.7 1429.2,1107.2 1438.8,1107.7 1449.0,1108.2 1460.6,1108.8 1474.7,1109.6 1491.0,1110.6 1507.9,1111.6 1524.1,1112.6 1537.8,1113.4 1547.5,1114.0" fill="none" stroke="#a8105a" stroke-width="2.6" stroke-linejoin="round"/>
</g>
<rect x="1044.9" y="778.6" width="510.7" height="405.9999999999999" fill="none" stroke="#333" stroke-width="2.4"/>
<line x1="1063.9" y1="1184.6" x2="1063.9" y2="1177.6" stroke="#333" stroke-width="1.6"/>
<line x1="1104.9" y1="1184.6" x2="1104.9" y2="1180.6" stroke="#333" stroke-width="1.6"/>
<line x1="1145.8" y1="1184.6" x2="1145.8" y2="1177.6" stroke="#333" stroke-width="1.6"/>
<line x1="1186.8" y1="1184.6" x2="1186.8" y2="1180.6" stroke="#333" stroke-width="1.6"/>
<line x1="1227.7" y1="1184.6" x2="1227.7" y2="1177.6" stroke="#333" stroke-width="1.6"/>
<line x1="1268.7" y1="1184.6" x2="1268.7" y2="1180.6" stroke="#333" stroke-width="1.6"/>
<line x1="1309.6" y1="1184.6" x2="1309.6" y2="1177.6" stroke="#333" stroke-width="1.6"/>
<line x1="1350.6" y1="1184.6" x2="1350.6" y2="1180.6" stroke="#333" stroke-width="1.6"/>
<line x1="1391.5" y1="1184.6" x2="1391.5" y2="1177.6" stroke="#333" stroke-width="1.6"/>
<line x1="1432.5" y1="1184.6" x2="1432.5" y2="1180.6" stroke="#333" stroke-width="1.6"/>
<line x1="1473.4" y1="1184.6" x2="1473.4" y2="1177.6" stroke="#333" stroke-width="1.6"/>
<line x1="1514.4" y1="1184.6" x2="1514.4" y2="1180.6" stroke="#333" stroke-width="1.6"/>
<line x1="1044.9" y1="810.4" x2="1048.4" y2="810.4" stroke="#333" stroke-width="1.4"/>
<line x1="1044.9" y1="841.2" x2="1048.4" y2="841.2" stroke="#333" stroke-width="1.4"/>
<line x1="1044.9" y1="872.7" x2="1048.4" y2="872.7" stroke="#333" stroke-width="1.4"/>
<line x1="1044.9" y1="904.2" x2="1048.4" y2="904.2" stroke="#333" stroke-width="1.4"/>
<line x1="1044.9" y1="935.4" x2="1048.4" y2="935.4" stroke="#333" stroke-width="1.4"/>
<line x1="1044.9" y1="966.2" x2="1048.4" y2="966.2" stroke="#333" stroke-width="1.4"/>
<line x1="1044.9" y1="997.7" x2="1048.4" y2="997.7" stroke="#333" stroke-width="1.4"/>
<line x1="1044.9" y1="1028.6" x2="1048.4" y2="1028.6" stroke="#333" stroke-width="1.4"/>
<line x1="1044.9" y1="1060.0" x2="1048.4" y2="1060.0" stroke="#333" stroke-width="1.4"/>
<line x1="1044.9" y1="1090.9" x2="1048.4" y2="1090.9" stroke="#333" stroke-width="1.4"/>
<line x1="1044.9" y1="1122.0" x2="1048.4" y2="1122.0" stroke="#333" stroke-width="1.4"/>
<line x1="1044.9" y1="1153.6" x2="1048.4" y2="1153.6" stroke="#333" stroke-width="1.4"/>
<text x="1063.7" y="1215.5" font-size="30.6" text-anchor="middle">0</text>
<text x="1146.6" y="1215.5" font-size="30.6" text-anchor="middle">200</text>
<text x="1229.5" y="1215.5" font-size="30.6" text-anchor="middle">400</text>
<text x="1312.5" y="1215.5" font-size="30.6" text-anchor="middle">600</text>
<text x="1395.4" y="1215.5" font-size="30.6" text-anchor="middle">800</text>
<text x="1478.3" y="1215.5" font-size="30.6" text-anchor="middle">1000</text>
<text x="1299.0" y="1249.5" font-size="31.5" text-anchor="middle" textLength="223.5" lengthAdjust="spacingAndGlyphs">Time delay (ps)</text>
<text x="1029.9" y="996.0" font-size="32.5" text-anchor="middle" textLength="329" lengthAdjust="spacingAndGlyphs" transform="rotate(-90 1029.9 996.0)">Transient absorptance</text>
<text x="989.9" y="815.5" font-size="40">(j)</text>
<text x="1408.0" y="815.3" font-size="30">T<tspan font-size="19" dy="6">PVK</tspan><tspan dy="-6"> (nm)</tspan></text>
<rect x="1442.6" y="841.5" width="15.8" height="4.5" fill="#111"/>
<text x="1466.7" y="854.0" font-size="30">0</text>
<rect x="1442.6" y="877.0" width="15.8" height="4.5" fill="#ee1c1c"/>
<text x="1466.7" y="889.5" font-size="30">2.7</text>
<rect x="1442.6" y="911.5" width="15.8" height="4.5" fill="#2222e0"/>
<text x="1466.7" y="924.0" font-size="30">4.3</text>
<rect x="1442.6" y="946.9" width="15.8" height="4.5" fill="#1e8c2a"/>
<text x="1466.7" y="959.4" font-size="30">5.2</text>
<rect x="1442.6" y="982.5" width="15.8" height="4.5" fill="#b0105a"/>
<text x="1466.7" y="995.0" font-size="30">12.2</text>
<clipPath id="ck"><rect x="1649.5" y="771.4" width="263.8" height="178.4"/></clipPath><g clip-path="url(#ck)">
<circle cx="1657.9" cy="844.6" r="3.6" fill="#111" stroke="#222" stroke-width="0.5" stroke-opacity="0.5"/>
<circle cx="1659.3" cy="932.0" r="3.6" fill="#111" stroke="#222" stroke-width="0.5" stroke-opacity="0.5"/>
<circle cx="1658.5" cy="874.4" r="3.6" fill="#111" stroke="#222" stroke-width="0.5" stroke-opacity="0.5"/>
<circle cx="1660.1" cy="877.9" r="3.6" fill="#111" stroke="#222" stroke-width="0.5" stroke-opacity="0.5"/>
<circle cx="1658.8" cy="917.9" r="3.6" fill="#111" stroke="#222" stroke-width="0.5" stroke-opacity="0.5"/>
<circle cx="1659.9" cy="807.6" r="3.6" fill="#111" stroke="#222" stroke-width="0.5" stroke-opacity="0.5"/>
<circle cx="1659.5" cy="888.0" r="3.6" fill="#111" stroke="#222" stroke-width="0.5" stroke-opacity="0.5"/>
<circle cx="1657.1" cy="912.0" r="3.6" fill="#111" stroke="#222" stroke-width="0.5" stroke-opacity="0.5"/>
<circle cx="1657.9" cy="920.5" r="3.6" fill="#111" stroke="#222" stroke-width="0.5" stroke-opacity="0.5"/>
<circle cx="1657.5" cy="902.9" r="3.6" fill="#111" stroke="#222" stroke-width="0.5" stroke-opacity="0.5"/>
<circle cx="1660.7" cy="805.6" r="3.6" fill="#111" stroke="#222" stroke-width="0.5" stroke-opacity="0.5"/>
<circle cx="1657.2" cy="941.1" r="3.6" fill="#111" stroke="#222" stroke-width="0.5" stroke-opacity="0.5"/>
<circle cx="1659.4" cy="882.9" r="3.6" fill="#111" stroke="#222" stroke-width="0.5" stroke-opacity="0.5"/>
<circle cx="1660.4" cy="926.3" r="3.6" fill="#111" stroke="#222" stroke-width="0.5" stroke-opacity="0.5"/>
<circle cx="1659.7" cy="808.0" r="3.6" fill="#111" stroke="#222" stroke-width="0.5" stroke-opacity="0.5"/>
<circle cx="1659.0" cy="890.7" r="3.6" fill="#111" stroke="#222" stroke-width="0.5" stroke-opacity="0.5"/>
<circle cx="1657.5" cy="788.3" r="3.6" fill="#111" stroke="#222" stroke-width="0.5" stroke-opacity="0.5"/>
<circle cx="1658.7" cy="902.5" r="3.6" fill="#111" stroke="#222" stroke-width="0.5" stroke-opacity="0.5"/>
<circle cx="1660.5" cy="872.0" r="3.6" fill="#111" stroke="#222" stroke-width="0.5" stroke-opacity="0.5"/>
<circle cx="1657.6" cy="834.8" r="3.6" fill="#111" stroke="#222" stroke-width="0.5" stroke-opacity="0.5"/>
<circle cx="1660.4" cy="792.8" r="3.6" fill="#111" stroke="#222" stroke-width="0.5" stroke-opacity="0.5"/>
<circle cx="1657.4" cy="905.9" r="3.6" fill="#111" stroke="#222" stroke-width="0.5" stroke-opacity="0.5"/>
<circle cx="1660.6" cy="806.0" r="3.6" fill="#111" stroke="#222" stroke-width="0.5" stroke-opacity="0.5"/>
<circle cx="1659.4" cy="904.6" r="3.6" fill="#111" stroke="#222" stroke-width="0.5" stroke-opacity="0.5"/>
<circle cx="1660.8" cy="919.7" r="3.6" fill="#111" stroke="#222" stroke-width="0.5" stroke-opacity="0.5"/>
<circle cx="1659.9" cy="855.7" r="3.6" fill="#111" stroke="#222" stroke-width="0.5" stroke-opacity="0.5"/>
<circle cx="1658.8" cy="852.6" r="3.6" fill="#111" stroke="#222" stroke-width="0.5" stroke-opacity="0.5"/>
<circle cx="1657.8" cy="829.9" r="3.6" fill="#111" stroke="#222" stroke-width="0.5" stroke-opacity="0.5"/>
<circle cx="1660.6" cy="828.6" r="3.6" fill="#111" stroke="#222" stroke-width="0.5" stroke-opacity="0.5"/>
<circle cx="1658.5" cy="934.5" r="3.6" fill="#111" stroke="#222" stroke-width="0.5" stroke-opacity="0.5"/>
<circle cx="1659.9" cy="904.0" r="3.6" fill="#111" stroke="#222" stroke-width="0.5" stroke-opacity="0.5"/>
<circle cx="1657.1" cy="810.0" r="3.6" fill="#111" stroke="#222" stroke-width="0.5" stroke-opacity="0.5"/>
<circle cx="1657.3" cy="890.6" r="3.6" fill="#111" stroke="#222" stroke-width="0.5" stroke-opacity="0.5"/>
<circle cx="1657.6" cy="875.0" r="3.6" fill="#111" stroke="#222" stroke-width="0.5" stroke-opacity="0.5"/>
<circle cx="1659.7" cy="820.0" r="3.6" fill="#111" stroke="#222" stroke-width="0.5" stroke-opacity="0.5"/>
<circle cx="1659.4" cy="945.5" r="3.6" fill="#111" stroke="#222" stroke-width="0.5" stroke-opacity="0.5"/>
<circle cx="1659.0" cy="875.3" r="3.6" fill="#111" stroke="#222" stroke-width="0.5" stroke-opacity="0.5"/>
<circle cx="1660.3" cy="926.1" r="3.6" fill="#111" stroke="#222" stroke-width="0.5" stroke-opacity="0.5"/>
<circle cx="1660.8" cy="879.9" r="3.6" fill="#111" stroke="#222" stroke-width="0.5" stroke-opacity="0.5"/>
<circle cx="1659.6" cy="865.8" r="3.6" fill="#111" stroke="#222" stroke-width="0.5" stroke-opacity="0.5"/>
<circle cx="1660.1" cy="899.7" r="3.6" fill="#111" stroke="#222" stroke-width="0.5" stroke-opacity="0.5"/>
<circle cx="1659.4" cy="866.0" r="3.6" fill="#111" stroke="#222" stroke-width="0.5" stroke-opacity="0.5"/>
<circle cx="1660.7" cy="895.7" r="3.6" fill="#111" stroke="#222" stroke-width="0.5" stroke-opacity="0.5"/>
<circle cx="1657.6" cy="835.7" r="3.6" fill="#111" stroke="#222" stroke-width="0.5" stroke-opacity="0.5"/>
<circle cx="1660.3" cy="884.4" r="3.6" fill="#111" stroke="#222" stroke-width="0.5" stroke-opacity="0.5"/>
<circle cx="1659.3" cy="828.9" r="3.6" fill="#111" stroke="#222" stroke-width="0.5" stroke-opacity="0.5"/>
<circle cx="1659.8" cy="911.6" r="3.6" fill="#111" stroke="#222" stroke-width="0.5" stroke-opacity="0.5"/>
<circle cx="1659.4" cy="864.0" r="3.6" fill="#111" stroke="#222" stroke-width="0.5" stroke-opacity="0.5"/>
<circle cx="1658.9" cy="812.5" r="3.6" fill="#111" stroke="#222" stroke-width="0.5" stroke-opacity="0.5"/>
<circle cx="1660.8" cy="865.5" r="3.6" fill="#111" stroke="#222" stroke-width="0.5" stroke-opacity="0.5"/>
<circle cx="1660.3" cy="794.6" r="3.6" fill="#111" stroke="#222" stroke-width="0.5" stroke-opacity="0.5"/>
<circle cx="1657.1" cy="899.3" r="3.6" fill="#111" stroke="#222" stroke-width="0.5" stroke-opacity="0.5"/>
<circle cx="1660.2" cy="815.6" r="3.6" fill="#111" stroke="#222" stroke-width="0.5" stroke-opacity="0.5"/>
<circle cx="1657.7" cy="845.1" r="3.6" fill="#111" stroke="#222" stroke-width="0.5" stroke-opacity="0.5"/>
<circle cx="1660.5" cy="820.5" r="3.6" fill="#111" stroke="#222" stroke-width="0.5" stroke-opacity="0.5"/>
<circle cx="1659.6" cy="808.9" r="3.6" fill="#111" stroke="#222" stroke-width="0.5" stroke-opacity="0.5"/>
<circle cx="1660.3" cy="788.4" r="3.6" fill="#111" stroke="#222" stroke-width="0.5" stroke-opacity="0.5"/>
<circle cx="1660.1" cy="789.7" r="3.6" fill="#111" stroke="#222" stroke-width="0.5" stroke-opacity="0.5"/>
<circle cx="1657.7" cy="846.8" r="3.6" fill="#111" stroke="#222" stroke-width="0.5" stroke-opacity="0.5"/>
<circle cx="1659.8" cy="878.8" r="3.6" fill="#111" stroke="#222" stroke-width="0.5" stroke-opacity="0.5"/>
<circle cx="1659.9" cy="874.6" r="3.6" fill="#111" stroke="#222" stroke-width="0.5" stroke-opacity="0.5"/>
<circle cx="1658.9" cy="814.9" r="3.6" fill="#111" stroke="#222" stroke-width="0.5" stroke-opacity="0.5"/>
<circle cx="1660.4" cy="913.2" r="3.6" fill="#111" stroke="#222" stroke-width="0.5" stroke-opacity="0.5"/>
<circle cx="1657.4" cy="898.7" r="3.6" fill="#111" stroke="#222" stroke-width="0.5" stroke-opacity="0.5"/>
<circle cx="1660.3" cy="797.7" r="3.6" fill="#111" stroke="#222" stroke-width="0.5" stroke-opacity="0.5"/>
<circle cx="1660.0" cy="891.6" r="3.6" fill="#111" stroke="#222" stroke-width="0.5" stroke-opacity="0.5"/>
<circle cx="1657.3" cy="911.7" r="3.6" fill="#111" stroke="#222" stroke-width="0.5" stroke-opacity="0.5"/>
<circle cx="1660.5" cy="839.8" r="3.6" fill="#111" stroke="#222" stroke-width="0.5" stroke-opacity="0.5"/>
<circle cx="1657.4" cy="811.8" r="3.6" fill="#111" stroke="#222" stroke-width="0.5" stroke-opacity="0.5"/>
<circle cx="1660.6" cy="834.7" r="3.6" fill="#111" stroke="#222" stroke-width="0.5" stroke-opacity="0.5"/>
<circle cx="1654.6" cy="939.3" r="3.2" fill="#2a9a3a" stroke="#222" stroke-width="0.5" stroke-opacity="0.5"/>
<circle cx="1657.5" cy="944.6" r="3.2" fill="#2a9a3a" stroke="#222" stroke-width="0.5" stroke-opacity="0.5"/>
<circle cx="1657.6" cy="942.2" r="3.2" fill="#2a9a3a" stroke="#222" stroke-width="0.5" stroke-opacity="0.5"/>
<circle cx="1656.7" cy="913.5" r="3.2" fill="#2a9a3a" stroke="#222" stroke-width="0.5" stroke-opacity="0.5"/>
<circle cx="1654.0" cy="917.2" r="3.2" fill="#2a9a3a" stroke="#222" stroke-width="0.5" stroke-opacity="0.5"/>
<circle cx="1655.6" cy="922.8" r="3.2" fill="#2a9a3a" stroke="#222" stroke-width="0.5" stroke-opacity="0.5"/>
<circle cx="1654.5" cy="922.5" r="3.2" fill="#2a9a3a" stroke="#222" stroke-width="0.5" stroke-opacity="0.5"/>
<circle cx="1654.6" cy="924.7" r="3.2" fill="#2a9a3a" stroke="#222" stroke-width="0.5" stroke-opacity="0.5"/>
<circle cx="1654.9" cy="941.9" r="3.2" fill="#2a9a3a" stroke="#222" stroke-width="0.5" stroke-opacity="0.5"/>
<circle cx="1655.8" cy="932.7" r="3.2" fill="#2a9a3a" stroke="#222" stroke-width="0.5" stroke-opacity="0.5"/>
<circle cx="1654.8" cy="928.9" r="3.2" fill="#2a9a3a" stroke="#222" stroke-width="0.5" stroke-opacity="0.5"/>
<circle cx="1654.9" cy="936.8" r="3.2" fill="#2a9a3a" stroke="#222" stroke-width="0.5" stroke-opacity="0.5"/>
<circle cx="1689.2" cy="836.2" r="4.0" fill="#222" stroke="#222" stroke-width="0.5" stroke-opacity="0.5"/>
<circle cx="1674.2" cy="835.0" r="4.0" fill="#222" stroke="#222" stroke-width="0.5" stroke-opacity="0.5"/>
<circle cx="1665.8" cy="823.5" r="4.0" fill="#222" stroke="#222" stroke-width="0.5" stroke-opacity="0.5"/>
<circle cx="1685.4" cy="843.6" r="4.0" fill="#222" stroke="#222" stroke-width="0.5" stroke-opacity="0.5"/>
<circle cx="1676.4" cy="828.6" r="4.0" fill="#222" stroke="#222" stroke-width="0.5" stroke-opacity="0.5"/>
<circle cx="1666.8" cy="827.9" r="4.0" fill="#222" stroke="#222" stroke-width="0.5" stroke-opacity="0.5"/>
<circle cx="1667.4" cy="824.7" r="4.0" fill="#222" stroke="#222" stroke-width="0.5" stroke-opacity="0.5"/>
<circle cx="1682.2" cy="838.4" r="4.0" fill="#222" stroke="#222" stroke-width="0.5" stroke-opacity="0.5"/>
<circle cx="1683.7" cy="837.7" r="4.0" fill="#222" stroke="#222" stroke-width="0.5" stroke-opacity="0.5"/>
<circle cx="1678.8" cy="831.4" r="4.0" fill="#222" stroke="#222" stroke-width="0.5" stroke-opacity="0.5"/>
<circle cx="1689.4" cy="841.8" r="4.0" fill="#222" stroke="#222" stroke-width="0.5" stroke-opacity="0.5"/>
<circle cx="1683.7" cy="840.9" r="4.0" fill="#222" stroke="#222" stroke-width="0.5" stroke-opacity="0.5"/>
<circle cx="1690.0" cy="834.8" r="4.0" fill="#222" stroke="#222" stroke-width="0.5" stroke-opacity="0.5"/>
<circle cx="1687.4" cy="838.9" r="4.0" fill="#222" stroke="#222" stroke-width="0.5" stroke-opacity="0.5"/>
<circle cx="1672.0" cy="828.2" r="4.0" fill="#222" stroke="#222" stroke-width="0.5" stroke-opacity="0.5"/>
<circle cx="1680.0" cy="831.3" r="4.0" fill="#222" stroke="#222" stroke-width="0.5" stroke-opacity="0.5"/>
<circle cx="1690.2" cy="842.7" r="4.0" fill="#222" stroke="#222" stroke-width="0.5" stroke-opacity="0.5"/>
<circle cx="1675.7" cy="834.2" r="4.0" fill="#222" stroke="#222" stroke-width="0.5" stroke-opacity="0.5"/>
<circle cx="1677.4" cy="836.1" r="4.0" fill="#222" stroke="#222" stroke-width="0.5" stroke-opacity="0.5"/>
<circle cx="1685.8" cy="838.9" r="4.0" fill="#222" stroke="#222" stroke-width="0.5" stroke-opacity="0.5"/>
<circle cx="1678.4" cy="833.1" r="4.0" fill="#222" stroke="#222" stroke-width="0.5" stroke-opacity="0.5"/>
<circle cx="1685.3" cy="837.5" r="4.0" fill="#222" stroke="#222" stroke-width="0.5" stroke-opacity="0.5"/>
<circle cx="1671.7" cy="834.1" r="4.0" fill="#222" stroke="#222" stroke-width="0.5" stroke-opacity="0.5"/>
<circle cx="1671.1" cy="824.4" r="4.0" fill="#222" stroke="#222" stroke-width="0.5" stroke-opacity="0.5"/>
<circle cx="1680.9" cy="840.5" r="4.0" fill="#222" stroke="#222" stroke-width="0.5" stroke-opacity="0.5"/>
<circle cx="1687.8" cy="834.4" r="4.0" fill="#222" stroke="#222" stroke-width="0.5" stroke-opacity="0.5"/>
<circle cx="1684.9" cy="834.9" r="4.0" fill="#2828e0" stroke="#222" stroke-width="0.5" stroke-opacity="0.5"/>
<circle cx="1664.2" cy="836.6" r="4.0" fill="#2828e0" stroke="#222" stroke-width="0.5" stroke-opacity="0.5"/>
<circle cx="1684.4" cy="840.0" r="4.0" fill="#2828e0" stroke="#222" stroke-width="0.5" stroke-opacity="0.5"/>
<circle cx="1679.1" cy="841.3" r="4.0" fill="#2828e0" stroke="#222" stroke-width="0.5" stroke-opacity="0.5"/>
<circle cx="1679.3" cy="835.7" r="4.0" fill="#2828e0" stroke="#222" stroke-width="0.5" stroke-opacity="0.5"/>
<circle cx="1677.2" cy="840.8" r="4.0" fill="#2828e0" stroke="#222" stroke-width="0.5" stroke-opacity="0.5"/>
<circle cx="1669.6" cy="839.6" r="4.0" fill="#2828e0" stroke="#222" stroke-width="0.5" stroke-opacity="0.5"/>
<circle cx="1669.8" cy="835.7" r="4.0" fill="#2828e0" stroke="#222" stroke-width="0.5" stroke-opacity="0.5"/>
<circle cx="1679.5" cy="836.8" r="4.0" fill="#2828e0" stroke="#222" stroke-width="0.5" stroke-opacity="0.5"/>
<circle cx="1678.1" cy="837.2" r="4.0" fill="#2828e0" stroke="#222" stroke-width="0.5" stroke-opacity="0.5"/>
<circle cx="1681.4" cy="833.7" r="4.0" fill="#2828e0" stroke="#222" stroke-width="0.5" stroke-opacity="0.5"/>
<circle cx="1676.6" cy="838.0" r="4.0" fill="#2828e0" stroke="#222" stroke-width="0.5" stroke-opacity="0.5"/>
<circle cx="1689.3" cy="839.1" r="4.0" fill="#2828e0" stroke="#222" stroke-width="0.5" stroke-opacity="0.5"/>
<circle cx="1684.6" cy="835.1" r="4.0" fill="#2828e0" stroke="#222" stroke-width="0.5" stroke-opacity="0.5"/>
<circle cx="1665.9" cy="837.6" r="4.0" fill="#2828e0" stroke="#222" stroke-width="0.5" stroke-opacity="0.5"/>
<circle cx="1670.3" cy="842.6" r="4.0" fill="#2828e0" stroke="#222" stroke-width="0.5" stroke-opacity="0.5"/>
<circle cx="1683.4" cy="838.2" r="4.0" fill="#2828e0" stroke="#222" stroke-width="0.5" stroke-opacity="0.5"/>
<circle cx="1685.3" cy="837.7" r="4.0" fill="#2828e0" stroke="#222" stroke-width="0.5" stroke-opacity="0.5"/>
<circle cx="1667.8" cy="875.0" r="4.2" fill="#2828e0" stroke="#222" stroke-width="0.5" stroke-opacity="0.5"/>
<circle cx="1662.6" cy="853.0" r="4.2" fill="#2828e0" stroke="#222" stroke-width="0.5" stroke-opacity="0.5"/>
<circle cx="1666.4" cy="861.0" r="4.2" fill="#2828e0" stroke="#222" stroke-width="0.5" stroke-opacity="0.5"/>
<circle cx="1661.8" cy="847.7" r="4.2" fill="#2828e0" stroke="#222" stroke-width="0.5" stroke-opacity="0.5"/>
<circle cx="1673.5" cy="861.2" r="4.2" fill="#2828e0" stroke="#222" stroke-width="0.5" stroke-opacity="0.5"/>
<circle cx="1672.1" cy="860.3" r="4.2" fill="#2828e0" stroke="#222" stroke-width="0.5" stroke-opacity="0.5"/>
<circle cx="1666.8" cy="854.0" r="4.2" fill="#2828e0" stroke="#222" stroke-width="0.5" stroke-opacity="0.5"/>
<circle cx="1666.0" cy="875.4" r="4.2" fill="#2828e0" stroke="#222" stroke-width="0.5" stroke-opacity="0.5"/>
<circle cx="1667.5" cy="854.3" r="4.2" fill="#2828e0" stroke="#222" stroke-width="0.5" stroke-opacity="0.5"/>
<circle cx="1661.0" cy="853.9" r="4.2" fill="#2828e0" stroke="#222" stroke-width="0.5" stroke-opacity="0.5"/>
<circle cx="1665.6" cy="856.1" r="4.2" fill="#2828e0" stroke="#222" stroke-width="0.5" stroke-opacity="0.5"/>
<circle cx="1671.2" cy="858.8" r="4.2" fill="#2828e0" stroke="#222" stroke-width="0.5" stroke-opacity="0.5"/>
<circle cx="1668.4" cy="875.0" r="4.2" fill="#2828e0" stroke="#222" stroke-width="0.5" stroke-opacity="0.5"/>
<circle cx="1673.6" cy="854.5" r="4.2" fill="#2828e0" stroke="#222" stroke-width="0.5" stroke-opacity="0.5"/>
<circle cx="1674.2" cy="853.6" r="4.2" fill="#2828e0" stroke="#222" stroke-width="0.5" stroke-opacity="0.5"/>
<circle cx="1660.5" cy="854.1" r="4.2" fill="#2828e0" stroke="#222" stroke-width="0.5" stroke-opacity="0.5"/>
<circle cx="1670.0" cy="871.2" r="4.2" fill="#2828e0" stroke="#222" stroke-width="0.5" stroke-opacity="0.5"/>
<circle cx="1661.3" cy="850.1" r="4.2" fill="#2828e0" stroke="#222" stroke-width="0.5" stroke-opacity="0.5"/>
<circle cx="1666.2" cy="854.1" r="4.2" fill="#2828e0" stroke="#222" stroke-width="0.5" stroke-opacity="0.5"/>
<circle cx="1662.2" cy="854.3" r="4.2" fill="#2828e0" stroke="#222" stroke-width="0.5" stroke-opacity="0.5"/>
<circle cx="1661.8" cy="849.4" r="4.2" fill="#2828e0" stroke="#222" stroke-width="0.5" stroke-opacity="0.5"/>
<circle cx="1670.3" cy="870.0" r="4.2" fill="#2828e0" stroke="#222" stroke-width="0.5" stroke-opacity="0.5"/>
<circle cx="1664.2" cy="852.3" r="4.2" fill="#2828e0" stroke="#222" stroke-width="0.5" stroke-opacity="0.5"/>
<circle cx="1675.3" cy="863.4" r="4.2" fill="#2828e0" stroke="#222" stroke-width="0.5" stroke-opacity="0.5"/>
<circle cx="1670.3" cy="852.4" r="4.2" fill="#2828e0" stroke="#222" stroke-width="0.5" stroke-opacity="0.5"/>
<circle cx="1666.8" cy="864.8" r="4.2" fill="#2828e0" stroke="#222" stroke-width="0.5" stroke-opacity="0.5"/>
<circle cx="1672.4" cy="879.4" r="3.8" fill="#ee2020" stroke="#222" stroke-width="0.5" stroke-opacity="0.5"/>
<circle cx="1673.4" cy="893.7" r="3.8" fill="#ee2020" stroke="#222" stroke-width="0.5" stroke-opacity="0.5"/>
<circle cx="1667.5" cy="896.7" r="3.8" fill="#ee2020" stroke="#222" stroke-width="0.5" stroke-opacity="0.5"/>
<circle cx="1670.8" cy="872.6" r="3.8" fill="#ee2020" stroke="#222" stroke-width="0.5" stroke-opacity="0.5"/>
<circle cx="1664.5" cy="874.8" r="3.8" fill="#ee2020" stroke="#222" stroke-width="0.5" stroke-opacity="0.5"/>
<circle cx="1671.4" cy="909.2" r="3.8" fill="#ee2020" stroke="#222" stroke-width="0.5" stroke-opacity="0.5"/>
<circle cx="1668.0" cy="906.0" r="3.8" fill="#ee2020" stroke="#222" stroke-width="0.5" stroke-opacity="0.5"/>
<circle cx="1669.8" cy="876.1" r="3.8" fill="#ee2020" stroke="#222" stroke-width="0.5" stroke-opacity="0.5"/>
<circle cx="1667.9" cy="871.7" r="3.8" fill="#ee2020" stroke="#222" stroke-width="0.5" stroke-opacity="0.5"/>
<circle cx="1665.3" cy="878.2" r="3.8" fill="#ee2020" stroke="#222" stroke-width="0.5" stroke-opacity="0.5"/>
<circle cx="1668.2" cy="913.6" r="3.8" fill="#ee2020" stroke="#222" stroke-width="0.5" stroke-opacity="0.5"/>
<circle cx="1665.3" cy="877.8" r="3.8" fill="#ee2020" stroke="#222" stroke-width="0.5" stroke-opacity="0.5"/>
<circle cx="1668.8" cy="890.9" r="3.8" fill="#ee2020" stroke="#222" stroke-width="0.5" stroke-opacity="0.5"/>
<circle cx="1671.5" cy="888.0" r="3.8" fill="#ee2020" stroke="#222" stroke-width="0.5" stroke-opacity="0.5"/>
<circle cx="1672.0" cy="905.7" r="3.8" fill="#ee2020" stroke="#222" stroke-width="0.5" stroke-opacity="0.5"/>
<circle cx="1667.2" cy="876.8" r="3.8" fill="#ee2020" stroke="#222" stroke-width="0.5" stroke-opacity="0.5"/>
<circle cx="1668.4" cy="910.7" r="3.8" fill="#ee2020" stroke="#222" stroke-width="0.5" stroke-opacity="0.5"/>
<circle cx="1662.9" cy="875.6" r="3.8" fill="#ee2020" stroke="#222" stroke-width="0.5" stroke-opacity="0.5"/>
<circle cx="1668.6" cy="889.0" r="3.8" fill="#ee2020" stroke="#222" stroke-width="0.5" stroke-opacity="0.5"/>
<circle cx="1669.4" cy="884.4" r="3.8" fill="#ee2020" stroke="#222" stroke-width="0.5" stroke-opacity="0.5"/>
<circle cx="1666.0" cy="901.6" r="3.8" fill="#ee2020" stroke="#222" stroke-width="0.5" stroke-opacity="0.5"/>
<circle cx="1673.2" cy="892.5" r="3.8" fill="#ee2020" stroke="#222" stroke-width="0.5" stroke-opacity="0.5"/>
<circle cx="1673.0" cy="882.4" r="3.8" fill="#ee2020" stroke="#222" stroke-width="0.5" stroke-opacity="0.5"/>
<circle cx="1671.5" cy="898.8" r="3.8" fill="#ee2020" stroke="#222" stroke-width="0.5" stroke-opacity="0.5"/>
<circle cx="1671.2" cy="818.8" r="4.2" fill="#2a9a3a" stroke="#222" stroke-width="0.5" stroke-opacity="0.5"/>
<circle cx="1682.2" cy="825.6" r="4.2" fill="#2a9a3a" stroke="#222" stroke-width="0.5" stroke-opacity="0.5"/>
<circle cx="1679.6" cy="823.7" r="4.2" fill="#2a9a3a" stroke="#222" stroke-width="0.5" stroke-opacity="0.5"/>
<circle cx="1676.0" cy="818.3" r="4.2" fill="#2a9a3a" stroke="#222" stroke-width="0.5" stroke-opacity="0.5"/>
<circle cx="1673.5" cy="820.5" r="4.2" fill="#2a9a3a" stroke="#222" stroke-width="0.5" stroke-opacity="0.5"/>
<circle cx="1681.9" cy="831.3" r="4.2" fill="#2a9a3a" stroke="#222" stroke-width="0.5" stroke-opacity="0.5"/>
<circle cx="1678.3" cy="825.5" r="4.2" fill="#2a9a3a" stroke="#222" stroke-width="0.5" stroke-opacity="0.5"/>
<circle cx="1684.0" cy="826.4" r="4.2" fill="#2a9a3a" stroke="#222" stroke-width="0.5" stroke-opacity="0.5"/>
<circle cx="1685.3" cy="827.8" r="4.2" fill="#2a9a3a" stroke="#222" stroke-width="0.5" stroke-opacity="0.5"/>
<circle cx="1683.2" cy="829.2" r="4.2" fill="#2a9a3a" stroke="#222" stroke-width="0.5" stroke-opacity="0.5"/>
<circle cx="1683.8" cy="825.9" r="4.2" fill="#2a9a3a" stroke="#222" stroke-width="0.5" stroke-opacity="0.5"/>
<circle cx="1682.2" cy="827.7" r="4.2" fill="#2a9a3a" stroke="#222" stroke-width="0.5" stroke-opacity="0.5"/>
<circle cx="1674.2" cy="816.0" r="4.2" fill="#2a9a3a" stroke="#222" stroke-width="0.5" stroke-opacity="0.5"/>
<circle cx="1682.7" cy="830.4" r="4.2" fill="#2a9a3a" stroke="#222" stroke-width="0.5" stroke-opacity="0.5"/>
<circle cx="1676.0" cy="822.0" r="4.2" fill="#2a9a3a" stroke="#222" stroke-width="0.5" stroke-opacity="0.5"/>
<circle cx="1679.4" cy="829.8" r="4.2" fill="#2a9a3a" stroke="#222" stroke-width="0.5" stroke-opacity="0.5"/>
<circle cx="1682.0" cy="824.9" r="4.2" fill="#2a9a3a" stroke="#222" stroke-width="0.5" stroke-opacity="0.5"/>
<circle cx="1680.4" cy="823.5" r="4.2" fill="#2a9a3a" stroke="#222" stroke-width="0.5" stroke-opacity="0.5"/>
<circle cx="1666.5" cy="813.6" r="4.2" fill="#2a9a3a" stroke="#222" stroke-width="0.5" stroke-opacity="0.5"/>
<circle cx="1676.1" cy="821.5" r="4.2" fill="#2a9a3a" stroke="#222" stroke-width="0.5" stroke-opacity="0.5"/>
<circle cx="1685.8" cy="811.1" r="3.8" fill="#2a9a3a" stroke="#222" stroke-width="0.5" stroke-opacity="0.5"/>
<circle cx="1685.0" cy="813.1" r="3.8" fill="#2a9a3a" stroke="#222" stroke-width="0.5" stroke-opacity="0.5"/>
<circle cx="1711.5" cy="793.6" r="3.8" fill="#2a9a3a" stroke="#222" stroke-width="0.5" stroke-opacity="0.5"/>
<circle cx="1689.2" cy="809.7" r="3.8" fill="#2a9a3a" stroke="#222" stroke-width="0.5" stroke-opacity="0.5"/>
<circle cx="1685.7" cy="811.1" r="3.8" fill="#2a9a3a" stroke="#222" stroke-width="0.5" stroke-opacity="0.5"/>
<circle cx="1689.9" cy="807.2" r="3.8" fill="#2a9a3a" stroke="#222" stroke-width="0.5" stroke-opacity="0.5"/>
<circle cx="1710.7" cy="792.7" r="3.8" fill="#2a9a3a" stroke="#222" stroke-width="0.5" stroke-opacity="0.5"/>
<circle cx="1685.6" cy="810.2" r="3.8" fill="#2a9a3a" stroke="#222" stroke-width="0.5" stroke-opacity="0.5"/>
<circle cx="1704.7" cy="798.2" r="3.8" fill="#2a9a3a" stroke="#222" stroke-width="0.5" stroke-opacity="0.5"/>
<circle cx="1700.0" cy="800.0" r="3.8" fill="#2a9a3a" stroke="#222" stroke-width="0.5" stroke-opacity="0.5"/>
<circle cx="1695.0" cy="806.4" r="3.8" fill="#2a9a3a" stroke="#222" stroke-width="0.5" stroke-opacity="0.5"/>
<circle cx="1709.1" cy="795.6" r="3.8" fill="#2a9a3a" stroke="#222" stroke-width="0.5" stroke-opacity="0.5"/>
<circle cx="1705.0" cy="794.6" r="3.8" fill="#2a9a3a" stroke="#222" stroke-width="0.5" stroke-opacity="0.5"/>
<circle cx="1684.4" cy="813.2" r="3.8" fill="#2a9a3a" stroke="#222" stroke-width="0.5" stroke-opacity="0.5"/>
<circle cx="1697.1" cy="802.6" r="3.8" fill="#2a9a3a" stroke="#222" stroke-width="0.5" stroke-opacity="0.5"/>
<circle cx="1692.0" cy="807.1" r="3.8" fill="#2a9a3a" stroke="#222" stroke-width="0.5" stroke-opacity="0.5"/>
<circle cx="1708.5" cy="794.8" r="3.8" fill="#2a9a3a" stroke="#222" stroke-width="0.5" stroke-opacity="0.5"/>
<circle cx="1695.1" cy="805.8" r="3.8" fill="#2a9a3a" stroke="#222" stroke-width="0.5" stroke-opacity="0.5"/>
<circle cx="1661.2" cy="858.2" r="3.6" fill="#2a9a3a" stroke="#222" stroke-width="0.5" stroke-opacity="0.5"/>
<circle cx="1660.0" cy="863.7" r="3.6" fill="#2a9a3a" stroke="#222" stroke-width="0.5" stroke-opacity="0.5"/>
<circle cx="1662.8" cy="857.0" r="3.6" fill="#2a9a3a" stroke="#222" stroke-width="0.5" stroke-opacity="0.5"/>
<circle cx="1663.5" cy="854.8" r="3.6" fill="#2a9a3a" stroke="#222" stroke-width="0.5" stroke-opacity="0.5"/>
<circle cx="1661.5" cy="869.6" r="3.6" fill="#2a9a3a" stroke="#222" stroke-width="0.5" stroke-opacity="0.5"/>
<circle cx="1661.4" cy="860.2" r="3.6" fill="#2a9a3a" stroke="#222" stroke-width="0.5" stroke-opacity="0.5"/>
<circle cx="1816.7" cy="804.8" r="3.6" fill="#2a9a3a" stroke="#222" stroke-width="0.5" stroke-opacity="0.5"/>
<circle cx="1724.0" cy="801.7" r="3.6" fill="#2a9a3a" stroke="#222" stroke-width="0.5" stroke-opacity="0.5"/>
<circle cx="1845.9" cy="801.6" r="3.6" fill="#2a9a3a" stroke="#222" stroke-width="0.5" stroke-opacity="0.5"/>
<circle cx="1694.4" cy="805.6" r="3.6" fill="#2a9a3a" stroke="#222" stroke-width="0.5" stroke-opacity="0.5"/>
<circle cx="1768.3" cy="798.9" r="3.6" fill="#2a9a3a" stroke="#222" stroke-width="0.5" stroke-opacity="0.5"/>
<circle cx="1786.2" cy="797.2" r="3.6" fill="#2a9a3a" stroke="#222" stroke-width="0.5" stroke-opacity="0.5"/>
<circle cx="1685.7" cy="835.4" r="3.6" fill="#2a9a3a" stroke="#222" stroke-width="0.5" stroke-opacity="0.5"/>
<circle cx="1793.1" cy="804.1" r="3.6" fill="#2a9a3a" stroke="#222" stroke-width="0.5" stroke-opacity="0.5"/>
<circle cx="1724.0" cy="793.4" r="3.6" fill="#2a9a3a" stroke="#222" stroke-width="0.5" stroke-opacity="0.5"/>
<circle cx="1684.4" cy="831.1" r="3.6" fill="#2a9a3a" stroke="#222" stroke-width="0.5" stroke-opacity="0.5"/>
<circle cx="1865.0" cy="808.6" r="3.6" fill="#2a9a3a" stroke="#222" stroke-width="0.5" stroke-opacity="0.5"/>
<circle cx="1708.1" cy="801.4" r="3.6" fill="#2a9a3a" stroke="#222" stroke-width="0.5" stroke-opacity="0.5"/>
<circle cx="1905.1" cy="815.1" r="3.6" fill="#2a9a3a" stroke="#222" stroke-width="0.5" stroke-opacity="0.5"/>
<circle cx="1694.4" cy="817.0" r="3.6" fill="#2a9a3a" stroke="#222" stroke-width="0.5" stroke-opacity="0.5"/>
<circle cx="1874.9" cy="804.5" r="3.6" fill="#2a9a3a" stroke="#222" stroke-width="0.5" stroke-opacity="0.5"/>
<circle cx="1841.1" cy="799.8" r="3.6" fill="#2a9a3a" stroke="#222" stroke-width="0.5" stroke-opacity="0.5"/>
<circle cx="1793.1" cy="802.1" r="3.6" fill="#2a9a3a" stroke="#222" stroke-width="0.5" stroke-opacity="0.5"/>
<circle cx="1796.5" cy="796.9" r="3.6" fill="#2a9a3a" stroke="#222" stroke-width="0.5" stroke-opacity="0.5"/>
<circle cx="1869.9" cy="803.6" r="3.6" fill="#2a9a3a" stroke="#222" stroke-width="0.5" stroke-opacity="0.5"/>
<circle cx="1800.0" cy="791.5" r="3.6" fill="#2a9a3a" stroke="#222" stroke-width="0.5" stroke-opacity="0.5"/>
<circle cx="1836.3" cy="807.8" r="3.6" fill="#2a9a3a" stroke="#222" stroke-width="0.5" stroke-opacity="0.5"/>
<circle cx="1739.5" cy="798.8" r="3.6" fill="#2a9a3a" stroke="#222" stroke-width="0.5" stroke-opacity="0.5"/>
<circle cx="1687.7" cy="836.5" r="3.6" fill="#3030e8" stroke="#222" stroke-width="0.5" stroke-opacity="0.5"/>
<circle cx="1749.5" cy="814.5" r="3.6" fill="#3030e8" stroke="#222" stroke-width="0.5" stroke-opacity="0.5"/>
<circle cx="1812.4" cy="822.5" r="3.6" fill="#3030e8" stroke="#222" stroke-width="0.5" stroke-opacity="0.5"/>
<circle cx="1759.8" cy="812.3" r="3.6" fill="#3030e8" stroke="#222" stroke-width="0.5" stroke-opacity="0.5"/>
<circle cx="1685.8" cy="833.8" r="3.6" fill="#3030e8" stroke="#222" stroke-width="0.5" stroke-opacity="0.5"/>
<circle cx="1864.7" cy="832.6" r="3.6" fill="#3030e8" stroke="#222" stroke-width="0.5" stroke-opacity="0.5"/>
<circle cx="1774.2" cy="817.2" r="3.6" fill="#3030e8" stroke="#222" stroke-width="0.5" stroke-opacity="0.5"/>
<circle cx="1706.0" cy="827.2" r="3.6" fill="#3030e8" stroke="#222" stroke-width="0.5" stroke-opacity="0.5"/>
<circle cx="1864.7" cy="832.7" r="3.6" fill="#3030e8" stroke="#222" stroke-width="0.5" stroke-opacity="0.5"/>
<circle cx="1695.0" cy="833.0" r="3.6" fill="#3030e8" stroke="#222" stroke-width="0.5" stroke-opacity="0.5"/>
<circle cx="1764.7" cy="809.7" r="3.6" fill="#3030e8" stroke="#222" stroke-width="0.5" stroke-opacity="0.5"/>
<circle cx="1788.5" cy="818.4" r="3.6" fill="#3030e8" stroke="#222" stroke-width="0.5" stroke-opacity="0.5"/>
<circle cx="1764.7" cy="813.1" r="3.6" fill="#3030e8" stroke="#222" stroke-width="0.5" stroke-opacity="0.5"/>
<circle cx="1687.7" cy="835.4" r="3.6" fill="#3030e8" stroke="#222" stroke-width="0.5" stroke-opacity="0.5"/>
<circle cx="1690.0" cy="844.2" r="3.6" fill="#3030e8" stroke="#222" stroke-width="0.5" stroke-opacity="0.5"/>
<circle cx="1719.6" cy="818.8" r="3.6" fill="#3030e8" stroke="#222" stroke-width="0.5" stroke-opacity="0.5"/>
<circle cx="1874.2" cy="830.5" r="3.6" fill="#3030e8" stroke="#222" stroke-width="0.5" stroke-opacity="0.5"/>
<circle cx="1864.7" cy="830.8" r="3.6" fill="#3030e8" stroke="#222" stroke-width="0.5" stroke-opacity="0.5"/>
<circle cx="1788.5" cy="823.7" r="3.6" fill="#3030e8" stroke="#222" stroke-width="0.5" stroke-opacity="0.5"/>
<circle cx="1695.0" cy="834.0" r="3.6" fill="#3030e8" stroke="#222" stroke-width="0.5" stroke-opacity="0.5"/>
<circle cx="1798.1" cy="821.2" r="3.6" fill="#3030e8" stroke="#222" stroke-width="0.5" stroke-opacity="0.5"/>
<circle cx="1723.8" cy="811.2" r="3.6" fill="#3030e8" stroke="#222" stroke-width="0.5" stroke-opacity="0.5"/>
<circle cx="1750.3" cy="814.6" r="3.6" fill="#ee2020" stroke="#222" stroke-width="0.5" stroke-opacity="0.5"/>
<circle cx="1709.7" cy="827.8" r="3.6" fill="#ee2020" stroke="#222" stroke-width="0.5" stroke-opacity="0.5"/>
<circle cx="1716.8" cy="828.3" r="3.6" fill="#ee2020" stroke="#222" stroke-width="0.5" stroke-opacity="0.5"/>
<circle cx="1687.3" cy="842.1" r="3.6" fill="#ee2020" stroke="#222" stroke-width="0.5" stroke-opacity="0.5"/>
<circle cx="1707.3" cy="819.4" r="3.6" fill="#ee2020" stroke="#222" stroke-width="0.5" stroke-opacity="0.5"/>
<circle cx="1831.5" cy="833.8" r="3.6" fill="#ee2020" stroke="#222" stroke-width="0.5" stroke-opacity="0.5"/>
<circle cx="1742.3" cy="817.3" r="3.6" fill="#ee2020" stroke="#222" stroke-width="0.5" stroke-opacity="0.5"/>
<circle cx="1731.9" cy="826.7" r="3.6" fill="#ee2020" stroke="#222" stroke-width="0.5" stroke-opacity="0.5"/>
<circle cx="1695.3" cy="841.3" r="3.6" fill="#ee2020" stroke="#222" stroke-width="0.5" stroke-opacity="0.5"/>
<circle cx="1700.2" cy="831.2" r="3.6" fill="#ee2020" stroke="#222" stroke-width="0.5" stroke-opacity="0.5"/>
<circle cx="1695.3" cy="846.6" r="3.6" fill="#ee2020" stroke="#222" stroke-width="0.5" stroke-opacity="0.5"/>
<circle cx="1700.2" cy="841.6" r="3.6" fill="#ee2020" stroke="#222" stroke-width="0.5" stroke-opacity="0.5"/>
<circle cx="1812.5" cy="832.1" r="3.6" fill="#ee2020" stroke="#222" stroke-width="0.5" stroke-opacity="0.5"/>
<circle cx="1746.2" cy="822.1" r="3.6" fill="#ee2020" stroke="#222" stroke-width="0.5" stroke-opacity="0.5"/>
<circle cx="1769.2" cy="826.2" r="3.6" fill="#ee2020" stroke="#222" stroke-width="0.5" stroke-opacity="0.5"/>
<circle cx="1721.2" cy="823.8" r="3.6" fill="#ee2020" stroke="#222" stroke-width="0.5" stroke-opacity="0.5"/>
<circle cx="1719.0" cy="831.4" r="3.6" fill="#ee2020" stroke="#222" stroke-width="0.5" stroke-opacity="0.5"/>
<circle cx="1869.9" cy="845.9" r="3.6" fill="#ee2020" stroke="#222" stroke-width="0.5" stroke-opacity="0.5"/>
<circle cx="1759.3" cy="829.0" r="3.6" fill="#ee2020" stroke="#222" stroke-width="0.5" stroke-opacity="0.5"/>
<circle cx="1845.9" cy="839.8" r="3.6" fill="#ee2020" stroke="#222" stroke-width="0.5" stroke-opacity="0.5"/>
<circle cx="1822.0" cy="829.3" r="3.6" fill="#ee2020" stroke="#222" stroke-width="0.5" stroke-opacity="0.5"/>
<circle cx="1812.5" cy="837.7" r="3.6" fill="#ee2020" stroke="#222" stroke-width="0.5" stroke-opacity="0.5"/>
<circle cx="1691.5" cy="850.1" r="3.6" fill="#333" stroke="#222" stroke-width="0.5" stroke-opacity="0.5"/>
<circle cx="1701.7" cy="859.0" r="3.6" fill="#333" stroke="#222" stroke-width="0.5" stroke-opacity="0.5"/>
<circle cx="1668.0" cy="823.2" r="3.6" fill="#333" stroke="#222" stroke-width="0.5" stroke-opacity="0.5"/>
<circle cx="1674.2" cy="831.4" r="3.6" fill="#333" stroke="#222" stroke-width="0.5" stroke-opacity="0.5"/>
<circle cx="1697.0" cy="855.9" r="3.6" fill="#333" stroke="#222" stroke-width="0.5" stroke-opacity="0.5"/>
<circle cx="1774.1" cy="882.7" r="3.6" fill="#333" stroke="#222" stroke-width="0.5" stroke-opacity="0.5"/>
<circle cx="1676.6" cy="836.1" r="3.6" fill="#333" stroke="#222" stroke-width="0.5" stroke-opacity="0.5"/>
<circle cx="1687.3" cy="840.1" r="3.6" fill="#333" stroke="#222" stroke-width="0.5" stroke-opacity="0.5"/>
<circle cx="1840.9" cy="889.7" r="3.6" fill="#333" stroke="#222" stroke-width="0.5" stroke-opacity="0.5"/>
<circle cx="1713.9" cy="863.1" r="3.6" fill="#333" stroke="#222" stroke-width="0.5" stroke-opacity="0.5"/>
<circle cx="1798.1" cy="889.0" r="3.6" fill="#333" stroke="#222" stroke-width="0.5" stroke-opacity="0.5"/>
<circle cx="1690.3" cy="849.4" r="3.6" fill="#333" stroke="#222" stroke-width="0.5" stroke-opacity="0.5"/>
<circle cx="1822.0" cy="890.4" r="3.6" fill="#333" stroke="#222" stroke-width="0.5" stroke-opacity="0.5"/>
<circle cx="1670.0" cy="823.9" r="3.6" fill="#333" stroke="#222" stroke-width="0.5" stroke-opacity="0.5"/>
<circle cx="1812.5" cy="886.3" r="3.6" fill="#333" stroke="#222" stroke-width="0.5" stroke-opacity="0.5"/>
<circle cx="1849.4" cy="894.3" r="3.6" fill="#333" stroke="#222" stroke-width="0.5" stroke-opacity="0.5"/>
<circle cx="1812.5" cy="883.6" r="3.6" fill="#333" stroke="#222" stroke-width="0.5" stroke-opacity="0.5"/>
<circle cx="1807.7" cy="880.7" r="3.6" fill="#333" stroke="#222" stroke-width="0.5" stroke-opacity="0.5"/>
<circle cx="1831.5" cy="886.0" r="3.6" fill="#333" stroke="#222" stroke-width="0.5" stroke-opacity="0.5"/>
<circle cx="1666.1" cy="811.3" r="3.6" fill="#333" stroke="#222" stroke-width="0.5" stroke-opacity="0.5"/>
<circle cx="1865.0" cy="895.0" r="3.6" fill="#333" stroke="#222" stroke-width="0.5" stroke-opacity="0.5"/>
<circle cx="1774.1" cy="881.8" r="3.6" fill="#333" stroke="#222" stroke-width="0.5" stroke-opacity="0.5"/>
<polyline points="1684.4,835.9 1685.7,833.1 1687.4,829.0 1689.4,824.3 1691.8,819.5 1694.4,815.1 1697.3,811.6 1700.5,809.1 1704.2,807.2 1708.1,805.7 1712.2,804.5 1716.3,803.3 1720.2,802.2 1724.0,801.1 1727.9,800.1 1731.8,799.2 1735.6,798.5 1739.5,797.8 1743.2,797.2 1746.9,796.7 1750.5,796.3 1754.0,796.0 1757.6,795.7 1761.1,795.6 1764.7,795.5 1768.3,795.5 1771.9,795.6 1775.5,795.7 1779.0,795.9 1782.6,796.2 1786.2,796.5 1789.7,796.8 1793.1,797.2 1796.5,797.7 1800.0,798.2 1803.7,798.8 1807.7,799.4 1812.1,800.1 1816.7,800.9 1821.5,801.7 1826.5,802.6 1831.4,803.5 1836.3,804.4 1841.1,805.3 1845.9,806.3 1850.6,807.3 1855.4,808.3 1860.2,809.2 1865.0,810.1 1869.9,810.9 1874.9,811.7 1879.9,812.4 1884.8,813.1 1889.5,813.8 1893.7,814.4 1897.7,815.0 1901.5,815.7 1905.1,816.3 1908.3,816.8 1911.0,817.3 1913.0,817.6" fill="none" stroke="#1a8a2a" stroke-width="2.4" stroke-linejoin="round"/>
<polyline points="1684.4,837.4 1685.8,837.3 1687.7,837.2 1690.0,837.1 1692.5,836.9 1695.0,836.5 1697.3,835.9 1699.5,835.1 1701.7,834.0 1703.8,832.8 1706.0,831.5 1708.1,830.1 1710.2,828.8 1712.2,827.4 1714.0,825.9 1715.9,824.4 1717.7,822.9 1719.6,821.5 1721.7,820.4 1723.8,819.5 1725.7,818.9 1727.8,818.4 1730.1,818.0 1732.8,817.6 1736.0,817.3 1740.0,817.0 1744.5,816.8 1749.5,816.6 1754.6,816.5 1759.8,816.5 1764.7,816.6 1769.5,816.8 1774.2,817.0 1779.0,817.3 1783.8,817.7 1788.5,818.2 1793.3,818.7 1798.1,819.3 1802.9,819.9 1807.6,820.6 1812.4,821.4 1817.2,822.2 1822.0,823.0 1826.8,823.9 1831.6,824.9 1836.4,825.9 1841.1,826.9 1845.9,827.9 1850.7,828.8 1855.4,829.6 1860.1,830.3 1864.7,831.0 1869.4,831.7 1874.2,832.4 1879.3,833.1 1885.0,833.9 1891.4,834.8 1897.9,835.7 1904.1,836.6 1909.3,837.3 1913.0,837.8" fill="none" stroke="#2020e0" stroke-width="2.4" stroke-linejoin="round"/>
<polyline points="1687.3,841.7 1688.7,841.1 1690.6,840.3 1692.9,839.3 1695.3,838.3 1697.8,837.1 1700.2,835.9 1702.5,834.6 1704.9,833.1 1707.3,831.5 1709.7,829.9 1712.1,828.5 1714.5,827.3 1716.8,826.4 1719.0,825.6 1721.2,825.0 1723.5,824.6 1726.0,824.1 1728.8,823.7 1731.9,823.3 1735.2,822.9 1738.7,822.6 1742.3,822.4 1746.2,822.3 1750.3,822.3 1754.7,822.5 1759.3,822.9 1764.2,823.3 1769.2,823.9 1774.1,824.5 1779.0,825.2 1783.8,825.9 1788.6,826.7 1793.4,827.5 1798.1,828.4 1802.9,829.3 1807.7,830.2 1812.5,831.1 1817.2,832.0 1822.0,832.9 1826.8,833.9 1831.5,834.9 1836.3,835.9 1841.1,837.0 1845.9,838.3 1850.6,839.5 1855.4,840.8 1860.2,842.0 1865.0,843.1 1869.9,844.1 1874.9,845.0 1879.9,845.8 1884.8,846.6 1889.5,847.3 1893.7,848.1 1897.7,848.9 1901.5,849.7 1905.1,850.5 1908.3,851.2 1911.0,851.8 1913.0,852.2" fill="none" stroke="#ee1c1c" stroke-width="2.4" stroke-linejoin="round"/>
<polyline points="1662.0,805.0 1663.0,807.6 1664.5,811.2 1666.1,815.5 1668.0,820.0 1670.0,824.3 1672.0,828.0 1674.2,831.2 1676.6,834.3 1679.1,837.1 1681.5,839.8 1683.8,842.3 1685.8,844.5 1687.3,846.4 1688.4,848.0 1689.4,849.3 1690.3,850.5 1691.5,851.8 1693.0,853.1 1694.9,854.5 1697.0,856.0 1699.3,857.4 1701.7,858.8 1704.4,860.3 1707.3,861.7 1710.5,863.1 1713.9,864.6 1717.6,866.1 1721.4,867.5 1725.1,868.9 1728.8,870.3 1732.3,871.6 1735.7,872.8 1739.1,874.0 1742.6,875.2 1746.3,876.3 1750.3,877.5 1754.7,878.8 1759.3,880.1 1764.2,881.4 1769.2,882.6 1774.1,883.8 1779.0,884.7 1783.8,885.4 1788.6,886.0 1793.4,886.4 1798.1,886.8 1802.9,887.1 1807.7,887.5 1812.5,887.9 1817.2,888.3 1822.0,888.6 1826.8,889.0 1831.5,889.3 1836.3,889.7 1840.9,890.1 1845.1,890.4 1849.4,890.7 1854.0,891.1 1859.1,891.4 1865.0,891.8 1872.4,892.2 1881.3,892.7 1890.8,893.1 1899.8,893.6 1907.6,893.9 1913.0,894.2" fill="none" stroke="#111" stroke-width="2.4" stroke-linejoin="round"/>
</g>
<rect x="1649.5" y="771.4" width="263.8" height="178.4" fill="none" stroke="#333" stroke-width="2.2"/>
<line x1="1654.6" y1="949.8" x2="1654.6" y2="943.8" stroke="#333" stroke-width="1.4"/>
<line x1="1686.6" y1="949.8" x2="1686.6" y2="945.8" stroke="#333" stroke-width="1.4"/>
<line x1="1718.6" y1="949.8" x2="1718.6" y2="943.8" stroke="#333" stroke-width="1.4"/>
<line x1="1750.6" y1="949.8" x2="1750.6" y2="945.8" stroke="#333" stroke-width="1.4"/>
<line x1="1782.6" y1="949.8" x2="1782.6" y2="943.8" stroke="#333" stroke-width="1.4"/>
<line x1="1814.7" y1="949.8" x2="1814.7" y2="945.8" stroke="#333" stroke-width="1.4"/>
<line x1="1846.7" y1="949.8" x2="1846.7" y2="943.8" stroke="#333" stroke-width="1.4"/>
<line x1="1878.7" y1="949.8" x2="1878.7" y2="945.8" stroke="#333" stroke-width="1.4"/>
<line x1="1910.7" y1="949.8" x2="1910.7" y2="943.8" stroke="#333" stroke-width="1.4"/>
<line x1="1649.5" y1="781.4" x2="1652.5" y2="781.4" stroke="#333" stroke-width="1.2"/>
<line x1="1649.5" y1="800.9" x2="1652.5" y2="800.9" stroke="#333" stroke-width="1.2"/>
<line x1="1649.5" y1="820.4" x2="1652.5" y2="820.4" stroke="#333" stroke-width="1.2"/>
<line x1="1649.5" y1="839.9" x2="1652.5" y2="839.9" stroke="#333" stroke-width="1.2"/>
<line x1="1649.5" y1="859.4" x2="1652.5" y2="859.4" stroke="#333" stroke-width="1.2"/>
<line x1="1649.5" y1="878.9" x2="1652.5" y2="878.9" stroke="#333" stroke-width="1.2"/>
<line x1="1649.5" y1="898.4" x2="1652.5" y2="898.4" stroke="#333" stroke-width="1.2"/>
<line x1="1649.5" y1="917.9" x2="1652.5" y2="917.9" stroke="#333" stroke-width="1.2"/>
<line x1="1649.5" y1="937.4" x2="1652.5" y2="937.4" stroke="#333" stroke-width="1.2"/>
<text x="1654.6" y="976.6" font-size="21.5" text-anchor="middle">0</text>
<text x="1718.6" y="976.6" font-size="21.5" text-anchor="middle">50</text>
<text x="1782.6" y="976.6" font-size="21.5" text-anchor="middle">100</text>
<text x="1846.7" y="976.6" font-size="21.5" text-anchor="middle">150</text>
<text x="1910.7" y="976.6" font-size="21.5" text-anchor="middle">200</text>
<text x="1630.0" y="860.5" font-size="22" text-anchor="middle" transform="rotate(-90 1630.0 860.5)">Δ O.D.</text>
<text x="1584.2" y="796.8" font-size="40">(k)</text>
<text x="1908.0" y="922.2" font-size="22" text-anchor="end" fill="#ff1010">Type-II</text>
<rect x="1674.7" y="933.5" width="15.5" height="4.5" fill="#111"/>
<text x="1697.5" y="942.5" font-size="21.2">0</text>
<rect x="1731.5" y="933.5" width="15.5" height="4.5" fill="#ee1c1c"/>
<text x="1750.5" y="942.5" font-size="21.2">2.7</text>
<rect x="1787.0" y="933.5" width="15.5" height="4.5" fill="#2222e0"/>
<text x="1804.7" y="942.5" font-size="21.2">4.3</text>
<rect x="1842.6" y="933.5" width="15.5" height="4.5" fill="#1e8c2a"/>
<text x="1861.5" y="942.5" font-size="21.2">5.2</text>
<clipPath id="cl"><rect x="1649.5" y="990.1" width="263.8" height="178.7"/></clipPath><g clip-path="url(#cl)">
<rect x="1655.5" y="1002.0" width="6.0" height="140.0" fill="#c8207a"/>
<circle cx="1658.1" cy="1073.3" r="3.2" fill="#d03080" stroke="#f0a0c8" stroke-width="0.8"/>
<circle cx="1657.7" cy="1118.0" r="3.2" fill="#d03080" stroke="#f0a0c8" stroke-width="0.8"/>
<circle cx="1658.0" cy="1080.3" r="3.2" fill="#d03080" stroke="#f0a0c8" stroke-width="0.8"/>
<circle cx="1661.2" cy="1058.6" r="3.2" fill="#d03080" stroke="#f0a0c8" stroke-width="0.8"/>
<circle cx="1661.4" cy="1105.4" r="3.2" fill="#d03080" stroke="#f0a0c8" stroke-width="0.8"/>
<circle cx="1659.5" cy="1091.0" r="3.2" fill="#d03080" stroke="#f0a0c8" stroke-width="0.8"/>
<circle cx="1659.6" cy="1053.4" r="3.2" fill="#d03080" stroke="#f0a0c8" stroke-width="0.8"/>
<circle cx="1661.5" cy="1059.5" r="3.2" fill="#d03080" stroke="#f0a0c8" stroke-width="0.8"/>
<circle cx="1661.4" cy="1122.4" r="3.2" fill="#d03080" stroke="#f0a0c8" stroke-width="0.8"/>
<circle cx="1657.1" cy="1039.1" r="3.2" fill="#d03080" stroke="#f0a0c8" stroke-width="0.8"/>
<circle cx="1659.1" cy="1117.0" r="3.2" fill="#d03080" stroke="#f0a0c8" stroke-width="0.8"/>
<circle cx="1657.8" cy="1089.2" r="3.2" fill="#d03080" stroke="#f0a0c8" stroke-width="0.8"/>
<circle cx="1658.7" cy="1113.0" r="3.2" fill="#d03080" stroke="#f0a0c8" stroke-width="0.8"/>
<circle cx="1661.2" cy="1109.7" r="3.2" fill="#d03080" stroke="#f0a0c8" stroke-width="0.8"/>
<circle cx="1657.9" cy="1109.4" r="3.2" fill="#d03080" stroke="#f0a0c8" stroke-width="0.8"/>
<circle cx="1659.0" cy="1120.2" r="3.2" fill="#d03080" stroke="#f0a0c8" stroke-width="0.8"/>
<circle cx="1659.1" cy="1129.9" r="3.2" fill="#d03080" stroke="#f0a0c8" stroke-width="0.8"/>
<circle cx="1661.4" cy="1118.4" r="3.2" fill="#d03080" stroke="#f0a0c8" stroke-width="0.8"/>
<circle cx="1660.7" cy="1117.7" r="3.2" fill="#d03080" stroke="#f0a0c8" stroke-width="0.8"/>
<circle cx="1659.7" cy="1027.5" r="3.2" fill="#d03080" stroke="#f0a0c8" stroke-width="0.8"/>
<circle cx="1661.4" cy="1068.0" r="3.2" fill="#d03080" stroke="#f0a0c8" stroke-width="0.8"/>
<circle cx="1657.1" cy="1063.8" r="3.2" fill="#d03080" stroke="#f0a0c8" stroke-width="0.8"/>
<circle cx="1658.9" cy="1031.1" r="3.2" fill="#d03080" stroke="#f0a0c8" stroke-width="0.8"/>
<circle cx="1661.3" cy="1018.7" r="3.2" fill="#d03080" stroke="#f0a0c8" stroke-width="0.8"/>
<circle cx="1661.1" cy="1080.0" r="3.2" fill="#d03080" stroke="#f0a0c8" stroke-width="0.8"/>
<circle cx="1657.8" cy="1053.2" r="3.2" fill="#d03080" stroke="#f0a0c8" stroke-width="0.8"/>
<circle cx="1659.0" cy="1019.5" r="3.2" fill="#d03080" stroke="#f0a0c8" stroke-width="0.8"/>
<circle cx="1660.4" cy="1094.2" r="3.2" fill="#d03080" stroke="#f0a0c8" stroke-width="0.8"/>
<circle cx="1661.4" cy="1119.2" r="3.2" fill="#d03080" stroke="#f0a0c8" stroke-width="0.8"/>
<circle cx="1660.5" cy="1142.6" r="3.2" fill="#d03080" stroke="#f0a0c8" stroke-width="0.8"/>
<circle cx="1661.2" cy="1093.2" r="3.2" fill="#d03080" stroke="#f0a0c8" stroke-width="0.8"/>
<circle cx="1659.4" cy="1076.3" r="3.2" fill="#d03080" stroke="#f0a0c8" stroke-width="0.8"/>
<circle cx="1660.7" cy="1132.5" r="3.2" fill="#d03080" stroke="#f0a0c8" stroke-width="0.8"/>
<circle cx="1660.7" cy="1120.5" r="3.2" fill="#d03080" stroke="#f0a0c8" stroke-width="0.8"/>
<circle cx="1657.1" cy="1061.9" r="3.2" fill="#d03080" stroke="#f0a0c8" stroke-width="0.8"/>
<circle cx="1657.4" cy="1084.9" r="3.2" fill="#d03080" stroke="#f0a0c8" stroke-width="0.8"/>
<circle cx="1659.6" cy="1081.5" r="3.2" fill="#d03080" stroke="#f0a0c8" stroke-width="0.8"/>
<circle cx="1660.9" cy="1034.5" r="3.2" fill="#d03080" stroke="#f0a0c8" stroke-width="0.8"/>
<circle cx="1660.3" cy="1085.1" r="3.2" fill="#d03080" stroke="#f0a0c8" stroke-width="0.8"/>
<circle cx="1658.0" cy="1140.0" r="3.2" fill="#d03080" stroke="#f0a0c8" stroke-width="0.8"/>
<circle cx="1657.2" cy="1068.1" r="3.2" fill="#d03080" stroke="#f0a0c8" stroke-width="0.8"/>
<circle cx="1659.4" cy="1086.4" r="3.2" fill="#d03080" stroke="#f0a0c8" stroke-width="0.8"/>
<circle cx="1661.4" cy="1080.2" r="3.2" fill="#d03080" stroke="#f0a0c8" stroke-width="0.8"/>
<circle cx="1661.0" cy="1044.2" r="3.2" fill="#d03080" stroke="#f0a0c8" stroke-width="0.8"/>
<circle cx="1659.2" cy="1023.6" r="3.2" fill="#d03080" stroke="#f0a0c8" stroke-width="0.8"/>
<circle cx="1659.9" cy="1062.1" r="3.2" fill="#d03080" stroke="#f0a0c8" stroke-width="0.8"/>
<circle cx="1660.5" cy="1018.7" r="3.2" fill="#d03080" stroke="#f0a0c8" stroke-width="0.8"/>
<circle cx="1659.1" cy="1137.2" r="3.2" fill="#d03080" stroke="#f0a0c8" stroke-width="0.8"/>
<circle cx="1657.1" cy="1095.4" r="3.2" fill="#d03080" stroke="#f0a0c8" stroke-width="0.8"/>
<circle cx="1660.0" cy="1104.6" r="3.2" fill="#d03080" stroke="#f0a0c8" stroke-width="0.8"/>
<circle cx="1658.7" cy="1143.0" r="3" fill="#222" stroke="#222" stroke-width="0.5" stroke-opacity="0.5"/>
<circle cx="1659.9" cy="1138.2" r="3" fill="#222" stroke="#222" stroke-width="0.5" stroke-opacity="0.5"/>
<circle cx="1659.1" cy="1146.7" r="3" fill="#222" stroke="#222" stroke-width="0.5" stroke-opacity="0.5"/>
<circle cx="1659.2" cy="1142.5" r="3" fill="#222" stroke="#222" stroke-width="0.5" stroke-opacity="0.5"/>
<circle cx="1657.1" cy="1149.1" r="3" fill="#222" stroke="#222" stroke-width="0.5" stroke-opacity="0.5"/>
<circle cx="1657.8" cy="1149.2" r="3" fill="#222" stroke="#222" stroke-width="0.5" stroke-opacity="0.5"/>
<circle cx="1660.0" cy="1149.1" r="3" fill="#222" stroke="#222" stroke-width="0.5" stroke-opacity="0.5"/>
<circle cx="1658.2" cy="1150.9" r="3" fill="#222" stroke="#222" stroke-width="0.5" stroke-opacity="0.5"/>
<circle cx="1658.2" cy="1139.0" r="3" fill="#222" stroke="#222" stroke-width="0.5" stroke-opacity="0.5"/>
<circle cx="1658.7" cy="1146.4" r="3" fill="#222" stroke="#222" stroke-width="0.5" stroke-opacity="0.5"/>
<circle cx="1659.1" cy="1144.2" r="3" fill="#222" stroke="#222" stroke-width="0.5" stroke-opacity="0.5"/>
<circle cx="1658.2" cy="1148.3" r="3" fill="#222" stroke="#222" stroke-width="0.5" stroke-opacity="0.5"/>
<circle cx="1667.8" cy="1044.3" r="3.4" fill="#d84a8c" opacity="0.85"/>
<circle cx="1662.1" cy="1025.2" r="3.4" fill="#d84a8c" opacity="0.85"/>
<circle cx="1677.6" cy="1028.6" r="3.4" fill="#d84a8c" opacity="0.85"/>
<circle cx="1669.4" cy="1022.1" r="3.4" fill="#d84a8c" opacity="0.85"/>
<circle cx="1675.8" cy="1033.1" r="3.4" fill="#d84a8c" opacity="0.85"/>
<circle cx="1662.9" cy="1031.0" r="3.4" fill="#d84a8c" opacity="0.85"/>
<circle cx="1678.7" cy="1050.2" r="3.4" fill="#d84a8c" opacity="0.85"/>
<circle cx="1662.1" cy="1058.1" r="3.4" fill="#d84a8c" opacity="0.85"/>
<circle cx="1663.3" cy="1039.4" r="3.4" fill="#d84a8c" opacity="0.85"/>
<circle cx="1671.6" cy="1051.3" r="3.4" fill="#d84a8c" opacity="0.85"/>
<circle cx="1664.5" cy="1053.0" r="3.4" fill="#d84a8c" opacity="0.85"/>
<circle cx="1666.9" cy="1049.5" r="3.4" fill="#d84a8c" opacity="0.85"/>
<circle cx="1678.7" cy="1043.6" r="3.4" fill="#d84a8c" opacity="0.85"/>
<circle cx="1662.0" cy="1046.7" r="3.4" fill="#d84a8c" opacity="0.85"/>
<circle cx="1669.8" cy="1049.2" r="3.4" fill="#d84a8c" opacity="0.85"/>
<circle cx="1676.1" cy="1024.3" r="3.4" fill="#d84a8c" opacity="0.85"/>
<circle cx="1672.2" cy="1045.7" r="3.4" fill="#d84a8c" opacity="0.85"/>
<circle cx="1678.7" cy="1044.6" r="3.4" fill="#d84a8c" opacity="0.85"/>
<circle cx="1673.1" cy="1050.8" r="3.4" fill="#d84a8c" opacity="0.85"/>
<circle cx="1664.9" cy="1054.4" r="3.4" fill="#d84a8c" opacity="0.85"/>
<circle cx="1672.5" cy="1045.4" r="3.4" fill="#d84a8c" opacity="0.85"/>
<circle cx="1664.8" cy="1040.9" r="3.4" fill="#d84a8c" opacity="0.85"/>
<circle cx="1669.4" cy="1028.2" r="3.4" fill="#d84a8c" opacity="0.85"/>
<circle cx="1678.9" cy="1053.8" r="3.4" fill="#d84a8c" opacity="0.85"/>
<circle cx="1670.3" cy="1023.0" r="3.4" fill="#d84a8c" opacity="0.85"/>
<circle cx="1905.6" cy="1118.1" r="3.6" fill="#555" opacity="0.85"/>
<circle cx="1725.0" cy="1093.7" r="3.6" fill="#555" opacity="0.85"/>
<circle cx="1894.1" cy="1104.5" r="3.6" fill="#555" opacity="0.85"/>
<circle cx="1673.8" cy="1052.7" r="3.6" fill="#555" opacity="0.85"/>
<circle cx="1913.3" cy="1110.0" r="3.6" fill="#555" opacity="0.85"/>
<circle cx="1695.6" cy="1074.1" r="3.6" fill="#555" opacity="0.85"/>
<circle cx="1778.8" cy="1109.9" r="3.6" fill="#555" opacity="0.85"/>
<circle cx="1655.4" cy="1060.8" r="3.6" fill="#555" opacity="0.85"/>
<circle cx="1662.3" cy="1025.0" r="3.6" fill="#555" opacity="0.85"/>
<circle cx="1687.9" cy="1068.1" r="3.6" fill="#555" opacity="0.85"/>
<circle cx="1832.6" cy="1103.7" r="3.6" fill="#555" opacity="0.85"/>
<circle cx="1878.7" cy="1115.7" r="3.6" fill="#555" opacity="0.85"/>
<circle cx="1878.7" cy="1116.7" r="3.6" fill="#555" opacity="0.85"/>
<circle cx="1794.2" cy="1106.1" r="3.6" fill="#555" opacity="0.85"/>
<circle cx="1871.0" cy="1109.5" r="3.6" fill="#555" opacity="0.85"/>
<circle cx="1740.4" cy="1096.9" r="3.6" fill="#555" opacity="0.85"/>
<circle cx="1744.2" cy="1099.5" r="3.6" fill="#555" opacity="0.85"/>
<circle cx="1676.4" cy="1053.2" r="3.6" fill="#555" opacity="0.85"/>
<circle cx="1805.7" cy="1111.1" r="3.6" fill="#555" opacity="0.85"/>
<circle cx="1705.8" cy="1075.3" r="3.6" fill="#555" opacity="0.85"/>
<circle cx="1657.2" cy="1011.0" r="3.6" fill="#555" opacity="0.85"/>
<circle cx="1744.2" cy="1098.9" r="3.6" fill="#555" opacity="0.85"/>
<circle cx="1717.3" cy="1088.8" r="3.6" fill="#555" opacity="0.85"/>
<circle cx="1676.4" cy="1053.4" r="3.6" fill="#555" opacity="0.85"/>
<circle cx="1670.0" cy="1038.5" r="3.6" fill="#555" opacity="0.85"/>
<circle cx="1751.9" cy="1098.8" r="3.6" fill="#555" opacity="0.85"/>
<circle cx="1705.8" cy="1074.4" r="3.6" fill="#555" opacity="0.85"/>
<circle cx="1836.4" cy="1108.7" r="3.6" fill="#555" opacity="0.85"/>
<circle cx="1775.0" cy="1116.6" r="3.6" fill="#e0609a" opacity="0.85"/>
<circle cx="1809.5" cy="1108.0" r="3.6" fill="#e0609a" opacity="0.85"/>
<circle cx="1894.1" cy="1102.8" r="3.6" fill="#e0609a" opacity="0.85"/>
<circle cx="1817.2" cy="1111.0" r="3.6" fill="#e0609a" opacity="0.85"/>
<circle cx="1863.3" cy="1116.0" r="3.6" fill="#e0609a" opacity="0.85"/>
<circle cx="1913.3" cy="1113.3" r="3.6" fill="#e0609a" opacity="0.85"/>
<circle cx="1821.1" cy="1111.6" r="3.6" fill="#e0609a" opacity="0.85"/>
<circle cx="1675.1" cy="1087.2" r="3.6" fill="#e0609a" opacity="0.85"/>
<circle cx="1698.1" cy="1093.1" r="3.6" fill="#e0609a" opacity="0.85"/>
<circle cx="1671.2" cy="1073.1" r="3.6" fill="#e0609a" opacity="0.85"/>
<circle cx="1736.6" cy="1105.4" r="3.6" fill="#e0609a" opacity="0.85"/>
<circle cx="1790.3" cy="1107.7" r="3.6" fill="#e0609a" opacity="0.85"/>
<circle cx="1909.4" cy="1117.1" r="3.6" fill="#e0609a" opacity="0.85"/>
<circle cx="1664.8" cy="1058.2" r="3.6" fill="#e0609a" opacity="0.85"/>
<circle cx="1798.0" cy="1106.6" r="3.6" fill="#e0609a" opacity="0.85"/>
<circle cx="1684.1" cy="1090.5" r="3.6" fill="#e0609a" opacity="0.85"/>
<circle cx="1832.6" cy="1112.7" r="3.6" fill="#e0609a" opacity="0.85"/>
<circle cx="1851.8" cy="1105.9" r="3.6" fill="#e0609a" opacity="0.85"/>
<circle cx="1681.5" cy="1076.3" r="3.6" fill="#e0609a" opacity="0.85"/>
<circle cx="1681.5" cy="1097.3" r="3.6" fill="#e0609a" opacity="0.85"/>
<circle cx="1671.2" cy="1080.3" r="3.6" fill="#e0609a" opacity="0.85"/>
<circle cx="1848.0" cy="1114.2" r="3.6" fill="#e0609a" opacity="0.85"/>
<circle cx="1659.7" cy="1024.1" r="3.6" fill="#e0609a" opacity="0.85"/>
<circle cx="1694.3" cy="1095.7" r="3.6" fill="#e0609a" opacity="0.85"/>
<circle cx="1682.8" cy="1083.5" r="3.6" fill="#e0609a" opacity="0.85"/>
<circle cx="1886.4" cy="1114.7" r="3.6" fill="#e0609a" opacity="0.85"/>
<circle cx="1677.6" cy="1072.2" r="3.6" fill="#e0609a" opacity="0.85"/>
<circle cx="1790.3" cy="1110.0" r="3.6" fill="#e0609a" opacity="0.85"/>
<circle cx="1725.0" cy="1092.7" r="3.6" fill="#e0609a" opacity="0.85"/>
<circle cx="1675.1" cy="1075.3" r="3.6" fill="#e0609a" opacity="0.85"/>
<circle cx="1678.9" cy="1078.9" r="3.6" fill="#e0609a" opacity="0.85"/>
<circle cx="1705.8" cy="1110.2" r="3.6" fill="#e0609a" opacity="0.85"/>
<circle cx="1702.0" cy="1101.9" r="3.6" fill="#e0609a" opacity="0.85"/>
<circle cx="1786.5" cy="1113.3" r="3.6" fill="#e0609a" opacity="0.85"/>
<polyline points="1653.6,1146.0 1655.4,1060.0 1657.2,1005.2 1658.4,1010.6 1659.7,1015.4 1661.0,1019.8 1662.3,1023.7 1663.6,1027.2 1664.8,1030.4 1666.1,1033.4 1667.4,1036.2 1668.7,1038.8 1670.0,1041.2 1671.2,1043.5 1672.5,1045.7 1673.8,1047.7 1675.1,1049.7 1676.4,1051.6 1677.6,1053.4 1678.9,1055.1 1680.2,1056.7 1681.5,1058.3 1682.8,1059.9 1684.1,1061.4 1685.3,1062.8 1686.6,1064.2 1687.9,1065.5 1689.2,1066.8 1690.5,1068.1 1691.7,1069.3 1693.0,1070.5 1694.3,1071.7 1695.6,1072.8 1696.9,1073.9 1698.1,1075.0 1699.4,1076.0 1700.7,1077.0 1702.0,1078.0 1703.3,1078.9 1704.5,1079.9 1705.8,1080.8 1709.7,1083.3 1713.5,1085.6 1717.3,1087.8 1721.2,1089.8 1725.0,1091.6 1728.9,1093.2 1732.7,1094.8 1736.6,1096.2 1740.4,1097.5 1744.2,1098.7 1748.1,1099.8 1751.9,1100.8 1755.8,1101.8 1759.6,1102.6 1763.4,1103.4 1767.3,1104.1 1771.1,1104.8 1775.0,1105.4 1778.8,1106.0 1782.6,1106.5 1786.5,1107.0 1790.3,1107.4 1794.2,1107.8 1798.0,1108.2 1801.9,1108.5 1805.7,1108.9 1809.5,1109.2 1813.4,1109.4 1817.2,1109.7 1821.1,1109.9 1824.9,1110.1 1828.7,1110.3 1832.6,1110.5 1836.4,1110.6 1840.3,1110.8 1844.1,1110.9 1848.0,1111.0 1851.8,1111.2 1855.6,1111.3 1859.5,1111.4 1863.3,1111.5 1867.2,1111.5 1871.0,1111.6 1874.8,1111.7 1878.7,1111.8 1882.5,1111.8 1886.4,1111.9 1890.2,1111.9 1894.1,1112.0 1897.9,1112.0 1901.7,1112.0 1905.6,1112.1 1909.4,1112.1 1913.3,1112.1 1917.1,1112.2" fill="none" stroke="#111" stroke-width="2.4" stroke-linejoin="round"/>
<polyline points="1654.0,1140.0 1655.6,1040.0 1657.2,1003.1 1658.4,1018.4 1659.7,1030.1 1661.0,1039.1 1662.3,1046.2 1663.6,1051.9 1664.8,1056.6 1666.1,1060.5 1667.4,1063.8 1668.7,1066.7 1670.0,1069.3 1671.2,1071.6 1672.5,1073.6 1673.8,1075.6 1675.1,1077.3 1676.4,1079.0 1677.6,1080.6 1678.9,1082.0 1680.2,1083.4 1681.5,1084.7 1682.8,1086.0 1684.1,1087.2 1685.3,1088.3 1686.6,1089.4 1687.9,1090.4 1689.2,1091.4 1690.5,1092.4 1691.7,1093.2 1693.0,1094.1 1694.3,1094.9 1695.6,1095.7 1696.9,1096.5 1698.1,1097.2 1699.4,1097.8 1700.7,1098.5 1702.0,1099.1 1703.3,1099.7 1704.5,1100.3 1705.8,1100.8 1709.7,1102.3 1713.5,1103.6 1717.3,1104.7 1721.2,1105.7 1725.0,1106.6 1728.9,1107.3 1732.7,1108.0 1736.6,1108.6 1740.4,1109.1 1744.2,1109.5 1748.1,1109.9 1751.9,1110.2 1755.8,1110.5 1759.6,1110.8 1763.4,1111.0 1767.3,1111.2 1771.1,1111.4 1775.0,1111.5 1778.8,1111.6 1782.6,1111.7 1786.5,1111.8 1790.3,1111.9 1794.2,1112.0 1798.0,1112.1 1801.9,1112.1 1805.7,1112.2 1809.5,1112.2 1813.4,1112.2 1817.2,1112.3 1821.1,1112.3 1824.9,1112.3 1828.7,1112.4 1832.6,1112.4 1836.4,1112.4 1840.3,1112.4 1844.1,1112.4 1848.0,1112.4 1851.8,1112.4 1855.6,1112.4 1859.5,1112.5 1863.3,1112.5 1867.2,1112.5 1871.0,1112.5 1874.8,1112.5 1878.7,1112.5 1882.5,1112.5 1886.4,1112.5 1890.2,1112.5 1894.1,1112.5 1897.9,1112.5 1901.7,1112.5 1905.6,1112.5 1909.4,1112.5 1913.3,1112.5 1917.1,1112.5" fill="none" stroke="#b8105e" stroke-width="2.4" stroke-linejoin="round"/>
</g>
<rect x="1649.5" y="990.1" width="263.8" height="178.7" fill="none" stroke="#333" stroke-width="2.2"/>
<line x1="1654.6" y1="1168.8" x2="1654.6" y2="1162.8" stroke="#333" stroke-width="1.4"/>
<line x1="1686.6" y1="1168.8" x2="1686.6" y2="1164.8" stroke="#333" stroke-width="1.4"/>
<line x1="1718.6" y1="1168.8" x2="1718.6" y2="1162.8" stroke="#333" stroke-width="1.4"/>
<line x1="1750.6" y1="1168.8" x2="1750.6" y2="1164.8" stroke="#333" stroke-width="1.4"/>
<line x1="1782.6" y1="1168.8" x2="1782.6" y2="1162.8" stroke="#333" stroke-width="1.4"/>
<line x1="1814.7" y1="1168.8" x2="1814.7" y2="1164.8" stroke="#333" stroke-width="1.4"/>
<line x1="1846.7" y1="1168.8" x2="1846.7" y2="1162.8" stroke="#333" stroke-width="1.4"/>
<line x1="1878.7" y1="1168.8" x2="1878.7" y2="1164.8" stroke="#333" stroke-width="1.4"/>
<line x1="1910.7" y1="1168.8" x2="1910.7" y2="1162.8" stroke="#333" stroke-width="1.4"/>
<line x1="1649.5" y1="1000.1" x2="1652.5" y2="1000.1" stroke="#333" stroke-width="1.2"/>
<line x1="1649.5" y1="1019.6" x2="1652.5" y2="1019.6" stroke="#333" stroke-width="1.2"/>
<line x1="1649.5" y1="1039.1" x2="1652.5" y2="1039.1" stroke="#333" stroke-width="1.2"/>
<line x1="1649.5" y1="1058.6" x2="1652.5" y2="1058.6" stroke="#333" stroke-width="1.2"/>
<line x1="1649.5" y1="1078.1" x2="1652.5" y2="1078.1" stroke="#333" stroke-width="1.2"/>
<line x1="1649.5" y1="1097.6" x2="1652.5" y2="1097.6" stroke="#333" stroke-width="1.2"/>
<line x1="1649.5" y1="1117.1" x2="1652.5" y2="1117.1" stroke="#333" stroke-width="1.2"/>
<line x1="1649.5" y1="1136.6" x2="1652.5" y2="1136.6" stroke="#333" stroke-width="1.2"/>
<line x1="1649.5" y1="1156.1" x2="1652.5" y2="1156.1" stroke="#333" stroke-width="1.2"/>
<text x="1654.6" y="1193.3" font-size="21.5" text-anchor="middle">0</text>
<text x="1718.6" y="1193.3" font-size="21.5" text-anchor="middle">50</text>
<text x="1782.6" y="1193.3" font-size="21.5" text-anchor="middle">100</text>
<text x="1846.7" y="1193.3" font-size="21.5" text-anchor="middle">150</text>
<text x="1910.7" y="1193.3" font-size="21.5" text-anchor="middle">200</text>
<text x="1779.5" y="1223.6" font-size="22" text-anchor="middle">Time delay (ps)</text>
<text x="1634.5" y="1074.0" font-size="22" text-anchor="middle" transform="rotate(-90 1634.5 1074.0)">Δ O.I</text>
<text x="1589.6" y="1011.5" font-size="40">(l)</text>
<rect x="1827.4" y="1007.0" width="15.2" height="4.0" fill="#111"/>
<text x="1852.2" y="1016.6" font-size="20">0</text>
<rect x="1827.4" y="1046.7" width="15.2" height="4.0" fill="#b0105a"/>
<text x="1852.2" y="1053.7" font-size="20">12.2</text>
<text x="1903.0" y="1156.5" font-size="22" text-anchor="end" fill="#1414dd">Type-I</text>
<text x="1945.6" y="772.0" font-size="20">e</text>
<text x="1990.0" y="785.2" font-size="21" fill="#ee1010">Type-II</text>
<rect x="2035.7" y="806.7" width="62.0" height="6.0" fill="#1a8a50"/>
<rect x="1965.0" y="846.3" width="61.3" height="6.0" fill="#e83cc8"/>
<circle cx="1999.0" cy="838.2" r="6.2" fill="#2a2ae0"/>
<line x1="1995.2" y1="838.2" x2="2002.8" y2="838.2" stroke="#fff" stroke-width="2.0"/>
<circle cx="2017.2" cy="838.2" r="6.2" fill="#2a2ae0"/>
<line x1="2013.4" y1="838.2" x2="2021.0" y2="838.2" stroke="#fff" stroke-width="2.0"/>
<circle cx="2043.2" cy="797.9" r="6.2" fill="#2a2ae0"/>
<line x1="2039.4" y1="797.9" x2="2047.0" y2="797.9" stroke="#fff" stroke-width="2.0"/>
<path d="M2037,805 Q2024,812 2018,828" fill="none" stroke="#2a2ae0" stroke-width="1.6"/>
<polygon points="2015.0,827.0 2021.0,827.0 2018.0,833.0" fill="#2a2ae0"/>
<text x="2040.7" y="873.6" font-size="20">PVK</text>
<text x="1968.8" y="903.9" font-size="20">WS<tspan font-size="13" dy="5">2</tspan></text>
<rect x="2035.7" y="916.0" width="62.0" height="5.5" fill="#1a8a50"/>
<rect x="1965.0" y="945.5" width="61.3" height="5.5" fill="#e83cc8"/>
<circle cx="2045.0" cy="929.1" r="6.2" fill="#ee2020"/>
<line x1="2041.2" y1="929.1" x2="2048.8" y2="929.1" stroke="#fff" stroke-width="2.0"/>
<line x1="2045.0" y1="925.3" x2="2045.0" y2="932.9" stroke="#fff" stroke-width="2.0"/>
<circle cx="2064.7" cy="929.1" r="6.2" fill="#ee2020"/>
<line x1="2060.9" y1="929.1" x2="2068.5" y2="929.1" stroke="#fff" stroke-width="2.0"/>
<line x1="2064.7" y1="925.3" x2="2064.7" y2="932.9" stroke="#fff" stroke-width="2.0"/>
<circle cx="2019.3" cy="959.4" r="6.2" fill="#ee2020"/>
<line x1="2015.5" y1="959.4" x2="2023.1" y2="959.4" stroke="#fff" stroke-width="2.0"/>
<line x1="2019.3" y1="955.6" x2="2019.3" y2="963.2" stroke="#fff" stroke-width="2.0"/>
<path d="M2025,959 Q2040,952 2044,940" fill="none" stroke="#ee2020" stroke-width="1.6"/>
<polygon points="2041.0,941.0 2047.0,941.0 2045.0,935.0" fill="#ee2020"/>
<text x="1944.8" y="1005.2" font-size="20">g</text>
<text x="2001.6" y="1006.5" font-size="21" fill="#1414dd">Type-I</text>
<rect x="1965.0" y="1038.6" width="62.0" height="5.0" fill="#e83cc8"/>
<rect x="2029.9" y="1057.7" width="61.3" height="5.0" fill="#8a8a8a"/>
<circle cx="2014.2" cy="1026.7" r="6.2" fill="#2a2ae0"/>
<line x1="2010.4" y1="1026.7" x2="2018.0" y2="1026.7" stroke="#fff" stroke-width="2.0"/>
<circle cx="2049.5" cy="1050.2" r="6.2" fill="#2a2ae0"/>
<line x1="2045.7" y1="1050.2" x2="2053.3" y2="1050.2" stroke="#fff" stroke-width="2.0"/>
<circle cx="2066.7" cy="1050.2" r="6.2" fill="#2a2ae0"/>
<line x1="2062.9" y1="1050.2" x2="2070.5" y2="1050.2" stroke="#fff" stroke-width="2.0"/>
<path d="M2021,1029 Q2034,1031 2042,1044" fill="none" stroke="#2a2ae0" stroke-width="1.6"/>
<polygon points="2039.0,1043.0 2045.0,1042.0 2044.0,1048.0" fill="#2a2ae0"/>
<text x="1968.8" y="1108.7" font-size="20">WS<tspan font-size="13" dy="5">2</tspan></text>
<text x="2041.0" y="1105.0" font-size="20">PVK</text>
<rect x="2029.9" y="1140.8" width="61.3" height="5.0" fill="#8a8a8a"/>
<rect x="1965.0" y="1165.0" width="62.0" height="5.0" fill="#e83cc8"/>
<circle cx="2048.8" cy="1154.2" r="6.2" fill="#ee2020"/>
<line x1="2045.0" y1="1154.2" x2="2052.6" y2="1154.2" stroke="#fff" stroke-width="2.0"/>
<line x1="2048.8" y1="1150.4" x2="2048.8" y2="1158.0" stroke="#fff" stroke-width="2.0"/>
<circle cx="2069.7" cy="1154.2" r="6.2" fill="#ee2020"/>
<line x1="2065.9" y1="1154.2" x2="2073.5" y2="1154.2" stroke="#fff" stroke-width="2.0"/>
<line x1="2069.7" y1="1150.4" x2="2069.7" y2="1158.0" stroke="#fff" stroke-width="2.0"/>
<circle cx="2016.2" cy="1179.4" r="6.2" fill="#ee2020"/>
<line x1="2012.4" y1="1179.4" x2="2020.0" y2="1179.4" stroke="#fff" stroke-width="2.0"/>
<line x1="2016.2" y1="1175.6" x2="2016.2" y2="1183.2" stroke="#fff" stroke-width="2.0"/>
<path d="M2023,1178 Q2038,1172 2045,1161" fill="none" stroke="#ee2020" stroke-width="1.6"/>
<polygon points="2042.0,1162.0 2048.0,1162.0 2046.0,1156.0" fill="#ee2020"/>
</svg></body></html>
